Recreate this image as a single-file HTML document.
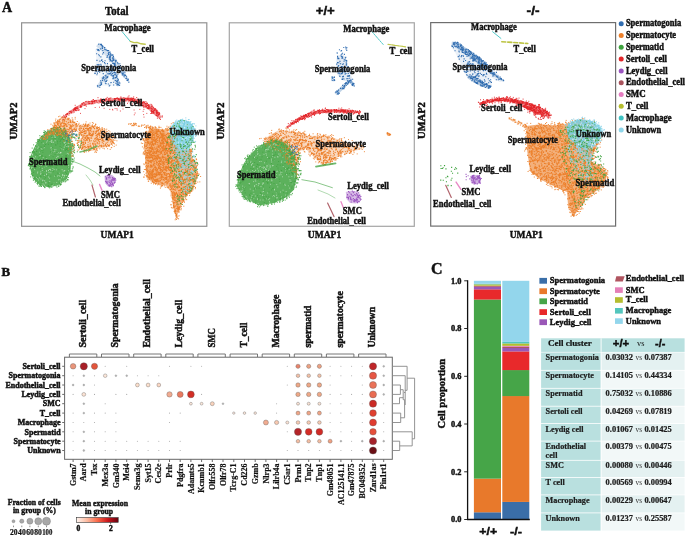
<!DOCTYPE html>
<html><head><meta charset="utf-8"><title>Figure</title>
<style>
html,body{margin:0;padding:0;background:#fff;}
body{width:685px;height:537px;overflow:hidden;}
svg{display:block;}
text{stroke:#111;stroke-width:0.45px;}
text.n{stroke:none;}
text.t{stroke-width:0.2px;}
</style></head><body>
<svg width="685" height="537" viewBox="0 0 685 537" font-family="'Liberation Serif','Times New Roman',serif" font-weight="bold" fill="#111">
<rect width="685" height="537" fill="#fff"/>
<text x="2" y="12" font-size="14">A</text>
<text x="105" y="15.3" font-size="12.3" textLength="23.6" lengthAdjust="spacingAndGlyphs">Total</text>
<text x="315.7" y="14.8" font-size="12.8" textLength="19.1" lengthAdjust="spacingAndGlyphs" font-family="'Liberation Sans',Arial,sans-serif">+/+</text>
<text x="526.6" y="14.8" font-size="12.8" textLength="13" lengthAdjust="spacingAndGlyphs" font-family="'Liberation Sans',Arial,sans-serif">-/-</text>
<text x="16.8" y="139.6" font-size="9.6" textLength="37.2" lengthAdjust="spacingAndGlyphs" transform="rotate(-90 16.8 139.6)">UMAP2</text>
<text x="224" y="139.6" font-size="9.6" textLength="37.2" lengthAdjust="spacingAndGlyphs" transform="rotate(-90 224 139.6)">UMAP2</text>
<text x="425.5" y="138.9" font-size="9.6" textLength="36.7" lengthAdjust="spacingAndGlyphs" transform="rotate(-90 425.5 138.9)">UMAP2</text>
<text x="100.6" y="238.4" font-size="11" textLength="33.2" lengthAdjust="spacingAndGlyphs">UMAP1</text>
<text x="307.8" y="238.2" font-size="11" textLength="33.4" lengthAdjust="spacingAndGlyphs">UMAP1</text>
<text x="509.7" y="237.9" font-size="11" textLength="33.1" lengthAdjust="spacingAndGlyphs">UMAP1</text>
<polygon points="50,131 54,124 60,118 66,117 72,120 77,124 76,130 70,133 62,135 55,135" fill="#ec7f2a" opacity="0.35"/>
<path d="M58.7 119.7h1.1M67.6 118.3h1.1M64.5 123.6h1.1M61.5 131.9h1.1M65.6 124.1h1.1M73.2 122.2h1.1M58.3 131.7h1.1M54.9 127.5h1.1M67.3 123.7h1.1M64.8 118.1h1.1M68.4 124.7h1.1M58.5 127.5h1.1M62.2 122.4h1.1M71.4 129.6h1.1M56.6 127.3h1.1M64.2 132.8h1.1M69.7 122.2h1.1M61.3 130.6h1.1M54.1 125.8h1.1M70.6 127.3h1.1M73.6 122.6h1.1M68.8 127.7h1.1M65.7 125.2h1.1M62.8 129h1.1M51.6 129.6h1.1M72.2 122.1h1.1M60.4 129h1.1M51.6 130.8h1.1M60.6 132.7h1.1M64.8 132.9h1.1M57.5 124.5h1.1M59.7 132.9h1.1M56.3 125.7h1.1M65.9 121.7h1.1M60 127.2h1.1M75.7 129.4h1.1M63.9 128.1h1.1M60.6 124.2h1.1M52.8 128.4h1.1M66.6 119.7h1.1M56.8 123.3h1.1M59.8 119.2h1.1M62.6 125.7h1.1M59.3 121.8h1.1M64.3 119.6h1.1M64.7 117.5h1.1M73.3 129.5h1.1M57.1 123.6h1.1M54.5 130.9h1.1M64.4 131h1.1M58.9 121h1.1M72.1 130.3h1.1M56.1 126.3h1.1M57 129.5h1.1M75.8 125.1h1.1M75.8 123.6h1.1M66.8 133.2h1.1M72.7 125.6h1.1M67.6 131.4h1.1M52.3 128.9h1.1M70.3 125.6h1.1M54.8 131.2h1.1M59 131.4h1.1M76.2 124.1h1.1M60.8 134h1.1M69.6 120.1h1.1M53.9 131.9h1.1M59.5 126.9h1.1M76.2 128.7h1.1M64.2 133.8h1.1M61.7 132.7h1.1M72.3 120.8h1.1M56.8 122.3h1.1M56.5 127.6h1.1M57 124.5h1.1M53.5 133.4h1.1M59.6 125.2h1.1M65.8 133.3h1.1M61.4 133.5h1.1M63.5 126.6h1.1M64.1 117.3h1.1M61.9 120.3h1.1M54.7 125.5h1.1M69.6 127h1.1M58.8 126.3h1.1M65 131.1h1.1M52.9 127.1h1.1M56.7 122h1.1M70.9 126.1h1.1M65.2 130.7h1.1M74.6 125h1.1M66.5 126.1h1.1M63.8 129.5h1.1M62.2 126.6h1.1M62.9 133.9h1.1M68.9 132.8h1.1M65.1 134h1.1M52 129.1h1.1M54.2 129.9h1.1M67.8 119.6h1.1M55.9 134.1h1.1M60.8 125.8h1.1M54.4 124.8h1.1M63.9 123.1h1.1M55.3 122.7h1.1M65 124.9h1.1M66.8 126.2h1.1M51.1 131h1.1M61.4 133.4h1.1M72.1 121.7h1.1M54 133.5h1.1M65.4 129.6h1.1M68.6 124.7h1.1M67.1 131.4h1.1M52.3 132.4h1.1M62.3 123.1h1.1M64.9 133.7h1.1M64.2 121.3h1.1M58.4 122.5h1.1M70.5 122.2h1.1M63.5 120.2h1.1M69.8 126.9h1.1M55.1 125.5h1.1M72.1 124.8h1.1M63.4 132h1.1M60.6 126.1h1.1M59.3 132h1.1M69.1 128.4h1.1M60.9 123.3h1.1M51.9 130.3h1.1M52.3 132.1h1.1M73.5 129.1h1.1M57.6 121.4h1.1M57.9 125.3h1.1M54.3 125h1.1M57.1 134.3h1.1M76.3 126.8h1.1M56.6 134.4h1.1M58.4 123.4h1.1M62.8 126h1.1M55.4 126.1h1.1M58.2 121.2h1.1M65.8 126.5h1.1M70.3 128.8h1.1M69.3 132.8h1.1M60.5 122.9h1.1M69.6 128.6h1.1M74.1 128.3h1.1M69.8 131.6h1.1M53.8 126.4h1.1M63.6 132h1.1M71.7 131.9h1.1M65.8 133.1h1.1M68.4 129.5h1.1M52.8 132h1.1M65.1 128.3h1.1M66.9 129.3h1.1M71.5 130.5h1.1M63.6 126.6h1.1M67.8 118.2h1.1M69.9 121.5h1.1M69.7 120.7h1.1M63.3 123.9h1.1M62.9 129.3h1.1M70.7 128.1h1.1M67.4 118.4h1.1M70.1 122.5h1.1M65.3 117.2h1.1M68.1 129.5h1.1M68.2 122.2h1.1M63.9 125.4h1.1M62.6 119.1h1.1M62.1 121.8h1.1M55.7 134h1.1M55.7 127.5h1.1M53.8 126.4h1.1M72.1 126.2h1.1M73.9 129.7h1.1M56.2 133.2h1.1M62.2 122.4h1.1M58.5 132.1h1.1M75 129.8h1.1M74.3 122.2h1.1M60 124.1h1.1M59.7 124.7h1.1M52.7 132h1.1M57.7 133.8h1.1M56.7 121.8h1.1M63.8 120.4h1.1M60.1 134.2h1.1M67 133.4h1.1M75.4 126.9h1.1M69.8 125.1h1.1M70.3 128.6h1.1M62.7 123.2h1.1M58 130.3h1.1M67.7 122.4h1.1M65 124.1h1.1M55.6 133.3h1.1M63.4 121h1.1" stroke="#ec7f2a" stroke-width="1.1" opacity="1.0" fill="none"/>
<path d="M61.7 116.6h1.0M76.9 125.4h1.0M52.9 133.7h1.0M74.7 119h1.0M79.3 125.9h1.0M53.8 123.8h1.0M55.8 122.1h1.0M59 136.9h1.0M58.7 136.3h1.0M57.1 120.2h1.0M72.3 119.4h1.0M75.6 130.3h1.0M59 135.5h1.0M53.6 122.6h1.0M68.8 118.3h1.0M68.4 115.4h1.0M60.2 136h1.0M63.7 116.8h1.0M64.2 137.1h1.0M80.1 125.6h1.0M67.7 134.4h1.0M53.6 123.4h1.0M59.4 116.2h1.0M50.1 128.6h1.0M52.3 125.3h1.0M50.5 124.2h1.0M47.4 129.5h1.0M71.7 133.2h1.0M59.2 137.7h1.0M71.6 134.2h1.0M51.9 133.4h1.0M58.6 135.7h1.0M66.3 135.9h1.0M61.5 117.6h1.0M54.7 136.5h1.0M53.6 135.9h1.0M76.8 121.5h1.0M58.1 116.7h1.0M49.4 132.7h1.0M74.7 117.4h1.0M59.8 136.2h1.0M51 128.7h1.0M75.8 130.7h1.0M73.4 131.5h1.0M78.9 126.7h1.0M58.4 135.1h1.0M60.9 117.8h1.0M61.4 136h1.0M55.3 119.1h1.0M64.9 135.4h1.0M60.7 138h1.0M57.9 135.4h1.0M57.1 120.8h1.0M55 120.9h1.0M65.9 114h1.0M78.2 124.6h1.0M49.6 129.8h1.0M71.7 117.9h1.0M73.1 131.6h1.0M62.1 137.2h1.0" stroke="#ec7f2a" stroke-width="1.0" opacity="0.9" fill="none"/>
<polygon points="78,125 86,123.5 94,125.5 100,128 106,132 112,137 114,143 108,147 100,148 92,151 84,151 80,146 82,138 79,131" fill="#ec7f2a" opacity="0.33"/>
<path d="M112.7 143.2h1.1M101.4 146h1.1M80.9 132.1h1.1M109 136.9h1.1M80.2 133.6h1.1M98.7 135.6h1.1M106.7 133.5h1.1M101.2 140.8h1.1M93 134.1h1.1M106.2 139.1h1.1M88.5 125.2h1.1M113.1 142.8h1.1M107.9 140h1.1M89.1 135.3h1.1M102.7 140h1.1M87.5 135.1h1.1M99.1 145.9h1.1M108 145.8h1.1M109.2 139.2h1.1M87.9 146.9h1.1M107.1 142.3h1.1M86.4 140.2h1.1M102.4 136.3h1.1M85.4 130.5h1.1M105 145.3h1.1M94.5 125.9h1.1M107 144.7h1.1M86.4 139.4h1.1M96.8 136.6h1.1M99.2 128.7h1.1M84.9 128.5h1.1M103.2 133.5h1.1M98.3 134.6h1.1M96.6 127.6h1.1M91.5 126.4h1.1M100.8 145.2h1.1M83.6 139.9h1.1M90.4 137.8h1.1M95.5 139.1h1.1M87.4 144.9h1.1M93.3 149.5h1.1M105.6 146h1.1M79.4 129h1.1M84.5 125.8h1.1M109.3 136.1h1.1M92.3 126.8h1.1M98.3 141.1h1.1M112.4 141.9h1.1M92.2 135.8h1.1M83.8 150.1h1.1M79.4 130.5h1.1M90.7 148.3h1.1M103.5 141.3h1.1M83.2 144.3h1.1M111.8 142.1h1.1M88.8 139.8h1.1M89.7 130.6h1.1M82.5 136.7h1.1M84.1 130.1h1.1M83.2 142.1h1.1M85 124.5h1.1M94.1 126.2h1.1M100.6 135.9h1.1M90.2 146.1h1.1M95.2 140.8h1.1M83.1 129.6h1.1M97.9 127.5h1.1M92.8 127.8h1.1M87.8 146.6h1.1M90 128.1h1.1M95.7 132.2h1.1M110.2 141.9h1.1M85.6 136.6h1.1M88.3 130.6h1.1M85.3 133.5h1.1M88.4 148.1h1.1M88.6 150.4h1.1M90.3 127.4h1.1M97 128.6h1.1M93.7 148.6h1.1M85.9 139.2h1.1M83 128.5h1.1M105.7 143.1h1.1M85.1 125.7h1.1M95.8 131h1.1M85.4 140.3h1.1M103.5 145.8h1.1M99 129.1h1.1M92.7 143.3h1.1M90.1 146.7h1.1M109.1 137.1h1.1M95.2 147.5h1.1M87.6 128.6h1.1M83.9 133.7h1.1M96.7 135.8h1.1M96.6 126.8h1.1M103.7 146h1.1M103.6 134h1.1M95.8 137.6h1.1M97.1 138.3h1.1M86.1 128.5h1.1M81.7 130.4h1.1M81.5 142.7h1.1M85 124h1.1M99.6 139.4h1.1M96.8 142.8h1.1M81.7 147.4h1.1M82.4 137.1h1.1M96 131.2h1.1M82.4 134.7h1.1M82.9 139.8h1.1M98.6 144h1.1M83.9 146.2h1.1M93.1 146.6h1.1M96.9 134.4h1.1M90.2 130.1h1.1M90.1 135.5h1.1M93.2 140.9h1.1M91.1 138.1h1.1M100.8 145.8h1.1M87.6 142.2h1.1M87.8 138.4h1.1M111.3 140.6h1.1M87 137.8h1.1M93.6 149.6h1.1M88.4 131.9h1.1M96.5 130.9h1.1M94.8 138.2h1.1M83.3 126.9h1.1M82.7 131.6h1.1M92.6 131.4h1.1M86.8 125.9h1.1M97.7 146.6h1.1M100 139.2h1.1M101.4 129h1.1M103.6 136.2h1.1M97.7 140.4h1.1M94.9 132h1.1M86.7 129.6h1.1M96.4 134h1.1M90.7 147.2h1.1M86.6 138.8h1.1M95.7 131.3h1.1M92 135.6h1.1M86.1 149.9h1.1M90.1 133.2h1.1M102.3 140.4h1.1M108.6 146.1h1.1M96.6 143.8h1.1M104.8 144.4h1.1M95.1 145.1h1.1M82.6 147.4h1.1M99.1 137.2h1.1M112.7 139.2h1.1M93 145.1h1.1M109.4 140.2h1.1M91.7 135.9h1.1M94.5 143.4h1.1M88.5 134.2h1.1M98 134.1h1.1M89.6 145.1h1.1M108.6 137.2h1.1M94 128.6h1.1M88.9 127.5h1.1M98.7 139.5h1.1M89.7 146.7h1.1M85.4 135.2h1.1M95.9 148.8h1.1M105.8 138.3h1.1M96.6 142.3h1.1M92 133.3h1.1M99.4 133.2h1.1M112.1 142.1h1.1M91.5 134.5h1.1M98.2 139.3h1.1M95.5 135.6h1.1M90.4 138.1h1.1M89.5 150.4h1.1M107.7 137.6h1.1M82 148.1h1.1M102.8 146.1h1.1M93.2 127.8h1.1M88.4 137.6h1.1M96.2 128.7h1.1M84.6 140.8h1.1M99.7 133.2h1.1M89 146.7h1.1M99.1 141.9h1.1M85.1 137.2h1.1M97.9 130.8h1.1M101.3 138.1h1.1M92.8 126.8h1.1M83.6 144.4h1.1M81.8 126.3h1.1M84.1 137.9h1.1M107.6 140.4h1.1M89.6 143.2h1.1M90.7 128.2h1.1M87.6 126.2h1.1M110.5 139.5h1.1M90.6 135.9h1.1M91.9 125h1.1M110.1 139.5h1.1M100.3 130.4h1.1M88.9 140.1h1.1M92 143.3h1.1M86 132h1.1M109.5 136.8h1.1M84.2 133.4h1.1M84.7 150.2h1.1M88.5 138.9h1.1M82.1 138.2h1.1M91.9 134.6h1.1M80.4 126.9h1.1M86.8 128.8h1.1M88.2 130h1.1M90.3 127.8h1.1M87.7 146.5h1.1M82.6 135.7h1.1M108.1 145.6h1.1M83.7 133.2h1.1M104 133.9h1.1M86.2 135.9h1.1M82.7 142.9h1.1M87.4 148.2h1.1M99.2 133.6h1.1M86.9 140.2h1.1M85.7 147.5h1.1M82.4 137.6h1.1M97.5 130.9h1.1M105.8 134.1h1.1M101.7 139.1h1.1M89.2 134.2h1.1M81.1 128.4h1.1M98.2 133.4h1.1M96 131.7h1.1M80.4 132.1h1.1M86.2 127h1.1M103.8 131.3h1.1M92.5 148.5h1.1M88 124.3h1.1M102.5 141.7h1.1M90.7 134.8h1.1M101.7 142.7h1.1M86.9 146.8h1.1M90.7 140.8h1.1M84.5 126.7h1.1M110.9 143.7h1.1M79.4 128h1.1M85.1 131.8h1.1M89.2 141.1h1.1M84.5 146.6h1.1M98.5 143.2h1.1M87.2 135.5h1.1M102.6 133.1h1.1M86.8 126.6h1.1M110.9 144.1h1.1M81.1 142.6h1.1M92.2 144.1h1.1M93.3 149.1h1.1M102.9 143.8h1.1M107.9 140.8h1.1M103.1 135.3h1.1M96.4 149h1.1M82.6 144.5h1.1M101 138.5h1.1M87 125.1h1.1M90.9 134.8h1.1M85.3 132h1.1M82.9 142.9h1.1M102.1 130h1.1M86.7 137.7h1.1M94 149.2h1.1M90.7 131.7h1.1M98.3 132.7h1.1M107.4 138.6h1.1M102 140h1.1M94.6 144.6h1.1M88.4 133.4h1.1M85.4 125.2h1.1M88.1 128.9h1.1M103.3 135.8h1.1M82.1 132.4h1.1M94.9 133.5h1.1M84.1 125.5h1.1M95.6 135.4h1.1M84.8 138.4h1.1M101.2 140.8h1.1M111.7 141.4h1.1M87.1 130.3h1.1M83 124.3h1.1M105.9 146.6h1.1M88.7 128.6h1.1M101 146.8h1.1M106.2 146.3h1.1M104.7 132.5h1.1M84.6 146.2h1.1M89.5 133.6h1.1M97.8 133.7h1.1M100.6 146h1.1M112 137.1h1.1M96 127.8h1.1M88.8 139.5h1.1M83.9 135.7h1.1M84.9 143.4h1.1M108.8 145.1h1.1M93.3 131.3h1.1M101.8 137.7h1.1M93.2 132.8h1.1M93.8 141.8h1.1M83.9 131.6h1.1M94 139h1.1M90.5 128.9h1.1M81.1 132.4h1.1M100.3 145.8h1.1M99.9 131.7h1.1M95.3 141.3h1.1M88.8 132.9h1.1M84.8 142.2h1.1M94.1 125.8h1.1M101.8 133.7h1.1M98.9 135h1.1M97.1 139h1.1M92.3 126.6h1.1M84.5 148h1.1M87.1 137h1.1M97.9 129.7h1.1M96.5 139.7h1.1M80.9 134.7h1.1M109.1 138.6h1.1" stroke="#ec7f2a" stroke-width="1.1" opacity="1.0" fill="none"/>
<path d="M110.5 133.4h1.0M80 147.1h1.0M103.9 148.8h1.0M115.7 145.1h1.0M103.7 128.5h1.0M78.9 147.9h1.0M82 148.5h1.0M81 149.5h1.0M77.3 131.2h1.0M113.3 140.4h1.0M80.4 143.3h1.0M104 130.3h1.0M112.3 135.6h1.0M114.5 140.2h1.0M95.3 151.4h1.0M116.4 140.8h1.0M105.9 131.2h1.0M109.8 134.5h1.0M75.2 124.3h1.0M88.2 151.6h1.0M101.6 127.5h1.0M107.1 148.7h1.0M92.9 123.2h1.0M95.4 124.3h1.0M106.2 129.2h1.0M85.6 121.9h1.0M104.5 131h1.0M85.7 151.8h1.0M81.6 148.7h1.0M102.5 148.3h1.0M113.7 146.4h1.0M79 148.9h1.0M95.8 152.5h1.0M95.3 150.2h1.0M84 152.3h1.0M78.3 142.5h1.0M95.1 124.8h1.0M79.2 136.1h1.0M112.3 137.3h1.0M94.3 152.2h1.0M91.9 122.6h1.0M111.2 147.4h1.0M114 143.8h1.0M110.8 147.7h1.0M77.9 129.1h1.0M83.9 151.1h1.0M82.3 149h1.0M89.5 123.1h1.0M80.4 140.4h1.0M102.2 129.5h1.0M104.4 129.4h1.0M99.3 148.8h1.0M96.7 150.6h1.0M83 151.8h1.0M108.3 130.7h1.0M114.4 138.3h1.0M101.7 128.7h1.0M78.9 130.4h1.0M106.7 131.6h1.0M109.5 131.9h1.0M96.1 149.7h1.0M80.7 143.3h1.0M99 127.2h1.0M95 124.2h1.0M76.8 126.8h1.0M112 145.1h1.0M78.5 123.3h1.0M109.7 149.4h1.0M113 136.7h1.0M78.6 140.5h1.0" stroke="#ec7f2a" stroke-width="1.0" opacity="0.9" fill="none"/>
<path d="M69.6 139h1.1M76.5 143.3h1.1M78.7 138.6h1.1M67 139.3h1.1M73.2 144.1h1.1M78.8 133.8h1.1M77.7 144.6h1.1M74.5 131.4h1.1M82.4 142.4h1.1M67.1 133.7h1.1M73.1 146.9h1.1M80.8 143.2h1.1M79.3 128.9h1.1M66.9 133.8h1.1M77.5 150.1h1.1M70.7 131.7h1.1M78.8 132.5h1.1M80.5 131.9h1.1M75.2 130.5h1.1M81.3 141.3h1.1M80.8 140.1h1.1M77.2 142.3h1.1M67 141.1h1.1M71.2 137.5h1.1M80.6 139h1.1M68.2 143.6h1.1M69.7 138.3h1.1M75.8 136.5h1.1M81.3 148.4h1.1M67.8 136.8h1.1M71.4 146.3h1.1M68.7 142.6h1.1M83.6 146.5h1.1M68 144.6h1.1M76.8 140.5h1.1M74.2 137.8h1.1M77 143.6h1.1M82.5 145.6h1.1M81.1 145.2h1.1M81.3 138.3h1.1M78.7 134.1h1.1M71.4 136.4h1.1M71.8 130.3h1.1M79.7 148.1h1.1M70.9 134h1.1M79.9 146.6h1.1M82 147.1h1.1M75.6 130.5h1.1M80.9 135.5h1.1M77.3 136.8h1.1M68.9 140.7h1.1M77.7 140.9h1.1M82.4 144.6h1.1M69.8 134.9h1.1M70.7 145.2h1.1M73.9 144.5h1.1M78.4 145.9h1.1M79.6 134h1.1M78.4 133h1.1M77.6 142.2h1.1M77.8 142.3h1.1M78.5 135.3h1.1M66.3 136.7h1.1M68.6 130.7h1.1M78.4 134.6h1.1M79.8 132.3h1.1M67.8 135.3h1.1M73.4 144.5h1.1M74 145.5h1.1M72.2 148h1.1" stroke="#ec7f2a" stroke-width="1.1" opacity="0.85" fill="none"/>
<path d="M78.1 147.4h1.1M65.2 147.2h1.1M73.7 147.2h1.1M65.6 135.3h1.1M69.7 147h1.1M73.4 137.1h1.1M79.1 135h1.1M76.5 135.2h1.1M77.8 137.8h1.1M69.3 144h1.1M64.2 137.7h1.1M77.9 138.6h1.1M69.6 149.6h1.1M66.5 136.5h1.1M66.4 140.8h1.1M69.3 146.8h1.1M71.4 152h1.1M78.7 137.4h1.1M64.3 142.6h1.1M76.2 134.2h1.1M64.4 143h1.1M65.5 137.3h1.1M70.8 134.7h1.1M63.4 140.3h1.1M71.4 153.5h1.1M73.1 133.6h1.1M66.4 149.1h1.1M73.3 152h1.1M72.5 137.5h1.1M66.2 133.9h1.1M71.2 148.8h1.1M63.5 142.4h1.1M68.4 136.7h1.1M75.3 140.3h1.1M71.6 136.1h1.1M71.4 149h1.1M72.7 137.4h1.1M72 145.9h1.1M75 135.3h1.1M76.8 151.7h1.1M69.4 152.8h1.1M65.6 137.2h1.1M74 152.7h1.1M63.6 137h1.1M62.7 142.1h1.1M64.8 136.4h1.1M77 145.4h1.1M80.8 141.2h1.1M71.5 143.8h1.1M81 143.3h1.1M71.1 137.2h1.1M70.1 139.9h1.1M69.5 135.7h1.1M74.2 137.9h1.1M71.1 144.9h1.1M76.2 135.2h1.1M66.8 134.8h1.1M64.7 144h1.1M73.6 152.4h1.1M65.4 145.5h1.1M71 141.4h1.1M79.8 147.2h1.1M79.4 141.7h1.1M72.6 151.5h1.1M78.1 147h1.1M72.3 134.7h1.1M66.9 147.1h1.1M73.7 150.4h1.1M80 145.1h1.1M65.6 147.9h1.1" stroke="#3da23d" stroke-width="1.1" opacity="0.85" fill="none"/>
<path d="M134.4 124.6h1.1M146.7 127h1.1M145.9 127.1h1.1M133.2 125.6h1.1M152.3 128.7h1.1M133.6 124.4h1.1M134.7 123.3h1.1M131.4 125.6h1.1M142.6 125.3h1.1M145.8 125.8h1.1M132.1 125.4h1.1M152.3 127.8h1.1M149.1 127.1h1.1M144 127.5h1.1M150.1 126.7h1.1M133 123.2h1.1M134.9 123.5h1.1M128.1 124.2h1.1M133.8 124.7h1.1M128.5 123.8h1.1M151.6 129.1h1.1M131.7 125.2h1.1M141.2 125.1h1.1M138.5 126.1h1.1M134.5 123.4h1.1M130.1 124.1h1.1M148 127.6h1.1M145.9 128.1h1.1M134.1 124.7h1.1M138.7 126.4h1.1M145.4 126.9h1.1M134.6 124.1h1.1M148.9 127.5h1.1M152.2 128h1.1M135.8 125.1h1.1M150.1 126h1.1M133 123.8h1.1M140.8 126.3h1.1M130.7 123.5h1.1M137.8 126.1h1.1M133.6 125.1h1.1M147.4 125.4h1.1M151.6 126.9h1.1M144.1 124.8h1.1M135.6 123.5h1.1" stroke="#ec7f2a" stroke-width="1.1" opacity="0.9" fill="none"/>
<polygon points="144,142 146,134 150,128.4 156,128 162.7,129.4 167,129 170,134 173,143 180,149 188,150 192,150 191.4,156 195.5,163.2 198.5,175.5 193.4,187.7 185.2,195.9 180.1,208.2 176,218.4 173,206.2 170.9,191.8 165.8,185.7 154.5,183.7 146.4,177.5 145.3,161.1" fill="#ec7f2a" opacity="0.55"/>
<path d="M167.8 135.7h1.1M165.5 136.5h1.1M151.4 137.6h1.1M147.8 142.8h1.1M173 203.3h1.1M153.2 143.7h1.1M185.7 166.5h1.1M162.4 139.1h1.1M150.4 151.5h1.1M193.3 170.7h1.1M159.7 170.1h1.1M183 194.4h1.1M151.1 145.5h1.1M188.3 158.6h1.1M157.5 151.1h1.1M161.5 143.6h1.1M184.6 158.9h1.1M154.2 165.8h1.1M185.6 182.8h1.1M188.6 152h1.1M163.9 161.9h1.1M163.2 162.2h1.1M150 148.5h1.1M193.6 165.1h1.1M178.7 208.2h1.1M185.2 150.1h1.1M151.3 176.7h1.1M184.6 189.2h1.1M191.4 177.5h1.1M168.8 158.7h1.1M162.6 150.5h1.1M149.5 157.6h1.1M156.4 134.4h1.1M154.8 169.8h1.1M178.5 208.9h1.1M184 156.2h1.1M191.6 179.8h1.1M189.2 174.9h1.1M170.4 165.6h1.1M192 188.2h1.1M155.3 160.8h1.1M176.2 167.1h1.1M183.1 166.8h1.1M149 175.3h1.1M163.4 148.1h1.1M160.4 157.7h1.1M173.8 173.2h1.1M174.6 199.9h1.1M174.1 196.7h1.1M191.3 160.7h1.1M196 174.2h1.1M194.8 178.6h1.1M187.8 166.3h1.1M176.8 151.4h1.1M159 166h1.1M172 170.3h1.1M157.9 174.7h1.1M153.6 182.5h1.1M175.9 193.2h1.1M184.8 192.4h1.1M182.7 152.6h1.1M168.1 135.8h1.1M169.1 185.7h1.1M185.8 150.2h1.1M154.8 142.6h1.1M166.4 183.9h1.1M160.5 142.6h1.1M155.9 135.7h1.1M154.5 156.5h1.1M171.5 144.6h1.1M170.1 167.8h1.1M197 172h1.1M195.5 170.6h1.1M154.8 181.5h1.1M151.9 143.3h1.1M163.3 166.4h1.1M165.4 141.8h1.1M191.1 179.8h1.1M183.7 160h1.1M178.3 211.2h1.1M165.9 167.1h1.1M160.3 178.1h1.1M180.1 194.4h1.1M187.1 181.3h1.1M180.9 158.7h1.1M195.5 177.7h1.1M165.9 144.5h1.1M161.6 171.4h1.1M171 160.9h1.1M192.8 159.6h1.1M178.8 171.1h1.1M162.1 163h1.1M177.2 199.1h1.1M158.2 161.5h1.1M165.1 160.8h1.1M193.8 176.7h1.1M159 158h1.1M154.5 133.4h1.1M156.4 133.2h1.1M195.6 177.8h1.1M194.4 167.2h1.1M190.8 162.9h1.1M185.1 182h1.1M147 139.2h1.1M152.8 144.4h1.1M177.2 188.8h1.1M165.3 150.9h1.1M153.5 144.3h1.1M152.3 159.7h1.1M172.9 189.5h1.1M145.8 167.7h1.1M187.1 180h1.1M176.8 158.5h1.1M153.5 162.7h1.1M187.5 165.4h1.1M180.5 179.5h1.1M183.7 165h1.1M194.6 183.6h1.1M161.2 162h1.1M181.5 156.8h1.1M185.3 151.7h1.1M190.7 172.2h1.1M185.5 179.8h1.1M193.4 181h1.1M149.6 153h1.1M159.1 161.5h1.1M175.2 201.1h1.1M185.3 169.2h1.1M191.1 164.3h1.1M195.8 170.7h1.1M173.5 194.9h1.1M164.5 150.5h1.1M170 135.9h1.1M183.7 159h1.1M150.5 144.8h1.1M171.3 158.4h1.1M186 185h1.1M173 205.3h1.1M168.2 136.9h1.1M181.2 195.3h1.1M156.6 169.9h1.1M181.3 178.1h1.1M166.1 143.2h1.1M151.5 170.5h1.1M170.9 152.2h1.1M164 178.1h1.1M185.5 181.3h1.1M175.7 215.4h1.1M165 177.5h1.1M161.1 130.6h1.1M155.1 139.2h1.1M181.4 160.8h1.1M173.6 206h1.1M180.5 160.6h1.1M177 155.1h1.1M155.2 173.9h1.1M180.5 189.9h1.1M181 192.5h1.1M161.1 179.4h1.1M193.2 181.3h1.1M155 144.2h1.1M192 174.6h1.1M184.7 152.4h1.1M152.1 160.9h1.1M178 187.1h1.1M174 160.5h1.1M151.7 142.3h1.1M152.1 181.2h1.1M171.4 179.9h1.1M174.5 165.3h1.1M147.2 166.2h1.1M157.2 136.4h1.1M170 163h1.1M189.5 168.9h1.1M147.8 135.4h1.1M162.1 136h1.1M179.4 166.3h1.1M160.8 174.3h1.1M152.4 155.6h1.1M182.5 166.8h1.1M153 132.1h1.1M171.6 158.3h1.1M183.1 174.2h1.1M167.6 187.8h1.1M165.7 145.9h1.1M156.1 164.2h1.1M181.5 166.9h1.1M152.5 134.4h1.1M171.4 172.2h1.1M188.4 170.8h1.1M151.7 171.7h1.1M182 180.3h1.1M183 200.4h1.1M150.2 157.1h1.1M183.4 159.5h1.1M181.9 161.2h1.1M182.8 153h1.1M150.3 162.4h1.1M146.3 160h1.1M176.1 215.6h1.1M174.8 145.8h1.1M172.3 171.7h1.1M162.4 161.8h1.1M171.8 181.2h1.1M156.1 153.1h1.1M171.4 173.6h1.1M154.1 176.1h1.1M182.4 198.6h1.1M172.2 150.5h1.1M194.4 174.2h1.1M164.4 154.3h1.1M188.6 171.6h1.1M168.6 160.4h1.1M160.7 160.5h1.1M185.1 194.3h1.1M155.3 149.1h1.1M186.7 187.2h1.1M180.9 185.4h1.1M181.8 152.7h1.1M147.3 160.6h1.1M172.6 188.6h1.1M156.5 158.5h1.1M184.2 172.1h1.1M164.1 152.4h1.1M191.3 167.7h1.1M167 156.4h1.1M152.6 153.4h1.1M192.5 166.6h1.1M164.4 138.8h1.1M193.2 167.7h1.1M165.7 181.8h1.1M157.9 129.8h1.1M165.3 162.3h1.1M185.5 158.1h1.1M181 184.5h1.1M154.3 129.8h1.1M180.8 183.2h1.1M160 146.1h1.1M156.7 181h1.1M175.3 157.1h1.1M146 157.4h1.1M179.1 182.4h1.1M155.6 156.1h1.1M166.7 160.8h1.1M190.7 150h1.1M176 162.1h1.1M188.2 152.3h1.1M186.3 171.3h1.1M164.7 148.6h1.1M178.1 198.3h1.1M189.9 177.6h1.1M149.7 151.5h1.1M185 167.8h1.1M169.2 147.2h1.1M149 161.4h1.1M167.6 173.9h1.1M153.2 174.2h1.1M170.9 161.6h1.1M191.8 160.3h1.1M162.3 183.6h1.1M174.7 153.7h1.1M164.1 138.3h1.1M179.8 176.1h1.1M161.9 157.7h1.1M190.1 158.6h1.1M163.7 164.3h1.1M180.2 168.3h1.1M166.1 149h1.1M187.1 169.3h1.1M189.3 161.9h1.1M181.2 189.1h1.1M171.1 170.7h1.1M154.8 143.6h1.1M179.2 190.7h1.1M153.4 174.1h1.1M161.1 177.8h1.1M151.3 171.7h1.1M173.8 183.7h1.1M186.5 179.7h1.1M156.1 168h1.1M189.2 179.2h1.1M185 160.9h1.1M188.8 187h1.1M192.5 167.8h1.1M189.2 190.2h1.1M173 206h1.1M162.5 130.4h1.1M162.3 134h1.1M150.6 142.4h1.1M159.9 153.2h1.1M156.4 136.3h1.1M194.4 177.9h1.1M177.4 205.9h1.1M168.8 145.8h1.1M165.6 148.3h1.1M164.1 174.1h1.1M185.1 195.4h1.1M191.7 160.3h1.1M155.4 159.4h1.1M183.9 187.5h1.1M166.1 175.4h1.1M169.7 173.8h1.1M183.4 159.9h1.1M170.3 162.1h1.1M175.5 147.7h1.1M187.5 151h1.1M189.3 177.9h1.1M176.8 184.6h1.1M186.9 189.3h1.1M188.4 167.5h1.1M154.3 137.1h1.1M166.5 174.1h1.1M152.1 148h1.1M191.2 163.1h1.1M152.1 144.5h1.1M175.5 145.2h1.1M169.9 176.6h1.1M168 173.5h1.1M175.1 176.6h1.1M156.4 179.8h1.1M179.3 161.6h1.1M179.1 190.5h1.1M152.4 177.8h1.1M146.8 150.5h1.1M148.6 150.8h1.1M148.7 172.2h1.1M157.6 155.1h1.1M169.2 161.6h1.1M187 193.3h1.1M150.2 148.2h1.1M155.4 131.3h1.1M185.3 165.2h1.1M194.7 163.5h1.1M161 134.6h1.1M195.7 174.3h1.1M168 167.5h1.1M169.9 144.1h1.1M174.5 169.7h1.1M175.3 150.2h1.1M174.4 206.2h1.1M148.4 161.4h1.1M178.4 204.2h1.1M169.6 139.8h1.1M179 187.4h1.1M168.1 157.4h1.1M176.5 158.4h1.1M160.7 177.3h1.1M183.5 161.3h1.1M153.8 163.7h1.1M171.3 165.5h1.1M150.7 175.3h1.1M164.9 167.4h1.1M189.4 163.5h1.1M185.2 153.2h1.1M150 131.8h1.1M155.1 167.8h1.1M185.6 153h1.1M152.3 174.9h1.1M174.6 165.6h1.1M145.8 168.2h1.1M175.9 192.2h1.1M150 155.3h1.1M164.5 139.4h1.1M152.2 148.1h1.1M148.4 136.2h1.1M154.6 174.8h1.1M166.7 150.8h1.1M166.2 182h1.1M176 193.2h1.1M159.1 172.9h1.1M154.2 167.5h1.1M159.3 180.9h1.1M160.3 152.8h1.1M187.7 172.8h1.1M156.5 138.4h1.1M171.7 173.6h1.1M183.2 161.8h1.1M188.4 183.3h1.1M179.3 201.2h1.1M158.1 183.7h1.1M154.6 169.8h1.1M169.9 186.7h1.1M165.3 166.4h1.1M184.4 186.8h1.1M165.9 179.5h1.1M172.1 145h1.1M169.9 156.2h1.1M152.5 179.3h1.1M155.6 158.4h1.1M149.6 142h1.1M190.2 157.7h1.1M190.3 155.4h1.1M158.6 163.7h1.1M191 161.9h1.1M156.4 150.9h1.1M145.3 137h1.1M182.7 180.6h1.1M171.5 150.3h1.1M182.8 201.2h1.1M181.9 177.7h1.1M173.4 152h1.1M165.8 145.3h1.1M182.6 179.8h1.1M186.5 184.8h1.1M176.7 211.3h1.1M188.3 179.2h1.1M164.2 137.2h1.1M186.4 168.3h1.1M161.3 137.9h1.1M177.8 201.1h1.1M151.4 172.6h1.1M187.2 185.1h1.1M153.5 134.9h1.1M170.2 165.3h1.1M196 165.4h1.1M176 149.5h1.1M160.6 172.4h1.1M171.5 157.2h1.1M155 158.3h1.1M147 166.2h1.1M189.6 191.1h1.1M175.9 180.5h1.1M158.3 184.1h1.1M147.6 177h1.1M164.5 172.5h1.1M166 137.2h1.1M176.7 206.7h1.1M180.2 153h1.1M175.4 162.3h1.1M177.6 158h1.1M174.9 210.6h1.1M174.1 193.7h1.1M170.1 185.3h1.1M173.1 191.7h1.1M164.8 148.5h1.1M182.4 175.8h1.1M177 157.4h1.1M176 214.3h1.1M157.5 174.6h1.1M165 159.3h1.1M174.4 198h1.1M158.8 172.6h1.1M189.8 163.9h1.1M147.5 157.8h1.1M152.5 140.1h1.1M187.7 173.9h1.1M186.1 185.3h1.1M181.3 189.9h1.1M190.3 179.2h1.1M159 150.7h1.1M160.7 136.9h1.1M152.7 137.6h1.1M152.8 134.6h1.1M191.6 165h1.1M162.6 149.9h1.1M187 192.6h1.1M186.7 176.1h1.1M165 154.5h1.1M155.7 157.4h1.1M178.8 171.4h1.1M195.2 168.6h1.1M174.9 206h1.1M158 151.4h1.1M149.6 173.4h1.1M170.2 162.6h1.1M164.5 139.2h1.1M178.7 194.9h1.1M160.8 174.6h1.1M159.7 168.3h1.1M178.9 206.9h1.1M188.7 161.8h1.1M185 170.3h1.1M166.4 145.8h1.1M156.1 161.9h1.1M166.6 180.1h1.1M178.5 161h1.1M149.9 134.2h1.1M172.3 180.7h1.1M166.5 159.7h1.1M166.8 143.5h1.1M195.2 181.4h1.1M173.6 166.5h1.1M157.6 156.5h1.1M170.9 168.3h1.1M155.3 132.9h1.1M152.7 159.3h1.1M168.1 176.6h1.1M181.6 162.4h1.1M160.5 134.1h1.1M174.2 187.2h1.1M156.2 132h1.1M184.2 184.5h1.1M159.2 168.3h1.1M156.7 144.8h1.1M176.5 187.1h1.1M165.4 178.8h1.1M180.6 176.1h1.1M162.2 148.9h1.1M186.7 193h1.1M160.4 149h1.1M182.4 155h1.1M183.4 159.6h1.1M185.5 179.8h1.1M161.2 146.8h1.1M186.7 177.7h1.1M185.2 172.2h1.1M155.9 170.7h1.1M180.3 197.1h1.1M178.7 168.1h1.1M183.9 188.5h1.1M155.2 176.4h1.1M176.6 193.9h1.1M154.8 156.1h1.1M162.7 136.7h1.1M149.3 150.8h1.1M172.1 152.4h1.1M181.9 178.7h1.1M162 157h1.1M154.8 166.9h1.1M189.6 155.9h1.1M158.8 147.2h1.1M150.4 161.2h1.1M150.5 144.2h1.1M157.6 180.3h1.1M168.3 155.6h1.1M172.7 198h1.1M183.5 159.1h1.1M174.6 171h1.1M162 140.1h1.1M192.3 183h1.1M182.2 149.5h1.1M173.2 203.4h1.1M163.1 173h1.1M178.1 166.4h1.1M158.9 138.6h1.1M152.1 175.8h1.1M162.4 164h1.1M154.9 177.3h1.1M184.8 182.3h1.1M183.4 156.7h1.1M181.3 165.1h1.1M194.9 162.8h1.1M187.8 170.6h1.1M188.3 155.2h1.1M190.8 189.2h1.1M183.7 182.8h1.1M167.9 181.8h1.1M188.4 152.9h1.1M158.7 131.7h1.1M180.2 180.7h1.1M151.1 165.4h1.1M166.8 133.2h1.1M181.9 172.6h1.1M170.8 141.1h1.1M166.9 152.1h1.1M157 169.6h1.1M179.3 179.5h1.1M192.5 174.2h1.1M155.7 129.5h1.1M161.9 156.3h1.1M150.8 165.8h1.1M182 194h1.1M185.3 155.3h1.1M174.2 181.8h1.1M150.4 147h1.1M184.6 186.6h1.1M186.5 174.6h1.1M174.6 211.3h1.1M179.3 187.3h1.1M176.1 172.6h1.1M185.2 179.8h1.1M151 166.5h1.1M167 167.1h1.1M174.6 160.7h1.1M165.3 166.6h1.1M183.3 163.7h1.1M168.5 181.5h1.1M164 149.6h1.1M169.4 157.3h1.1M187.4 170.5h1.1M165.1 149.1h1.1M176.4 217.1h1.1M183 169.5h1.1M151.9 133.5h1.1M188.1 188.2h1.1M194.8 183.7h1.1M166.9 150.6h1.1M150.6 148.7h1.1M162.7 179.8h1.1M161.7 167.7h1.1M183.2 157.9h1.1M161.8 182.8h1.1M150 165.1h1.1M178 185.7h1.1M162.7 131.1h1.1M150.8 178.7h1.1M153.3 155.7h1.1M177.7 209.4h1.1M172.1 151h1.1M175.9 152.9h1.1M158.3 167.7h1.1M154.5 139.9h1.1M155.6 158h1.1M166 170.9h1.1M193.2 166.5h1.1M197.3 175.5h1.1M181.2 162.5h1.1M158.8 140.2h1.1M192.3 160.5h1.1M182.1 169.7h1.1M172.7 146.7h1.1M153.7 158.4h1.1M181.1 177.1h1.1M167.6 134.2h1.1M158.2 147.1h1.1M188.8 177.7h1.1M161.8 150.5h1.1M159.9 153.3h1.1M187 191.1h1.1M192.2 187.1h1.1M150.2 132h1.1M153 151.3h1.1M172.8 202.3h1.1M175.9 166.8h1.1M185.1 158.8h1.1M160.2 137.1h1.1M181.2 153.5h1.1M158.8 135.8h1.1M177.4 159.6h1.1M154.2 167.4h1.1M179.8 174.2h1.1M150 143.7h1.1M157.2 174.4h1.1M170 178h1.1M161.3 140.9h1.1M176.8 198.7h1.1M151 154.6h1.1M190.4 190.3h1.1M187.3 164.9h1.1M161.4 140.1h1.1M153 164.4h1.1M150.9 162.8h1.1M174.1 177.9h1.1M148.8 157.8h1.1M173.2 199.2h1.1M157.9 136.8h1.1M191.7 157.1h1.1M166.2 176.7h1.1M181.8 161.6h1.1M162.7 141.9h1.1M189.3 169.6h1.1M188.3 158.7h1.1M161.5 174.4h1.1M185.4 178.2h1.1M163.8 152.7h1.1M160.6 135.7h1.1M172.8 178.1h1.1M173.4 165.1h1.1M178.9 200.9h1.1M152.3 176h1.1M184.7 164h1.1M170.1 153.1h1.1M181.1 155.5h1.1M183.9 172h1.1M187.5 160.9h1.1M168.6 178.9h1.1M187.9 175.8h1.1M152.1 158.5h1.1M150.7 134.9h1.1M175.1 157.1h1.1M158.2 168.5h1.1M189.7 178.5h1.1M168.2 155.9h1.1M176.9 159.4h1.1M148.1 139.2h1.1M162.8 139.4h1.1M156.1 148.1h1.1M145.3 152.7h1.1M147.1 175.7h1.1M174.6 182h1.1M181.6 192.6h1.1M169.7 169.9h1.1M159.6 131.6h1.1M169.4 183.7h1.1M188.5 172.1h1.1M153.6 152.5h1.1M150.1 128.6h1.1M163.3 159.6h1.1M190 158.6h1.1M160.6 143.9h1.1M173.6 194.3h1.1M149.7 161.7h1.1M158.4 178.7h1.1M163.7 180.2h1.1M191.8 151.2h1.1M157.9 161.2h1.1M175.7 149.4h1.1M182.6 187h1.1M163 141h1.1M187.6 169.5h1.1M194.5 176.1h1.1M159 174.9h1.1M180.5 204.2h1.1M166.3 178.5h1.1M173.3 180h1.1M167.9 144.7h1.1M166.4 181.5h1.1M151.2 151.1h1.1M176.6 161h1.1M156.9 181.2h1.1M149.9 148.2h1.1M161.7 156.6h1.1M169.9 142.7h1.1M154 137.2h1.1M178.2 168.9h1.1M184.7 188.6h1.1M164.2 139.6h1.1M177.3 196.5h1.1M169.8 170.7h1.1M181.4 183.1h1.1M167.1 144.8h1.1M169.3 177.7h1.1M174.3 157.7h1.1M184.2 150.4h1.1M167.8 187h1.1M147.6 155.7h1.1M178.4 212.1h1.1M167.5 130.4h1.1M172.7 185.2h1.1M163.5 184h1.1M173.5 151.8h1.1M157.6 157h1.1M192.1 173.3h1.1M146 155h1.1M177.2 201.1h1.1M165.3 175.4h1.1M167 167.6h1.1M180.7 185h1.1M161 152.1h1.1M194.2 176.1h1.1M163 134.1h1.1M166.8 138.1h1.1M150.6 129.2h1.1M189.2 174.7h1.1M150.6 157.4h1.1M187.7 180.5h1.1M156.3 157.3h1.1M147.3 167.3h1.1M171 191.5h1.1M172.3 197.4h1.1M162.3 165.4h1.1M184.6 191.5h1.1M175.2 164.9h1.1M149.3 156.1h1.1M150.7 132.4h1.1M183.1 194.1h1.1M177.7 148.6h1.1M174.8 163.7h1.1M158.7 141.4h1.1M191.1 185.2h1.1M158.4 174h1.1M147.2 155.3h1.1M173.4 171.6h1.1M193.6 180.2h1.1M178.7 180.9h1.1M186.8 161.1h1.1M150.1 148.1h1.1M164.8 146.6h1.1M157.3 157.3h1.1M166.6 160.5h1.1M161.7 129.7h1.1M168.9 146.6h1.1M150.7 173.3h1.1M161.4 183.9h1.1M180.7 184.8h1.1M177.8 162.2h1.1M162.9 146.1h1.1M189.4 162.5h1.1M175.3 188.9h1.1M156.7 162.5h1.1M154 140.3h1.1M178.7 175.4h1.1M155.4 176.3h1.1M153.2 149.9h1.1M152 135h1.1M155.9 181.5h1.1M149.1 179.2h1.1M176.1 175.9h1.1M165.6 166.3h1.1M173.4 203.9h1.1M173.4 192.8h1.1M155.8 179.4h1.1M168 148.9h1.1M182.7 172.2h1.1M168.4 160.3h1.1M173 155.9h1.1M149.7 171.8h1.1M147.8 143.5h1.1M168.2 159.5h1.1M171.3 175.9h1.1M165.2 140.1h1.1M163.2 156.9h1.1M184.5 172.6h1.1M151.2 146.6h1.1M164.1 164.1h1.1M167.9 180h1.1M176.4 202.9h1.1M162.2 131.3h1.1M196.2 176.3h1.1M184.6 161.8h1.1M179 153.6h1.1M194 161.3h1.1M156.1 152.5h1.1M150.3 147h1.1M182.8 199.7h1.1M170 151.3h1.1M152.2 172.9h1.1M146.7 142.8h1.1M191.7 179.9h1.1M170.2 170.4h1.1M149.9 151.8h1.1M171.7 183.1h1.1M157.1 140.4h1.1M171.9 180.7h1.1M169.1 170.5h1.1M173.3 155.9h1.1M147.8 163.1h1.1M168.5 151.2h1.1M151.6 173.8h1.1M168.6 137.5h1.1M168.9 174.8h1.1M156.4 132.3h1.1M148.7 134.9h1.1M175.6 168.3h1.1M149.8 132.7h1.1M155.8 139.7h1.1M177.3 184.4h1.1M158.3 151.9h1.1M174.6 183h1.1M177.5 197.7h1.1M148.3 137.7h1.1M173.8 160.3h1.1M157 179.1h1.1M190.6 161.3h1.1M167.7 180.2h1.1M153.9 180.6h1.1M161.5 170.8h1.1M171.7 156.4h1.1M176.6 202.2h1.1M169.5 184.9h1.1M159.7 151.1h1.1M171.8 176.1h1.1M171.2 160.1h1.1M157.5 134.4h1.1M190.7 189.4h1.1M162.4 167.9h1.1M181.1 180.9h1.1M149.6 147.6h1.1M158 130.8h1.1M178.9 179.8h1.1M194.4 178.1h1.1M194.1 170.4h1.1M172.2 153.4h1.1M163.3 145.9h1.1M178 174h1.1M176.5 187h1.1M191.1 186.3h1.1M162.6 141h1.1M177.7 207.2h1.1M153.9 158h1.1M152.1 169.9h1.1M179.2 209.8h1.1M191.4 177.1h1.1M195 172.5h1.1M170.8 157.5h1.1M180.1 192.2h1.1M169.1 152.9h1.1M156.4 142.3h1.1M170.4 187.5h1.1M147.6 152.5h1.1M186.1 155.6h1.1M148.7 172h1.1M177.8 171.6h1.1M180.2 175.2h1.1M151 156h1.1M190.4 179.4h1.1M171.9 192.2h1.1M170.8 162.7h1.1M163.2 131.6h1.1M190.6 153.6h1.1M187.9 186.9h1.1M177 195h1.1M173.6 196.4h1.1M189.8 151h1.1M166.4 160.7h1.1M181.4 172.3h1.1M173.7 207.5h1.1M147.8 160.3h1.1M181.4 176.3h1.1M171.1 151.4h1.1M159.1 174.5h1.1M149.7 160.5h1.1M148.1 173.3h1.1M163.8 153h1.1M179.2 163.2h1.1M167.2 183h1.1M179.3 187.2h1.1M148 134.9h1.1M193 160.9h1.1M173.8 202.5h1.1M187.9 184.9h1.1M162.4 157.4h1.1M147.2 133.6h1.1M161.9 135h1.1M173 185h1.1M168 169.6h1.1M172.6 171.3h1.1M151.7 141.2h1.1M167.5 133.3h1.1M158.2 166.1h1.1M185.2 167.3h1.1M166.8 164.4h1.1M172.4 153.4h1.1M151.2 177.6h1.1M160.4 167.1h1.1M161.3 176.2h1.1M159.9 169.3h1.1M174.4 193h1.1M179.6 166.8h1.1M148.7 138.1h1.1M152 144.6h1.1M156.8 150.2h1.1M154 141.1h1.1M181.2 180.3h1.1M180.8 166.8h1.1M177.1 187.4h1.1M168 136.3h1.1M191.1 161.7h1.1M164.3 174.4h1.1M157.8 147h1.1M145.3 139.7h1.1M177.6 184h1.1M167.8 166.4h1.1M151.9 177.5h1.1M159 139h1.1M191.4 180h1.1M175.4 153h1.1M179.3 178.2h1.1M161.7 135.2h1.1M170.5 175.3h1.1M154.1 155.6h1.1M171.1 138.2h1.1M165.3 178.4h1.1M166.9 173.7h1.1M175.6 159.4h1.1M159.5 144.9h1.1M164.6 182.5h1.1M174.1 146.1h1.1M152.9 179.1h1.1M180 175.2h1.1M169.9 147.6h1.1M166.1 134.8h1.1M175.7 147.8h1.1M181.6 183.8h1.1M176.7 151.6h1.1M188.8 189.4h1.1M168.8 163.7h1.1M187.4 187.2h1.1M173.4 207h1.1M169.3 136.8h1.1M180.9 165.1h1.1M176.5 178h1.1M195.7 173.9h1.1M173.4 169.8h1.1M173.6 160h1.1M149.3 136.3h1.1M173.4 207.6h1.1M154.2 158.3h1.1M172 193.7h1.1M168.5 155.3h1.1M191.2 163.4h1.1M166.9 148.2h1.1M155.3 133.8h1.1M155.2 141.8h1.1M190.4 174.8h1.1M146.3 152.6h1.1M171.9 143.8h1.1M168.2 149.1h1.1M172.3 186.6h1.1M148.8 177.6h1.1M177.6 210.2h1.1M166.7 153.6h1.1M174.5 195.3h1.1M185.7 153.1h1.1M177.7 161.9h1.1M169.8 176h1.1M163.5 135.6h1.1M169.7 159.3h1.1M184.3 172.6h1.1M192.8 179.1h1.1M172.7 143.4h1.1M161.5 147.9h1.1M154.7 183.5h1.1M175.2 202.8h1.1M171.7 185.1h1.1M173.7 192.6h1.1M161.9 171.1h1.1M148 174.1h1.1M158.1 181.3h1.1M158.1 146.6h1.1M184.1 152.3h1.1M150.1 174.9h1.1M171 188.6h1.1M181.4 170.1h1.1M175.2 194.4h1.1M180.5 164.2h1.1M171.2 173.9h1.1M155.8 151.6h1.1M182 190.2h1.1M171.8 179.8h1.1M155.2 170.3h1.1M148.2 151.1h1.1M191.3 151.2h1.1M173.7 189.6h1.1M150 128.4h1.1M158.4 137.6h1.1M188.9 150.6h1.1M161.3 175.6h1.1M186.9 180.5h1.1M181.6 158.7h1.1M151 157.4h1.1M184.3 178.9h1.1M151.3 149.8h1.1M146.4 168.7h1.1M187.3 156.5h1.1M177.6 163h1.1M167 156.5h1.1M179.5 207.8h1.1M170.1 152.3h1.1M177.1 163.9h1.1M168.8 176.6h1.1M176.1 208.5h1.1M159.4 152.8h1.1M154.1 138.2h1.1M150.9 160.6h1.1M160.6 134h1.1M157.6 173.4h1.1M144.8 150.9h1.1M169.8 189.6h1.1M152.4 139.1h1.1M162 136.2h1.1M150.7 137.3h1.1M190 186.8h1.1M148.4 132.2h1.1M146.6 136.5h1.1M180.3 188.8h1.1M156.6 171.1h1.1M178.4 190.5h1.1M172.1 181.4h1.1M173.1 153.1h1.1M172.1 147.3h1.1M155.4 173.9h1.1M175.8 180.4h1.1M169.1 174h1.1M172.1 198.9h1.1M158.1 156.3h1.1M163.3 172.4h1.1M184 161.6h1.1M161.4 141.1h1.1M187.9 165.6h1.1M163.1 169.9h1.1M153.6 161.4h1.1M144.4 146.1h1.1M162.5 144h1.1M170 139.9h1.1M179.6 165.2h1.1M161.9 130.2h1.1M179.6 177.6h1.1M146.8 153.6h1.1M151.9 181.5h1.1M157.1 131.6h1.1M154.3 143.7h1.1M152.7 140.7h1.1M173.7 200.2h1.1M162.3 131.8h1.1M154.8 153.2h1.1M169.4 151.2h1.1M185.7 193h1.1M163.7 174.9h1.1M179.4 174.6h1.1M185.9 172.3h1.1M166.6 158.3h1.1M165.5 148h1.1M192.3 169.3h1.1M172.1 195.3h1.1M186.6 163h1.1M177.2 187h1.1M162.9 138.2h1.1M175.1 164.6h1.1M192.5 188h1.1M185.2 179.5h1.1M183.6 188.3h1.1M157.9 172h1.1M185.9 185.9h1.1M178.1 176.3h1.1M148 165.9h1.1M180.4 206.4h1.1M148.2 174.1h1.1M162.7 146.9h1.1M151.9 147.8h1.1M195.1 178.5h1.1M195.9 166.6h1.1M166.8 130.1h1.1M150.2 155.1h1.1M172.7 175.5h1.1M145.7 138h1.1M180.9 164.6h1.1M149 171.3h1.1M146.6 144.3h1.1M148.1 177.8h1.1M150.1 176.8h1.1M182.5 182.6h1.1M158 167.5h1.1M172.7 162.2h1.1M165.8 173.7h1.1M184.1 162.5h1.1M154.5 143.8h1.1M179.3 198.2h1.1M152.1 135.5h1.1M172.5 182.8h1.1M168 165.8h1.1M169.5 139.3h1.1M148.1 153.3h1.1M174.7 209.2h1.1M168.4 150h1.1M174.7 156.2h1.1M178.7 158.7h1.1M166.9 177h1.1M196.1 175.6h1.1M174.7 145.9h1.1M187 171.9h1.1M178 190.8h1.1M169 133.6h1.1M164.7 140.2h1.1M167.7 133.4h1.1M177.1 148.6h1.1M183 180.6h1.1M170.5 166.1h1.1M172.5 158.3h1.1M187.3 172.5h1.1M150.4 148.3h1.1M194.7 164.7h1.1M171 137.5h1.1M185 174.9h1.1M146.3 145.4h1.1M151.6 152.1h1.1M187.1 158.4h1.1M157 156h1.1M146.8 171.7h1.1M155.9 139h1.1M159.6 134h1.1M157.9 145.3h1.1M178.2 181.8h1.1M172.2 198h1.1M172.9 156.4h1.1M146.7 171.9h1.1M175.6 181.8h1.1M162.4 137.4h1.1M177.1 195.4h1.1M176.5 148.1h1.1M168.6 139.3h1.1M174.5 152h1.1M177.7 195.6h1.1M188.5 167.5h1.1M168.6 167.1h1.1M186.3 157.8h1.1M193.7 167.3h1.1M158.9 162.1h1.1M172.8 175.7h1.1M160 133.4h1.1M178.4 192.9h1.1M181.9 163.8h1.1M151 129.7h1.1M174.2 175.3h1.1M156.4 175.5h1.1M171.7 176.7h1.1M189.8 186h1.1M188.8 156.9h1.1M165.3 175.3h1.1M173.4 179.4h1.1M183.1 158.9h1.1M177 194.5h1.1M193.2 161.4h1.1M172.7 171.7h1.1M189.7 152.4h1.1M159.6 163.5h1.1M197.3 173.5h1.1M183.8 165.3h1.1M145.5 162.9h1.1M157.4 158.5h1.1M170.4 152.5h1.1M174.8 190.2h1.1M172.2 195.8h1.1M179.8 171.7h1.1M168.3 169.1h1.1M171.1 161.7h1.1M159.4 154.5h1.1M175.5 161.7h1.1M151 148.3h1.1M153.3 168.2h1.1M145.4 138.1h1.1M160.9 140.1h1.1M167.5 160.9h1.1M177.3 207.9h1.1M182 196.9h1.1M187.3 157.1h1.1M163.9 157.7h1.1M163.9 148h1.1M168.1 156.1h1.1M165.8 166.2h1.1M185.2 191.7h1.1M196 176.1h1.1M172.7 160.1h1.1M186.7 188.8h1.1M180.7 172.1h1.1M185.5 171.2h1.1M174.6 200.7h1.1M170.9 171h1.1M184.1 158.3h1.1M186.3 162h1.1M180.7 162.1h1.1M186.4 162.5h1.1M163.1 167.2h1.1M183.4 193h1.1M185 166.1h1.1M155.9 173.1h1.1M172 160.9h1.1M170.7 169.4h1.1M164.8 182h1.1M174.7 194.9h1.1M170.9 186.2h1.1M172.6 186.4h1.1M189.3 160.8h1.1M166.9 161.1h1.1M162.6 165.2h1.1M174.5 186.1h1.1M191.6 162.5h1.1M171.2 147.8h1.1M179 168.4h1.1M173.5 157.4h1.1M184.8 162h1.1M174.1 180.4h1.1M181.4 177.6h1.1M192.8 181.9h1.1M166.5 179.9h1.1M190 156.1h1.1M157.7 131.4h1.1M149.8 152.2h1.1M153.4 154.1h1.1M152.2 132h1.1M175.6 193.4h1.1M151.3 132.3h1.1M152.7 165h1.1M147 135.9h1.1M178.7 180.8h1.1M171.8 187.3h1.1M171.1 164h1.1M189.6 155.2h1.1M167.6 164.3h1.1M155.4 160.1h1.1M170 153.7h1.1M175.5 197.9h1.1M150.3 172h1.1M156.6 155.4h1.1M165.5 169.3h1.1M155 169.6h1.1M165.5 145.7h1.1M190.1 155.2h1.1M181.6 174.5h1.1M187.6 193.2h1.1M184.6 151.8h1.1M157.7 182h1.1M183.3 172.6h1.1M163.7 135h1.1M174.2 197.9h1.1M150.4 137h1.1M181.4 170.5h1.1M187.1 165.2h1.1M161.5 176.5h1.1M176 168.7h1.1M188.6 191.8h1.1M188.6 150.9h1.1M171.5 177.1h1.1M188.3 168.5h1.1M174.3 194.9h1.1M184.3 184.3h1.1M162.2 142.8h1.1M145.5 140.3h1.1M153.5 176.8h1.1M168.8 170h1.1M157.8 136.3h1.1M147.1 141.6h1.1M165.8 143.1h1.1M169.3 142.8h1.1M161.6 134.5h1.1M179.4 196.4h1.1M190.3 167.5h1.1M164.7 151.1h1.1M145.7 146.5h1.1M160.8 159.9h1.1M167.6 137.5h1.1M163.9 154.3h1.1M195.7 166h1.1M176.4 153.7h1.1M189.5 166.8h1.1M183.7 187.2h1.1M149.2 134.1h1.1M190.2 165.5h1.1M167.3 144.5h1.1M167.2 182.9h1.1M161.7 130.1h1.1M180.2 190.1h1.1M179.3 200.6h1.1M188.3 184.5h1.1M149.1 143.2h1.1M179 155.7h1.1M170.5 173.5h1.1M175 213.5h1.1M162.9 163h1.1M184.7 168.4h1.1M194.5 182.9h1.1M146.5 138.6h1.1M185.1 190.1h1.1M148.6 161.7h1.1M182.4 161.1h1.1M153.1 169.2h1.1M151.7 170.9h1.1M178.2 177.6h1.1M177.7 150h1.1M146.9 171.2h1.1M172 166.9h1.1M189.9 169.1h1.1M159.9 168.8h1.1M146.9 135.3h1.1M154.7 156.7h1.1M148.2 156.7h1.1M172.4 196h1.1M146.4 140.1h1.1M166.2 178.2h1.1M162.3 161.3h1.1M153.5 159.5h1.1M169.1 175.8h1.1M176.6 156.7h1.1M185.2 192.6h1.1M166.7 141.7h1.1M185.7 191.4h1.1M174.7 195.4h1.1M181.6 200.9h1.1M175.7 215.9h1.1M164.2 169.4h1.1M176 200.8h1.1M155.8 175.1h1.1M151.9 143.4h1.1M159.8 132.3h1.1M175.1 184.1h1.1M173.7 189.8h1.1M148.7 157.8h1.1M145.2 142.5h1.1M176.5 162.1h1.1M180.7 206.8h1.1M159.1 157.7h1.1M180.5 181.6h1.1M166.2 162.5h1.1M166.1 148.3h1.1M158 164.5h1.1M159.5 160.1h1.1M171.5 149.4h1.1M163 179.6h1.1M156.6 163h1.1M174.5 160.9h1.1M149.2 178.1h1.1M173.7 165h1.1M178.1 207.9h1.1M161.4 133.4h1.1M176.6 196.2h1.1M165.2 157.3h1.1M181.6 179.3h1.1M193.4 170.2h1.1M178.9 157.8h1.1M181.8 154.9h1.1M154.2 152.3h1.1M183.4 192.4h1.1M193.7 165.4h1.1M170.7 168.2h1.1M145.7 148.5h1.1M184.8 169.6h1.1M175.6 152.5h1.1M164.8 170.1h1.1M159.8 143.5h1.1M180.4 184.6h1.1M149.8 148.2h1.1M159.3 160.9h1.1M178 151.3h1.1M163.4 168.2h1.1M167.7 163.3h1.1M179.3 190h1.1M150.1 165.7h1.1M190.7 151.7h1.1M172.9 159.3h1.1M174.1 163.3h1.1M162.2 170.2h1.1M153.6 177h1.1M174.9 158.8h1.1M181.8 202.5h1.1M174.9 183.9h1.1M178.9 186.6h1.1M172.7 157h1.1M181 203.9h1.1M181.9 162.8h1.1M180.6 167.3h1.1M176.4 170.1h1.1M165.8 150.7h1.1M177.1 160h1.1M177.1 209.1h1.1M166.4 138.4h1.1M169.5 167.9h1.1M145.6 137.3h1.1M146.6 157.1h1.1M169.8 179.8h1.1M149.1 154.7h1.1M149.6 154.2h1.1M155.6 130.7h1.1M188 152.9h1.1M176 204.9h1.1M178.5 182.6h1.1M173.1 159.8h1.1M171 170.6h1.1M189.5 187.1h1.1M171.5 189.8h1.1M173.1 157.9h1.1M153.1 182.4h1.1M172.6 193.3h1.1M182.1 165h1.1M195.6 167.6h1.1M151.9 139.2h1.1M176.2 149.8h1.1M168 146.1h1.1M183.5 194.7h1.1M188.6 187.2h1.1M189.1 173.9h1.1M159.8 133.5h1.1M182.3 188.2h1.1M178.5 174.3h1.1M164.5 140.6h1.1M167.8 142.1h1.1M170.9 172.3h1.1M155.6 153.7h1.1M183.5 152.8h1.1M166.3 170.5h1.1M152.7 130.3h1.1M158.2 164.3h1.1M147.6 163.6h1.1M184.9 156.6h1.1M154.1 176.7h1.1M192.8 186.4h1.1M150 167h1.1M166.8 168.1h1.1M160.7 176.8h1.1M179.3 158.3h1.1M178.3 166.1h1.1M189.3 178.3h1.1M183.6 179.8h1.1M182 163.3h1.1M152.1 160.9h1.1M161.7 129.3h1.1M185.9 175.4h1.1M147.6 139.4h1.1M191.4 173.9h1.1M166.2 159.1h1.1M172 195.1h1.1M170.9 180.5h1.1M174.8 212h1.1M159.4 181.8h1.1M189.8 175.3h1.1M157.3 155.8h1.1M174.2 195h1.1M153.7 134.3h1.1M183.6 161.2h1.1M177.2 186.5h1.1M183.9 183.6h1.1M185.4 189.5h1.1M193.6 167.2h1.1M162.8 145.3h1.1M157.3 172.3h1.1M151.9 149.4h1.1M177.4 164.9h1.1M182.7 151.4h1.1M170.1 147.3h1.1M164 154.7h1.1M146.9 139.8h1.1M179.5 177.3h1.1M156 183h1.1M166.7 140.6h1.1M167.8 169h1.1M155.2 140.6h1.1M181.9 161.5h1.1M174.7 161.3h1.1M158.5 142.7h1.1M185.5 167.1h1.1M152.4 148.7h1.1M152.6 178.6h1.1M189.3 166.1h1.1M167.8 136.5h1.1M151.7 166.2h1.1M189.4 156.1h1.1M157.3 129.9h1.1M173.1 177.7h1.1M155.5 151.4h1.1M166.9 139.8h1.1M175.1 154.7h1.1M174.5 152.5h1.1M175.9 148h1.1M169.4 180.5h1.1M160.6 182.7h1.1M150.5 165.4h1.1M152.1 177.4h1.1M176.3 184.5h1.1M192.3 183h1.1M176.2 202.8h1.1M174 167.3h1.1M152.7 171.4h1.1M182.9 199.8h1.1M192.7 174.8h1.1M173.5 197.9h1.1M156.7 130.3h1.1M190.4 179.2h1.1M151.4 175.1h1.1M152.1 181.7h1.1M180.9 182.4h1.1M146.5 176.6h1.1M163.2 163.8h1.1M174.9 153.7h1.1M160.4 145.4h1.1M182.2 190.7h1.1M163.9 138.6h1.1M176.5 158.5h1.1M174 187.3h1.1M148.8 148.2h1.1M175.3 211h1.1M167.6 168.5h1.1M153.1 152.8h1.1M191.7 151.6h1.1M175.1 155.3h1.1M195 167.8h1.1M188.7 189.3h1.1M159.6 137.7h1.1M154 151.8h1.1M154.5 179.6h1.1M161.1 147.5h1.1M191.8 161.3h1.1M169.6 183.9h1.1M173.4 147.5h1.1M173.6 165.4h1.1M156.3 168.8h1.1M149.2 174.9h1.1M176.7 203.9h1.1M161.8 182.9h1.1M174.8 158.6h1.1M179.4 194h1.1M181.1 189h1.1M163.2 149h1.1M149.4 178h1.1M153.3 153.5h1.1M160.2 161.6h1.1M172.7 177.6h1.1M165.8 177.5h1.1M188.4 175.2h1.1M171.9 159.7h1.1M154.1 147.3h1.1M148.9 153.7h1.1M146.2 165.6h1.1M185.2 168.8h1.1M178 166.9h1.1M187.3 189.4h1.1M150.6 177.6h1.1M164.2 148.3h1.1M150.5 150.7h1.1M166.4 167.1h1.1M181.1 198.7h1.1M148.6 147.5h1.1M177.8 208.8h1.1M149.4 152.2h1.1M192.5 181.1h1.1M165.8 134.5h1.1M147.1 147.6h1.1M166.5 183.1h1.1M184.1 189.3h1.1M167.7 158.6h1.1M178.1 169.6h1.1M194.6 175.8h1.1" stroke="#ec7f2a" stroke-width="1.1" opacity="1.0" fill="none"/>
<path d="M155.6 127.8h1.0M184.2 199.9h1.0M195.5 162.3h1.0M181.2 147.8h1.0M150.8 183.2h1.0M190.7 190.7h1.0M145.5 173.2h1.0M145.4 131.8h1.0M145.2 163.1h1.0M171.6 197.7h1.0M190.8 149.2h1.0M157.2 184.9h1.0M171.3 134.6h1.0M191.2 191.5h1.0M176 219.4h1.0M174.5 142.9h1.0M142.6 153.9h1.0M147.8 181.2h1.0M143.7 147.5h1.0M173.2 142.4h1.0M140.9 143.1h1.0M161 185.7h1.0M165 128.8h1.0M145.4 134.9h1.0M152 182h1.0M144.1 145.7h1.0M195.7 158.8h1.0M161.8 185.5h1.0M188.4 193.4h1.0M164.8 187.3h1.0M192.7 156.6h1.0M181.4 147.6h1.0M143.2 132.9h1.0M177.4 216.2h1.0M184.2 146h1.0M196.1 159.7h1.0M197.3 182.1h1.0M144.1 144.3h1.0M183.9 202.1h1.0M192.4 189.2h1.0M171.7 208.1h1.0M160.4 127.4h1.0M195.6 183.3h1.0M191.2 190.8h1.0M183.8 202h1.0M175.4 218.6h1.0M172.1 138.2h1.0M173.9 210.8h1.0M186.8 195h1.0M144.3 134h1.0M178.6 215.8h1.0M191.2 190.2h1.0M185 198.2h1.0M148.9 129.8h1.0M149.4 128.7h1.0M148.7 179.4h1.0M174.1 211.9h1.0M180.5 209.8h1.0M166.7 187.4h1.0M142.4 139.9h1.0M143.2 171.7h1.0M170.9 207.4h1.0M192.3 190h1.0M170.5 195.8h1.0M143 139.9h1.0M145.6 175.6h1.0M169.5 129.5h1.0M143.5 153.6h1.0M143.4 148.8h1.0M172.7 141.4h1.0M143.7 164.6h1.0M143.6 153.1h1.0M170.6 194h1.0M163.8 185.9h1.0M177.3 218.6h1.0M159.9 188.1h1.0M155.2 127.5h1.0M176.4 217.5h1.0M188.2 146.6h1.0M143.6 140.3h1.0M158.8 127.6h1.0M148.1 181.2h1.0M175.9 145h1.0M189.7 193.1h1.0M145.8 131.8h1.0M172.2 134.9h1.0M170.5 204.7h1.0M190.6 191.6h1.0M173.7 211.5h1.0M151.7 127.4h1.0M170.4 132.6h1.0M173.8 143.2h1.0M178.1 218.8h1.0M143.2 138.6h1.0M143.5 177.1h1.0M176.9 145.9h1.0M185.6 199.3h1.0M170.5 204.8h1.0M171.2 133.4h1.0M188.7 149.5h1.0M145.2 169.5h1.0M145.2 166.3h1.0M200.1 176.5h1.0M144.4 133.4h1.0M143.3 177.1h1.0M194.1 186.6h1.0M158.4 127.6h1.0M174.6 213h1.0M146.3 131.3h1.0M144.1 154.1h1.0M143.7 154.6h1.0M183.3 206.2h1.0M148.8 128.3h1.0M148.4 126.8h1.0M143.3 138.7h1.0M145.3 162.7h1.0M195.8 159.4h1.0M185.8 195.4h1.0M186.2 195.7h1.0M172.7 207.4h1.0M173.2 134.4h1.0M143 139.6h1.0M174.7 219.8h1.0M143.8 141.1h1.0M170.5 192h1.0M145.6 135.4h1.0M187 194.8h1.0M153.3 127.4h1.0M170.2 134.4h1.0M196.9 165.7h1.0M171.2 135h1.0M199.3 181.9h1.0M145.2 162.1h1.0M150 127.1h1.0M161.3 186.3h1.0M146 175.8h1.0M180.8 208.7h1.0M160.5 186.8h1.0M146.9 179.1h1.0M189.6 192.5h1.0M143.4 163.8h1.0M180.1 145.5h1.0M181.5 147.3h1.0M145.2 132.8h1.0M198.7 174.2h1.0M143.9 169.5h1.0M171.4 133.2h1.0M148.4 179.2h1.0M190.1 149.4h1.0M165.6 129h1.0M154.7 126.6h1.0M188.7 193.3h1.0M176.7 146h1.0M145.8 170.5h1.0M145.4 169.5h1.0M194.8 188.7h1.0M172.4 139.5h1.0M144.1 174.8h1.0M196 162.4h1.0M159.7 185h1.0M176.1 145.5h1.0M143.6 151.7h1.0M195 187.5h1.0M154.7 127.8h1.0M178.6 146.2h1.0M142.2 143.5h1.0M197.5 164.2h1.0M158.5 126.3h1.0M143.8 146h1.0M177.2 146.1h1.0M144.7 153.8h1.0M186.2 199.7h1.0M141.9 146.9h1.0M189.1 195.4h1.0M155.2 184.4h1.0M142.9 152.4h1.0M171.5 201.4h1.0M185.6 196.7h1.0M161.9 185.6h1.0M153 183.9h1.0" stroke="#ec7f2a" stroke-width="1.0" opacity="0.9" fill="none"/>
<polygon points="144,145 150,130 165,130 170,150 166,180 150,182 146,170" fill="#ec7f2a" opacity="0.15"/>
<path d="M150 134.7h1.1M161.9 138.2h1.1M151.1 174.6h1.1M157.6 154.3h1.1M152.5 156.9h1.1M164.2 148.7h1.1M147.6 139.6h1.1M162.2 154.9h1.1M162.6 150.3h1.1M151.3 167.3h1.1M152.3 141.5h1.1M155.7 152.1h1.1M154.4 148.9h1.1M147.3 137.7h1.1M148.8 133.7h1.1M158.3 163.6h1.1M166.1 143.6h1.1M164.9 168.9h1.1M149.2 175.3h1.1M163.4 133.3h1.1M150.3 138.4h1.1M160.3 152.3h1.1M151.4 144.2h1.1M157 151.1h1.1M164.7 140h1.1M166.5 160.6h1.1M154.2 180.3h1.1M153.1 170.1h1.1M169.6 153h1.1M164.1 173.4h1.1M151.7 153.6h1.1M151.9 170.2h1.1M147 150.5h1.1M158.9 146h1.1M160 164.4h1.1M145.2 158.3h1.1M157 149.6h1.1M161.8 137h1.1M157.4 152h1.1M149.1 177.3h1.1M150.5 131.3h1.1M162.1 176.9h1.1M153.1 145.5h1.1M165 158.8h1.1M159.4 167h1.1M157.6 172.6h1.1M158.5 168.4h1.1M167.5 155.3h1.1M162 157.6h1.1M151.3 138.7h1.1M149 144.9h1.1M150.4 161.5h1.1M162.4 143.3h1.1M165.5 153.5h1.1M156.9 149h1.1M155.9 131.7h1.1M151.5 148.2h1.1M154.4 163.7h1.1M151.8 136.6h1.1M149.7 169.9h1.1M158 164.5h1.1M163 159.8h1.1M161.7 140.1h1.1M148.8 152.7h1.1M165.9 141.6h1.1M164.2 173h1.1M163.1 135.6h1.1M147.3 172h1.1M149.7 131.2h1.1M159.2 166.2h1.1M165.4 167.1h1.1M159.5 148.7h1.1M168.1 143.9h1.1M155.8 135.8h1.1M159 165.7h1.1M157.4 149.5h1.1M160.1 174.8h1.1M161.2 169.6h1.1M151.3 178.9h1.1M159.2 158.5h1.1M154 173.9h1.1M160.4 158.8h1.1M159.9 170.9h1.1M155.3 168.2h1.1M165.1 147.8h1.1M152 157.6h1.1M156.5 150.9h1.1M151.8 130.6h1.1M168.2 148.2h1.1M167.8 162.6h1.1M146.9 139.3h1.1M153.7 140.2h1.1M146.7 169.8h1.1M156.8 137.9h1.1M157.4 165.4h1.1M165.7 152.6h1.1M149.5 132h1.1M159.3 157.4h1.1M145.4 157.6h1.1M162.1 142.2h1.1M151.2 139.8h1.1M166 159.9h1.1M151.1 148.7h1.1M150.6 131.2h1.1M165.6 170h1.1M152.2 147.9h1.1M168.2 143.7h1.1M162.3 177.6h1.1M151.9 170.8h1.1M152.2 180.9h1.1M147.8 139.1h1.1M162.1 147.9h1.1M155.9 174.6h1.1M148.1 141.7h1.1M160 142.2h1.1M155.8 141.4h1.1M160.5 164h1.1M168.4 145.6h1.1M164.5 146h1.1M162.4 151.3h1.1M153 139.6h1.1M162.4 177.7h1.1M152.7 134.3h1.1M159.5 173.5h1.1M160.9 151.4h1.1M156.7 142.6h1.1M154.2 179.9h1.1M167.9 161.9h1.1M162.4 146.8h1.1M160.7 176.9h1.1M144.6 151h1.1M163.2 142.5h1.1M147.6 170.6h1.1M149.5 167h1.1M153.1 165.8h1.1M145.8 156h1.1M154 137.6h1.1M155 180.5h1.1M152.9 171.8h1.1M165.2 160.3h1.1M160 180.4h1.1M155.6 172h1.1M156.6 146.9h1.1M148.6 176.2h1.1M163 177.2h1.1M168.1 149.1h1.1M148.5 149.7h1.1M155.2 180.8h1.1M146.8 153.8h1.1M159.7 149.2h1.1M162.5 143.7h1.1M158 146.9h1.1M164.4 135.4h1.1M151.9 155.6h1.1M166.3 160.5h1.1M156 162.6h1.1M168.2 149.5h1.1M148.9 158h1.1M147.5 142.7h1.1M161.1 153.4h1.1M160.5 159.1h1.1M156.4 180.4h1.1M160.8 164.2h1.1M156.8 159.6h1.1M152.4 160.7h1.1M159.2 178h1.1M156 151.2h1.1M158.3 130.1h1.1M163.7 143.5h1.1M160 137.8h1.1M158 157.3h1.1M161.6 136.3h1.1M168.1 160.6h1.1M162.9 172.5h1.1M152.5 176.4h1.1M162.2 135.8h1.1M159.8 145.5h1.1M164.8 135.5h1.1M162.8 150.8h1.1M148.1 143.2h1.1M164.8 179.2h1.1M166.9 162.6h1.1M154.1 132h1.1M162.6 157.9h1.1M149.6 157.8h1.1M166 168.1h1.1M156.6 179.7h1.1M167.5 163.3h1.1M146.9 155.7h1.1M158.4 158h1.1M151.5 141.5h1.1M151.9 142.8h1.1M154.2 158.9h1.1M161.1 175.1h1.1M164.8 141.4h1.1M159.9 172.9h1.1M147.2 158.2h1.1M168.2 151.3h1.1M160.6 169.9h1.1M153.5 135.6h1.1" stroke="#ec7f2a" stroke-width="1.1" opacity="1.0" fill="none"/>
<polygon points="171,127 175,121.5 182,119.5 189,121 193.5,126 194.5,134 193,142 189,148 182,150 176,148 172,142 170.5,134" fill="#7ccfe4" opacity="0.78"/>
<path d="M192.8 134.2h1.1M183.8 123.8h1.1M183.4 132.9h1.1M186.2 122.3h1.1M177.4 136h1.1M189 139.7h1.1M180 138.9h1.1M179.1 127.3h1.1M182.7 134.8h1.1M173.7 138.1h1.1M190.7 124.9h1.1M185.3 135.9h1.1M175.6 145.6h1.1M173.8 143.3h1.1M177 140.7h1.1M186.4 140.1h1.1M189 127.8h1.1M181.1 137.6h1.1M187.6 132h1.1M179 138.6h1.1M172.7 136h1.1M180.1 140.4h1.1M178.4 121.2h1.1M187.2 129.3h1.1M193.3 134.8h1.1M183.9 132.7h1.1M171.6 136h1.1M182.7 137.2h1.1M182.7 131.4h1.1M191.3 135.6h1.1M174 123.9h1.1M190.2 126.5h1.1M184.8 130.2h1.1M177.8 130.7h1.1M185.4 130.5h1.1M178.5 130.4h1.1M188.8 142.7h1.1M179.6 141.7h1.1M182.8 141.1h1.1M175.3 139.1h1.1M179.8 141.8h1.1M173.9 134.8h1.1M173.7 143.2h1.1M183.3 121.2h1.1M193.9 134.5h1.1M184.6 132.9h1.1M186.8 134.7h1.1M188.8 147.5h1.1M187.7 135.7h1.1M190.6 129.6h1.1M177.2 143.5h1.1M191.7 136.5h1.1M183.2 138.3h1.1M179.8 132.5h1.1M172.2 137.4h1.1M189.8 130.3h1.1M187.3 141.8h1.1M187 124.8h1.1M181.2 137.9h1.1M173 125.4h1.1M189.5 124.3h1.1M183.3 128.7h1.1M187.1 132.5h1.1M177.1 135.7h1.1M183.3 141.3h1.1M192.7 141.1h1.1M185.3 143h1.1M173.2 136.9h1.1M176.8 134.7h1.1M172.6 128.2h1.1M182.9 144.3h1.1M185.4 144.2h1.1M179.9 123.2h1.1M177.9 140.1h1.1M184 122.9h1.1M175.7 140.4h1.1M193.1 133.1h1.1M182.9 146.8h1.1M188.3 140h1.1M183.5 144.4h1.1M178.3 121.1h1.1M189.9 140.2h1.1M181.6 133.5h1.1M189.9 141.1h1.1M184.2 135.7h1.1M179 143.5h1.1M176.9 143.1h1.1M187.1 143.4h1.1M173.8 132h1.1M181.8 120.2h1.1M184.1 124.5h1.1M182.5 142.9h1.1M188.4 130.6h1.1M172.8 140.5h1.1M181.8 138.2h1.1M178.6 124h1.1M180.3 126.2h1.1M182.6 127.1h1.1M187.9 145.6h1.1M186.8 128.2h1.1M180.1 149.3h1.1M173.4 138.3h1.1M191.1 128.9h1.1M179.9 127.4h1.1M180.1 144.7h1.1M182.2 144.9h1.1M177.8 126.6h1.1M181.6 132h1.1M178.5 124.9h1.1M174 125.7h1.1M190.5 139.8h1.1M184 121.7h1.1M178 148.5h1.1M179.1 139.3h1.1M176.5 139.1h1.1M183.3 137.4h1.1M171.8 126.6h1.1M177.3 135.3h1.1M178 130.9h1.1M182.4 136.7h1.1M179.1 130.1h1.1M184.2 138.6h1.1M188.3 138.7h1.1M173.4 130.3h1.1M185.8 141.2h1.1M192.3 141.8h1.1M184.9 138.1h1.1M177 137h1.1M179.3 129.7h1.1M193.7 128.8h1.1M182.8 121.6h1.1M190.4 127.7h1.1M190.9 126.6h1.1M182.8 140.5h1.1M184.8 147.1h1.1M188.1 134.1h1.1M179.9 131.6h1.1M181.4 144.7h1.1M171.2 128.8h1.1M187.3 122.8h1.1M189.7 130.3h1.1M191.7 126.7h1.1M189 145.7h1.1M178.3 136.7h1.1M184.3 146.8h1.1M175.4 133.4h1.1M185.3 138.1h1.1M173 137h1.1M192.6 136h1.1M174.8 128.9h1.1M192.3 132.3h1.1M172.5 128.2h1.1M184.2 124.5h1.1M182.3 134.2h1.1M186.4 128h1.1M175 133.7h1.1M174.9 136.6h1.1M179.9 145.5h1.1M174.9 135.6h1.1M177.2 123.7h1.1M173.8 136.6h1.1M183 138.4h1.1M186.8 121.8h1.1M176.7 124.7h1.1M189.6 122.1h1.1M185.9 128.9h1.1M182.3 123.4h1.1M173.6 141.4h1.1M189.4 124.2h1.1M177.6 127.1h1.1M176.6 137.7h1.1M186.1 123.5h1.1M177.4 123.5h1.1M192.9 138h1.1M187.7 142.9h1.1M174.9 130.6h1.1M181.9 138.1h1.1M182.5 127.1h1.1M178.1 140.1h1.1M172.6 132.5h1.1M191.5 125.1h1.1M182.9 125.9h1.1M173.2 138.2h1.1M192.1 132h1.1M192.5 129.4h1.1M186.8 146h1.1M174.8 141.8h1.1M177.3 131.6h1.1M177.4 131.7h1.1M190.8 131.9h1.1M184.3 137.4h1.1M189.4 133.2h1.1M191.7 126.5h1.1M190 135.3h1.1M191.5 124.3h1.1M180.4 127.9h1.1M190.8 137.8h1.1M175.5 137.1h1.1M184.9 121h1.1M183.1 137.7h1.1M179.5 136.6h1.1M178.1 132.7h1.1M194 131.1h1.1M181.7 127.3h1.1M180.3 128.2h1.1M174 143h1.1M192 139.9h1.1M193.1 127.8h1.1M186.8 133.6h1.1M185.8 121.5h1.1M180.8 121.4h1.1M187.4 123h1.1M173.1 125.7h1.1M192.6 140.9h1.1M187.3 132.7h1.1M175.4 125.4h1.1M177.3 136.4h1.1M172.2 136.7h1.1M182.5 128.8h1.1M172.4 131.8h1.1M190.9 142h1.1M187.5 128.7h1.1M174.6 143h1.1M172.6 133.6h1.1M179.1 125.3h1.1M171.7 128.7h1.1M184.2 134.8h1.1M190 139h1.1M177.8 130.2h1.1M174 128.1h1.1M182.5 131.3h1.1M177.5 143.2h1.1M188 147.6h1.1M183.6 137.3h1.1M184.8 147.7h1.1M178.4 145.5h1.1M182.7 142.9h1.1M189.3 128.4h1.1M184.7 133.3h1.1M174.4 131.2h1.1M193.4 129.8h1.1M173.6 140.4h1.1M181.8 138.1h1.1M173.6 135.5h1.1M181.3 137h1.1M181.9 136.4h1.1M171.8 130.2h1.1M188.5 145h1.1M175.6 131.1h1.1M179.8 135.6h1.1M175.3 129.8h1.1M187.4 140.3h1.1M189.6 140.8h1.1M178.5 123.7h1.1M189.6 140.9h1.1M185 132h1.1M171.6 133.2h1.1M173.2 128.5h1.1M188.9 137.4h1.1M187.8 148h1.1M174.2 142.1h1.1M185.7 136.3h1.1M173.4 134.7h1.1M192.2 141.3h1.1M172.1 131.7h1.1M190.8 141.5h1.1M182.3 133.4h1.1M179.9 130.7h1.1M179 133.9h1.1M184.7 124.2h1.1M174.6 138.7h1.1M184.3 134.4h1.1M183 130.3h1.1M183.3 128.6h1.1M184.9 128.8h1.1M180.7 121h1.1M178.7 133.3h1.1M185.3 143h1.1M171.7 129.3h1.1M176.3 133.6h1.1M187.9 148h1.1M182.5 138.3h1.1M173.7 141.6h1.1M176.9 136.4h1.1M176.1 135.1h1.1M180 146.3h1.1M183.1 142.9h1.1M176.7 134.9h1.1M183.2 129h1.1M180.4 120.1h1.1M174.1 129.6h1.1M186.8 137.2h1.1M187.6 122.3h1.1M173.8 124.8h1.1M183.8 133.6h1.1M184.5 133.2h1.1M181.2 149.6h1.1M173.2 134.2h1.1M188.8 140h1.1M192.8 142.3h1.1M187.3 140.6h1.1M189.2 135.6h1.1M186 142.7h1.1M178.8 142.8h1.1M179.6 133.4h1.1M187 140.5h1.1M186 123.7h1.1M187 143.3h1.1M188.5 138.7h1.1M184.7 126.9h1.1M176.7 139.5h1.1M188.6 133.9h1.1M177.4 130.2h1.1M174.2 144h1.1M186.1 136.3h1.1M182.4 123.2h1.1M185.7 126.7h1.1M192.6 139.2h1.1M186.9 126.1h1.1M179.5 140.1h1.1M191.9 131.7h1.1M193.4 138.4h1.1M187.6 145.5h1.1M178.8 145.4h1.1M178.9 144.9h1.1M178.4 136.4h1.1M185.4 123.2h1.1M172.5 130.1h1.1M180.9 139h1.1M173.5 141.1h1.1M187.5 135.4h1.1M184.4 138.6h1.1M173 134h1.1M187.5 121.7h1.1M183.3 124.9h1.1M180.7 149.2h1.1M174 133h1.1M177.9 130.6h1.1M175.8 131.6h1.1M190.4 143.7h1.1" stroke="#7ccfe4" stroke-width="1.1" opacity="1.0" fill="none"/>
<path d="M181.5 140.6h1.1M190.2 139.4h1.1M185.2 142.3h1.1M172.2 135.8h1.1M190.1 140h1.1M179.6 144.4h1.1M192.5 126.5h1.1M176.5 144.6h1.1M188.6 132.6h1.1M184.8 131.1h1.1M179.9 132.7h1.1M172.5 126.3h1.1M191.3 142.3h1.1M179.1 122.7h1.1M188.8 140.3h1.1M186.9 127.7h1.1M178.2 125.1h1.1M173.1 141.6h1.1M181.1 129.2h1.1M189.3 139h1.1M186.7 147.1h1.1M175 133.2h1.1M172.2 141.9h1.1M178.7 121.7h1.1M190.1 138h1.1M176.4 140.8h1.1M179.8 120.2h1.1M179.4 127.5h1.1M187.5 129.6h1.1M190.8 128h1.1M183.5 120.6h1.1M189.4 145.6h1.1M173.7 141.7h1.1M172.7 129.2h1.1M177.4 124.3h1.1M182.6 148.3h1.1M176.9 123.4h1.1M177.3 144.5h1.1M178.3 130.1h1.1M191.4 138.1h1.1M180 146.1h1.1M173.9 125.6h1.1M185.3 134.5h1.1M186.9 144.3h1.1M186.9 124.8h1.1" stroke="#3da23d" stroke-width="1.1" opacity="0.85" fill="none"/>
<path d="M173.2 127.1h1.1M167 128.9h1.1M169.8 135.1h1.1M170.8 144.9h1.1M174.1 138.2h1.1M172.6 122.6h1.1M168.1 129.5h1.1M167.7 127.7h1.1M174.4 146h1.1M171.7 145.9h1.1M168.5 138.3h1.1M171.2 143.7h1.1M170.8 123.8h1.1M170.9 129.7h1.1M167.5 139.5h1.1M167 133.5h1.1M174 145.3h1.1M171.4 137.4h1.1M171.4 140.2h1.1M168.2 127h1.1M170.9 140h1.1M173.9 128.2h1.1M174.1 149.4h1.1M168.7 130.5h1.1M168 143.8h1.1M173.1 141h1.1M175.7 135.9h1.1M168.7 144.2h1.1M171.9 136.3h1.1M172.1 128.7h1.1M169.1 129h1.1M171.8 138.8h1.1M172 143.5h1.1M166.3 128.2h1.1M170.9 129h1.1M173.1 130.9h1.1M170.8 132.3h1.1M173.8 136.3h1.1M169.9 146.1h1.1M173 146.7h1.1M166.5 130.3h1.1M173.3 141.6h1.1M171.5 140.6h1.1M174.7 137.4h1.1M169.8 126.2h1.1M169.3 144.5h1.1M174.6 130.9h1.1M170.1 140.9h1.1M166.4 126.2h1.1M170.4 143h1.1" stroke="#ec7f2a" stroke-width="1.1" opacity="0.8" fill="none"/>
<path d="M192.8 123.7h1.0M170.1 133.6h1.0M190.7 147.2h1.0M185.4 120.1h1.0M195.4 125.9h1.0M178.2 120.5h1.0M172.6 123.8h1.0M194.9 132.9h1.0M187.9 119.6h1.0M176.3 120.1h1.0M195.7 130.9h1.0M181.4 150.2h1.0M171.2 126.1h1.0M172.9 146.4h1.0M170.9 127.7h1.0M169.2 130.7h1.0M194.5 142.3h1.0M169.7 135.5h1.0M169.6 138.8h1.0M175.2 121h1.0M171.2 139.3h1.0M195.1 141.4h1.0M171.6 140.9h1.0M185.3 117.9h1.0M170.4 130.5h1.0M194 123.9h1.0M173.2 143.9h1.0M170.4 134.7h1.0M194.7 131.7h1.0M194.8 132.9h1.0M180.6 119.6h1.0M169.7 130.1h1.0M194.6 128.7h1.0M169.1 131.2h1.0M182.1 119.2h1.0M181.7 149.9h1.0M170.1 128h1.0M186.5 149h1.0M169.6 132.7h1.0M190.4 121.7h1.0M195 136.2h1.0M170.1 136.7h1.0M170.5 135.3h1.0M188.6 119.5h1.0M170.5 129.6h1.0M181 151h1.0M170.8 137.8h1.0M181.6 151.3h1.0M192 123.7h1.0M195.9 135.7h1.0" stroke="#84d2ea" stroke-width="1.0" opacity="0.9" fill="none"/>
<path d="M178.1 125h0.9M177.3 124.2h0.9M186.6 143.2h0.9M189.8 135h0.9M174 142.9h0.9M185.6 123.2h0.9M190.3 141.3h0.9M184.3 127.7h0.9M185 121.2h0.9M180.9 136.7h0.9M187.1 135.8h0.9M175.6 140.2h0.9M182.6 139.9h0.9M178.1 142.8h0.9M175.5 130.1h0.9M175.8 144.8h0.9M184.9 144.6h0.9M187.1 125.1h0.9M188.2 144.2h0.9M181 143.4h0.9M178.2 122.4h0.9M182.7 121.7h0.9M179.3 147.7h0.9M191.1 142.4h0.9M180 124h0.9M183 122.1h0.9M188.9 143.9h0.9M172.6 129.2h0.9M183.2 131.3h0.9M187.2 120.6h0.9M188.6 139.7h0.9M175.9 121.9h0.9M173.7 124.2h0.9M181.6 124.2h0.9M170.8 130.9h0.9M190 137.7h0.9M176.8 128.3h0.9M180.4 132.4h0.9M185.3 124.7h0.9M185 138.9h0.9M191.2 144.3h0.9M188.9 137.3h0.9M186.1 137.9h0.9M179.2 122.2h0.9M181.6 131.6h0.9M192.1 134.3h0.9M178.4 131.7h0.9M182.4 138.2h0.9M187.5 120.7h0.9M188.6 141.2h0.9M192.6 130.2h0.9M177.4 145.3h0.9M192.6 141.7h0.9M177.3 135.1h0.9M184.2 127.9h0.9M184.5 137.8h0.9M181.2 127.3h0.9M181.8 138.3h0.9M193.3 139.2h0.9M171.7 129.3h0.9" stroke="#ffffff" stroke-width="0.9" opacity="0.7" fill="none"/>
<polygon points="172,146 186,150 191,156 189,172 183,168 177,158" fill="#8dd5ea" opacity="0.25"/>
<path d="M182.8 162.8h1.1M180.8 162.3h1.1M182.5 162.1h1.1M184.2 155.8h1.1M183.3 156.2h1.1M186 159.4h1.1M185.9 156.8h1.1M179.8 152.5h1.1M183.1 150.2h1.1M184.9 159.2h1.1M176.8 152.5h1.1M182.1 149.8h1.1M184.2 150.2h1.1M179.4 158.7h1.1M176.5 149.9h1.1M184.9 157.9h1.1M183.8 166.9h1.1M188.9 158.8h1.1M178.3 151h1.1M188.3 165.4h1.1M180.9 159h1.1M184.1 156.9h1.1M186.9 162.2h1.1M176.8 151.4h1.1M184.4 160.3h1.1M189.5 156.8h1.1M181.7 161.9h1.1M182.4 162.4h1.1M179.8 162h1.1M184.9 157.3h1.1M180.9 159.6h1.1M178.5 160.2h1.1M183.6 167.6h1.1M185.3 160.4h1.1M188.1 165.9h1.1M189.6 157.7h1.1M186.8 164.9h1.1M182.1 166.3h1.1M182.6 153.3h1.1M182 164.7h1.1M182.6 166.6h1.1M188.3 170.7h1.1M187.7 152.6h1.1M188.8 165.2h1.1M185.4 151.7h1.1M175.5 154.1h1.1M179.5 159.1h1.1M176.6 153.5h1.1M175.8 151.4h1.1M181.4 162.7h1.1M181.2 148.8h1.1M185.4 152.6h1.1M178.8 149.8h1.1M180.9 153.5h1.1M181.3 156.6h1.1M187.6 156.4h1.1M180.1 155.8h1.1M178.6 159.8h1.1M173.4 148.9h1.1M176.6 151.5h1.1" stroke="#8dd5ea" stroke-width="1.1" opacity="1.0" fill="none"/>
<path d="M173.1 156.2h1.1M182 185.2h1.1M190.2 178.5h1.1M185.7 177h1.1M186.3 190.4h1.1M190.8 171.6h1.1M186.6 161.3h1.1M176.4 155.6h1.1M186.1 162.3h1.1M181.6 180.6h1.1M192.8 177.4h1.1M184.5 150.9h1.1M194.4 161.6h1.1M187.3 150.8h1.1M192.1 157.2h1.1M188.3 176.4h1.1M177.8 167.8h1.1M187.5 151.8h1.1M190.8 186.5h1.1M190.6 152.8h1.1M172.8 157.7h1.1M180.8 181.3h1.1M179.4 160.5h1.1M190.1 164.6h1.1M180.1 152.2h1.1M176.6 171h1.1M186.7 149h1.1M173.6 158.5h1.1M175.8 169.3h1.1M184 154h1.1M183.7 192.6h1.1M183 169.3h1.1M179 178h1.1M179.3 181.3h1.1M184.5 177.1h1.1M180.9 152.6h1.1M190.6 162.9h1.1M185.9 152.9h1.1M189.8 167.5h1.1M186.1 162.2h1.1M174.1 164.1h1.1M187.9 172.2h1.1M190.2 184.2h1.1M180.3 150.2h1.1M174.5 162.7h1.1M188.8 168.4h1.1M181.2 155.6h1.1M191 183.4h1.1M187 191.1h1.1M190.9 170.9h1.1M177.4 149.7h1.1M191.2 174.1h1.1M185.4 152.5h1.1M187.9 161.6h1.1M192.1 151.9h1.1M175.2 160.7h1.1M184.4 162.9h1.1M180.2 171.6h1.1M186.2 173.2h1.1M194.4 165.9h1.1M182.6 158.4h1.1M187.5 179h1.1M178.4 176.2h1.1M182.2 149.9h1.1M172.2 157.6h1.1M187 150.2h1.1M196.1 170h1.1M188.7 161.4h1.1M195.3 163.5h1.1M180.7 171.6h1.1M182.7 152.7h1.1M190.1 189.4h1.1M194.4 178.1h1.1M183.2 153.5h1.1M193.8 155.8h1.1M185.3 173.5h1.1M178.2 166.3h1.1M184.8 189.9h1.1M185.1 164.2h1.1M188.1 149.1h1.1M179.8 180.3h1.1M185.2 184.2h1.1M179.4 154.3h1.1M182 157.1h1.1M180.6 157.8h1.1M189.7 164.8h1.1M185.9 186.5h1.1M177 158.7h1.1M191.1 184.2h1.1M189 176h1.1M188 162.7h1.1M177.6 152.6h1.1M178.3 172.5h1.1M189.2 154.9h1.1M182.3 152.9h1.1M185.2 148.8h1.1M186.5 181h1.1M192.9 171.9h1.1M180.9 179h1.1M172.8 156.7h1.1M186.8 156.8h1.1M175.5 163.9h1.1M191.1 177.1h1.1M191.2 182.6h1.1M190.1 173.3h1.1M183.8 177.4h1.1M183.2 164.6h1.1M188 187.9h1.1M187.7 150.6h1.1M180.5 168h1.1M177.7 151.2h1.1M181.3 174.8h1.1M192.6 156.3h1.1M182.1 182.7h1.1M172.8 159.1h1.1M190 186.4h1.1M179.6 149.2h1.1M191.4 171.1h1.1M178.1 167.9h1.1M188.8 152.2h1.1M182.1 155.7h1.1M188.3 187.1h1.1M176.3 156h1.1M188.3 150.8h1.1M185.5 176.6h1.1M182.7 188.5h1.1M182.6 190.6h1.1M181.9 170.6h1.1M181.4 158.9h1.1M181.1 150.2h1.1M181.1 165.9h1.1M191.9 163.4h1.1M190 176.2h1.1M186.3 185.9h1.1M177.6 149.8h1.1M185.7 150.6h1.1M180.8 167.3h1.1M183.8 171.3h1.1M193.2 155.7h1.1M191.3 183.6h1.1M191.7 173.1h1.1M172.5 157.3h1.1M189.2 154.6h1.1M186.2 167.4h1.1M179.6 153.9h1.1M184.7 178.5h1.1M173.9 163.5h1.1M183.9 193.2h1.1M188.2 149.9h1.1M181.1 172.5h1.1M175 155.6h1.1M179 172.7h1.1M177.3 173h1.1M194.1 170.4h1.1M180.4 180.6h1.1M194.2 164h1.1M179.5 161.7h1.1M191.3 178.4h1.1M174 162.6h1.1M185.7 187.9h1.1M186.4 179.9h1.1M186.6 176.9h1.1M177.6 175.4h1.1M178.6 167.1h1.1M195.4 169.3h1.1M175.1 167.8h1.1M182.5 167.9h1.1M186 158h1.1M178.7 154.9h1.1M187.1 191.6h1.1M192.6 155.3h1.1M192.4 167.2h1.1M184.5 176.9h1.1M185.5 176.5h1.1M178.4 155.5h1.1M182.4 160.1h1.1M183.5 160.4h1.1M180.8 152.5h1.1M184.9 163h1.1M181.9 164.6h1.1M180.6 172.6h1.1M178.7 177.3h1.1M181.3 175.9h1.1M193.8 157.1h1.1M176.8 166h1.1M184.8 166.7h1.1M193.7 159.2h1.1M176.6 173.9h1.1M183.9 188.4h1.1M185.1 168.2h1.1M191 183.6h1.1M186.5 191.7h1.1M192 171.5h1.1M188.8 183.9h1.1M187.9 188.5h1.1M179.7 173.3h1.1M192.7 161.7h1.1M183.6 184.1h1.1M184.5 174.7h1.1M192 149.9h1.1M191 165.1h1.1M188.5 183.1h1.1M190.2 183.9h1.1M171.8 152.1h1.1M187.5 164.1h1.1M176.6 167.9h1.1M186.2 157.6h1.1M191.7 167.5h1.1M195.9 165.7h1.1M180.5 168.1h1.1M186.4 149.8h1.1M174.2 164h1.1M189.5 164.5h1.1M179.5 168.4h1.1M194.6 176.2h1.1M186.1 182.3h1.1M186.2 174.9h1.1M188.9 176.1h1.1M192.3 172.9h1.1M178.7 156.3h1.1" stroke="#8dd5ea" stroke-width="1.1" opacity="0.9" fill="none"/>
<path d="M174.8 157.7h1.1M175.7 171.4h1.1M185.2 153.9h1.1M180.4 183.8h1.1M190.8 188.2h1.1M176.2 131.4h1.1M177 195.3h1.1M172.2 181.4h1.1M176.6 201.7h1.1M174.5 186.8h1.1M182.6 160.7h1.1M186.4 179h1.1M175.4 174.9h1.1M179.2 177.8h1.1M187.4 134.1h1.1M174 173.7h1.1M193.9 161.7h1.1M191.7 173.7h1.1M175.8 158h1.1M182 199.3h1.1M168.1 163.4h1.1M192.7 142.3h1.1M182.8 199.3h1.1M190.7 142.6h1.1M179.5 156.8h1.1M179.3 131.6h1.1M194.9 172.2h1.1M193.5 181.8h1.1M167.2 155.3h1.1M170.1 150.4h1.1M185.2 193.7h1.1M176.5 196.6h1.1M191 165.5h1.1M185.1 161.1h1.1M185.3 130.9h1.1M180.8 146h1.1M178 177h1.1M174 154.5h1.1M180.3 158.3h1.1M177 177.6h1.1M184.1 131.8h1.1M180 203.4h1.1M175.4 177h1.1M181.9 151.2h1.1M174.5 163h1.1M186.6 173.2h1.1M180.1 131.8h1.1M177.4 204.3h1.1M174.9 135.4h1.1M166.8 142.6h1.1M173.8 136.8h1.1M173.6 184.7h1.1M186 151.2h1.1M181 192.6h1.1M169.2 148.6h1.1M179 152.5h1.1M192.1 178.8h1.1M182.7 181.3h1.1M174.5 184.8h1.1M190.3 188h1.1M180.5 175.7h1.1M180 181.2h1.1M178.5 199.7h1.1M174.2 150.6h1.1M188.5 144.3h1.1M188.2 146.2h1.1M194.1 160.6h1.1M194.3 168.9h1.1M169.8 136.8h1.1M178.5 171.7h1.1M180.7 171h1.1M195.4 170.2h1.1M177.6 134h1.1M170.4 141.9h1.1M180.3 176.3h1.1M180.7 167.3h1.1M179 126.2h1.1M186.8 143.7h1.1M171.9 170.8h1.1M188.3 156.2h1.1M180.9 188.4h1.1M176.3 187.1h1.1M169.5 167.4h1.1M170.7 168.7h1.1M188.1 184.1h1.1M178.9 180.2h1.1M182.6 159.4h1.1M176.1 164.9h1.1M185.1 153.9h1.1M189.1 187.8h1.1M180.7 171.4h1.1M192 148.9h1.1M189.1 159.3h1.1M167.2 137.8h1.1M179.8 133.1h1.1M185.3 186.7h1.1M168.9 137.8h1.1M188.6 164.3h1.1M182.6 134h1.1M169 157.9h1.1M182.1 160.1h1.1M192.3 186.8h1.1M188.9 181h1.1M176.1 175.2h1.1M177.7 177h1.1M189.2 186.3h1.1M169.4 128.7h1.1M174.4 170h1.1M175.4 148h1.1M189.8 136h1.1M171.4 164.7h1.1M174.4 169h1.1M181.1 196.2h1.1M178.5 179.1h1.1M196.7 162.6h1.1M173.8 180.1h1.1M169.7 132.3h1.1M195.7 154.6h1.1M174.2 168.6h1.1M173.7 174.7h1.1M176.4 161h1.1M170.4 144.9h1.1M181.9 151.1h1.1M183.7 173.9h1.1M183 146.6h1.1M190.9 144.7h1.1M191.6 140.7h1.1M170.8 147.4h1.1M189.1 149.1h1.1M194.3 180h1.1M178.5 198.8h1.1M178.1 164h1.1M167.9 159h1.1M179.8 147.1h1.1M178.2 164.8h1.1M184.8 196.7h1.1M189.4 174.7h1.1M191.5 188.9h1.1M175.1 133.9h1.1M171.9 171.4h1.1M179 152h1.1M173.7 131h1.1M177.8 152.7h1.1M193.7 142.3h1.1M181.1 148.5h1.1M192.3 165.6h1.1M177.7 166.9h1.1M196.9 163.7h1.1M184.8 193.7h1.1M187.7 154.3h1.1M182.2 191.4h1.1M168.1 136.8h1.1M184 172.7h1.1M188.2 142.2h1.1M182.7 196.7h1.1M170.5 167.5h1.1M185.7 132.4h1.1M177.2 199.3h1.1M167.7 137.4h1.1M189.4 159.9h1.1M174.2 170.4h1.1M183.1 144.7h1.1M181.8 204.5h1.1M175.9 156.6h1.1M188.6 191.9h1.1M187.8 164.6h1.1M182.5 183.6h1.1M181.4 199.1h1.1M173.3 176.2h1.1M187.2 190.8h1.1M188 167.1h1.1M171.6 143.2h1.1M185.9 194.5h1.1M172.1 180.3h1.1M174.1 128.2h1.1M170.4 158.4h1.1M197.8 175.4h1.1M189.7 191.1h1.1M175.9 166h1.1M167.7 160h1.1M176.8 154.9h1.1M178.6 155.1h1.1M176 183.2h1.1M190.3 190.4h1.1M184.6 145.6h1.1M172.6 178.5h1.1M186 142.1h1.1M186.1 148.6h1.1M185 172.5h1.1M165.7 148.9h1.1M192.1 156.7h1.1M178.6 197.1h1.1M193.9 171.1h1.1M179.4 158.5h1.1M168.1 161h1.1M178.5 126.3h1.1M183.5 156.8h1.1M194.8 156.6h1.1M174 138.8h1.1M196.7 169.4h1.1M194.2 149.3h1.1M184.1 156.6h1.1M194.9 146.9h1.1M166.5 142.4h1.1M183.1 189.3h1.1M181.9 199.2h1.1M177 168.8h1.1M180.7 195.5h1.1M184 164.3h1.1M179.8 127.6h1.1M189.2 155.3h1.1M186.6 135.1h1.1M170.1 153.8h1.1M172.9 167.9h1.1M188.4 174.9h1.1M179.1 196.8h1.1M176.6 139h1.1M193.3 167h1.1M179.1 173.7h1.1M190.2 180.1h1.1M196.4 177.9h1.1M170 172.3h1.1M172.5 163.6h1.1M194.6 145.4h1.1M185 139.7h1.1M178.7 200.8h1.1M175.2 148.4h1.1M169.3 135.6h1.1M188.2 158.4h1.1M171.4 150.1h1.1M173.6 157.3h1.1M190.4 172.8h1.1M182.3 137.5h1.1M182.9 151.4h1.1M180.7 136.3h1.1M195.2 163.4h1.1M175.9 178.3h1.1M168.4 162.2h1.1M183.2 137.6h1.1M169.2 138h1.1M193.3 178.9h1.1M193.6 176.1h1.1M183.9 163.1h1.1M175.7 167.8h1.1M180.3 144.2h1.1M194.7 170.8h1.1M176 126.3h1.1M186.7 170.9h1.1M194.7 181.1h1.1M193.9 183.7h1.1M184.3 146.4h1.1M173.2 165.6h1.1M189.3 183.6h1.1M173.1 136.3h1.1M183 163.3h1.1M186.1 160.3h1.1M188.2 142h1.1M190.3 136h1.1M184.2 180h1.1M171.6 144.7h1.1" stroke="#3da23d" stroke-width="1.1" opacity="0.9" fill="none"/>
<polygon points="29.5,166 30.5,156 34,148 39,139 45,133 52,129 58,128 65,131 70,138 72,147 71.5,158 70.5,170 67,179 59,185 49,187.5 40,185 33,179" fill="#4aa94a" opacity="0.9"/>
<path d="M62.6 129.9h1.0M72.3 145.4h1.0M66.6 133.2h1.0M43.1 186h1.0M71.9 168.9h1.0M28.1 164.2h1.0M72.3 159.1h1.0M65.6 130.8h1.0M30.2 158.1h1.0M45.9 132.4h1.0M72.6 166.7h1.0M60.7 184.1h1.0M70.7 171.7h1.0M58.8 127.3h1.0M51.7 129.1h1.0M73.5 160.1h1.0M60 128.7h1.0M44.9 132.1h1.0M70.3 170.9h1.0M48 130.9h1.0M30 158.4h1.0M67.3 179.6h1.0M60.1 185h1.0M30.1 168.3h1.0M29.3 168.9h1.0M63.6 181.7h1.0M65.6 131.5h1.0M44.3 187.4h1.0M71.3 164.3h1.0M73.2 146h1.0M72.9 155h1.0M52 186.8h1.0M28.9 161.7h1.0M53.6 127.7h1.0M58.8 127.1h1.0M71.3 163.3h1.0M36.9 140h1.0M44.8 131.8h1.0M44.1 186.4h1.0M37.6 141.2h1.0M35.7 142.6h1.0M72.6 167.8h1.0M37.6 139.5h1.0M31.7 148.1h1.0M39.3 135.7h1.0M60.2 184.5h1.0M44.4 187.7h1.0M69.4 135.5h1.0M71.8 143.3h1.0M36.5 183.3h1.0M70.7 170.9h1.0M43.5 132.5h1.0M47 131h1.0M40.6 185.8h1.0M40.7 186.5h1.0M37.2 184.6h1.0M30.8 174.3h1.0M32 175.6h1.0M64.9 181.8h1.0M68.8 135.1h1.0M37.1 141.1h1.0M43.3 132.5h1.0M37.1 183.2h1.0M34.7 182.3h1.0M60.5 128.8h1.0M39.7 137.8h1.0M55.7 186h1.0M71.7 161.6h1.0M38.6 186h1.0M27.8 165.7h1.0M43.7 130.8h1.0M51.3 128.9h1.0M29.2 163.5h1.0M58.1 185.3h1.0M40.8 136.4h1.0M33.1 144.9h1.0M72.4 162.3h1.0M29.4 164.3h1.0M72.9 148.9h1.0M63.6 128.1h1.0M44.7 131.4h1.0M39.2 184.5h1.0M29.3 156.6h1.0M60.3 184.2h1.0M70.4 171.9h1.0M67.8 177.5h1.0M32.9 180.3h1.0M64.7 130.3h1.0M59.4 184.9h1.0M46.8 131.2h1.0M65.1 180.9h1.0M66.1 180.8h1.0M72.2 171h1.0M40.9 186.4h1.0M30.2 176.9h1.0M29.3 166.1h1.0M71.4 159h1.0M37 182.9h1.0M54.4 127.5h1.0M49.2 187.9h1.0M37.8 139.7h1.0M69.5 172.9h1.0M60.2 128.7h1.0M71.8 159.3h1.0M67.4 180h1.0M29.6 152.6h1.0M71.2 161.1h1.0M29.7 157.3h1.0M71.6 171h1.0M67.2 179.6h1.0M28.1 165.4h1.0M39.9 185.7h1.0M42.3 135.7h1.0M56.5 187.1h1.0M35 181.2h1.0M32.1 151.9h1.0M44 186.7h1.0M41.1 136.4h1.0M58.3 186.3h1.0M57.1 127.5h1.0M50.7 187.5h1.0M29.5 158.2h1.0M44 132.8h1.0M37.6 141.5h1.0M29.8 156.8h1.0M51.4 128.3h1.0M41.3 136.4h1.0M73.3 148.3h1.0M72.1 155.4h1.0M49.7 130.1h1.0M31.8 175.3h1.0M72.1 144.3h1.0M57.8 127.5h1.0M72.5 161.2h1.0M64.6 130.2h1.0M72.3 159.6h1.0M70.4 139.5h1.0M67.4 134.3h1.0M55.8 128.3h1.0M43.7 133.9h1.0M72.2 149.9h1.0M43.6 186.1h1.0M72.5 156.5h1.0M35.1 145.8h1.0M31.9 151.7h1.0M31.2 173.4h1.0M43.4 186.4h1.0M68.2 135.4h1.0M28.4 163.9h1.0M72.4 146.2h1.0M38.7 186.1h1.0M29.2 163.2h1.0M70.5 136.9h1.0M29.5 160h1.0M40.1 185.1h1.0M73.8 158.1h1.0M31.7 152.6h1.0M63.7 128.4h1.0M58.1 186.2h1.0M28.4 164.6h1.0" stroke="#3da23d" stroke-width="1.0" opacity="0.9" fill="none"/>
<path d="M54.9 137.4h0.8M68.4 167.3h0.8M61.2 177.7h0.8M53.9 163.5h0.8M61.5 161.4h0.8M51.8 139.9h0.8M44.2 171.5h0.8M32.2 154.4h0.8M55.1 133.4h0.8M62.2 136h0.8M71.3 154.4h0.8M38 180h0.8M46.1 142.1h0.8M51.7 185.8h0.8M40 163.6h0.8M52.2 129.4h0.8M61.7 169.7h0.8M33.6 165.1h0.8M63.7 138.1h0.8M51.1 162h0.8M54.8 140.7h0.8M58.8 161.5h0.8M70.6 140.7h0.8M57.8 152.7h0.8M52.5 168.6h0.8M36.3 166h0.8M34.2 169.3h0.8M66 138h0.8M54.5 136.3h0.8M60.3 152.9h0.8M37.4 148.2h0.8M59.5 176.4h0.8M41.8 168.4h0.8M45.8 166.2h0.8M51.3 140.4h0.8M69.3 143.4h0.8M58.1 179.8h0.8M46 174h0.8M39.4 167.5h0.8M55.1 159.5h0.8M64.1 133.6h0.8M46.1 170.7h0.8M58.6 134.5h0.8M50.5 130.1h0.8M68.3 165.4h0.8M65.6 133.1h0.8M47.1 137.2h0.8M46.3 162.6h0.8M44.1 175.5h0.8M40.1 174.1h0.8M32.2 162.9h0.8M68.3 143.2h0.8M44.4 163.5h0.8M44.2 167.3h0.8M52.5 142.1h0.8M44.4 181.1h0.8M60.2 182.8h0.8M68.6 146h0.8M36.7 162.1h0.8M63.4 138.4h0.8M45.4 132.8h0.8M64.5 145.9h0.8M48.5 170.2h0.8M31.7 153.9h0.8M43.7 180.7h0.8M32.5 167.6h0.8M52.9 142.2h0.8M44.1 185.9h0.8M53.7 169.5h0.8M47 140.9h0.8M31.1 167.3h0.8M48.9 155.3h0.8M49.2 178.2h0.8M37.4 178.4h0.8M50.8 149.8h0.8M46.2 174.7h0.8M52.6 151.9h0.8M39.9 155.5h0.8M54.4 151.4h0.8M46.4 158.7h0.8M50.1 170.1h0.8M41.6 149.4h0.8M62.8 149.7h0.8M56.4 182.4h0.8M49.1 134.6h0.8M60.9 148.8h0.8M62 175.7h0.8M64 176h0.8M40.5 179h0.8M43.4 160.9h0.8M51.1 142.4h0.8M51.4 141.4h0.8M46 171.3h0.8M42.8 157.6h0.8M53.5 132.7h0.8M57.5 156.8h0.8M60.2 133.2h0.8M40.5 137.9h0.8M42.5 180h0.8M63.5 142.4h0.8M42.8 143.3h0.8M58 185.1h0.8M43.4 174.9h0.8M44 147.6h0.8M43.4 138.6h0.8M65.9 175.7h0.8M67.7 147.2h0.8M52.2 130.5h0.8M40.4 171.9h0.8M65.6 144.2h0.8M64.4 170.6h0.8M65.8 139.6h0.8M52.6 184.9h0.8M67.9 146.2h0.8M39.4 152.2h0.8M60.5 182h0.8M42.2 164.3h0.8M49.4 181.6h0.8M39.7 165.4h0.8M57 176h0.8M62.7 175.2h0.8M34.7 160.9h0.8M39.2 155.7h0.8M33.5 177.6h0.8M42.3 163.9h0.8M58.9 173.3h0.8M53.8 135.4h0.8M42 180.8h0.8M55.6 185h0.8M47.8 165.1h0.8M32.7 176.7h0.8M68.1 170.7h0.8M52 186.3h0.8M37.9 147h0.8M62.4 158.6h0.8M71 144.7h0.8M59.5 179.6h0.8M48.1 177h0.8M48.6 172.4h0.8M63.9 181.2h0.8M64.3 175.4h0.8M68 154h0.8M62.8 171.1h0.8M34.4 150.4h0.8M36 177.4h0.8M55.3 128.6h0.8M51.1 147.8h0.8M56.8 153h0.8M36.6 145h0.8M66.5 146.6h0.8M67.8 143.4h0.8M45.7 182.8h0.8M39.1 177.8h0.8M29.8 164h0.8M59.8 131h0.8M57.6 156.3h0.8M59.4 153.3h0.8M45.9 164.7h0.8M53.7 131h0.8M44.9 162.9h0.8M62 174.6h0.8M53.8 182.8h0.8M53.9 149.8h0.8M60.6 152.6h0.8M66.9 153.4h0.8M49.8 169.4h0.8M50.2 148h0.8M62.5 181.4h0.8M31 168.6h0.8M66.5 144.7h0.8M49.6 164.2h0.8M48.9 169.5h0.8M40.8 148.4h0.8M40.6 173.7h0.8M59.9 180.2h0.8M42.8 135.4h0.8M52.7 161.3h0.8M43.6 185h0.8M55.9 169.8h0.8M60.3 152.6h0.8M32.3 155.1h0.8M53 161.8h0.8M50.6 161.2h0.8M34.2 158.3h0.8M41.8 159.4h0.8M48 170.6h0.8M54.1 139.8h0.8M36.3 163h0.8M53.5 164.7h0.8M63.4 177.7h0.8M49.7 141.3h0.8M42.6 183.9h0.8M50.8 154.4h0.8M51.2 152.2h0.8M55.5 149.7h0.8M40.1 139.3h0.8M43.6 174.5h0.8M49.7 134h0.8M58.6 175.4h0.8M35.1 156.8h0.8M58.5 128.9h0.8M64.5 142.5h0.8M45.1 182.9h0.8M35.3 147.8h0.8M70 139.2h0.8M51.8 170.4h0.8M64 143.1h0.8M33.4 158h0.8M51.7 137.3h0.8M62.6 181.9h0.8M37.2 173h0.8M63.8 147.3h0.8M40.7 164.7h0.8M41.9 170.4h0.8M44 136.1h0.8M56.1 157.6h0.8M61.9 155.7h0.8M54.6 137.3h0.8M64.2 170.8h0.8M42.8 148h0.8M65.2 142.2h0.8M41.5 165.5h0.8M54.1 176.1h0.8M34.4 169.6h0.8M65.3 144.9h0.8M37.4 172h0.8M50.5 172.8h0.8M30 162.7h0.8M33.4 157.9h0.8M33.1 177h0.8" stroke="#ffffff" stroke-width="0.8" opacity="0.7" fill="none"/>
<path d="M65.7 176.5h1.0M49.3 165.4h1.0M43.9 146.8h1.0M62.3 142.8h1.0M63 139.4h1.0M47.9 144.3h1.0M37.6 162.2h1.0M64.7 133.5h1.0M63.1 181.7h1.0M37.9 183.1h1.0M67.3 171.2h1.0M57.2 173.1h1.0M36.8 177h1.0M50.3 151.9h1.0M38.8 157.3h1.0M50.7 160.7h1.0M52.6 156.7h1.0M63.7 164.8h1.0M38.2 158.4h1.0M52.2 147.5h1.0M32.1 159.6h1.0M48.8 140.5h1.0M65.4 143h1.0M57.1 141.1h1.0M66.9 144.7h1.0M43.9 167.2h1.0M65.9 149.5h1.0M51.7 184.2h1.0M56.3 159.4h1.0M65.9 155.5h1.0M64.9 150.4h1.0M67.1 148.9h1.0M41.9 138.8h1.0M63.3 134.9h1.0M53.9 139.1h1.0M51.7 169.7h1.0M40.4 176.6h1.0M59.8 143.9h1.0M56.7 132.3h1.0M31.9 168.9h1.0M50.3 149.1h1.0M40.1 162.6h1.0M68.7 143.3h1.0M34 165.1h1.0M61.2 139.4h1.0M68.6 145.7h1.0M44.2 170.9h1.0M60.9 135.6h1.0M51.1 136.6h1.0M61.8 138.1h1.0M69.7 170.8h1.0M43.3 176h1.0M59.6 146.4h1.0M46.7 175.6h1.0M58.3 173.8h1.0M44.7 156.8h1.0M57.1 142h1.0M71.1 144.2h1.0M40.1 175.9h1.0M39 148.6h1.0M55.5 145h1.0M65.8 156.4h1.0M55.1 138.3h1.0M48.1 164.8h1.0M61 147.8h1.0M55.2 131.4h1.0M42.6 141h1.0M48.4 182.5h1.0M65 172.2h1.0M54.8 175.5h1.0M31.6 166.1h1.0M48 185.7h1.0M33.1 172.4h1.0M49.9 166.4h1.0M36 166.5h1.0M43.1 174.6h1.0M70.7 152.5h1.0M53.6 138.8h1.0M62.1 162.3h1.0M36.1 151.4h1.0M41.5 155.6h1.0M43.9 171.3h1.0M41.8 174.1h1.0M55 144.8h1.0M40 168.7h1.0M68.5 163.9h1.0M68.8 142.3h1.0M55.7 163.9h1.0M41.2 142.6h1.0M59.1 183h1.0M55.7 167.4h1.0M33.8 157.9h1.0M35 168.6h1.0M52.4 159.9h1.0M41 158.1h1.0M59.6 180.1h1.0M69.2 168.7h1.0M57.2 143.8h1.0M46.1 159.9h1.0M65.2 149.2h1.0M44.4 174.5h1.0M59.4 141.7h1.0M53.7 163h1.0M48.3 183.8h1.0M41.8 165.9h1.0M51.9 152.2h1.0M48.5 186.9h1.0M58.4 138.9h1.0M33 176.1h1.0M67.6 158.6h1.0M31.2 157.4h1.0M52 163.4h1.0M52.8 171.7h1.0M53.9 182.9h1.0M37.4 177.8h1.0M42.8 148h1.0M51.4 166.1h1.0M40.5 147h1.0M45 177.8h1.0M33.2 150.7h1.0M47.6 133.5h1.0M39.3 167.1h1.0M52.9 150.3h1.0M48.2 166.4h1.0M63.3 145h1.0M34.3 178.5h1.0M34.4 153.9h1.0M66 145.3h1.0M56.6 152.5h1.0M59.8 139.9h1.0M41.5 155.8h1.0M50.8 154.7h1.0M66 144.9h1.0M45.1 136.7h1.0M37.4 165.1h1.0M42.6 150h1.0M55.5 185.1h1.0M56.5 152.5h1.0M67.5 147.6h1.0M51.5 184.4h1.0M45.5 157.4h1.0M45.9 134.1h1.0M50.6 152.2h1.0M63.4 139.1h1.0M53.5 159.5h1.0M36.7 155.4h1.0M55.7 128.7h1.0M61.5 164.2h1.0M65.1 155.8h1.0M67.7 174.3h1.0M43.8 179h1.0M42.4 152.3h1.0M38.8 154.7h1.0M30.5 160.8h1.0M59.1 161.6h1.0M51.9 139.2h1.0M33.6 151.9h1.0M39.9 151.9h1.0M38.9 140.5h1.0M43.9 146h1.0M33.6 169.1h1.0M33.7 152.4h1.0M34.1 177.5h1.0M43.9 135.3h1.0M60.1 140.9h1.0M41.4 150.5h1.0M41.3 156.5h1.0M54.6 154.4h1.0M33.9 164.3h1.0M57.6 165.5h1.0M47.4 159.7h1.0M43.4 181.3h1.0M49 170.5h1.0M58.8 154.1h1.0M36.2 151.2h1.0M60 149.9h1.0M35.7 154.3h1.0M62.1 138.6h1.0M39.8 167.6h1.0M41.4 147.7h1.0M66 173.3h1.0M52.4 141.2h1.0M45.1 144.5h1.0M53.6 140h1.0M67.4 150.5h1.0M50.7 184.5h1.0M58.4 169.7h1.0M48.4 186.6h1.0M46.2 162h1.0M47.6 185.9h1.0M62.2 159h1.0M39.2 139.7h1.0M41.3 182.2h1.0M43 174.3h1.0M67.1 167.2h1.0M50.2 176.1h1.0M69.1 167.3h1.0M59.5 177.2h1.0M62 155.9h1.0M50.9 143.9h1.0" stroke="#3d9f3d" stroke-width="1.0" opacity="0.7" fill="none"/>
<path d="M71.2 151.9h1.0M63.3 141.1h1.0M70.6 152.9h1.0M59.2 131.6h1.0M67.9 140.5h1.0M63.5 130.5h1.0M71.4 149.5h1.0M72 153.9h1.0M62.6 136h1.0M74.1 150h1.0M58.9 131.3h1.0M57.8 128.2h1.0M70.2 135.3h1.0M69.6 146.4h1.0M62 130.6h1.0M72.2 147.1h1.0M68.9 133.2h1.0M69.4 132.9h1.0M67 133.5h1.0M71.9 141.3h1.0M71.5 141.4h1.0M67.9 142.4h1.0M72.8 151.1h1.0M57.6 130.6h1.0M64.6 136.9h1.0M61.1 135.2h1.0M71.2 138.4h1.0M68 149h1.0M66.6 139.2h1.0M57.4 127.6h1.0M69.3 152.8h1.0M72.5 156.4h1.0M69.5 137.4h1.0M72.3 155.7h1.0M71.4 138h1.0M60.8 137.4h1.0M57.5 131.5h1.0M65.5 134.5h1.0M70.4 143.1h1.0M71 156.2h1.0" stroke="#ec7f2a" stroke-width="1.0" opacity="0.8" fill="none"/>
<polygon points="40,138 48,131 56,127 66,130 70,137 62,136 52,135 44,140" fill="#ec7f2a" opacity="0.2"/>
<path d="M40.6 137.7h1.1M46.8 135.3h1.1M55.2 128.5h1.1M45.8 135.1h1.1M65.2 132.7h1.1M54.5 132.1h1.1M61 132.5h1.1M50.8 133.3h1.1M54.6 128.4h1.1M58.4 132.1h1.1M44.9 136.9h1.1M65.5 134.5h1.1M50.9 129.6h1.1M46.6 138.3h1.1M49.9 132.3h1.1M43.3 138.3h1.1M58.1 133.7h1.1M56.1 131.5h1.1M60.6 134.7h1.1M56.2 134.9h1.1M62.8 131.3h1.1M59.7 130.8h1.1M65.7 132.2h1.1M65.3 134.5h1.1M67.2 134.8h1.1M42.7 139.2h1.1M47.9 134h1.1M55.8 127.5h1.1M58.1 127.9h1.1M52.6 134.2h1.1M56.1 130.2h1.1M47.6 131.9h1.1M59.8 134.2h1.1M59.8 129.9h1.1M48.5 134.5h1.1M52.2 132.2h1.1M51 129.9h1.1M57 135.4h1.1M52.5 133.3h1.1M67 136.3h1.1M51.2 130.6h1.1M63.6 129.9h1.1M50.1 134.1h1.1M59 134.5h1.1M53.6 134.1h1.1M48.5 133.7h1.1M66.2 134.5h1.1M55.2 130h1.1M50.9 130h1.1M58.8 130.3h1.1M59.2 130.8h1.1M52.8 132.1h1.1M47.5 133.4h1.1M60.2 131.3h1.1M45 135.5h1.1M66.2 135.4h1.1M44.7 139.4h1.1M47 137.4h1.1M52.8 132.7h1.1M48.3 134.9h1.1" stroke="#ec7f2a" stroke-width="1.1" opacity="1.0" fill="none"/>
<path d="M72 161 L80 164 L88 168 L95 172 L100 176" stroke="#3da23d" stroke-width="1.0" fill="none" opacity="0.55" stroke-linecap="round" stroke-linejoin="round"/>
<path d="M80 152 L88 150 L97 146" stroke="#3da23d" stroke-width="1.5" fill="none" opacity="0.7" stroke-linecap="round" stroke-linejoin="round"/>
<path d="M86 175 L90 180 L93 185" stroke="#3da23d" stroke-width="0.8" fill="none" opacity="0.5" stroke-linecap="round" stroke-linejoin="round"/>
<path d="M67.5 135.6h1.0M70.3 140.7h1.0M75.5 135.2h1.0M71.6 133.7h1.0M75.1 131.4h1.0M67.7 137.2h1.0M66.1 141h1.0M71.5 130.8h1.0M72 131.9h1.0M73.9 134.2h1.0M72.7 134.7h1.0M71.7 134.9h1.0M74.3 134h1.0M65.5 134.6h1.0M65.3 133.7h1.0M75.5 138.8h1.0M68.9 135h1.0M70.2 132.2h1.0M76 135h1.0M68.3 135.2h1.0M65.4 133.4h1.0M65.4 132.2h1.0M75.4 134.9h1.0M68.5 137.9h1.0M66.3 140.3h1.0" stroke="#2f6cb0" stroke-width="1.0" opacity="0.8" fill="none"/>
<polygon points="63.5,118.1 69.6,113.9 75.7,109.9 84.5,105.4 95.3,103.1 105.2,101.9 115.1,101.2 125,101 133.5,101.7 143,106.3 149.5,110.6 154.2,114.8 159.4,119 161.6,117 157.8,111.2 152.5,106.4 145,102.3 134.5,97.9 125,97.6 114.9,98 104.8,98.7 94.7,99.9 83.5,102.6 74.3,107.7 68.4,112.1 62.5,116.9" fill="#e3262a" opacity="0.5"/>
<path d="M158.5 114.5h1.1M91.6 101.1h1.1M113.9 98.5h1.1M119.5 101h1.1M66.7 113.9h1.1M100.2 100.7h1.1M152.3 111.8h1.1M133.2 100h1.1M69.6 111.4h1.1M131.2 98h1.1M142.5 105.9h1.1M141.6 105.5h1.1M124 99.3h1.1M154.8 109h1.1M83.5 103.2h1.1M67 113.6h1.1M146.4 105.3h1.1M74.4 108.2h1.1M142.4 102.6h1.1M116.1 98.4h1.1M147 105.5h1.1M91.8 101.8h1.1M81.2 104h1.1M99.8 102.3h1.1M69.1 113.8h1.1M130.4 99.3h1.1M143.4 106.2h1.1M129.7 100.2h1.1M148.1 106.9h1.1M134.3 99.6h1.1M147.6 105.3h1.1M74.1 109.4h1.1M143 101.9h1.1M157.2 114h1.1M156.5 110.6h1.1M120.1 99.3h1.1M102.4 101.1h1.1M154.6 110.1h1.1M157.2 116.2h1.1M75 109.9h1.1M150.9 106h1.1M153.6 113h1.1M89 101.7h1.1M102.8 102.2h1.1M129.7 98.2h1.1M147.6 108.2h1.1M100.6 100.5h1.1M115.6 98.5h1.1M153 112.1h1.1M159.2 118.3h1.1M134.4 101.4h1.1M81.9 104.1h1.1M70.6 112.6h1.1M120.9 99.7h1.1M125.6 98.9h1.1M138.2 101.5h1.1M152.2 109.3h1.1M94.3 103.3h1.1M151.1 110.1h1.1M95.9 100.9h1.1M150.3 107.8h1.1M129.4 100.4h1.1M133.3 100h1.1M157.1 112h1.1M71.2 112.8h1.1M155.9 110h1.1M137.5 103.3h1.1M137.2 102.3h1.1M105.2 99.1h1.1M80 107.1h1.1M128.3 98.2h1.1M65.2 114.7h1.1M115.4 98.5h1.1M92.5 103.7h1.1M74.4 109.6h1.1M143.8 102.1h1.1M146.8 107.9h1.1M124.9 98.6h1.1M148.5 106.4h1.1M155.6 114.7h1.1M153.5 110.2h1.1M152.5 113.3h1.1M150.9 106.3h1.1M136.6 102.5h1.1M123.3 97.9h1.1M140.3 104.4h1.1M155 108.7h1.1M108.1 99.9h1.1M71.2 111.3h1.1M131.2 98.4h1.1M109.3 98.9h1.1M146.8 103.4h1.1M89.1 103.6h1.1M158.8 112.9h1.1M76.7 108.4h1.1M131.3 98.4h1.1M148.8 107h1.1M75.9 108.3h1.1M128.3 99.1h1.1M161.6 116.9h1.1M103.2 101.3h1.1M117.6 99.3h1.1M114.9 98.9h1.1M100.3 100h1.1M127.7 99.1h1.1M94.1 100.5h1.1M66.9 114.2h1.1M73.6 109.8h1.1M95.2 100.8h1.1M138.3 101.2h1.1M153.2 110.9h1.1M102.1 100.7h1.1M105.8 98.7h1.1M120.2 98h1.1M107.9 100.2h1.1M113.7 99.8h1.1M140.5 105.1h1.1M132 99.5h1.1M73.7 108.6h1.1M145.5 104.2h1.1M151.4 111.4h1.1M108.8 101.3h1.1M80.9 106.9h1.1M148.4 105.6h1.1M144.4 103.6h1.1M76.8 107h1.1M142.4 103.1h1.1M159.1 113.9h1.1M96.6 102.7h1.1M150.6 111.1h1.1M117.6 99h1.1M88.1 103.7h1.1M73.1 110.5h1.1M66.4 114.3h1.1M133.7 100.7h1.1M138.7 102.5h1.1M157.6 112.2h1.1M138 102.4h1.1M156.9 112.4h1.1M116.9 98.1h1.1M102.1 100.2h1.1M143.5 106.2h1.1M73.1 110.9h1.1M132.5 101h1.1M128.4 100.3h1.1M156.3 113.2h1.1M90.6 103.9h1.1M104.4 100.5h1.1M139.2 102.2h1.1M83.5 103.1h1.1M126.8 98.4h1.1M155.8 111.2h1.1M132.9 98.4h1.1M145.2 105.9h1.1M152.4 111.3h1.1M133.4 101.3h1.1M105.5 99.7h1.1M153.4 108.2h1.1M139.9 104.6h1.1M85 105h1.1M84.3 105h1.1M155.8 115.5h1.1M150.4 108.2h1.1M147.4 108.5h1.1M125.3 100.9h1.1M111.6 100.9h1.1M139 100.3h1.1M125.1 98.5h1.1M155.8 112.1h1.1M91.3 101h1.1M156.1 113.1h1.1M117.9 99.7h1.1M130.7 101.1h1.1M123.6 100.1h1.1M138.1 100.2h1.1M122.3 100h1.1M80.5 105.7h1.1M145.8 106.6h1.1M144.9 103.9h1.1M94 101.6h1.1M148 106.7h1.1M109.5 101.4h1.1M72.9 109.7h1.1M75.3 108.5h1.1M122.7 100.9h1.1M74.5 107.7h1.1M152.8 107.2h1.1M75.5 107.4h1.1M141.6 102.5h1.1M91.8 103.6h1.1M118.2 98.5h1.1M102.4 101.5h1.1M118.5 99.1h1.1M75 108.7h1.1M142.7 105.5h1.1M108.4 101.3h1.1M130.9 99.5h1.1M73.9 108.7h1.1M148.5 107.6h1.1M157.3 113.7h1.1M140 103.7h1.1M88.5 101.7h1.1M118.9 99.8h1.1M93.3 101.7h1.1M137.8 100h1.1M135.1 101.4h1.1M65.8 116.4h1.1M150.5 108.7h1.1M157.7 115.2h1.1M92.3 101.4h1.1M85.2 104.8h1.1M142.4 105.1h1.1M136.4 100.9h1.1M133.9 100.6h1.1M139.8 101.8h1.1M131.7 98.5h1.1M131.7 99.7h1.1M154 109h1.1M131.8 100.4h1.1M143.8 102.5h1.1M91.2 101h1.1M98.6 100.8h1.1M90.7 101.4h1.1M143.2 101.7h1.1M158.2 114.3h1.1M69.8 111.6h1.1M138.1 102h1.1M138.6 100.5h1.1M83.8 105.3h1.1M158.4 112.8h1.1M145.2 106.7h1.1M151.4 108.2h1.1M121.3 98.3h1.1M146.1 103h1.1M156.3 115.3h1.1M137.4 99.4h1.1M151.8 106.1h1.1M156.1 113.5h1.1M77.5 108.8h1.1M156.2 110.4h1.1M113.7 100.1h1.1M87.7 102h1.1M148.3 104.5h1.1M153.7 110.5h1.1M131.9 99.2h1.1M91.7 102.9h1.1M71 112.9h1.1M88.8 101.8h1.1M136.6 101.3h1.1M76.5 109h1.1M69.5 111.8h1.1M141.2 103.5h1.1M133 101.7h1.1M126.7 99.5h1.1M129.8 98.9h1.1M114.9 99.3h1.1M109.6 100.8h1.1M99.3 101.7h1.1M148.6 108.5h1.1M80 105.9h1.1" stroke="#e3262a" stroke-width="1.1" opacity="1.0" fill="none"/>
<path d="M161.7 115.8h1.0M127 103.3h1.0M100.2 99.1h1.0M151 113.3h1.0M106.7 97.4h1.0M62.3 117.2h1.0M108.1 98.4h1.0M110 101.6h1.0M110.4 97.9h1.0M118.7 101.4h1.0M120.4 96.9h1.0M66.1 116.5h1.0M151.4 112.4h1.0M72.6 112.7h1.0M127.6 97h1.0M78.9 109.9h1.0M109.3 98.2h1.0M81.7 103.4h1.0M85.8 106.2h1.0M137.9 105.4h1.0M62.7 119.6h1.0M85.9 101.4h1.0M134.9 103.6h1.0M64.6 117.8h1.0M128.5 95.9h1.0M98.4 103.1h1.0M92.7 99.8h1.0M84.9 101.6h1.0M151.7 113.2h1.0M110.9 102.3h1.0M159.9 119.5h1.0M151.1 112.1h1.0M74.7 105.3h1.0M82.8 102.5h1.0M97.5 97.7h1.0M73.9 112h1.0M101.2 102.9h1.0M111.8 101.6h1.0M114.2 101.3h1.0M75.3 110.7h1.0M107.9 102.3h1.0M102.2 103h1.0M76.1 110.6h1.0M150.3 113.5h1.0M143.4 107.5h1.0M145.4 101.6h1.0M140.7 105.3h1.0M156.9 118.2h1.0M92.8 99.5h1.0M87.6 101.3h1.0M143.4 109.3h1.0M119.4 101.4h1.0M136.2 97.5h1.0M133.2 96.9h1.0M128.4 101.8h1.0M63.2 115.3h1.0M150.4 104.3h1.0M68.8 111.5h1.0M100.7 99h1.0M151.2 104.8h1.0" stroke="#e3262a" stroke-width="1.0" opacity="0.9" fill="none"/>
<path d="M142.7 111.3h1.0M146.3 113.4h1.0M77.9 110.5h1.0M112.3 110h1.0M132 104h1.0M112 109.4h1.0M134.6 113h1.0M122.4 105.9h1.0M122.5 109h1.0M119.9 111h1.0M117.9 106.2h1.0M84.5 108.6h1.0M133.8 114.8h1.0M77.7 109.6h1.0M116.7 110h1.0M103.6 108.3h1.0M121.8 105.9h1.0M94.7 107.5h1.0M80 113.4h1.0M74.9 110.5h1.0M116.4 108.6h1.0M143.1 114.6h1.0M126.3 107.5h1.0M114.6 108.6h1.0M133.6 110h1.0M139.3 109.4h1.0M109.3 109.4h1.0M143.5 117.1h1.0M99 107.2h1.0M76.5 110.5h1.0" stroke="#e3262a" stroke-width="1.0" opacity="0.8" fill="none"/>
<polygon points="96.1,46.2 100.2,49.9 107.8,58 114.9,66.5 121.5,75 128.4,82.4 129.6,81.6 124.5,73 119.1,63.5 112.2,54 103.8,46.1 98.9,42.8" fill="#2f6cb0" opacity="0.22"/>
<path d="M121.3 72.1h1.1M101.6 46.3h1.1M112.2 54.9h1.1M113.7 64h1.1M121.8 75h1.1M128.3 82.2h1.1M108.1 50.5h1.1M101.6 45.5h1.1M114.6 64.5h1.1M107.7 53.7h1.1M124.5 74.8h1.1M100.2 44.6h1.1M122.3 74.5h1.1M109.5 52.1h1.1M109.5 52h1.1M126 76.3h1.1M123.5 75.5h1.1M127.5 80h1.1M108.8 59.1h1.1M101 45.1h1.1M113.8 65.1h1.1M115.6 60.8h1.1M125.4 78.5h1.1M102.9 52.6h1.1M109.5 55h1.1M111.9 58.3h1.1M112.9 56.6h1.1M113.6 60h1.1M104.2 47.5h1.1M117 62.8h1.1M103.9 47.5h1.1M116.3 67.2h1.1M122.7 73h1.1M105.5 49.7h1.1M112.5 59.9h1.1M110.9 55h1.1M108.2 54h1.1M110 60.3h1.1M109.7 56.1h1.1M117 62.7h1.1M124.4 72.8h1.1M108 54.8h1.1M113.8 64.1h1.1M114.3 63.6h1.1M110 53.7h1.1M114.3 65.7h1.1M104.1 47.5h1.1M109.9 57.1h1.1M111.3 55.3h1.1M112.7 63.4h1.1M109.4 58.5h1.1M102.3 50.5h1.1M112.4 57.5h1.1M111.7 60.9h1.1M101.7 47.8h1.1M104.6 49.7h1.1M115.3 61.8h1.1M106.8 56h1.1M119.6 71.7h1.1M119.3 63.8h1.1M102.3 46.6h1.1M108.8 57.5h1.1M126.1 78.1h1.1M109.6 54.9h1.1M117.9 66.6h1.1M110.3 60.6h1.1M111.5 61.4h1.1M113.1 60.4h1.1M118.7 67.1h1.1M101.9 48.5h1.1M123.8 75h1.1M123.6 76.7h1.1M113.6 63.6h1.1M119.2 68.4h1.1M112.4 55.3h1.1M127 80.5h1.1M117.5 69.1h1.1M126.4 80.2h1.1M115.4 60.4h1.1M101 44.3h1.1M122.6 73.9h1.1M102.2 46.4h1.1M127 80.1h1.1M121.6 73.5h1.1M120.3 68.4h1.1M109.2 56.6h1.1M104 49h1.1M127.6 79.1h1.1M112.4 59.9h1.1M120 65.5h1.1M98.1 44.3h1.1M106.9 55.8h1.1M109.9 59.2h1.1M117.6 63.8h1.1M126.9 80.3h1.1M107.1 50.6h1.1M113 58.7h1.1M99.8 44.3h1.1M106.5 50.5h1.1M115 60.9h1.1M123.5 71.7h1.1M117.9 67h1.1M124.9 75.5h1.1M108.4 52.8h1.1M119.9 71.5h1.1M127.7 79.7h1.1M108.1 52.2h1.1M100.2 48.9h1.1M115 65.9h1.1M114.6 63h1.1" stroke="#2f6cb0" stroke-width="1.1" opacity="1.0" fill="none"/>
<polygon points="95.2,49.2 96.2,58 95.2,67.7 93.7,74.6 96.3,75.4 98.8,68.3 99.8,58 98.8,48.8" fill="#2f6cb0" opacity="0.08"/>
<path d="M96 67.2h1.1M96.9 73.1h1.1M98.6 50.7h1.1M95.6 71.4h1.1M97.9 49.9h1.1M98 49.5h1.1M97.4 50.3h1.1M94.1 73.2h1.1M94.9 73.2h1.1M98.1 54.7h1.1M97.1 50.2h1.1M97.5 64.8h1.1M96.4 68.6h1.1M97.6 69.5h1.1M97.4 66.2h1.1M96.6 49.3h1.1M98.3 50.4h1.1M96.1 53.8h1.1M99.4 61.1h1.1M97.7 71.4h1.1M95.7 68.8h1.1M96.4 60.4h1.1M97 67.6h1.1M96.4 74.8h1.1M96.6 64.8h1.1" stroke="#2f6cb0" stroke-width="1.1" opacity="1.0" fill="none"/>
<polygon points="98.8,88 104.4,81.1 110.5,74 114.6,66.9 111.4,65.1 107.5,72 101.6,78.9 96.2,86" fill="#2f6cb0" opacity="0.18"/>
<path d="M100.4 82.3h1.1M104.6 75.7h1.1M100.6 83.3h1.1M109.1 69.7h1.1M110.4 68h1.1M108.7 70.6h1.1M108.5 73.9h1.1M109.5 69.5h1.1M99.4 85.4h1.1M109.3 73.6h1.1M110.2 69.9h1.1M107.1 77.5h1.1M103.4 77.7h1.1M100.1 85.1h1.1M102.3 78.3h1.1M100.6 82.6h1.1M106.6 77.6h1.1M111.6 68.8h1.1M110.7 67.5h1.1M111.8 70.8h1.1M102.6 78.8h1.1M102 80.4h1.1M111.3 71.8h1.1M105.4 75.3h1.1M97.3 86.7h1.1M107.3 73.7h1.1M109.2 69.5h1.1M99.2 87.2h1.1M106.4 77h1.1M105.4 78.6h1.1M110.2 73.1h1.1M105.4 77h1.1M109.4 69.2h1.1M109.4 69h1.1M107 77.7h1.1M97.2 85.6h1.1M111.8 69.8h1.1M111.7 66.3h1.1M100.8 83.9h1.1M109.1 71.3h1.1" stroke="#2f6cb0" stroke-width="1.1" opacity="1.0" fill="none"/>
<polygon points="109.9,70.8 113,78.9 117.4,86.8 120.6,85.2 117,77.1 114.1,69.2" fill="#2f6cb0" opacity="0.18"/>
<path d="M113.3 78.2h1.1M113.9 69.7h1.1M118.6 85.4h1.1M116.5 81h1.1M117.3 83.2h1.1M116.5 81.8h1.1M115.9 75.8h1.1M115.5 83.4h1.1M117.2 82.9h1.1M114.1 72.3h1.1M119 85.2h1.1M117.8 80.3h1.1M115.3 77.8h1.1M116.4 84.9h1.1M112.9 75.5h1.1M115.4 74.8h1.1M113.4 72.6h1.1M119.3 83.1h1.1M117.7 79.3h1.1M113.4 77.8h1.1M117.7 84.2h1.1M113.9 74.8h1.1M115.4 73.1h1.1M114.5 72.7h1.1M116.4 75.9h1.1M116.3 76.4h1.1M111.9 73.5h1.1M114.8 80.5h1.1M117.8 84.6h1.1M115.9 81.3h1.1M116 77.1h1.1M112.8 78.1h1.1M118.5 82h1.1M114.5 74.8h1.1M116.8 81.2h1.1" stroke="#2f6cb0" stroke-width="1.1" opacity="1.0" fill="none"/>
<polygon points="99,50 112,62 118,75 117,86 100,86 98,70" fill="#2f6cb0" opacity="0.05"/>
<path d="M110.5 64.9h1.1M99.1 72.1h1.1M111.7 75.9h1.1M110.6 82.5h1.1M101 60.4h1.1M110.3 66.6h1.1M112.9 76.7h1.1M107.8 84h1.1M98.9 55.8h1.1M105.8 81.5h1.1M110.3 82.8h1.1M98.4 64.6h1.1M106.3 80.4h1.1M107.2 76.5h1.1M111.1 74.9h1.1M101.4 59.9h1.1M117.1 84.6h1.1M110.3 75h1.1M101 84.4h1.1M102.8 76.8h1.1M102.7 73.6h1.1M103.2 66.7h1.1M103.1 77.8h1.1M104.1 79.9h1.1M116.8 80.2h1.1M113.1 85h1.1M105.8 71.9h1.1M105.7 81.4h1.1M108.7 86h1.1M115 77.6h1.1M100.1 80.7h1.1M117.3 74.3h1.1M100.3 56.9h1.1M104.6 81.2h1.1M112.1 63.2h1.1M100.5 65.2h1.1M114.7 69.3h1.1M109.3 85.2h1.1M117 78.2h1.1M106.5 57.4h1.1M105.4 83.6h1.1M104.5 60.8h1.1M101.7 78h1.1M98.5 69.8h1.1M102.1 54h1.1M114 72.5h1.1M103.6 69.9h1.1M104 62.6h1.1M104.8 83h1.1M113.1 82.3h1.1M99.9 70.4h1.1M101.9 71.1h1.1M112.3 78.8h1.1M100.3 64.3h1.1M104.7 63.7h1.1M102.2 61.6h1.1M109.3 61h1.1M110.3 64.8h1.1M104.4 66.2h1.1M106.9 63.6h1.1" stroke="#2f6cb0" stroke-width="1.1" opacity="1.0" fill="none"/>
<polygon points="104.5,176 108,174.5 112,175 115.5,178 115,183 112,187 108,186.5 105,183" fill="#9b55c0" opacity="0.45"/>
<path d="M107 175.4h1.1M108.7 175.2h1.1M109.2 182.4h1.1M112.5 178.7h1.1M107.5 175.7h1.1M105.1 176.7h1.1M111.9 180.1h1.1M113.2 179.8h1.1M114.7 178.6h1.1M105.1 181.5h1.1M108.3 177.6h1.1M110.8 182.1h1.1M107.4 175.4h1.1M105.8 178.9h1.1M110.1 183.6h1.1M105.4 181.3h1.1M106 182.6h1.1M112.7 179h1.1M115.1 180.1h1.1M112.3 178.2h1.1M108.4 185.2h1.1M111.2 186.7h1.1M106.2 177.8h1.1M111.6 179.8h1.1M113.2 180.4h1.1M113.4 179.3h1.1M115.2 180h1.1M113.9 179.9h1.1M108.5 185.7h1.1M109.5 185.3h1.1M107.4 181.9h1.1M113.5 178.4h1.1M105.9 178.1h1.1M111.1 184.8h1.1M109.4 180.7h1.1M109.2 186.3h1.1M114.8 182h1.1M113.6 183.2h1.1M106.1 182.1h1.1M112.9 185.8h1.1M112.6 185h1.1M111.9 177.6h1.1M111.7 179.9h1.1M111.2 182.3h1.1M112 183.3h1.1M111.9 183.8h1.1M114.1 182.4h1.1M109.7 183.7h1.1M106.1 179.1h1.1M110.7 181.5h1.1M110.2 185.3h1.1M110.1 185h1.1M109.6 177.8h1.1M106.3 182.7h1.1M108.3 184.9h1.1M106.8 183.6h1.1M109 176.3h1.1M111.7 184.7h1.1M112.6 184.8h1.1M110.9 180.1h1.1" stroke="#9b55c0" stroke-width="1.1" opacity="1.0" fill="none"/>
<path d="M99.6 184.4 L102 190.3" stroke="#e57cc0" stroke-width="1.4" fill="none" opacity="0.9" stroke-linecap="round" stroke-linejoin="round"/>
<path d="M92 185.2 L95.4 197" stroke="#a9535c" stroke-width="1.2" fill="none" opacity="0.9" stroke-linecap="round" stroke-linejoin="round"/>
<path d="M122.5 32.1 L130.3 41.4" stroke="#3ec3c3" stroke-width="1.0" fill="none" opacity="0.9" stroke-linecap="round" stroke-linejoin="round"/>
<path d="M130.3 41.4 L134 42.6 L137 42.4 L141 43.8 L145.2 44.2" stroke="#b5bd2d" stroke-width="1.4" fill="none" opacity="0.85" stroke-linecap="round" stroke-linejoin="round"/>
<text x="104.6" y="31.3" font-size="9.5" textLength="46" lengthAdjust="spacingAndGlyphs">Macrophage</text>
<text x="131.6" y="51.8" font-size="9.5" textLength="22.4" lengthAdjust="spacingAndGlyphs">T_cell</text>
<text x="81.3" y="70.5" font-size="9.5" textLength="55" lengthAdjust="spacingAndGlyphs">Spermatogonia</text>
<text x="100.8" y="106.4" font-size="9.5" textLength="41.6" lengthAdjust="spacingAndGlyphs">Sertoli_cell</text>
<text x="100.8" y="137.5" font-size="9.5" textLength="50" lengthAdjust="spacingAndGlyphs">Spermatocyte</text>
<text x="169.4" y="134.5" font-size="9.5" textLength="35.4" lengthAdjust="spacingAndGlyphs">Unknown</text>
<text x="29" y="164.9" font-size="9.5" textLength="38.4" lengthAdjust="spacingAndGlyphs">Spermatid</text>
<text x="98.9" y="172.5" font-size="9.5" textLength="41.7" lengthAdjust="spacingAndGlyphs">Leydig_cell</text>
<text x="101" y="197.6" font-size="9.5" textLength="19" lengthAdjust="spacingAndGlyphs">SMC</text>
<text x="62.5" y="205.5" font-size="9.5" textLength="58.3" lengthAdjust="spacingAndGlyphs">Endothelial_cell</text>
<polygon points="262,141 269.6,135.3 279.3,129.7 292.1,131.3 301.8,132.9 308.2,136.1 324.2,135.3 335.5,138.5 349.9,143.4 362.8,148.2 359.6,149.8 343.5,153 330.7,162.6 321,164.2 313,156.2 305,148.2 299,152 297,165 292,155 282,146 270,143" fill="#ec7f2a" opacity="0.3"/>
<path d="M294.2 133.6h1.1M335.1 150h1.1M305.1 139.9h1.1M335.6 148.9h1.1M284.8 145.3h1.1M271.6 136.4h1.1M282.9 144.6h1.1M276.2 137.7h1.1M335 157.9h1.1M317.3 148.3h1.1M342.3 151.7h1.1M341.7 151.5h1.1M334 157.5h1.1M272.9 142.2h1.1M275.2 133.1h1.1M319.1 159.2h1.1M317.7 148.9h1.1M297.8 149.1h1.1M296.4 159.7h1.1M290.4 141h1.1M325.4 156.2h1.1M332.1 137.9h1.1M317.4 140.9h1.1M342.3 148.2h1.1M295.1 154.5h1.1M330.1 161.5h1.1M337.7 146.1h1.1M331 138.9h1.1M271.3 139.9h1.1M353.8 147.2h1.1M319.5 149.4h1.1M286.6 131.5h1.1M340.6 143.5h1.1M285.7 132.9h1.1M280.7 135.2h1.1M313.4 148.1h1.1M316.6 138.1h1.1M290.5 145h1.1M293 139.8h1.1M283.5 143.9h1.1M298 150.3h1.1M314.5 136.9h1.1M280.9 130h1.1M317.6 156.2h1.1M323.2 162.4h1.1M350.6 149.8h1.1M332.9 159.2h1.1M300.3 133.6h1.1M274.8 144.2h1.1M288.7 151.5h1.1M333.7 157.8h1.1M328.9 159.4h1.1M272 141.1h1.1M287.7 135.8h1.1M322.1 146.8h1.1M298.9 140.8h1.1M325.6 142.7h1.1M318.5 149.7h1.1M316.4 147.3h1.1M318.6 154.2h1.1M317.6 158.7h1.1M313.1 154.4h1.1M348.7 146.7h1.1M301.8 135.7h1.1M272.4 136.4h1.1M302.9 140.3h1.1M317.8 150.6h1.1M292.5 150.2h1.1M349.7 146.1h1.1M306.4 145.7h1.1M337.9 153.3h1.1M325.8 143.2h1.1M287.2 141.4h1.1M272.7 141h1.1M319.8 150.7h1.1M290.1 140.9h1.1M269.6 139.8h1.1M290.5 151h1.1M326.7 149h1.1M308.2 144.2h1.1M301.8 136.3h1.1M279.9 139.7h1.1M324.6 159.9h1.1M321.6 144.7h1.1M326 162.3h1.1M334.6 144.4h1.1M289.2 143.2h1.1M343.8 146.7h1.1M304.1 134.4h1.1M297.9 150.1h1.1M298.8 149.7h1.1M317.1 138.5h1.1M325 157.3h1.1M293.6 132h1.1M282.5 145.4h1.1M325.3 158.1h1.1M271.1 137.2h1.1M318.5 153.2h1.1M327.5 137.4h1.1M279 131.7h1.1M329.2 141.1h1.1M335.1 146.8h1.1M320.9 152.9h1.1M300.9 133.9h1.1M292.7 150.6h1.1M277.5 143.4h1.1M302.5 147.4h1.1M321 149.6h1.1M298.6 132.8h1.1M273.9 134h1.1M301.1 143h1.1M297.1 140.4h1.1M326.6 142h1.1M321.4 152.6h1.1M330.4 142h1.1M265.7 141.4h1.1M315.6 145.1h1.1M327 142.1h1.1M346.4 147.4h1.1M321.6 152.8h1.1M340.5 155.1h1.1M318.9 142.7h1.1M306.2 148.7h1.1M317.3 151h1.1M323.1 142.4h1.1M324.9 156.7h1.1M312.1 153.4h1.1M294 144.2h1.1M319.7 156.6h1.1M293.5 134.7h1.1M299.9 148.1h1.1M330.6 159.8h1.1M298.2 142.1h1.1M309.3 138h1.1M283 133.4h1.1M300.1 135.7h1.1M331.1 159.6h1.1M297.8 158.5h1.1M307.2 145.1h1.1M323.7 145.7h1.1M324.7 151.1h1.1M321.6 148.2h1.1M298.7 140.4h1.1M323.2 161.1h1.1M337.6 152.2h1.1M290.9 132.3h1.1M302 139.6h1.1M355.2 149.2h1.1M282.3 137.5h1.1M348.5 144.7h1.1M292 151.2h1.1M318.4 159.1h1.1M326.3 137.3h1.1M333.1 153.4h1.1M313.6 142.6h1.1M293.9 155.2h1.1M343.8 147.4h1.1M268.8 137.8h1.1M298 152.3h1.1M334.9 145.1h1.1M312.9 150.2h1.1M323.6 149.5h1.1M361.3 147.8h1.1M316.5 155.3h1.1M301.5 142.3h1.1M308 141.7h1.1M323.6 135.4h1.1M331.2 146h1.1M304.5 147.5h1.1M302.2 140.5h1.1M339.7 151h1.1M289 146.9h1.1M290.5 139.6h1.1M309.9 148.3h1.1M325.5 163.4h1.1M348.2 148.3h1.1M347.6 149h1.1M313.3 137.1h1.1M321.6 163h1.1M308.3 143.7h1.1M321.9 146.2h1.1M291.5 148.3h1.1M274 134h1.1M316.8 152h1.1M294 149.1h1.1M301.6 148.6h1.1M354.4 148.2h1.1M319.8 149.8h1.1M299.7 139.8h1.1M326.4 157.4h1.1M264.5 139.4h1.1M285.7 137.5h1.1M332.6 158.5h1.1M276.2 140.4h1.1M330.7 148.4h1.1M328.2 159.7h1.1M285.3 144.5h1.1M297.9 157.6h1.1M279.2 141.9h1.1M317.5 149.6h1.1M329.9 151.4h1.1M311 142.8h1.1M321.1 139.4h1.1M351.8 144.8h1.1M301.3 146h1.1M333 151.2h1.1M291.9 137h1.1M321.9 141.6h1.1M268.7 142.5h1.1M323.8 148.2h1.1M278.6 141.7h1.1M270.2 138.4h1.1M267.7 138.1h1.1M304 140.6h1.1M319.1 155.6h1.1M329 137h1.1M333 139.2h1.1M328.2 153.3h1.1M318.4 150.6h1.1M328.6 146.7h1.1M341.1 140.5h1.1M280.9 131.9h1.1M298.1 149.6h1.1M290.6 147.3h1.1M293.6 137h1.1M288 142.5h1.1M294 139.9h1.1M324.5 147.8h1.1M327.9 155.2h1.1M309.7 141.6h1.1M315.6 156h1.1M331.1 144.1h1.1M286.4 146.8h1.1M304.1 137.5h1.1M339 151.9h1.1M299.8 139.1h1.1M355.8 147h1.1M292.6 142.4h1.1M309.2 147.8h1.1M350.5 151h1.1M316.8 137.1h1.1M348.8 144.9h1.1M311.3 146h1.1M324.5 154.9h1.1M270.1 137h1.1M338.1 153h1.1M353.4 150.3h1.1M320.8 137.6h1.1M314.5 157h1.1M335.8 149.6h1.1M326 144.4h1.1M300.5 145h1.1M333 142.3h1.1M296.6 159.4h1.1M282.9 145.9h1.1M271.8 136.4h1.1M293.5 143.9h1.1M295.7 143.3h1.1M301.1 139.8h1.1M297 158.1h1.1M339.9 144.4h1.1M273.1 138.7h1.1M297.3 133.1h1.1M329.5 153.1h1.1M322.2 153.1h1.1M272 139.5h1.1M297.4 151.3h1.1M296.2 163.2h1.1M323 135.4h1.1M280 133.7h1.1M279.6 131.3h1.1M354.3 146.8h1.1M311.5 137.8h1.1M348.2 146.6h1.1M314.7 156.2h1.1M278.6 135.7h1.1M321.3 162.5h1.1M316.8 157.6h1.1M323.3 155.1h1.1M297.9 143.1h1.1M306.6 136.9h1.1M303.1 133.8h1.1M317.2 159.3h1.1M282.9 130.9h1.1M348.8 148.4h1.1M308.3 149h1.1M283.8 137h1.1M300 137h1.1M286.2 137.7h1.1M313.5 153.9h1.1M311.8 143.2h1.1M305.2 142h1.1M308.1 141.5h1.1M280 143.6h1.1M307 144h1.1M323.1 156.9h1.1M320.7 144.4h1.1M302.1 137.8h1.1M278.8 136.1h1.1M302.4 140.5h1.1M299.9 143.4h1.1M269.6 139.6h1.1M327.1 161.1h1.1M295.6 143.8h1.1M358.7 149h1.1M277.8 138.7h1.1M288.7 146.5h1.1M278.4 141.9h1.1M332.1 158.5h1.1M292.6 153.9h1.1M276.1 136h1.1M317.6 155.7h1.1M306.7 147.6h1.1M276 140.9h1.1M321.3 152.9h1.1M297 151.8h1.1M272.6 140.7h1.1M303.8 148.1h1.1M342.6 142.2h1.1M305.9 140.6h1.1M328.5 151.4h1.1M317 159.5h1.1M326.1 145.3h1.1M267.3 139.8h1.1M294.6 140.8h1.1M295.2 159.7h1.1M332.5 156h1.1M286.2 136.8h1.1M348.1 149h1.1M325.7 160.6h1.1M295.7 138.7h1.1M328.8 140.8h1.1M312.9 155h1.1M294.7 145.3h1.1M345.5 147.1h1.1M339.6 152h1.1M284.6 143.9h1.1M320.8 150.7h1.1M291.4 151.2h1.1M299.2 135.5h1.1M337.8 145.1h1.1M326.5 155.6h1.1M294.2 148.8h1.1M273.8 137.9h1.1M352 145.2h1.1M297.8 142.7h1.1M320.2 159.9h1.1M331.4 158.4h1.1M287.6 140.4h1.1M310.8 138.5h1.1M288.4 139.7h1.1M298.2 154.4h1.1M291.4 131.3h1.1M340.2 146.8h1.1M286.2 131h1.1M298.4 135.4h1.1M327.7 146.7h1.1M354.2 148.5h1.1M338.6 153.8h1.1M312 138.4h1.1M319.3 146.4h1.1M296.5 147.5h1.1M340.3 152.8h1.1M332.8 147.3h1.1M295.8 154.6h1.1M280.2 142.3h1.1M333.1 142.4h1.1M346.1 146.7h1.1M327.4 143.4h1.1M288.8 139.7h1.1M315.7 147.3h1.1M311.1 143.6h1.1M304.7 146.3h1.1M302.6 147.9h1.1M314.1 154.2h1.1M317.3 158.6h1.1M301 143.2h1.1M294.2 140.1h1.1M347.1 145.2h1.1M295.1 157.1h1.1M315.8 153.7h1.1M326 157.6h1.1M354 149.5h1.1M290.8 136.5h1.1M291.9 144.6h1.1M277.6 137.6h1.1M302.7 140.8h1.1M291 152.9h1.1M350.1 151.6h1.1M323.1 158.5h1.1M323.8 157.2h1.1M328.5 160h1.1M345.1 142.4h1.1M292.2 145.6h1.1M323.9 160.1h1.1M292.8 150.5h1.1M315.2 148.4h1.1M300 139.9h1.1M269.2 137h1.1M284 147.5h1.1M349.3 150.2h1.1M298.3 148.6h1.1M294.1 147.6h1.1M313.5 154.2h1.1M331.6 149.1h1.1M337.5 154h1.1M325.4 149h1.1M279 136.7h1.1M315.1 145.5h1.1M282.6 130.6h1.1M318.6 159.5h1.1M315.9 142.7h1.1M277.1 139.6h1.1M333.4 141.5h1.1M342.8 145h1.1M300.9 146.8h1.1M301.4 145h1.1M348.5 150.2h1.1M338.3 155.2h1.1M284.3 134.5h1.1M320.4 147.6h1.1M317.7 159.5h1.1M289.1 142.6h1.1M341.4 142.3h1.1M316.8 142.6h1.1M289.2 152.4h1.1M268.9 137.7h1.1M282.2 133h1.1M298.9 141.7h1.1M310.2 136.2h1.1M319.9 159.3h1.1M330.1 161.8h1.1M338.7 147h1.1M311.1 145h1.1M305.5 146.6h1.1M302 133h1.1M320.4 140.5h1.1M290.1 138.8h1.1M290.5 132.8h1.1M285.9 142.4h1.1M346.8 151h1.1M319.9 149.7h1.1M317.2 158.5h1.1M272.6 134.7h1.1M296.3 160.5h1.1M314.3 139.1h1.1M340.5 153.4h1.1M337.9 145.8h1.1M321.4 153.4h1.1M329.6 156h1.1M284.5 141.4h1.1M279 141.4h1.1M334.6 152.5h1.1M295.9 152.9h1.1M300.8 134h1.1M330.7 158h1.1M309.8 138.5h1.1M292.7 132.4h1.1M333.9 158.1h1.1M318.9 161.6h1.1M337.7 142.8h1.1M280.1 135.4h1.1M300.9 146.5h1.1M293.8 153.8h1.1M319.9 158.3h1.1M307.8 147.4h1.1M337 151.4h1.1M278.7 141.3h1.1M295.2 139.1h1.1M316.2 152.8h1.1M282.5 145.8h1.1M294.4 143.4h1.1M294.5 132.9h1.1M301.9 142.7h1.1M328.8 144.2h1.1M343.1 144.6h1.1M294.9 135.3h1.1M280.3 140.3h1.1M268.1 141.2h1.1M303.5 142.8h1.1M273.1 140.5h1.1M331.5 144.8h1.1M306.7 147.3h1.1M289.2 141.1h1.1M339.7 150.4h1.1M299.5 149.1h1.1M327.5 140.4h1.1M340.7 152.3h1.1M337.7 156.4h1.1M319.3 145.9h1.1M297.5 137.2h1.1M329.1 157.4h1.1M345.1 146.1h1.1M330.7 141.9h1.1M288.9 145.1h1.1M292.2 151.5h1.1M283 144.9h1.1M320.7 154h1.1M327.1 137.3h1.1M311 153.1h1.1M321.9 136.3h1.1M327.6 152.9h1.1M309.9 148.6h1.1M316.8 148.8h1.1M338.7 145h1.1M298.9 145.3h1.1M295.2 133.4h1.1M298.1 157.6h1.1M323.1 146.3h1.1M333.8 154.9h1.1M320.9 142h1.1M296.1 147.4h1.1M288.8 145.8h1.1M326.8 142h1.1M302.1 137.7h1.1M288.6 132.3h1.1M346.8 151.6h1.1M316.6 147h1.1M319.3 154h1.1M335.2 147.2h1.1M313.2 149.3h1.1M317.1 145.3h1.1M296.4 142.6h1.1M294.3 159.2h1.1M282.2 144.1h1.1M328.6 150.4h1.1M331.3 144.2h1.1M334.2 145.4h1.1M323.5 152.2h1.1M294.5 156.7h1.1M269.8 137.6h1.1M344.5 143.5h1.1M337 140.9h1.1M294.6 157.4h1.1M320.5 137.6h1.1M272.6 134.2h1.1M328.4 162.5h1.1M301 144.2h1.1M336.3 141.1h1.1M326.9 162.2h1.1M283.7 146.1h1.1M330.3 142.7h1.1M323 160.7h1.1M269 141.2h1.1M296.7 144.1h1.1M333.6 139.1h1.1M339 141.7h1.1M279.8 131h1.1M309.1 148.6h1.1M312 137.7h1.1M289.1 146.1h1.1M316.1 147.6h1.1M321.6 154.5h1.1M281.5 140.3h1.1M341 149.8h1.1M283 137.7h1.1M273.9 140.1h1.1M309.2 148.7h1.1M304.1 140.7h1.1M337.7 145.2h1.1M323.6 139.3h1.1M295.3 146.1h1.1M275 134.5h1.1M299 139.5h1.1M323.1 157.5h1.1M312 148.3h1.1M310.1 143.3h1.1M320.8 136.7h1.1M330.2 142.9h1.1M350.8 151.5h1.1M297.5 155.4h1.1M288.4 136.6h1.1M345.1 144.7h1.1M324.4 155.4h1.1M265.2 138.7h1.1M320.6 140.8h1.1M295.3 152.4h1.1M297.7 145h1.1M330 157.7h1.1M325.4 154.1h1.1M315.7 142.8h1.1M326.8 144.5h1.1M305.6 136.5h1.1M337.6 154.2h1.1M322.9 152.8h1.1M356.5 147.5h1.1M334.2 146.7h1.1M329.4 157.7h1.1M294.4 137h1.1M324.2 154.4h1.1M285.4 136.1h1.1M318.9 136.7h1.1M277.8 134.5h1.1M293.1 132.4h1.1M311.1 152.8h1.1M295.6 140.3h1.1M307.9 143.8h1.1M329 158.2h1.1M278.9 142.4h1.1M283.3 138.4h1.1M309 138.5h1.1M344.9 151.8h1.1M353.3 151h1.1M299.9 140.2h1.1M303.7 136h1.1M325.1 162.5h1.1M293.2 137h1.1M309.6 151.1h1.1M292.2 146.7h1.1M325.2 145.9h1.1M308.2 145.3h1.1M340.2 153.5h1.1M322.8 163.6h1.1M330.3 155.2h1.1M285 142.1h1.1M268.3 140.7h1.1M326.1 149.4h1.1M283.6 145.6h1.1M311.2 153.5h1.1M279.2 144h1.1M314.2 151.4h1.1M323.2 160.7h1.1M347.9 147.7h1.1M296.5 135.8h1.1M320.5 140.7h1.1M280.9 144.2h1.1M318.4 137.6h1.1M328.3 142.9h1.1M275.6 144.1h1.1M296 162.7h1.1M327.5 141.1h1.1M315.5 148.5h1.1M331.1 141.7h1.1M281.5 140.7h1.1M291.8 145.2h1.1M270.2 139.1h1.1M265.8 138.7h1.1M273 141.2h1.1M328.1 152.7h1.1M268 142.1h1.1M326.6 152.6h1.1M313.3 142h1.1M308.7 147.6h1.1M280 143.6h1.1M330.3 160h1.1M323.5 151.5h1.1M275.9 139.9h1.1M294 134.2h1.1M321.2 154.3h1.1M274.9 142h1.1M278.8 143.3h1.1M330.9 139.7h1.1M286 140.2h1.1M300 148.9h1.1M324.9 143.2h1.1M331.7 138.3h1.1M331.7 161.4h1.1M323.2 160.5h1.1M325.1 136.2h1.1M305.4 141.1h1.1M280.7 141.1h1.1M327.3 138.6h1.1M304.5 135h1.1M329.8 145.8h1.1M343.1 146h1.1M281.2 138.6h1.1M313 142.3h1.1M310.3 144.7h1.1M273.6 140.7h1.1M276.2 143.2h1.1M284.8 131.3h1.1M338.6 139.8h1.1M339.5 156h1.1M296.7 134.6h1.1M276.4 133.6h1.1M296.7 137.6h1.1M351.8 145.1h1.1M323.1 136.4h1.1M329.9 161.2h1.1M330.1 140.8h1.1" stroke="#ec7f2a" stroke-width="1.1" opacity="1.0" fill="none"/>
<path d="M309.5 155.3h1.0M349.4 153.4h1.0M305.4 134.3h1.0M292.9 131.1h1.0M327.7 136.2h1.0M350.6 153h1.0M275.7 146.6h1.0M295.8 167.2h1.0M343.9 154.6h1.0M304.4 152h1.0M345.1 154h1.0M314.3 157.7h1.0M289.8 153.7h1.0M332.7 135.5h1.0M323 135.1h1.0M312.9 158.2h1.0M335.8 158.8h1.0M308.3 135.7h1.0M306.3 149.5h1.0M308.4 154.2h1.0M330.9 136.3h1.0M331.8 163.8h1.0M334.7 159.7h1.0M309.6 156h1.0M334.5 160.2h1.0M293.4 129.8h1.0M287.5 128.5h1.0M292.3 160.8h1.0M260.6 138.4h1.0M297.6 161.4h1.0M316.8 134.3h1.0M265.4 137.4h1.0M350.1 152.4h1.0M319.4 134.1h1.0M359.3 143.2h1.0M335.6 159.9h1.0M313.8 159.1h1.0M357.2 145.1h1.0M269.5 143.2h1.0M291.9 158.1h1.0M341.3 156.8h1.0M348.9 153.4h1.0M357.9 145.1h1.0M300 153h1.0M325 164.7h1.0M288.9 129.9h1.0M290.5 155.6h1.0M357.2 145.7h1.0M278.2 129.3h1.0M348 139.6h1.0M322.9 165.2h1.0M363 147.7h1.0M310.6 154.5h1.0M351.7 140.6h1.0M286.8 150.9h1.0M308.9 135.5h1.0M361.7 149.5h1.0M269.7 144.1h1.0M308.6 135.7h1.0M363.9 151.7h1.0M294.7 163.3h1.0M355.7 144.9h1.0M290.9 154.5h1.0M329.8 135.5h1.0M329.5 164.5h1.0M271.2 130.4h1.0M288.7 152.6h1.0M309 134.3h1.0M270.5 133.1h1.0M343.9 137.7h1.0M274.8 146h1.0M279.1 129.1h1.0M330.1 162.9h1.0M317.4 135.4h1.0M299.6 132.3h1.0M361.4 145.9h1.0M268.8 133.6h1.0M282.1 147.2h1.0M294.4 166h1.0M323.5 165h1.0M303.1 149.5h1.0M302.6 149.8h1.0M340 156.8h1.0M362.5 146.1h1.0M361 145.3h1.0M331.2 134.6h1.0M341.2 138.6h1.0M271.1 143.3h1.0M354.2 143.7h1.0M295.8 164.3h1.0M353.6 152.7h1.0M264 141.7h1.0M339.4 138.7h1.0M303.2 132.3h1.0M271 132.8h1.0M268.5 144.8h1.0M356.7 153.9h1.0M298.2 131.6h1.0M303.5 149.7h1.0M303.8 151.6h1.0M293.2 160.5h1.0M325.4 134.7h1.0M317.9 162.8h1.0M294.2 162.6h1.0M296.1 129.6h1.0M308.6 152.1h1.0M298.4 157.7h1.0M272.7 144.4h1.0M346 153.4h1.0M320 134.8h1.0M285.3 128.1h1.0M346.5 153h1.0M337.3 158.5h1.0M321.9 164.3h1.0M303.6 133.4h1.0M286.2 128.9h1.0M300 161.7h1.0M283.1 147.4h1.0M304.3 131.3h1.0M323.9 164.4h1.0M293.8 161.9h1.0M317.2 133.5h1.0M348.7 152.8h1.0M259.1 138.7h1.0M344.2 153.9h1.0M298.4 163.1h1.0M263.7 138.4h1.0M278.7 147.3h1.0M286 153.4h1.0M315.3 161.9h1.0M297.5 161.6h1.0M312.6 133.8h1.0M352.4 154.4h1.0M296.4 165h1.0M280.6 146.1h1.0M295.1 130.3h1.0M340.9 139.6h1.0M286.6 152.5h1.0M264.3 138.9h1.0M265.3 141.9h1.0" stroke="#ec7f2a" stroke-width="1.0" opacity="0.9" fill="none"/>
<polygon points="386.5,132.5 390,133 390.5,135.5 387,135.5" fill="#ec7f2a" opacity="0.7"/>
<path d="M387.4 133.3h1.1M389.6 134.2h1.1M388.5 135.5h1.1M389 134.6h1.1M387.6 133.8h1.1M386.9 132.7h1.1M386.8 133.6h1.1M390 134.7h1.1" stroke="#ec7f2a" stroke-width="1.1" opacity="1.0" fill="none"/>
<polygon points="236.7,186.6 238.9,174.7 243.4,164.3 247.9,156.8 255.3,149.4 261.3,144.9 268.7,141.5 277,140.5 284,142 290,148 294,156 297,168.7 297,177.7 294.1,189.6 286.6,197 274.7,203 259.8,205.2 244.9,198.5" fill="#4aa94a" opacity="0.9"/>
<path d="M282.8 200.5h1.0M270 140.8h1.0M263.1 143.9h1.0M296.4 165h1.0M250.7 153h1.0M293 153.2h1.0M238.3 176.2h1.0M243.8 197h1.0M246.8 155.8h1.0M244.2 158.6h1.0M288.4 196.4h1.0M263 144h1.0M279.2 201.7h1.0M297.7 179.3h1.0M279.3 202.3h1.0M297.2 177.8h1.0M279.4 140h1.0M235.7 184.6h1.0M249.7 200.8h1.0M236.7 180h1.0M298.5 170.8h1.0M274 204h1.0M298.1 166.1h1.0M296.2 182.8h1.0M297.3 179.2h1.0M294.5 155.4h1.0M286.3 198.8h1.0M284.8 141.3h1.0M275.6 139.1h1.0M247 156.4h1.0M246.6 158.6h1.0M252.1 150.9h1.0M286.3 198.1h1.0M289.3 195h1.0M243.6 197.2h1.0M261.2 145h1.0M258 205.1h1.0M238.5 190.9h1.0M239.4 172.3h1.0M237.4 177.1h1.0M288.3 195.4h1.0M299 177.3h1.0M268 204.7h1.0M294.5 154.2h1.0M288.8 144.9h1.0M236.4 188.6h1.0M264.3 143.3h1.0M280.6 141.1h1.0M237.7 180.2h1.0M255.6 148.5h1.0M282 199.8h1.0M248.9 200.4h1.0M285 141.4h1.0M271.2 140.4h1.0M291.2 194.8h1.0M244.3 199.4h1.0M259.6 145.5h1.0M296.4 164.2h1.0M294 155.6h1.0M238.8 172.8h1.0M254.8 203.2h1.0M295.6 187.4h1.0M246.8 200.8h1.0M278.6 140.5h1.0M257.5 204.7h1.0M249 155.4h1.0M297.7 168.9h1.0M286.8 143.4h1.0M239.5 192.6h1.0M247.6 200.8h1.0M263.1 142.6h1.0M281 139.8h1.0M282.7 199.2h1.0M244.8 198.4h1.0M288.9 197.3h1.0M298.3 175.4h1.0M295.9 186.2h1.0M297.7 168.5h1.0M271.3 139.8h1.0M241.6 164.9h1.0M237.5 188.6h1.0M256.5 148.1h1.0M253.5 202.4h1.0M286.7 196.9h1.0M297.3 174.2h1.0M243.2 196.4h1.0M267.3 206.5h1.0M255.2 203.4h1.0M291.2 147.3h1.0M262.8 204.8h1.0M290 146.7h1.0M252.7 149.5h1.0M271.2 203.8h1.0M241.6 196.3h1.0M256.2 148.5h1.0M296.3 183.1h1.0M266.6 204.3h1.0M260.5 205.2h1.0M257 206.7h1.0M271.7 139.8h1.0M286.8 143h1.0M243.4 198.9h1.0M280.2 200.7h1.0M296.2 164.1h1.0M244.9 157.9h1.0M286.3 197.9h1.0M297.4 177.7h1.0M255.5 148.8h1.0M274.4 140.8h1.0M237.7 180h1.0M236.1 185.7h1.0M247.5 154.9h1.0M289.7 146.6h1.0M274.8 140.1h1.0M296.9 157.5h1.0M256 145.9h1.0M259.8 205.8h1.0M297.7 174.6h1.0M283.1 198.9h1.0M245.8 199.3h1.0M294.6 158.2h1.0M238.8 173.8h1.0M298.7 170.4h1.0M262.9 205.6h1.0M235.2 186.3h1.0M295.1 152.9h1.0M257.2 204.4h1.0M237.1 179.3h1.0M258.8 206.9h1.0M252.6 202.7h1.0M245.9 159.1h1.0M238.6 173.7h1.0M249 201.1h1.0M271.4 204.5h1.0M284.7 200.1h1.0M256.6 203.8h1.0M287.3 145.2h1.0M292.4 149.5h1.0M296.2 163.5h1.0M245.6 159.4h1.0M270.8 140.6h1.0M281.9 201.3h1.0M242.2 196.3h1.0M257.1 147.2h1.0M276.6 139.9h1.0M249.6 201.4h1.0M255.3 148.9h1.0M240.2 170.5h1.0M258.3 146h1.0M266.8 205.1h1.0M242.7 197.8h1.0M239.2 170.7h1.0M245.6 199.4h1.0M276.8 202.3h1.0M297.4 169.3h1.0M253.8 147.2h1.0M238.7 189.8h1.0M275.1 140.3h1.0M242.3 166.9h1.0M289.5 194.5h1.0M267 141.5h1.0M291.9 193.4h1.0M241.6 194.5h1.0M257.5 146.4h1.0M286.9 142h1.0M249.8 201.9h1.0M299.1 177.4h1.0M270.7 139.2h1.0M236.8 175.7h1.0M264.3 205.1h1.0" stroke="#3da23d" stroke-width="1.0" opacity="0.9" fill="none"/>
<path d="M275 149.9h0.8M275 178.4h0.8M277.5 157.2h0.8M257.3 199.2h0.8M238.7 187.1h0.8M282.8 166.5h0.8M260.7 161.5h0.8M253.3 181.6h0.8M272.7 165.5h0.8M285.4 152h0.8M251.7 195.4h0.8M290.6 181.3h0.8M264.1 162.8h0.8M266.1 179.9h0.8M245.3 196h0.8M250.3 154.9h0.8M272.9 144.5h0.8M269.4 203h0.8M271.3 162h0.8M261.9 194.7h0.8M277.4 156.4h0.8M241.4 171.8h0.8M294.5 175.3h0.8M255.1 170.3h0.8M268.4 164.4h0.8M256.9 173.9h0.8M286.6 151.1h0.8M274 196.2h0.8M269.3 198.6h0.8M281.5 172.4h0.8M285.1 171.1h0.8M287.9 156.9h0.8M272.2 196.7h0.8M262.8 183.3h0.8M267.3 193h0.8M262.2 184.2h0.8M253.8 171.5h0.8M278.5 150.5h0.8M268.5 147.2h0.8M246.7 170.3h0.8M260 174.6h0.8M293.4 162.4h0.8M273.9 160.3h0.8M294.2 174.1h0.8M275.9 192.7h0.8M267.6 149.2h0.8M288.1 185.7h0.8M259.5 155.3h0.8M280 192h0.8M266.7 165.8h0.8M266.6 165.9h0.8M271.5 180.8h0.8M259.9 177.9h0.8M272.8 172.6h0.8M268.1 180.7h0.8M259 161.3h0.8M250.5 161.3h0.8M248.7 183.5h0.8M278.8 174.9h0.8M271.6 180.3h0.8M278.4 200.4h0.8M257 154.3h0.8M251.1 165.2h0.8M263.8 195.5h0.8M296.2 167.9h0.8M271.6 176.2h0.8M268.2 170.6h0.8M266.5 167.1h0.8M246.2 164.6h0.8M294 177h0.8M250.1 162.4h0.8M282 176.8h0.8M262.7 182.9h0.8M261.8 191.9h0.8M293.6 162.2h0.8M259.8 166.7h0.8M247.4 160.2h0.8M280.9 196.9h0.8M265.3 149.9h0.8M241.3 191.6h0.8M292.8 154.2h0.8M242.3 186.1h0.8M284.8 185.4h0.8M269.9 145.2h0.8M237.6 183.7h0.8M289.6 179.5h0.8M255.4 181.2h0.8M253.5 193.7h0.8M257.4 174.4h0.8M268.4 199.6h0.8M288.3 147.5h0.8M258.1 183.6h0.8M276.9 171.2h0.8M254.9 196h0.8M274.1 190h0.8M276.2 174.2h0.8M276.1 144.9h0.8M292.3 163.2h0.8M262.8 174.6h0.8M268.6 169h0.8M249.8 189.1h0.8M270 184.3h0.8M253.4 166.5h0.8M269 201.6h0.8M279.6 154h0.8M279.6 155.8h0.8M257 151.8h0.8M251.3 173.9h0.8M241.8 190.7h0.8M289.6 181h0.8M259.7 194.4h0.8M246.5 197.9h0.8M276.4 184.6h0.8M294.2 186.1h0.8M278.3 154.1h0.8M250.4 172h0.8M270 166h0.8M246.3 196.3h0.8M263.4 177.8h0.8M260.8 147.1h0.8M267.7 149.2h0.8M263 168.2h0.8M254.2 186.3h0.8M272.7 175.3h0.8M251.4 164.5h0.8M293.1 166.5h0.8M253.4 167.1h0.8M246.6 175.2h0.8M263 189h0.8M252.8 190.8h0.8M265.3 169.4h0.8M261.7 167.6h0.8M284.5 184.3h0.8M263.4 167h0.8M290.3 149.8h0.8M267 157.5h0.8M272.2 165.8h0.8M280 172.9h0.8M253.4 198.6h0.8M258.2 173.3h0.8M276.3 197.9h0.8M266.8 150.4h0.8M260.6 186.6h0.8M296 165.4h0.8M257.9 185.2h0.8M257.6 153.7h0.8M280.9 162.6h0.8M279.7 183h0.8M276.5 177.6h0.8M254.5 157.1h0.8M284.9 168.5h0.8M265.9 149.8h0.8M255.1 188.8h0.8M271.6 179.3h0.8M277.1 201.3h0.8M241.4 177.3h0.8M252.3 163.5h0.8M271 159.1h0.8M273.3 195.5h0.8M273.8 147.6h0.8M258.1 170.9h0.8M289.6 156.3h0.8M281.3 161.2h0.8M263.2 191.5h0.8M255.8 184.4h0.8M291.6 160.4h0.8M285.7 191.6h0.8M265.6 153.4h0.8M242.5 188.8h0.8M251 197.2h0.8M259.1 183.9h0.8M288.8 155.2h0.8M274.5 157.3h0.8M277.4 186.9h0.8M262 195.5h0.8M265.5 149.5h0.8M276.1 195.2h0.8M259.4 167h0.8M291.5 176.5h0.8M252.3 170.5h0.8M293.5 160.6h0.8M259.8 200h0.8M269.7 167.3h0.8M264 167.3h0.8M254.3 185.7h0.8M272 156.6h0.8M244.5 187.3h0.8M273.5 143.7h0.8M263.6 170.7h0.8M241.8 169.1h0.8M250.5 200.2h0.8M285.8 148.5h0.8M289.3 188.1h0.8M282.6 190.2h0.8M279.7 171.1h0.8M254.8 180h0.8M250.4 199.9h0.8M257.3 198.9h0.8M291.6 184h0.8M254.2 157.4h0.8M265.3 168.6h0.8M266.1 169.4h0.8M272 151h0.8M289.1 156.8h0.8M249.1 184h0.8M268.7 165.9h0.8M257.3 168.8h0.8M285.1 195.1h0.8M238.9 181.2h0.8M247.5 178.6h0.8M288.7 169.4h0.8M274.6 143.7h0.8M290.6 151h0.8M275.2 144.9h0.8M247.5 162.1h0.8M282.8 151.4h0.8M269.4 146.7h0.8M244.9 162.4h0.8M266.2 198.8h0.8M287.7 154.6h0.8M278.7 144.9h0.8M254 177.3h0.8M252.5 170.9h0.8M248.2 174.3h0.8M255.5 155.9h0.8M270.8 148.1h0.8M261.2 171.5h0.8M257 149.3h0.8M265.6 151.2h0.8M276.3 171.9h0.8M263.6 154.3h0.8M263.4 174.8h0.8M260.4 170.5h0.8M280.6 174.7h0.8M257.7 203.4h0.8M240.6 190.8h0.8M262.6 200h0.8M266.1 155.1h0.8M284.6 161.8h0.8M271.3 160.3h0.8M274.2 189.3h0.8M293.8 163.1h0.8M286.2 174.6h0.8M282.5 157.2h0.8M243.2 172.7h0.8M276.9 197.8h0.8M271.9 154.1h0.8M287.4 151.8h0.8M258.4 177.4h0.8M288.5 176.8h0.8" stroke="#ffffff" stroke-width="0.8" opacity="0.7" fill="none"/>
<path d="M265.9 161.2h1.0M243.7 178.7h1.0M277.7 170.2h1.0M260.4 193.6h1.0M279.5 199.2h1.0M275.1 172.5h1.0M261.6 176.4h1.0M255.7 159.6h1.0M283.2 192.6h1.0M278.3 144.9h1.0M288.9 173.6h1.0M272.6 147.4h1.0M286.2 147.1h1.0M278.1 144.7h1.0M273.4 148.9h1.0M286.7 156.1h1.0M285.8 157.6h1.0M276.1 173.5h1.0M275.4 154.7h1.0M290.6 182.5h1.0M250.4 168.5h1.0M277.2 143.5h1.0M278.1 161.5h1.0M244.7 192.9h1.0M252.4 198.4h1.0M265.8 181.7h1.0M276.2 192.2h1.0M259.3 185h1.0M275.1 152.8h1.0M254.2 155.7h1.0M274.5 201.1h1.0M287.1 169.1h1.0M266.6 150.7h1.0M240 183.1h1.0M263.3 171.7h1.0M252.4 173.5h1.0M286.4 155.7h1.0M260 167.4h1.0M262.6 181.5h1.0M288.5 185.3h1.0M242.3 181.6h1.0M277.5 168h1.0M284.2 149.4h1.0M271.9 160.2h1.0M270.8 182.6h1.0M262.3 152.2h1.0M293.5 162.3h1.0M273.4 160.2h1.0M286.7 193h1.0M282.6 197.3h1.0M266.9 178.3h1.0M285 174.1h1.0M284.5 163.5h1.0M275.7 141.8h1.0M287.5 168.8h1.0M291.2 188.2h1.0M246.9 178.5h1.0M240 174.9h1.0M272.9 173.9h1.0M268.5 151.6h1.0M279.7 165.1h1.0M288.1 167.6h1.0M268.2 164.8h1.0M242.1 179.4h1.0M264.3 165.6h1.0M273.5 183.5h1.0M280.2 198.5h1.0M278.9 179.2h1.0M271.9 179.8h1.0M276.2 166.4h1.0M261.3 194.3h1.0M279.3 150.5h1.0M260.2 192.7h1.0M279.6 199.5h1.0M251.9 169.8h1.0M274 160h1.0M280 147.6h1.0M252.6 196.4h1.0M249.2 162.1h1.0M276.1 146.8h1.0M273.7 141.3h1.0M252.4 172.7h1.0M257 158h1.0M250 178.9h1.0M249.2 177.4h1.0M275.1 199.1h1.0M261.7 147.8h1.0M263.4 180.8h1.0M272.2 148.8h1.0M261.6 156.9h1.0M294.5 184.4h1.0M249 194.8h1.0M262.8 186.1h1.0M291.1 172.6h1.0M296 178.6h1.0M260.5 159.4h1.0M267.6 182.1h1.0M268.7 158.1h1.0M287.6 160.9h1.0M291.5 186.9h1.0M265.2 146h1.0M258.6 188.2h1.0M258.2 197.9h1.0M249.5 195.6h1.0M271.4 157h1.0M292.5 181.4h1.0M243 166.5h1.0M265.7 196.4h1.0M264.7 148.7h1.0M289.7 178.8h1.0M287.9 153.9h1.0M283 184h1.0M282.2 155.9h1.0M257 179.5h1.0M270.9 163.5h1.0M269.3 178.8h1.0M249.1 156.6h1.0M259.3 180h1.0M261 170.5h1.0M248.9 185h1.0M245.4 195.7h1.0M255.2 157.3h1.0M286.8 173.3h1.0M264.6 179h1.0M290.7 161.4h1.0M252.6 168.5h1.0M279.2 181.6h1.0M293 160.4h1.0M248.2 158.6h1.0M246.8 164.5h1.0M268.8 171h1.0M272.8 155.5h1.0M290.1 154.2h1.0M269.1 187.3h1.0M265.9 204h1.0M252.9 157.8h1.0M254.2 162.5h1.0M264.6 147.1h1.0M264.6 199.7h1.0M286.6 147.9h1.0M243.2 188.3h1.0M252.9 178.2h1.0M257.8 173.8h1.0M280.4 170.3h1.0M272.9 188.2h1.0M240.5 182.2h1.0M294.6 181h1.0M252.1 172.2h1.0M254.3 188.6h1.0M268.5 191.9h1.0M272.1 188.7h1.0M256.2 188.1h1.0M263.8 202.5h1.0M281 170.6h1.0M267 182.8h1.0M271.8 196.9h1.0M263.8 190h1.0M269.9 143h1.0M253.4 170.3h1.0M264.2 149.5h1.0M265.2 179.4h1.0M272.3 194h1.0M281 144.7h1.0M290.7 182.2h1.0M240.3 175.9h1.0M296.1 170.9h1.0M288.8 151h1.0M258.5 165h1.0M294.6 170.2h1.0M259 160.2h1.0M268.6 158.3h1.0M255.4 201h1.0M291.3 183.9h1.0M279.2 171.6h1.0M277.3 164.7h1.0M263.7 198.5h1.0M257 195.7h1.0M242.6 172.7h1.0M256.7 164.2h1.0M250.5 193.2h1.0M282.2 165.2h1.0M276.1 141h1.0M269.5 177.1h1.0M274.6 148.5h1.0M271 189.9h1.0M254.3 189h1.0M257.1 164.6h1.0M252.4 166h1.0M269.2 176.8h1.0M268.1 196.9h1.0M277.4 155.2h1.0M258.1 199.3h1.0M262.9 197h1.0M278.6 200.6h1.0M285.6 171.5h1.0M244.2 190.3h1.0M285.8 196h1.0M265.4 146.2h1.0M263.6 195.8h1.0M280.8 151.8h1.0M273.9 155.1h1.0M293.2 158.2h1.0M287.9 162h1.0M266.3 150.9h1.0M292.2 161.4h1.0M256 166.7h1.0M291.5 156.9h1.0M283.9 168.6h1.0M244.9 187.6h1.0M267.3 183.2h1.0M279.6 196.2h1.0M290.4 165.1h1.0M284.2 197.5h1.0M293.9 184.9h1.0M290.7 152.3h1.0M278.4 194.1h1.0M294.2 181.5h1.0M290 170.3h1.0M266.7 198.4h1.0M286.6 168.6h1.0" stroke="#3d9f3d" stroke-width="1.0" opacity="0.7" fill="none"/>
<path d="M285.2 141.8h1.0M282.4 141.8h1.0M280.7 152.3h1.0M287.4 158.3h1.0M290.8 163.7h1.0M277.3 138h1.0M292.9 165h1.0M287.5 147.4h1.0M281.8 139.1h1.0M266.7 144h1.0M295.2 158.2h1.0M271.7 138.7h1.0M287.6 152.5h1.0M294.9 169h1.0M269 142.7h1.0M273.4 138h1.0M284.8 156h1.0M288.3 148.4h1.0M267.7 142.6h1.0M264.6 143.6h1.0M264.5 144h1.0M289.8 157.1h1.0M284.2 144.7h1.0M296.5 174.7h1.0M286.5 143.1h1.0M292.7 159.9h1.0M275.5 148.3h1.0M273.1 147.3h1.0M288.4 155.2h1.0M280.3 141.5h1.0M286.1 147.2h1.0M271.1 139.3h1.0M289.1 152h1.0M279.2 140.6h1.0M274.9 136.3h1.0M284.7 151h1.0M289.5 160.8h1.0M286.8 162.7h1.0M272.7 142h1.0M276.9 149.8h1.0M285.5 147.6h1.0M290.4 165.9h1.0M294.9 157.5h1.0M286.4 153.6h1.0M272.5 141h1.0M292.1 164.7h1.0M295.8 162.1h1.0M272.1 141.7h1.0M294.6 166.1h1.0M269.2 139h1.0M272.3 145.1h1.0M276.6 136h1.0M287.6 148.4h1.0M296.3 162h1.0M289.5 151.6h1.0M292 166.9h1.0M286.9 159.1h1.0M289.8 163.7h1.0M273.9 140.8h1.0M295.3 160.1h1.0M292.9 164h1.0M279.4 150.9h1.0M269.6 144.2h1.0M294.3 171.7h1.0M293.4 168.4h1.0M287.2 144.7h1.0M286.1 148.6h1.0M285.4 149.4h1.0M291.5 155.6h1.0M288.4 163.5h1.0M291.2 168.6h1.0M287.3 149.1h1.0M279.9 150.3h1.0M291.7 155.8h1.0M286 162.8h1.0M290 156.6h1.0M285.3 151.3h1.0M282.8 148.2h1.0M280.8 147.3h1.0M279.6 143.8h1.0M275.3 143.5h1.0M283.7 142.9h1.0M296.3 162.8h1.0M274.1 135.4h1.0M276.9 145.5h1.0M294 159.1h1.0M285.5 141.9h1.0M293 163h1.0M294.1 164.8h1.0M268.7 144.8h1.0M283.7 142.1h1.0M284.8 154.7h1.0M278.2 145.6h1.0M286.6 157h1.0M289 162.2h1.0M285.2 158.9h1.0M272.1 138.1h1.0M276.5 139.4h1.0M290.3 159.4h1.0M294.8 172.1h1.0M287.7 164.4h1.0M296.7 170.9h1.0M267 142.6h1.0M290.6 163.1h1.0M286 153.8h1.0M285.3 157.4h1.0M296.6 173.8h1.0M291.6 155.5h1.0M293.5 164.9h1.0M274.3 149.8h1.0M272.2 138.5h1.0M293 163.6h1.0M277.2 142.7h1.0M287.3 148.7h1.0M265.6 145.9h1.0M288.8 160.2h1.0M296.4 177.2h1.0M282.8 155.9h1.0M286.6 154.5h1.0M294.2 164.3h1.0M292.4 171.4h1.0M296 169.6h1.0M270.9 146.7h1.0M269.6 141.2h1.0M287.6 148.8h1.0M284.2 142.7h1.0M296 172h1.0M275.7 138.5h1.0M292.2 153.2h1.0M286.6 161.5h1.0" stroke="#ec7f2a" stroke-width="1.0" opacity="0.85" fill="none"/>
<path d="M297.7 179.9h1.1M298.1 158.9h1.1M289.5 155h1.1M299.8 158.2h1.1M291.8 173.2h1.1M295.5 164.4h1.1M300.4 170.6h1.1M292 165h1.1M291.9 173.4h1.1M291.3 158.7h1.1M292.2 168.3h1.1M293.7 158.9h1.1M287.7 156h1.1M292.9 168h1.1M295.5 162.6h1.1M290.3 158.4h1.1M299 155.6h1.1M297.7 163h1.1M298.4 163.9h1.1M293.8 152.8h1.1M295.4 162.8h1.1M295.2 178.1h1.1M297.4 161.1h1.1M291.3 153.6h1.1M294.3 168.2h1.1M298.4 157.1h1.1M298 152.9h1.1M300.3 155.7h1.1M288.8 150.6h1.1M299.8 174.1h1.1M291 165.4h1.1M290.6 162.4h1.1M299 153.2h1.1M295.4 167.2h1.1M297.1 154.5h1.1M294 156.7h1.1M293.8 157.3h1.1M286.2 147.4h1.1M286.5 150.7h1.1M293.9 149.8h1.1M294.6 159.5h1.1M294 155.4h1.1M299.2 170.6h1.1M295.4 168.7h1.1M300.5 173.3h1.1M298.1 159.5h1.1M289.3 151.4h1.1M296 178.5h1.1M286 149h1.1M298.8 164.5h1.1M297.2 182.9h1.1M299 170.5h1.1M291.9 152.3h1.1M292.5 150.9h1.1M293.5 158.8h1.1M299.6 159.5h1.1M300.2 174.8h1.1M292.4 174.1h1.1M296.9 168.8h1.1M291.6 153.1h1.1" stroke="#3da23d" stroke-width="1.1" opacity="0.9" fill="none"/>
<path d="M290 149.2h1.0M291.7 152.8h1.0M295 148.4h1.0M295.2 146.5h1.0M292.4 152.3h1.0M292.3 150.9h1.0M290.8 147.1h1.0M295.3 146.7h1.0M293.5 149.7h1.0M296 154.5h1.0M296.7 149h1.0M289.5 154h1.0M291.5 147.8h1.0M296.4 149h1.0M295.4 154h1.0M294 151.6h1.0M294.4 151.3h1.0M296.8 146h1.0M293.1 153h1.0M291.3 145.7h1.0M294.6 147h1.0M296.9 154.7h1.0M296.7 146.7h1.0M290.9 146h1.0M293.2 146.6h1.0" stroke="#2f6cb0" stroke-width="1.0" opacity="0.85" fill="none"/>
<path d="M316 166.6 L325 165 L335.5 163.4" stroke="#3da23d" stroke-width="1.8" fill="none" opacity="0.75" stroke-linecap="round" stroke-linejoin="round"/>
<path d="M301.9 179.7 L315 182 L332.4 187.7" stroke="#3da23d" stroke-width="1.0" fill="none" opacity="0.6" stroke-linecap="round" stroke-linejoin="round"/>
<path d="M318 190 L328 194 L335 198" stroke="#3da23d" stroke-width="0.8" fill="none" opacity="0.5" stroke-linecap="round" stroke-linejoin="round"/>
<polygon points="287,128.1 292.7,124.5 300.8,119.9 308.6,116.6 316.4,114.2 324.2,112.8 332,112.4 340,112.5 347.9,112.7 354.9,113 360.9,113 361.1,111.4 355.1,110.6 348.1,109.9 340,109.5 332,109.2 323.8,109.6 315.6,110.8 307.4,113.4 299.2,117.1 291.3,122.5 286,126.9" fill="#e3262a" opacity="0.55"/>
<path d="M324.9 110.9h1.1M303.3 116.8h1.1M355 111h1.1M344.7 110.7h1.1M340.3 110.8h1.1M343.2 112.2h1.1M296.7 119.3h1.1M348.1 111.1h1.1M344.3 112.2h1.1M338.4 110.4h1.1M296.8 121.4h1.1M351.5 112.8h1.1M330.9 110h1.1M306.3 115.8h1.1M357 111.4h1.1M301.9 118.6h1.1M302.2 117h1.1M301.4 117h1.1M345.5 112.1h1.1M306.4 117h1.1M351.1 112.5h1.1M339.7 112.3h1.1M351.9 111h1.1M343.2 111.7h1.1M355.9 112.4h1.1M294.4 122.1h1.1M291.2 124.2h1.1M336.5 111h1.1M298.9 119.9h1.1M319.8 110.8h1.1M323.1 111.8h1.1M305.8 115.8h1.1M350 112h1.1M334.1 112.4h1.1M322.2 111h1.1M319.1 113.1h1.1M292.4 123.1h1.1M324.2 112.4h1.1M322.4 112.8h1.1M329.4 111.9h1.1M348 111h1.1M297.2 120.8h1.1M313.3 112.5h1.1M305.7 116.2h1.1M353.1 111.2h1.1M312 114h1.1M345.1 110.3h1.1M317.2 110.7h1.1M291.2 123.4h1.1M355.9 112.3h1.1M353.9 112.8h1.1M318.9 110.7h1.1M321 110.3h1.1M287.4 127.4h1.1M348.9 112.5h1.1M296.7 119.6h1.1M337.4 110.4h1.1M304.8 115.8h1.1M295.4 121.6h1.1M343.3 110h1.1M303.2 115.4h1.1M326.6 112h1.1M297.2 121.2h1.1M317.8 110.5h1.1M328.9 112h1.1M305 114.6h1.1M298.6 118.1h1.1M297.5 119h1.1M344.1 110h1.1M346.7 112.1h1.1M348.3 111.7h1.1M305.4 115.3h1.1M349.6 110.2h1.1M326.1 109.6h1.1M342.3 110.2h1.1M328.7 112.3h1.1M334.5 111.4h1.1M325.7 111.9h1.1M303.9 115.9h1.1M350.5 112.1h1.1M333.5 110.3h1.1M303.7 115.5h1.1M344.9 111.7h1.1M314.2 112.1h1.1M339.4 111.1h1.1M314.8 113.8h1.1M334.2 109.8h1.1M299.1 118.8h1.1M343.6 110.8h1.1M328.9 110.3h1.1M344.6 112.3h1.1M351 111.3h1.1M294.7 121.7h1.1M312.9 113.5h1.1M341.6 109.7h1.1M298.6 118h1.1M299.6 119.2h1.1M313.7 114.8h1.1M328.1 110.6h1.1M347 112h1.1M336.2 112.4h1.1M308.3 115h1.1M294.6 121.9h1.1M292.4 124h1.1M306.8 116.5h1.1M318.1 111.8h1.1M321.9 110.4h1.1M302.7 118.6h1.1M330.1 110.2h1.1M313.6 112.6h1.1M312.3 114h1.1M304 117.7h1.1M303.2 118.4h1.1M301.7 119.4h1.1M293.7 123.8h1.1M341.5 110.9h1.1M342.4 112.1h1.1M343.4 112.2h1.1M355.6 112.6h1.1M340.2 110.8h1.1M333.5 109.6h1.1M342.6 109.7h1.1M304.8 115.9h1.1M313.2 112.9h1.1M342.3 110.7h1.1M313.4 113.7h1.1M308 115.6h1.1M320.7 112.3h1.1M322.6 110.3h1.1M325.1 111.5h1.1M330.3 112.2h1.1M308.2 114.3h1.1M315.5 113h1.1M331.3 110.7h1.1M337.6 111.1h1.1M312.2 114.5h1.1M325.1 111.6h1.1M342.3 109.9h1.1M331.3 110.5h1.1M315.7 111.8h1.1M333.9 110.7h1.1M299.4 119.5h1.1M351.5 110.7h1.1M292.8 123.8h1.1M353.2 111.2h1.1M301.7 116.8h1.1M286.7 126.8h1.1M335 110.2h1.1M306 114.7h1.1M319.8 113.5h1.1M326.8 111.8h1.1M327.6 111.5h1.1M300.2 118.5h1.1M359.3 112.1h1.1M297 119.3h1.1M340.5 111.6h1.1M299.1 118.1h1.1M327.5 110.4h1.1M310.2 116h1.1M347.2 110.9h1.1M317.7 112.7h1.1M335.9 109.6h1.1M306.7 116.8h1.1M295.7 122.4h1.1M357.5 112.3h1.1M347.2 110.1h1.1M342.6 111.3h1.1M291.3 123.9h1.1M292 122.6h1.1M334.5 111.7h1.1M344.1 111.5h1.1M298.4 119.1h1.1M344.6 112.3h1.1M320.5 112.2h1.1M336.2 110.9h1.1M327.6 109.9h1.1M359.5 111.6h1.1M356.6 112.3h1.1M290.1 125.9h1.1M301.2 119.4h1.1M306.5 117.1h1.1M308.6 113.6h1.1M312 114.1h1.1M340.9 109.7h1.1M330.9 111.6h1.1M290.9 123.6h1.1M308 113.9h1.1M307.3 113.5h1.1M300.2 118.1h1.1M327.8 111.2h1.1M345.5 112h1.1M324 110.6h1.1M309.8 112.8h1.1M344.8 110.2h1.1M350 111.1h1.1M319.2 111.7h1.1M305 116.1h1.1M340.7 111.1h1.1M355.7 112.1h1.1M329.5 110.3h1.1M352.6 110.6h1.1M304 116.2h1.1M314.4 112h1.1M293.9 122.3h1.1M288.7 126.2h1.1M308.8 116.5h1.1M303.1 115.9h1.1M298.6 119.5h1.1M311 113.1h1.1M316.3 111.7h1.1M330.7 111.1h1.1M301.1 116.5h1.1M345.4 109.8h1.1M310.7 115.1h1.1M309.7 112.8h1.1M314.6 111.7h1.1M303.9 117.6h1.1M326.7 109.7h1.1M344.7 111.8h1.1M344.4 111.6h1.1" stroke="#e3262a" stroke-width="1.1" opacity="1.0" fill="none"/>
<path d="M312.7 111h1.0M358 113.3h1.0M317.5 110.1h1.0M291.4 120.7h1.0M340.1 109.2h1.0M324.8 108.6h1.0M295.4 119.4h1.0M293.2 120.9h1.0M313.5 110.5h1.0M341.2 108h1.0M325.6 112.9h1.0M343.4 113.4h1.0M311.3 111.3h1.0M308.5 112.9h1.0M359.1 110.5h1.0M358.2 113.5h1.0M304.2 119.1h1.0M353 113.7h1.0M330.7 113.4h1.0M313.6 109.8h1.0M330 112.7h1.0M351.7 110.1h1.0M295.9 122.8h1.0M304.9 118.5h1.0M295 119.8h1.0M308.9 116.6h1.0M287.8 123.6h1.0M348.6 108.8h1.0M310.3 112.1h1.0M338.6 112.8h1.0M338.4 108.2h1.0M359.1 113.7h1.0M319 109.7h1.0M346.3 113.5h1.0M349.7 113.9h1.0M324.9 108h1.0M358.7 114.3h1.0M314 115.4h1.0M304.2 119.7h1.0M297.9 121.9h1.0M319.1 114h1.0M300.4 115.8h1.0M307.8 117.3h1.0M327.6 112.9h1.0M322 109.2h1.0M352.6 114.2h1.0M311.1 117.1h1.0M290 122.9h1.0M345.7 113h1.0M354.2 113.2h1.0" stroke="#e3262a" stroke-width="1.0" opacity="0.9" fill="none"/>
<polygon points="337,56 343,54 347,60 349,70 353,80 348,82 342,80 337,74 336,64" fill="#2f6cb0" opacity="0.14"/>
<path d="M342 73h1.1M338.3 58.6h1.1M342.2 58.3h1.1M340.8 73.2h1.1M345.4 73.5h1.1M344.2 70.7h1.1M341.4 73.6h1.1M345.8 65.1h1.1M337.6 66.4h1.1M345.2 57.4h1.1M337.4 71.5h1.1M342.1 76.5h1.1M338.2 62.8h1.1M350.1 73.2h1.1M348.9 75.6h1.1M339.8 63.8h1.1M345.7 60.6h1.1M342.3 78h1.1M346.9 67h1.1M339.1 71.4h1.1M349.1 78.3h1.1M350.3 80.8h1.1M342.1 72h1.1M337.7 73.1h1.1M347.7 73.5h1.1M346.9 80.7h1.1M342.4 66.8h1.1M341 66.6h1.1M344.3 71.2h1.1M341.2 66.5h1.1M343.4 79h1.1M348.4 76.5h1.1M337.3 58.6h1.1M339.2 76h1.1M352.1 79.2h1.1M345 67.6h1.1M344.7 60h1.1M336.2 64.1h1.1M342.9 76.4h1.1M336.6 68.7h1.1M349.5 72.3h1.1M339.4 76.5h1.1M338.1 65.5h1.1M347.8 76h1.1M341.6 57.1h1.1M343.5 61.2h1.1M341.4 58.3h1.1M346.2 60.9h1.1M340.1 63.7h1.1M341.7 70.3h1.1M340.5 69.1h1.1M339.4 61.4h1.1M349.3 80.8h1.1M340.6 70.5h1.1M346.6 71.3h1.1M337 56.4h1.1M341.4 79.2h1.1M348.2 70.1h1.1M337 70.9h1.1M347.9 66.9h1.1M343.2 69.8h1.1M337 62.6h1.1M338.1 68.8h1.1M344.6 74.2h1.1M340.3 74h1.1M339.2 70.8h1.1M346 63.7h1.1M338.9 73.8h1.1M342.8 71.3h1.1M344.8 58h1.1M345.9 69.2h1.1M347.8 75.9h1.1M343.7 59.7h1.1M342 56.9h1.1M344.4 72.7h1.1M342.7 63.8h1.1M340.8 56.5h1.1M345.7 64h1.1M340.4 69.5h1.1M338.9 72h1.1M342.2 64.5h1.1M347.4 78.6h1.1M341.8 68.7h1.1M342 79.4h1.1M346.9 76.1h1.1M337.3 57.5h1.1M342.1 68.5h1.1M337.6 70.3h1.1M346.2 78.7h1.1M345.7 62.3h1.1" stroke="#2f6cb0" stroke-width="1.1" opacity="1.0" fill="none"/>
<polygon points="336.7,95.3 341.2,91.3 346.2,86.3 349.8,82.8 353.1,86.7 354.9,85.3 350.2,79.2 343.8,83.7 338.8,88.7 334.3,92.7" fill="#2f6cb0" opacity="0.3"/>
<path d="M342.1 85.4h1.1M352.1 85.4h1.1M341.6 88.7h1.1M346.6 83.4h1.1M350.4 79.8h1.1M335.5 92.3h1.1M345.2 84.1h1.1M338.9 93.2h1.1M351.5 84.9h1.1M351.7 84.4h1.1M350.2 80.9h1.1M337.2 93.6h1.1M347.6 81.2h1.1M343.7 87.3h1.1M351.7 84.1h1.1M342.3 87.9h1.1M342.5 88.7h1.1M337.9 93.2h1.1M347.9 82.9h1.1M338 90.2h1.1M351.4 82.1h1.1M353.8 86h1.1M340 88.4h1.1M335.4 91.9h1.1M343.4 88.6h1.1M344.5 83.6h1.1M337.5 92.2h1.1M335.4 92.5h1.1M353 83.3h1.1M350.4 80h1.1M348.9 81.1h1.1M343.9 85.6h1.1M345.7 82.6h1.1M337.5 94.5h1.1M345.3 83h1.1M344.2 87h1.1M343.4 86.5h1.1M347.1 84.3h1.1M352.4 83.6h1.1M345.6 85.5h1.1M348.6 80.9h1.1M336.5 90.9h1.1M353.5 83.7h1.1M348.1 82.5h1.1M352.6 84.8h1.1M337.1 91.6h1.1M349.7 82.8h1.1M338 90h1.1M347.6 81.8h1.1M345.1 83.1h1.1" stroke="#2f6cb0" stroke-width="1.1" opacity="1.0" fill="none"/>
<polygon points="331,77 334,76.5 334.5,81.5 331,81" fill="#2f6cb0" opacity="0.3"/>
<path d="M333.6 77.5h1.1M332 78.1h1.1M331.6 76.9h1.1M334.1 80.4h1.1M332.3 80.5h1.1M333.7 79.6h1.1M333.9 77.1h1.1M333.7 79.6h1.1" stroke="#2f6cb0" stroke-width="1.1" opacity="1.0" fill="none"/>
<path d="M341 50.6h1.1M341.2 54.1h1.1M343.9 54.4h1.1M336.7 53.2h1.1M342 53.3h1.1M338.9 49.7h1.1M340.4 51h1.1M340.5 55.1h1.1M345.1 47.1h1.1M346.2 50.4h1.1M343.2 47.5h1.1M346.3 47.6h1.1M336.6 52.7h1.1M345.5 48.9h1.1" stroke="#2f6cb0" stroke-width="1.1" opacity="0.9" fill="none"/>
<polygon points="345.8,192 350,190.8 357,191.5 361.1,195 360.5,201 356,203.6 350,203 346.5,199" fill="#9b55c0" opacity="0.4"/>
<path d="M356.9 199.2h1.1M356.7 197.4h1.1M356.4 200.4h1.1M356.2 201.7h1.1M358.9 195.4h1.1M356.6 191.5h1.1M358.1 192.7h1.1M350 199.1h1.1M358.5 197.8h1.1M356 198.9h1.1M348.6 196.3h1.1M352.9 195.7h1.1M350.7 202h1.1M356.7 195.9h1.1M355.2 200.2h1.1M350.6 199.7h1.1M358.2 195.5h1.1M358 197.1h1.1M358.1 196.4h1.1M347.9 197.6h1.1M350.8 194.6h1.1M353.4 200.1h1.1M353.2 201.3h1.1M360.4 199.4h1.1M354.9 195.3h1.1M354.6 200.7h1.1M348 191.6h1.1M355.5 199.2h1.1M350.2 198.5h1.1M358.3 201.7h1.1M356.1 193.6h1.1M354.2 194.5h1.1M347 194.9h1.1M356.8 194.8h1.1M347.5 197.8h1.1M354.5 201.3h1.1M353.4 191.8h1.1M353.9 199.6h1.1M356.1 199.4h1.1M351.4 199.9h1.1M357 202.6h1.1M351.7 195.9h1.1M346.6 197h1.1M353.8 201.7h1.1M350.2 197.8h1.1M358.9 201.7h1.1M352.8 198.5h1.1M356.6 194.9h1.1M346.4 197.4h1.1M347 194.6h1.1M359.9 200h1.1M348 198.9h1.1M350.5 194.1h1.1M360.3 196.5h1.1M357.5 201.2h1.1M351.8 191.1h1.1M349.1 192.8h1.1M349.7 197h1.1M352.8 192.6h1.1M359.5 198.2h1.1" stroke="#9b55c0" stroke-width="1.1" opacity="1.0" fill="none"/>
<path d="M341 201.7 L343.4 207.7" stroke="#e57cc0" stroke-width="1.3" fill="none" opacity="0.9" stroke-linecap="round" stroke-linejoin="round"/>
<path d="M327.6 203 L334 216.6" stroke="#a9535c" stroke-width="1.2" fill="none" opacity="0.9" stroke-linecap="round" stroke-linejoin="round"/>
<path d="M372 31.7 L383.8 45.2" stroke="#3ec3c3" stroke-width="1.0" fill="none" opacity="0.9" stroke-linecap="round" stroke-linejoin="round" stroke-dasharray="2 1"/>
<path d="M388 44.3 L396 45.5 L405.6 46.8" stroke="#b5bd2d" stroke-width="1.2" fill="none" opacity="0.85" stroke-linecap="round" stroke-linejoin="round" stroke-dasharray="3 1"/>
<text x="343.3" y="31.5" font-size="9.5" textLength="46" lengthAdjust="spacingAndGlyphs">Macrophage</text>
<text x="389.5" y="54.2" font-size="9.5" textLength="22.8" lengthAdjust="spacingAndGlyphs">T_cell</text>
<text x="314.8" y="71.8" font-size="9.5" textLength="55.5" lengthAdjust="spacingAndGlyphs">Spermatogonia</text>
<text x="328" y="119.7" font-size="9.5" textLength="40.9" lengthAdjust="spacingAndGlyphs">Sertoli_cell</text>
<text x="315.6" y="147.3" font-size="9.5" textLength="50.4" lengthAdjust="spacingAndGlyphs">Spermatocyte</text>
<text x="237" y="178.1" font-size="9.5" textLength="38.4" lengthAdjust="spacingAndGlyphs">Spermatid</text>
<text x="347.3" y="188.9" font-size="9.5" textLength="41.7" lengthAdjust="spacingAndGlyphs">Leydig_cell</text>
<text x="342.8" y="214.1" font-size="9.5" textLength="19.1" lengthAdjust="spacingAndGlyphs">SMC</text>
<text x="307.3" y="223.5" font-size="9.5" textLength="58.7" lengthAdjust="spacingAndGlyphs">Endothelial_cell</text>
<polygon points="526.1,126 540.5,124.3 555.8,125.4 565,124.3 572,122 585,121 596,126 600,140 594,152 591.7,161.2 600.9,167.3 607,173.5 606,179.6 597.8,189.9 585.5,198 581.4,206.2 573.2,216.5 568.1,206.2 567.1,191.9 556.9,187.8 540.5,179.6 530.2,171.4 527.2,151" fill="#ec7f2a" opacity="0.62"/>
<path d="M571.2 130.6h1.1M584.7 123.8h1.1M551.1 141.3h1.1M566.7 165.5h1.1M546.2 143.7h1.1M578.6 189.6h1.1M560.1 169.6h1.1M570.8 194.7h1.1M573.5 137.5h1.1M542.1 161h1.1M572 196.7h1.1M579.2 167.7h1.1M590.7 149.8h1.1M591.2 129.5h1.1M542 130.4h1.1M562.4 180h1.1M589 156.4h1.1M571.3 197.1h1.1M573.5 199.5h1.1M560.5 138.5h1.1M576.1 127.5h1.1M531.7 144.4h1.1M543.8 158.5h1.1M560.3 136.8h1.1M566.3 169h1.1M602.9 183h1.1M591.7 150.3h1.1M566 176.4h1.1M587.7 138.5h1.1M595.3 188.6h1.1M582.4 154.8h1.1M565.8 142h1.1M535 147.9h1.1M539.2 141.2h1.1M575.7 183h1.1M573.2 148.6h1.1M532.1 148.7h1.1M567.4 151.9h1.1M576.8 178.9h1.1M571.2 131.7h1.1M588.6 147.4h1.1M543.7 135.6h1.1M547.1 153.3h1.1M532.9 141.7h1.1M557.9 129.7h1.1M554.8 182.7h1.1M578.2 202.7h1.1M559.2 175.8h1.1M551.6 152.2h1.1M579.2 201.6h1.1M573.4 212.4h1.1M571.9 176.5h1.1M587.5 165.9h1.1M591.8 173.4h1.1M578.1 209.5h1.1M593.7 142.9h1.1M570.7 185.3h1.1M577.7 133h1.1M554.7 141.5h1.1M581.6 157.6h1.1M586 170.4h1.1M553.9 171.4h1.1M567.8 178.4h1.1M591.3 175.8h1.1M543 147.6h1.1M530.3 140.4h1.1M594.3 188.8h1.1M569.6 166.5h1.1M562.1 155.7h1.1M562.2 154.9h1.1M566.3 162.4h1.1M583 180.5h1.1M555.7 166.3h1.1M546.5 172.9h1.1M586.5 184h1.1M570.8 148.7h1.1M558.6 166.2h1.1M552.7 147.1h1.1M589.3 123.1h1.1M543.8 138.2h1.1M598.5 181h1.1M529.9 137h1.1M583.7 184.4h1.1M601.5 177.5h1.1M567.5 168.4h1.1M546.6 178.1h1.1M532.5 142.7h1.1M578.8 178.9h1.1M564.6 183.7h1.1M575.4 161.8h1.1M540.8 128.2h1.1M554.7 180.3h1.1M538.1 160h1.1M555.9 179h1.1M592.4 127h1.1M582.1 121.2h1.1M585.6 184.4h1.1M529.1 148.5h1.1M549 139.8h1.1M531.3 152.7h1.1M602.9 178.5h1.1M540.8 127.5h1.1M553.5 183.7h1.1M587.4 159.1h1.1M564.2 182.8h1.1M534.8 126.9h1.1M554.7 181.2h1.1M579.1 150h1.1M539.1 124.8h1.1M563.4 186.1h1.1M556 163.7h1.1M575.4 188.7h1.1M544.5 144.4h1.1M547.3 168.9h1.1M557.6 142.2h1.1M559.8 131.6h1.1M534.5 128.2h1.1M544.7 144.5h1.1M539.9 149.1h1.1M558.1 160.7h1.1M537.9 151.5h1.1M565.7 159.3h1.1M549.6 137.3h1.1M564.4 145.9h1.1M580.3 137.1h1.1M532.6 129.4h1.1M571.9 134.5h1.1M536.6 147.8h1.1M566.7 142.4h1.1M557.2 128.5h1.1M563 154.1h1.1M582 163.7h1.1M556 154.8h1.1M546 150.6h1.1M554.4 159.7h1.1M570.6 210.2h1.1M548.6 135.7h1.1M555.5 147h1.1M570.7 203.4h1.1M581.8 142.6h1.1M533.7 151.6h1.1M582.3 187.3h1.1M537.3 155.2h1.1M580.5 171.1h1.1M566.1 180.5h1.1M580.3 167.1h1.1M574.7 131.2h1.1M584.8 140.2h1.1M548.5 158.1h1.1M547.2 137.2h1.1M576.6 150.4h1.1M600.7 182.2h1.1M595.9 144.7h1.1M558 134.6h1.1M558.9 177.7h1.1M547.1 157.6h1.1M544.3 170.5h1.1M596.5 188.6h1.1M540.5 147.5h1.1M581.4 163.6h1.1M562.4 141.4h1.1M564.3 180h1.1M577.3 161h1.1M575 156.1h1.1M564.5 173.8h1.1M539.9 146.8h1.1M578.4 174.3h1.1M565.5 173.4h1.1M546 137.1h1.1M528.7 147.6h1.1M582 180.9h1.1M581.2 149.3h1.1M551.1 182.3h1.1M561.5 140.2h1.1M590.1 140.7h1.1M589.5 175.8h1.1M565.4 184.9h1.1M552.7 141.4h1.1M573.2 215.3h1.1M572.4 191.5h1.1M541.1 154.3h1.1M580.1 192.8h1.1M591.1 169.3h1.1M545.4 150.8h1.1M564.9 183.9h1.1M543.5 147.2h1.1M577.5 170.5h1.1M583.6 192.4h1.1M572.1 159.2h1.1M558.4 182.9h1.1M585.5 124.3h1.1M584.5 186.7h1.1M575.3 136.9h1.1M567.8 137.8h1.1M557.8 131.8h1.1M534.4 148h1.1M568.2 179.9h1.1M586.3 173.2h1.1M530.9 155.2h1.1M577.7 173.2h1.1M584.6 163.6h1.1M585 146h1.1M539.1 166.9h1.1M572.7 156.2h1.1M532 149.1h1.1M581.3 144.9h1.1M577.5 123.1h1.1M586.1 150.5h1.1M531.8 161.1h1.1M577.7 162.5h1.1M538.7 169.6h1.1M553.1 128.2h1.1M545 168.3h1.1M528.5 147.6h1.1M548.3 158.1h1.1M544 147h1.1M576.6 179h1.1M566.3 133.3h1.1M545.9 180.8h1.1M598.7 168.3h1.1M606.2 173.6h1.1M582.3 165.5h1.1M572.7 145h1.1M547.9 182.1h1.1M542.5 132.3h1.1M572.9 124.7h1.1M589.5 167h1.1M593.5 174h1.1M533 130.1h1.1M548.2 157.6h1.1M584.4 155.8h1.1M564.1 173h1.1M574.5 183.9h1.1M528.5 157.3h1.1M556.8 158h1.1M557.5 137.3h1.1M568.4 195.2h1.1M559.2 159.7h1.1M587.9 163.1h1.1M566.2 166.6h1.1M534.8 135h1.1M553 128.7h1.1M588.3 160.7h1.1M536.1 155.2h1.1M566.5 165.5h1.1M599.9 172.7h1.1M581.8 179.4h1.1M558.8 135.7h1.1M552.4 167.7h1.1M586.2 185.2h1.1M589.2 147.1h1.1M565.6 156h1.1M538.5 133.4h1.1M578.7 203.5h1.1M579.3 149.1h1.1M562.9 130.8h1.1M536.5 149h1.1M534.3 135.3h1.1M543.5 157.8h1.1M581.7 129.5h1.1M542.6 167.2h1.1M575.8 206h1.1M563.2 174.6h1.1M586.5 145h1.1M587.8 194.7h1.1M527.7 146h1.1M585.9 154.1h1.1M570.3 149.4h1.1M542.3 140.5h1.1M551.1 146.6h1.1M594.8 178.2h1.1M571.4 171.8h1.1M537.1 136.1h1.1M556.4 163.8h1.1M564.1 140.1h1.1M561.1 141.5h1.1M578.4 204.8h1.1M536.7 126h1.1M588.7 135.2h1.1M585.4 140.1h1.1M559.4 151.4h1.1M569 191.6h1.1M604.2 178h1.1M583 185.7h1.1M532.2 156.1h1.1M587.5 184.3h1.1M571.7 177.9h1.1M559.5 132.6h1.1M554.1 149.6h1.1M595.2 181.1h1.1M579.1 180h1.1M578.9 144h1.1M552 144.7h1.1M588.2 142.4h1.1M572.4 149.5h1.1M541.4 179.8h1.1M568.8 168.4h1.1M588.2 145.3h1.1M576.6 165.5h1.1M565.4 178.8h1.1M573.3 205.8h1.1M532.1 128.4h1.1M583.7 197.1h1.1M577.4 149.3h1.1M541.4 174.1h1.1M529.9 168.7h1.1M597.8 170.6h1.1M531.6 152.2h1.1M550.6 139.2h1.1M582.9 134.1h1.1M582.6 184.6h1.1M598.1 167.4h1.1M536.2 125.7h1.1M559.6 140.3h1.1M589 149.5h1.1M550.3 155.9h1.1M544.2 179.5h1.1M556.8 187h1.1M584 157.7h1.1M567 189.2h1.1M534.8 168.4h1.1M567.4 133.2h1.1M588.6 175.3h1.1M556.3 170.8h1.1M583.5 172.6h1.1M574.2 209.8h1.1M558.5 188h1.1M577.3 197.5h1.1M583.8 197.5h1.1M565.4 137.3h1.1M550 160.5h1.1M574.1 139.5h1.1M601.1 181.7h1.1M572.8 183.6h1.1M534.9 143.1h1.1M568.8 128.2h1.1M540.9 178.2h1.1M551 167.1h1.1M561.7 179.4h1.1M561.6 165.3h1.1M556.4 158h1.1M567.1 166.2h1.1M565.5 140.1h1.1M539.9 132.7h1.1M569.5 205h1.1M565.8 151.6h1.1M573.1 137.3h1.1M575.4 130.2h1.1M556.6 159.9h1.1M549.7 126.7h1.1M534.9 156.2h1.1M567.3 136.8h1.1M594.1 148.7h1.1M572.6 174.1h1.1M566.2 133.1h1.1M585.3 194.5h1.1M539.4 155.5h1.1M582.9 122.4h1.1M598.9 138.2h1.1M596.1 143.8h1.1M584.9 185.2h1.1M573.7 168.4h1.1M586.5 196.1h1.1M536.9 160.7h1.1M591.7 150.1h1.1M572 139.3h1.1M537.8 142.8h1.1M530.5 170.5h1.1M598.5 188.8h1.1M603.6 174.2h1.1M597.9 173.6h1.1M571.7 187.7h1.1M587.3 173.4h1.1M559.7 134.9h1.1M573 199h1.1M568.6 154.5h1.1M580.1 152h1.1M585.9 152h1.1M563.6 155.3h1.1M568.9 172.9h1.1M595.1 177.6h1.1M558.7 151.2h1.1M567.7 123.5h1.1M566 131.8h1.1M554.1 141.2h1.1M558.6 168.9h1.1M590 151.8h1.1M564.5 140h1.1M541.7 147.6h1.1M553.5 148.9h1.1M550.7 178.3h1.1M583.7 200.5h1.1M531.3 172h1.1M574.9 134.7h1.1M546.8 166.4h1.1M582 174.1h1.1M558.1 142.1h1.1M577.8 201.8h1.1M575.2 202.5h1.1M592.8 189h1.1M566.7 183.1h1.1M555.9 183.4h1.1M555.3 133h1.1M586.4 193.7h1.1M583 188h1.1M545.2 179.2h1.1M562.1 127h1.1M575.8 121.9h1.1M562.2 151.7h1.1M542.5 137h1.1M582 150.9h1.1M563.6 135.7h1.1M548.6 142.8h1.1M560.4 169.3h1.1M567.6 184.5h1.1M574.1 161.8h1.1M571.2 157.4h1.1M537.3 149.3h1.1M584.9 162.5h1.1M562.2 174.7h1.1M529.9 161.9h1.1M552.8 164.9h1.1M589.1 180.2h1.1M559.3 148.6h1.1M566.4 131h1.1M531.8 153.9h1.1M589.4 170.7h1.1M577.2 122.2h1.1M567.5 131.3h1.1M600.3 185.2h1.1M545.8 177.2h1.1M556 131.8h1.1M566.8 158.8h1.1M587.1 171.8h1.1M573.6 162.1h1.1M553.7 160.7h1.1M584.3 126.5h1.1M570.2 203.6h1.1M572.3 145h1.1M532.6 129.9h1.1M559.5 155.8h1.1M580.3 159.3h1.1M544.3 145.8h1.1M597.4 186.6h1.1M569.2 197.9h1.1M566.1 129.9h1.1M548.6 139.7h1.1M552.1 134.6h1.1M559.5 173.3h1.1M581.4 163.7h1.1M582.6 137.6h1.1M597.4 188.5h1.1M581.2 174.8h1.1M579.1 150.9h1.1M566.9 151.7h1.1M555.1 126.7h1.1M538.2 127.3h1.1M564.8 143.2h1.1M588.5 146.4h1.1M528.5 142.3h1.1M592.7 184.9h1.1M559 173.9h1.1M576.3 126.8h1.1M571.3 144.2h1.1M569.7 137.5h1.1M559.4 128h1.1M596.1 168.6h1.1M533.5 134.4h1.1M535.6 159.6h1.1M581.9 171h1.1M570.9 193.2h1.1M532.6 142.3h1.1M559.8 132.4h1.1M572.1 163.2h1.1M573.4 182.4h1.1M566.4 168.9h1.1M573.6 138.3h1.1M533.6 143.9h1.1M573.7 147.7h1.1M561 147.9h1.1M579.6 141.8h1.1M536.5 139.2h1.1M582.1 140.5h1.1M556.5 186.3h1.1M559 150.6h1.1M585.5 126.9h1.1M578.6 136.3h1.1M596.5 141.2h1.1M585.1 144.5h1.1M542.4 167.7h1.1M589.7 145.4h1.1M582.3 149.1h1.1M539.1 157.9h1.1M566.7 156.9h1.1M561 138.5h1.1M555.7 168.9h1.1M577.9 159.3h1.1M569.3 186.7h1.1M564.1 176.7h1.1M579.1 138h1.1M580.5 189.6h1.1M563.7 164.8h1.1M530.2 145.8h1.1M573.8 143.1h1.1M535.3 167.6h1.1M592.3 189.7h1.1M574.9 188.3h1.1M549.1 125.8h1.1M578.7 172.8h1.1M579.4 162.4h1.1M550.5 165.6h1.1M543.8 161.2h1.1M594.7 148.3h1.1M530.2 127h1.1M553.4 148.3h1.1M558.8 132.5h1.1M534.2 144.6h1.1M584.4 123h1.1M574.3 168.6h1.1M588.4 166.8h1.1M568.9 158.9h1.1M533.4 157.8h1.1M588.4 127.3h1.1M573.3 165.4h1.1M585 133h1.1M587.1 188.5h1.1M555.4 151.4h1.1M571 191.8h1.1M585.9 179.7h1.1M568.5 170.7h1.1M554.9 139h1.1M592.2 178.8h1.1M551.5 127.2h1.1M578.3 180.3h1.1M573.6 133.2h1.1M557.8 171.1h1.1M583.4 181.7h1.1M550.7 147.9h1.1M587.7 172.9h1.1M588.3 136.6h1.1M564 171.1h1.1M544 131.9h1.1M577.9 164.9h1.1M593.6 131.6h1.1M577.2 133.1h1.1M569.1 127.1h1.1M567.1 187.6h1.1M573.8 202.4h1.1M534.1 133.4h1.1M601.6 169.2h1.1M537.4 145.5h1.1M575.4 208.5h1.1M554.1 171.2h1.1M566.9 150.2h1.1M565 140.7h1.1M595.5 179.4h1.1M575.5 142.2h1.1M538.5 154.5h1.1M530.3 161.2h1.1M564.9 160.9h1.1M596.6 131.4h1.1M555 174.2h1.1M568.3 188.3h1.1M540.9 155.8h1.1M581.4 153.7h1.1M587.2 133.8h1.1M589 147.4h1.1M553.5 181.9h1.1M565.3 141.3h1.1M538.4 160.4h1.1M545.6 127.7h1.1M584.5 161.2h1.1M586.3 185h1.1M572.3 138.8h1.1M563.7 156.6h1.1M583.4 197.7h1.1M543.5 140.6h1.1M570.7 125.3h1.1M591.8 190.3h1.1M594.7 130.1h1.1M567.1 135.4h1.1M552 174.1h1.1M555.7 162.1h1.1M540.5 137.2h1.1M587.6 139.8h1.1M571.4 186h1.1M541.2 165.9h1.1M564.8 183.6h1.1M543 146.7h1.1M571.1 178.7h1.1M585.4 130.7h1.1M567.5 127.3h1.1M573.7 215.8h1.1M584.2 133.3h1.1M596.9 184.1h1.1M582.2 131h1.1M576.9 199h1.1M529 138.9h1.1M542 137.6h1.1M559.2 150.3h1.1M586.9 159.3h1.1M579 136.5h1.1M570.1 169h1.1M565.8 149.2h1.1M585 169.2h1.1M562.6 138.7h1.1M584.2 186.1h1.1M555.8 131.7h1.1M599.5 178.5h1.1M573.2 193.9h1.1M593.5 178.9h1.1M532.4 130.8h1.1M546.1 137.3h1.1M568.8 142.1h1.1M563.1 130.2h1.1M551.7 176.8h1.1M528.8 137.5h1.1M558.1 127h1.1M571.4 196.1h1.1M548.9 141.9h1.1M563.2 182.7h1.1M540.7 148.6h1.1M591.7 181.1h1.1M585 128.1h1.1M562.2 158.2h1.1M572.3 214.6h1.1M553.2 126.2h1.1M574.5 209.4h1.1M577.9 174.8h1.1M540.3 145.3h1.1M582.7 180.3h1.1M585.3 168.5h1.1M593.5 191.8h1.1M557.4 163.1h1.1M536.5 175h1.1M574.5 183.8h1.1M568.9 161.8h1.1M559.4 166.1h1.1M539.9 156.1h1.1M573.8 181.8h1.1M600.2 170.1h1.1M539 152h1.1M585.6 133.6h1.1M581.6 148.2h1.1M546.5 156.2h1.1M533.9 168.2h1.1M543.4 137.4h1.1M531.5 133.6h1.1M603.3 174.3h1.1M561 134.6h1.1M590.6 169.7h1.1M541 137.9h1.1M534 167.9h1.1M526.9 137h1.1M539.7 171.2h1.1M547.2 129.5h1.1M562 130.9h1.1M544.5 154.8h1.1M533.3 149.8h1.1M551.2 143.2h1.1M528.7 135.1h1.1M548.1 142.7h1.1M543.2 171.4h1.1M575.2 150h1.1M575.6 167.6h1.1M538.3 142.9h1.1M548.3 177.4h1.1M594.6 133.6h1.1M579.5 191.8h1.1M556.8 168.4h1.1M557.4 152h1.1M550.7 177.5h1.1M562 148.5h1.1M575.8 203h1.1M554.9 186.4h1.1M552.1 155.1h1.1M538.4 138.9h1.1M583.8 165.1h1.1M535.6 156h1.1M527.6 136.9h1.1M574.5 148.8h1.1M576.2 181.5h1.1M602.8 173.6h1.1M571.3 203.3h1.1M539.4 137.6h1.1M588.6 142.5h1.1M560.1 180.6h1.1M555.2 176.9h1.1M536.8 128.8h1.1M585.3 171.8h1.1M592.2 188.8h1.1M544 137.5h1.1M558.6 180.4h1.1M532.3 145.6h1.1M589.5 161.9h1.1M580.9 192.2h1.1M570 167h1.1M596.7 171.2h1.1M576.7 208.8h1.1M573.1 127.4h1.1M550.8 142.7h1.1M527.9 139.7h1.1M548.1 175.9h1.1M561.2 189.3h1.1M549.7 135.2h1.1M585.1 177.9h1.1M575 174.4h1.1M545.5 145.7h1.1M567.8 127.9h1.1M560 159.4h1.1M562.2 158.7h1.1M570.9 153.5h1.1M587 170.1h1.1M590.3 188.1h1.1M535.4 149.1h1.1M589.4 137.6h1.1M545.5 138.1h1.1M587.3 189h1.1M572.7 149.1h1.1M590.4 152.9h1.1M563.7 179h1.1M573 149.3h1.1M538 176.8h1.1M587 135.2h1.1M559.4 148.6h1.1M544 140.8h1.1M560.8 143.9h1.1M584.3 189h1.1M531.4 150.9h1.1M571.4 189.6h1.1M568.4 191.9h1.1M589.6 144.4h1.1M559.6 188.8h1.1M543 127.9h1.1M581.1 144.6h1.1M554.4 159.1h1.1M585.9 158.9h1.1M591.1 164.5h1.1M561.9 145.1h1.1M573.2 129.4h1.1M541.8 161.6h1.1M563.5 148.2h1.1M543.7 154.8h1.1M554.7 160.3h1.1M589.3 135.2h1.1M585.7 123.7h1.1M559.6 139h1.1M571.8 122.7h1.1M573.3 143h1.1M540.5 173.5h1.1M577.7 171.9h1.1M577.4 202.5h1.1M547.9 145.6h1.1M531.7 145.1h1.1M571.8 133.8h1.1M577.9 171.1h1.1M534.9 158.2h1.1M580.6 162.7h1.1M568.6 150.8h1.1M592.2 186.9h1.1M562.7 152.6h1.1M582.9 138.9h1.1M590.4 129.6h1.1M530.5 147.2h1.1M563.1 136.7h1.1M599.9 176.4h1.1M590.5 151.7h1.1M544.6 157.7h1.1M597.8 187.7h1.1M547.9 164.5h1.1M556.3 149.3h1.1M598.5 135.3h1.1M578.5 169.5h1.1M565.6 174.1h1.1M528.1 137.6h1.1M572.8 185.4h1.1M574.6 212.3h1.1M599.2 187.8h1.1M574.9 189.5h1.1M568.5 137.2h1.1M587.6 124.4h1.1M577.6 153.3h1.1M564.5 172.5h1.1M588.6 141.9h1.1M546.2 138.1h1.1M540.4 125h1.1M555 169.9h1.1M568.2 134.9h1.1M574.4 197h1.1M576.1 178.5h1.1M551.7 179.8h1.1M531 158h1.1M548.4 167.9h1.1M568 127.3h1.1M553.1 157.3h1.1M573.1 216.2h1.1M573.7 157.9h1.1M528.6 140.1h1.1M558.5 147h1.1M568.7 171.5h1.1M577.1 126h1.1M600.7 171.4h1.1M580.1 205.8h1.1M554.8 139h1.1M568.5 170.8h1.1M544 131.2h1.1M580.8 134.5h1.1M577.3 158.8h1.1M574.3 130.6h1.1M531.7 132.5h1.1M596.2 139.8h1.1M582.8 178.1h1.1M551 140.8h1.1M584.6 147.6h1.1M589.1 136.7h1.1M554.5 147.7h1.1M572.1 183.1h1.1M573.9 139h1.1M580.8 132.7h1.1M528.8 135.8h1.1M545.9 160.3h1.1M544.9 126.1h1.1M573 146.6h1.1M576.3 184.9h1.1M557.6 130.6h1.1M587.6 140.2h1.1M600 180.8h1.1M575.9 193.3h1.1M581.6 205.4h1.1M594.4 171.3h1.1M538.5 168.8h1.1M570.1 171.3h1.1M583.2 199.6h1.1M551.9 158.6h1.1M566 174.1h1.1M585.6 148.2h1.1M566.6 151h1.1M594.3 164.1h1.1M570.5 189.6h1.1M558.2 179.9h1.1M557.1 185.7h1.1M591.8 163.8h1.1M568.5 185.1h1.1M554 136.4h1.1M581.5 171.6h1.1M542.8 145.4h1.1M592 131.9h1.1M526.4 132h1.1M581.6 198.4h1.1M593.8 186.1h1.1M586.5 173h1.1M582.2 174.3h1.1M586.5 178.6h1.1M536 150h1.1M567.3 181.6h1.1M530.9 131.7h1.1M569.6 176.6h1.1M549.4 129.9h1.1M549.3 177.8h1.1M560.2 174.3h1.1M582 176.6h1.1M568.7 197.2h1.1M594.1 181h1.1M575.3 136.9h1.1M573.5 203h1.1M572.4 188.8h1.1M541.8 132.2h1.1M558.5 126.8h1.1M538 132.7h1.1M590.2 193.6h1.1M550.7 138h1.1M582.7 126.9h1.1M591.2 141.7h1.1M568.8 139.1h1.1M587.4 142.2h1.1M549.5 151.5h1.1M554.4 161.3h1.1M575 146.7h1.1M579.2 192.2h1.1M545 154.7h1.1M579.5 194.7h1.1M571.2 191.2h1.1M583.7 122.4h1.1M552.9 158.3h1.1M568.2 188.8h1.1M581.3 173.7h1.1M588.3 138.8h1.1M566.1 175.6h1.1M594.5 190.2h1.1M559.1 181h1.1M534.4 173.7h1.1M544.9 143.6h1.1M574.7 184.1h1.1M585.7 137.9h1.1M592.3 134.4h1.1M596.2 174.8h1.1M537.3 158.8h1.1M561 181.5h1.1M537.7 126h1.1M539.4 133.9h1.1M545.7 127.7h1.1M595.1 137.7h1.1M587.6 149.4h1.1M553.5 134.4h1.1M541.4 127.3h1.1M535.7 128.6h1.1M537.1 160.6h1.1M568.9 198.7h1.1M532.6 145.9h1.1M548.1 137.9h1.1M567.3 189.6h1.1M572.8 192.1h1.1M556.5 137.3h1.1M568 176.1h1.1M585.6 131.9h1.1M579 184.6h1.1M530.4 158.7h1.1M602.9 170.9h1.1M587.8 153h1.1M569 152.4h1.1M576.8 129.6h1.1M537.1 151.1h1.1M582.7 185.1h1.1M579.6 154.7h1.1M578.5 159.5h1.1M593.4 133.6h1.1M558.9 134.6h1.1M592 190.7h1.1M585.2 152.4h1.1M535.4 150.9h1.1M575.2 206.8h1.1M590.2 185.3h1.1M589 124.5h1.1M564.9 185.7h1.1M600.6 181.3h1.1M597.7 143h1.1M586.7 149.5h1.1M554.4 137.4h1.1M562.3 131.6h1.1M555.4 132.7h1.1M586.6 191.3h1.1M567 175.2h1.1M534.7 167.2h1.1M586.6 145.4h1.1M534.2 127.3h1.1M602 183.1h1.1M550.2 173.2h1.1M552 168.2h1.1M555 178.7h1.1M568 171.5h1.1M546.1 137.8h1.1M552.3 170.6h1.1M546.1 127.7h1.1M540.5 171.7h1.1M566.8 165.6h1.1M540.4 178.3h1.1M587.4 123.7h1.1M599.1 172.8h1.1M542 139.1h1.1M540.9 151.3h1.1M542.1 137.4h1.1M593 178.5h1.1M571.3 139h1.1M580.2 186.8h1.1M590.7 180.7h1.1M546.5 142.9h1.1M528.7 145.2h1.1M555.2 170.6h1.1M555.6 130.9h1.1M594.5 170.5h1.1M549.3 169.8h1.1M587 143.8h1.1M585.5 167.6h1.1M591.8 187.7h1.1M603.3 180.8h1.1M543.5 129h1.1M591.6 172.8h1.1M538.3 153.9h1.1M553.8 177.7h1.1M555.3 141.6h1.1M533.6 171.4h1.1M539.8 143.8h1.1M571.3 211.8h1.1M539.4 144.2h1.1M542.6 176.2h1.1M585.8 194.8h1.1M563.7 159.8h1.1M538.6 165.2h1.1M572.1 210h1.1M559.6 152.5h1.1M533.6 139.8h1.1M551.9 135.9h1.1M586.6 151.5h1.1M566.5 135.6h1.1M573.3 126h1.1M533.3 141.4h1.1M590.7 124.7h1.1M541.1 129.8h1.1M531 143.5h1.1M577.5 149.2h1.1M569.8 164h1.1M526.9 142.8h1.1M591.8 191.3h1.1M571.6 177.8h1.1M595.8 144.2h1.1M557.8 132.9h1.1M583.9 191.4h1.1M576.3 169.2h1.1M597.2 137.2h1.1M546 133.9h1.1M570.8 184h1.1M551.2 141.4h1.1M582.3 181h1.1M542.9 131.6h1.1M567.9 187.4h1.1M590 148.9h1.1M562.2 177.4h1.1M550.2 147.1h1.1M551 180.5h1.1M531.7 129.7h1.1M591.4 186h1.1M546.1 125.6h1.1M556.8 164.6h1.1M544.3 155.5h1.1M539.9 175.2h1.1M598.1 175.5h1.1M565.3 136.5h1.1M578.8 201.5h1.1M582.1 171.5h1.1M563.5 144h1.1M561.4 185.6h1.1M555.9 180h1.1M565.2 148.7h1.1M567.6 169.6h1.1M562.9 151.1h1.1M553.4 170h1.1M578.8 152.7h1.1M568.9 186.8h1.1M580.2 147h1.1M585.2 124.9h1.1M532.1 130.4h1.1M545.2 141.9h1.1M535.6 167.2h1.1M602 183.7h1.1M585.5 139.4h1.1M568.5 126.4h1.1M582.4 154.3h1.1M588.9 172.4h1.1M559.1 173.7h1.1M575.1 174.7h1.1M582.8 131.1h1.1M564.7 128.1h1.1M539.9 135.6h1.1M536.8 152.2h1.1M572.5 152.9h1.1M551.8 175.9h1.1M599.8 174.5h1.1M538.6 136.1h1.1M565.7 189.5h1.1M529.7 157.5h1.1M576.1 180.1h1.1M556.6 166.3h1.1M575.9 191.2h1.1M561.8 166.3h1.1M588.3 194.4h1.1M587.8 153h1.1M561.3 186.4h1.1M555.8 154.3h1.1M529.2 143.1h1.1M564.5 165.2h1.1M589.7 136.4h1.1M580.7 137.4h1.1M541.8 150.9h1.1M559.7 169.3h1.1M597.7 172.8h1.1M572.8 206.8h1.1M579.9 190.3h1.1M585 133.2h1.1M589.1 150.4h1.1M583.9 157h1.1M573.1 148.7h1.1M561.1 164h1.1M536.7 173.9h1.1M552.7 177.3h1.1M592.5 141.9h1.1M566.8 157.4h1.1M572.9 171.1h1.1M544.2 166.2h1.1M554.3 166.6h1.1M579.8 161.8h1.1M575.6 156.7h1.1M569.7 160.2h1.1M589 191h1.1M584.9 152.4h1.1M540.6 152.6h1.1M567.6 131.6h1.1M573.3 160.4h1.1M547.7 139h1.1M579.1 129.9h1.1M582.1 151.5h1.1M552 167.2h1.1M543.3 148h1.1M565.8 143.4h1.1M559.5 160.2h1.1M574.3 198.8h1.1M593.4 135.2h1.1M529.8 129.5h1.1M578.3 135.7h1.1M588.5 153h1.1M580.7 137.7h1.1M574 136.2h1.1M568.2 143.1h1.1M558.3 159.6h1.1M588.7 152.7h1.1M536.9 161.9h1.1M546.2 176.5h1.1M583.2 194.9h1.1M563.8 163.7h1.1M570.2 203h1.1M545.1 176.8h1.1M595.5 167.6h1.1M558.2 175.9h1.1M590.5 152.2h1.1M548.2 131.8h1.1M545 132.3h1.1M596.5 142.9h1.1M580.6 130.2h1.1M579.8 156.8h1.1M570.9 123.9h1.1M574.7 161.5h1.1M581.6 179.9h1.1M568.6 168.3h1.1M583.1 144.5h1.1M591.5 132.9h1.1M569.7 179.8h1.1M533.8 130.4h1.1M571.3 129.7h1.1M589.7 161.6h1.1M581.7 141.5h1.1M569.2 124.8h1.1M577.8 192.1h1.1M546.3 130.4h1.1M533.1 161.1h1.1M557.3 158h1.1M528.6 133.5h1.1M595.6 135.9h1.1M559.5 175.4h1.1M567.7 130.1h1.1M539.3 136.3h1.1M546.2 176.8h1.1M566.7 149.1h1.1M548.8 173.3h1.1M574.9 182.4h1.1M576.1 149h1.1M589.3 153.7h1.1M575 135.6h1.1M589.9 169.1h1.1M559.7 173.6h1.1M590.8 158.7h1.1M561.9 133.9h1.1M530.5 153.8h1.1M540.5 140.3h1.1M561.3 181.9h1.1M571.8 154.3h1.1M583.3 136.6h1.1M562.8 183.8h1.1M569.8 179.7h1.1M594.3 136.8h1.1M570.4 187.4h1.1M587 132.3h1.1M538.5 128.2h1.1M573.6 131.5h1.1M555.6 168.1h1.1M529.2 161.1h1.1M534.5 160.5h1.1M581 193.3h1.1M577.3 124.5h1.1M595.6 180.1h1.1M546.3 156.3h1.1M550.8 176.7h1.1M536 168.9h1.1M585.4 143.5h1.1M591 163.7h1.1M595.3 178.3h1.1M586.5 123.3h1.1M556 139.5h1.1M565.8 176.8h1.1M534.1 159.7h1.1M598.2 183.1h1.1M586.7 169.7h1.1M572.7 210.7h1.1M573.7 214h1.1M567.5 143.5h1.1M577.3 152.5h1.1M570.9 177.2h1.1M549.5 129.3h1.1M572.8 143.4h1.1M584.7 174.7h1.1M567.3 165.1h1.1M588 148.9h1.1M554.9 137.7h1.1M533.9 130.4h1.1M576.4 170.9h1.1M547.4 158.7h1.1M546.6 165.7h1.1M590.8 183.4h1.1M580.4 150.5h1.1M583.3 163.5h1.1M558.4 163h1.1M546 133.9h1.1M540.5 158h1.1M587.6 164.9h1.1M572.3 212h1.1M570 193.6h1.1M575 147.9h1.1M543.1 151.9h1.1M557.8 125.8h1.1M538.2 172.9h1.1M575.7 208.6h1.1M565 187.1h1.1M539 146.4h1.1M569.4 160.2h1.1M566.8 177.1h1.1M568.7 146.5h1.1M577.3 137.5h1.1M573.1 158h1.1M531.1 154.4h1.1M593.5 180.8h1.1M581.1 138.6h1.1M542.7 140.5h1.1M554.8 180.9h1.1M598.5 186.9h1.1M541.3 128.2h1.1M548.2 133.5h1.1M533.2 140.9h1.1M563.7 153.5h1.1M583.1 136.2h1.1M578.3 175.5h1.1M570 189.8h1.1M549.6 133.4h1.1M566.1 177.7h1.1M536.3 170.6h1.1M562.3 144h1.1M572.1 208.4h1.1M592.1 164h1.1M567 175.9h1.1M573 189.7h1.1M566.5 133.3h1.1M564.3 160.6h1.1M584.2 161.8h1.1M535.7 153.4h1.1M587.7 147.4h1.1M571 133.7h1.1M567.5 160.5h1.1M544.8 173.7h1.1M581.6 147.1h1.1M582.1 203.1h1.1M553.5 174.2h1.1M584.7 161.9h1.1M577.1 211.5h1.1M581.2 141.4h1.1M541.2 152.9h1.1M561.1 167.8h1.1M569.9 182.5h1.1M585.7 170.4h1.1M534.2 154.5h1.1M596.8 178.3h1.1M538.7 169.2h1.1M543.2 168.8h1.1M548.2 155.9h1.1M553.2 148.1h1.1M594.4 133h1.1M558.2 147.9h1.1M583.9 135.5h1.1M579.2 187.8h1.1M551.3 135.3h1.1M547.6 172.8h1.1M578.2 189.4h1.1M592.6 150.9h1.1M566.1 135.4h1.1M538.7 169.7h1.1M567.3 170.6h1.1M579.9 121.7h1.1M550.9 144.8h1.1M569.6 130.6h1.1M577.6 141.6h1.1M568.1 170h1.1M575.9 141.1h1.1M586.6 178.5h1.1M532.1 151h1.1M575.6 159.7h1.1M553.2 153.6h1.1M552.3 149.6h1.1M593.1 151.1h1.1M559.1 177h1.1M572 183.3h1.1M597.1 140.9h1.1M584.9 165.5h1.1M533.8 143h1.1M589.8 180.1h1.1M588.7 134.1h1.1M583.5 192.2h1.1M573.2 144.4h1.1M526.9 135.3h1.1M572.7 151.9h1.1M564.5 140h1.1M593.2 133.1h1.1M571.2 204.8h1.1M591.3 181.2h1.1M567.5 160.4h1.1M561.2 128.5h1.1M584.8 182.5h1.1M538.8 128.2h1.1M568.4 172h1.1M591.2 150.6h1.1M593.4 128h1.1M567.9 184.8h1.1M584.5 196.6h1.1M547.2 153h1.1M568.1 136.3h1.1M557 143.7h1.1M557.6 147h1.1M578.2 142.7h1.1M585.8 154.8h1.1M548.4 162.6h1.1M598.2 171.6h1.1M550.3 177.8h1.1M533.4 173.4h1.1M542.9 152.5h1.1M542.1 139h1.1M568.7 151.8h1.1M578.4 127.7h1.1M574.4 130.3h1.1M573.4 200.9h1.1M544.5 138.7h1.1M544 146.6h1.1M599.2 183.4h1.1M531.9 136.3h1.1M540.9 146.9h1.1M584.3 186.1h1.1M565.9 188.9h1.1M548.9 164.1h1.1M579.4 151.1h1.1M563.2 155.2h1.1M568.4 179.9h1.1M597.5 177h1.1M544.3 130.8h1.1M559.4 125.3h1.1M528.9 130.6h1.1M564.2 186h1.1M584.8 161.3h1.1M572.2 167.3h1.1M573.7 200.7h1.1M587 151.1h1.1M572.2 137.9h1.1M567.8 188.2h1.1M580.3 186.6h1.1M568.6 148.2h1.1M564.2 190.1h1.1M583.1 125.4h1.1M561.4 181.7h1.1M578.8 204.3h1.1M540.6 147.6h1.1M585.6 171.4h1.1M536.7 175.9h1.1M590 168.3h1.1M553.1 182.4h1.1M564.5 189.7h1.1M593.7 168.3h1.1M594.3 189h1.1M593 169h1.1M579.6 178h1.1M602.7 183.5h1.1M576.5 168.6h1.1M567.3 150.8h1.1M603.4 177h1.1M578.1 160h1.1M553 130.3h1.1M542.7 156.4h1.1M575.4 165.1h1.1M594.4 169.6h1.1M534.8 167.2h1.1M560.4 126.4h1.1M545.3 142.6h1.1M579 188.7h1.1M546.4 178.9h1.1M543.8 177h1.1M562.5 178.8h1.1M573.8 203.4h1.1M581.6 140h1.1M538.6 144.8h1.1M545.3 144.7h1.1M580.9 185h1.1M600 176.7h1.1M570.6 151.3h1.1M577.3 166h1.1M555.7 132.8h1.1M562.7 173.6h1.1M563.7 161.6h1.1M575.3 184.9h1.1M544 163.5h1.1M597.6 180.4h1.1M547.6 174.8h1.1M551.4 163.4h1.1M539.4 156.7h1.1M542.6 156.4h1.1M538.1 139.8h1.1M565.8 135.3h1.1M589.8 181.2h1.1M558.5 166.8h1.1M561.8 133.7h1.1M584.4 163.1h1.1M588.2 175.6h1.1M550.1 183.8h1.1M564.4 159h1.1M577.3 164.8h1.1M560.7 174.9h1.1M576.3 128.9h1.1M538.3 170.6h1.1M589.1 174.7h1.1M527.4 132.6h1.1M575.3 125.6h1.1M555.7 173.4h1.1M551 172.5h1.1M573.3 156.7h1.1M576.8 208h1.1M595.2 176.7h1.1M564 168.8h1.1M554.6 181.7h1.1M591.3 126.7h1.1M579.1 198h1.1M532.2 172.6h1.1M554.4 141.5h1.1M547.6 141.4h1.1M570.2 137.3h1.1M558.5 141.2h1.1M562.2 178.8h1.1M606.2 173h1.1M578.8 187h1.1M569.1 169h1.1M543.6 140h1.1M589.9 183.5h1.1M529.8 166.1h1.1M553.3 141.7h1.1M577.4 179.2h1.1M585.6 197.2h1.1M583.4 137.8h1.1M566.8 126.9h1.1M562.2 163.2h1.1M588.2 156.8h1.1M588 194.5h1.1M579.7 126.2h1.1M573.1 173.7h1.1M575.9 205.5h1.1M533.6 132h1.1M550.8 166.3h1.1M589.4 157.2h1.1M547.6 129.3h1.1M601.2 169.2h1.1M551.5 184.2h1.1M592.1 181.3h1.1M546.4 128.1h1.1M571.5 156.2h1.1M579.7 135.5h1.1M583.4 148.5h1.1M559.3 149.7h1.1M532.1 160.1h1.1M603 180.6h1.1M531.3 140.8h1.1M599.4 186.4h1.1M576.1 137.3h1.1M564.9 147h1.1M592.8 193.1h1.1M574.8 130.3h1.1M527.4 133.6h1.1M570.2 192.8h1.1M568.4 124.9h1.1M589.1 131.3h1.1M530.5 127.8h1.1M568.3 166.8h1.1M556.1 176.7h1.1M596.9 181.8h1.1M584.8 161.4h1.1M541.5 140.4h1.1M591.7 177.3h1.1M534.2 144.4h1.1M601 176.2h1.1M551.3 138.6h1.1M592.7 188.3h1.1M576.6 161.6h1.1M563.6 146.8h1.1M587.3 156.6h1.1M585.9 180.7h1.1M534.6 166.3h1.1M591.2 184.6h1.1M587.9 130.3h1.1M594.5 180.9h1.1M577.6 165h1.1M561.2 187.4h1.1M573.2 192.8h1.1M587.9 191.1h1.1M582.2 156.6h1.1M530.3 168.7h1.1M547.6 134.1h1.1M578.4 156.4h1.1M558.6 133.4h1.1M591.1 138.5h1.1M555.6 130.6h1.1M587 146.1h1.1M541.7 160h1.1M533.2 171.5h1.1M604.7 173.1h1.1M591 164.8h1.1M538.3 160.7h1.1M570.9 143.1h1.1M539.4 148.2h1.1M581.3 137.7h1.1M543.9 163.2h1.1M574.8 205.9h1.1M539.3 159.3h1.1M590.9 124.2h1.1M586.4 156.1h1.1M542.7 161.7h1.1M530.4 161.4h1.1M552.7 181.5h1.1M543 125.5h1.1M553.4 168.8h1.1M573.6 209.9h1.1M581.4 202.9h1.1M562 179.1h1.1M585.9 179h1.1M558.8 160.7h1.1M552.3 154.4h1.1M535.5 174.3h1.1M568.7 146.6h1.1M592.6 191.6h1.1M575.1 184.9h1.1M532.2 144.1h1.1M576.9 152.9h1.1M594.6 132.1h1.1M548.8 156.6h1.1M556.8 125.5h1.1M589.2 160.1h1.1M528.7 148.4h1.1M590.4 163.8h1.1M599.9 170h1.1M558.9 168.4h1.1M533.7 138.6h1.1M580.8 148.8h1.1M568.3 184.1h1.1M540.2 173.9h1.1M541.9 146.5h1.1M580.4 199h1.1M581.5 157.5h1.1M575.4 134.7h1.1M578.8 183.6h1.1M568.5 136.9h1.1M530.7 152.1h1.1M576.3 190.4h1.1M528 127.9h1.1M548 180h1.1M584.5 173.1h1.1M537.8 143.9h1.1M584.1 137.5h1.1M569.1 203.9h1.1M569.5 125.2h1.1M602.5 175.1h1.1M541.5 168.5h1.1M593.5 148.1h1.1M588.3 154.8h1.1M540.6 124.9h1.1M548.9 144.8h1.1M551.3 128.1h1.1M575.1 132.6h1.1M584.3 150.9h1.1M541.7 130.4h1.1M567.4 159.9h1.1M533.6 160h1.1M580.6 137.3h1.1M570.3 163.1h1.1M600.2 180.6h1.1M541.5 177.5h1.1M579 136.9h1.1M545.4 160.3h1.1M541.8 132h1.1M534.4 147.2h1.1M582.6 125.8h1.1M583.6 172.7h1.1M558.8 155.6h1.1M590.8 172.1h1.1M557.9 152.2h1.1M587.9 122.5h1.1M545.9 159.8h1.1M552.7 182.4h1.1M543.5 142.3h1.1M580.8 189.8h1.1M571.8 172.1h1.1M534.1 137.9h1.1M559.4 128.3h1.1M548.7 145.5h1.1M550.3 170.3h1.1M594.1 177.3h1.1M580.9 139.5h1.1M590.9 152.1h1.1M533.6 154h1.1M530.9 150.9h1.1M527.1 143.2h1.1M581.9 196.3h1.1M561.7 154.8h1.1M558.4 144.4h1.1M597.2 168.5h1.1M564.8 162.4h1.1M568.2 130.6h1.1M582.6 196.2h1.1M591.9 158.3h1.1M573.7 204.3h1.1M547.4 153.8h1.1M550.2 131.6h1.1M581 150.8h1.1M603.8 174.4h1.1M569.4 185.7h1.1M568.8 174.1h1.1M530.9 146.8h1.1M548.6 154.4h1.1M554.9 186.6h1.1M533.7 129.5h1.1M585.2 179.9h1.1M589 168.3h1.1M538.9 132h1.1M586.1 174h1.1M540 169.6h1.1M570.5 187.9h1.1M545.5 148h1.1M576.4 195.7h1.1M562.4 178.6h1.1M552.1 179h1.1M536.1 132.3h1.1M577.8 146.8h1.1M535.3 134.8h1.1M548.1 164.7h1.1M567.1 173.5h1.1M601.9 176.5h1.1M537.8 148.6h1.1M569 151.5h1.1M563.2 174.7h1.1M595.3 143.3h1.1M561.2 152.7h1.1M547.1 139.2h1.1M545.9 158h1.1M550.8 158.9h1.1M595.1 176.4h1.1M597 137.2h1.1M548.4 128.3h1.1M543.5 159.4h1.1M587.1 188.5h1.1M545.3 143.7h1.1M559.8 135.5h1.1M533.5 172.1h1.1M568.2 187.9h1.1M566.6 143.6h1.1M594.6 189h1.1M583.5 156.4h1.1M576.9 193.1h1.1M584.3 172.3h1.1M582.7 176h1.1M592.9 149.3h1.1M571.8 133.1h1.1M582.3 170.7h1.1M582.6 138.4h1.1M540.3 128.6h1.1M584.1 136.6h1.1M605 176.8h1.1M574.7 180.7h1.1M591.8 166.6h1.1M565.9 155.5h1.1M583.2 189h1.1M573.2 128.3h1.1M593 134.8h1.1M571.4 137.5h1.1M572.8 140.5h1.1M580 190h1.1M538.8 157.9h1.1M574.5 203.7h1.1M575.3 176.1h1.1M552.7 178.4h1.1M529.1 141.5h1.1M546.2 166.7h1.1M572.8 157.2h1.1M583.7 200.8h1.1M546.1 175.6h1.1M527.7 141h1.1M605.3 175.6h1.1M554.5 174.8h1.1M566.6 186.4h1.1M578.9 142.7h1.1M547.5 148.3h1.1M564.3 144.1h1.1M583.1 150.7h1.1M585.6 183.3h1.1M603.5 180.4h1.1M580.3 199.5h1.1M576.2 155.7h1.1M591.6 165.3h1.1M564.1 139.5h1.1M561.7 157.4h1.1M581 140h1.1M530.7 138.5h1.1M588.5 138.9h1.1M597 134.4h1.1M528 138.8h1.1M592.4 144.9h1.1M594.1 168.4h1.1M542.7 168.1h1.1M561.9 158.9h1.1M558.2 162.1h1.1M533.4 160.3h1.1M589.7 150.4h1.1M571.5 181.9h1.1M543.3 176.4h1.1M571.5 139.2h1.1M605.2 176.7h1.1M558.4 133.3h1.1M562.4 177.1h1.1M588.6 179h1.1M593.7 150.1h1.1M588.5 170.5h1.1M540.8 149.4h1.1M594.8 138.9h1.1M593.1 189.7h1.1M561.1 189.1h1.1M580.5 177.4h1.1M571.2 208.3h1.1M592.2 175.2h1.1M587.7 138.3h1.1M555.4 145h1.1M551.9 170.2h1.1M580.5 162.7h1.1M573.7 195.9h1.1M563.3 162.7h1.1M557.5 156.3h1.1M592.5 151.4h1.1M588.7 169.5h1.1M534.3 128.9h1.1M571.3 144.4h1.1M577.7 178.3h1.1M545.8 178.8h1.1M589.5 137.2h1.1M553.7 130.4h1.1M543.7 147h1.1M574.2 199.5h1.1M597.3 144.3h1.1M542.1 145.8h1.1M555.2 145.3h1.1M552.2 164.8h1.1M567.1 134.3h1.1M532.3 148.6h1.1M538.1 147.8h1.1M571.4 157.4h1.1M573.6 128.4h1.1M583.8 195.6h1.1M602.9 181.6h1.1M557.7 144.6h1.1M574 178.3h1.1M541.6 154.1h1.1M539.8 136.4h1.1M571.2 204.6h1.1M560.1 167.4h1.1M562.6 184.7h1.1M593.3 166.6h1.1M594.7 167.6h1.1M569.9 205.5h1.1M559.1 135.6h1.1M530.7 159.2h1.1M581 125h1.1M600.2 181.2h1.1M569.9 151h1.1M574.3 146.9h1.1M589.9 173.4h1.1M569.7 143.2h1.1M587.1 192h1.1M563.5 157.2h1.1M574 147.5h1.1M529 151.1h1.1M584.2 179.5h1.1M592.2 176.3h1.1M604 174.5h1.1M547 142h1.1M587.2 187h1.1M534.1 146.2h1.1M597.9 185.4h1.1M589 178.6h1.1M586.8 128.6h1.1M549.5 138.2h1.1M560.9 166.9h1.1M556.5 174.7h1.1M561.7 172.7h1.1M594.6 168.5h1.1M547.1 130.9h1.1M596.3 168.6h1.1M569.9 178.8h1.1M585.5 125.8h1.1M585 140.8h1.1M572.7 138.2h1.1M545.9 178.2h1.1M551.2 161.1h1.1M534.6 134.1h1.1M532 160.3h1.1M554.5 172.2h1.1M547.7 170.3h1.1M592.9 126.9h1.1M571.1 164.4h1.1M593.1 169.3h1.1M549.2 154h1.1M566.5 179.1h1.1M571.8 186.2h1.1M550.8 182.6h1.1M576 188.1h1.1M584.9 165.7h1.1M574.5 133.1h1.1M589.4 194.1h1.1M579.9 186.3h1.1M593.3 172.2h1.1M579.2 126.5h1.1M587 193.5h1.1M585.8 138h1.1M530.4 146.3h1.1M529 140.2h1.1M532.8 144.2h1.1M575.1 145.7h1.1M559.9 149.4h1.1M558 174.8h1.1M594 172.8h1.1M575.8 167.6h1.1M596.7 173.5h1.1M582.9 126.2h1.1M571.3 186h1.1M562.3 159.3h1.1M546.7 156.8h1.1M572.2 178.2h1.1M543.9 136.4h1.1M594.8 183.3h1.1M531.7 171.7h1.1M566.9 174h1.1M582.4 122.2h1.1M593.4 148.9h1.1M591.8 141.9h1.1M528.7 152.4h1.1M564.4 176.5h1.1M544.7 171.2h1.1M549.8 130h1.1M554.7 156h1.1M553 149.4h1.1M548.2 163.2h1.1M543.2 145.2h1.1M569.6 207.5h1.1M584.6 172.6h1.1M572.1 126.9h1.1M575.6 200.4h1.1M586.4 142.2h1.1M530.8 169.8h1.1M594 187.6h1.1M541.2 179h1.1M578.3 130.5h1.1M591.5 132.3h1.1M563 167.8h1.1M603 174.4h1.1M546.2 180.4h1.1M582.4 195.2h1.1M585.9 140.9h1.1M567.4 149.1h1.1M568.9 189h1.1M577.7 131.1h1.1M572.4 200.2h1.1M567.4 146.4h1.1M538.7 166.4h1.1M559.2 174.9h1.1M570.4 167h1.1M591.4 162.6h1.1M586.9 190.9h1.1M585.3 139.9h1.1M534.3 160.1h1.1M591.4 131.2h1.1M581.1 195.1h1.1M550.1 178.7h1.1M556.5 178.4h1.1M548.4 146.9h1.1M580.8 192.3h1.1M574.6 148.4h1.1M587.5 124.3h1.1M545.2 159.7h1.1M567.4 191.2h1.1M531.7 134.4h1.1M559.3 185.8h1.1M539.9 126.9h1.1M579.2 157.8h1.1M578.6 145.7h1.1M539.2 148.6h1.1M564.2 180.7h1.1M570.8 127.9h1.1M582.7 179.7h1.1M564.4 174.5h1.1M548.9 134h1.1M579.8 193.8h1.1M550.7 154.3h1.1M586.8 142.4h1.1M545.3 163.6h1.1M580.1 167.4h1.1M553.6 144.7h1.1M577 143.9h1.1M539.5 173.8h1.1M534.6 139h1.1M579 122.2h1.1M568.8 174.7h1.1M549.8 148.9h1.1M568.3 134h1.1M577 159.5h1.1M554 135.6h1.1M580.2 146.8h1.1M544.7 135.7h1.1M601.7 182.2h1.1M580 197.4h1.1M582.5 193.6h1.1M575.6 210.6h1.1M581.1 143.7h1.1M584.8 150.1h1.1M586.4 189.4h1.1M593.7 136.5h1.1M542.1 133h1.1M589.4 149.9h1.1M570.2 129.2h1.1M581.4 127.9h1.1M563.5 169.2h1.1M535.6 150.7h1.1M587 180.7h1.1M565.7 145.2h1.1M545.5 147.1h1.1M590.9 155.8h1.1M570.3 151.4h1.1M532 156.7h1.1M563.6 142.3h1.1M549.7 144.2h1.1M544.4 144h1.1M557.1 133.5h1.1M552.9 149.7h1.1M568.5 141.2h1.1M567.8 160.7h1.1M570.4 156.6h1.1M592 142.1h1.1M593.5 130.3h1.1M536.1 147.9h1.1M570.3 144.6h1.1M567.8 193.6h1.1M573.7 197.8h1.1M592.3 172.6h1.1M574.9 164.5h1.1M557.4 146.7h1.1M533.9 128.7h1.1M556.2 185h1.1M582 148.5h1.1M548.5 160.1h1.1M530.6 148.2h1.1M571.9 157.9h1.1M547.5 163.3h1.1M561.5 156.5h1.1M592.1 136.6h1.1M574.3 196.8h1.1M566 128.8h1.1M579.5 138.1h1.1M585.4 191h1.1M547.8 134.8h1.1M597 180h1.1M550.3 147.1h1.1M566.8 181.9h1.1M539 141.9h1.1M591.2 138.1h1.1M540.1 142.7h1.1M579.7 185.9h1.1M527 138.4h1.1M590.5 157.2h1.1M589.4 169.1h1.1M575 130.2h1.1M571.2 211.7h1.1M557.4 127.3h1.1M570.5 166.9h1.1M562.3 179.9h1.1M572.3 130.8h1.1M560.8 132.9h1.1M572.5 183h1.1M570 192.4h1.1M583.7 139.7h1.1M552.4 135.8h1.1M579.7 126.8h1.1M592 190.6h1.1M534.9 131.5h1.1M564.1 184.4h1.1M558.6 134.1h1.1M585.2 175.3h1.1M526.7 132.5h1.1M564.6 139.9h1.1M568.2 169.7h1.1M569.9 151.4h1.1M549.6 129.1h1.1M567.2 173h1.1M591.1 138.4h1.1M561.5 156.4h1.1M572.4 200.5h1.1M570.9 165.5h1.1M589.8 138.9h1.1M560.6 183h1.1M550.5 147.2h1.1M568.4 157.9h1.1M533.3 163.4h1.1M558.4 168.6h1.1M584.1 178.9h1.1M594.6 180.4h1.1M591 125.4h1.1M578 138.2h1.1M561.7 158.4h1.1M595.8 139.8h1.1M548.5 154.8h1.1M531.9 132.4h1.1M581.3 142.1h1.1M552.8 157.3h1.1M596 176.9h1.1M553.8 137.4h1.1M572.6 183h1.1M583 202.1h1.1M543.9 167h1.1M568.9 198.8h1.1M567.3 168.5h1.1M580.5 196.6h1.1M566.9 145.9h1.1M560.6 165h1.1M541 131.2h1.1M591.4 144.7h1.1M553.7 184.8h1.1M553.1 126.3h1.1M571.8 198h1.1M558.7 132.5h1.1M530.2 151.9h1.1M535.6 128.9h1.1M572.1 202.3h1.1M543.3 170.5h1.1M536.6 167.5h1.1M544.1 126.3h1.1M555.9 137.2h1.1M587.6 153.6h1.1M551.5 182.5h1.1M588.1 133.4h1.1M541.5 159.8h1.1M540.4 160.9h1.1M576 168.3h1.1M569.6 143.2h1.1M544 174.9h1.1M568.7 133.7h1.1M543.5 125.2h1.1M535.6 155.1h1.1M576.9 148.7h1.1M590.6 161h1.1M529.3 145.9h1.1M601.5 181.1h1.1M594.3 171.5h1.1M600.1 178.8h1.1M566.5 178.5h1.1M584.2 151.4h1.1M568.8 168h1.1M597.1 167h1.1M559.3 138.2h1.1M583.5 137.2h1.1M572.9 195.7h1.1M565.6 169.2h1.1M570.5 200.8h1.1M561.2 166.9h1.1M590.1 129.4h1.1M551.9 178.2h1.1M569 192.3h1.1M590.6 189.8h1.1M586.8 177.1h1.1M561 145.2h1.1M531.4 134.4h1.1M541.3 164.7h1.1M556.7 157.6h1.1M589.2 130.9h1.1M545.8 151.5h1.1M550.6 173.5h1.1M572.1 203.9h1.1M553.9 162.4h1.1M572.2 197h1.1M583.7 134.1h1.1M545 134h1.1M540.7 163.3h1.1M551.9 163.1h1.1M588.3 173.4h1.1M596.9 140.3h1.1M534.7 164.3h1.1M536.5 160.2h1.1M545 168.9h1.1M553.2 169.9h1.1M589.5 161h1.1M548.1 181.7h1.1" stroke="#ec7f2a" stroke-width="1.1" opacity="1.0" fill="none"/>
<path d="M540.7 123.9h1.0M600.6 166.6h1.0M604 185.9h1.0M546.9 183.7h1.0M579.3 119.7h1.0M590.4 195.2h1.0M605.5 182.7h1.0M562.4 190.2h1.0M570.6 216.2h1.0M598.6 164.9h1.0M571.9 120.3h1.0M601.6 187.2h1.0M592.6 158.9h1.0M525 144.3h1.0M562.7 190.7h1.0M554.3 189.7h1.0M594.9 157h1.0M550.4 124.1h1.0M580.3 209.3h1.0M561.8 123.6h1.0M562.3 124.5h1.0M532.1 173.1h1.0M554 186.4h1.0M526.8 149.2h1.0M576.7 214.5h1.0M584.2 120.9h1.0M567.2 198.8h1.0M583.4 203.1h1.0M525.3 126h1.0M598.8 165.5h1.0M597.5 128.8h1.0M537.9 123.3h1.0M607.5 177.3h1.0M603.8 168.7h1.0M558.8 122.4h1.0M563.4 192.9h1.0M584.7 120.4h1.0M600.1 164.4h1.0M557.8 124.1h1.0M558 189.8h1.0M562.9 190.4h1.0M586.5 120.4h1.0M546.1 122.6h1.0M527.3 161.5h1.0M598.6 134.9h1.0M604.3 170.7h1.0M607.2 174.3h1.0M568.8 209.6h1.0M575 120.5h1.0M600.7 137.4h1.0M601.5 185.9h1.0M602.5 167.1h1.0M594.9 156.6h1.0M592.8 158.4h1.0M579.7 119.8h1.0M557.2 189.6h1.0M525.9 141.3h1.0M599.2 189h1.0M531.5 174.4h1.0M607.2 170.5h1.0M598.8 165.8h1.0M551.2 186.3h1.0M600 134.3h1.0M588.6 196.7h1.0M568 207.8h1.0M592.5 159.2h1.0M554.1 122.7h1.0M540 179.6h1.0M603.6 168.8h1.0M602.9 168.4h1.0M525.3 133.7h1.0M574.7 120.4h1.0M524.1 151h1.0M567.2 204.7h1.0M599 133.8h1.0M554.3 187.3h1.0M545 123.5h1.0M597.5 164.2h1.0M569.9 212.7h1.0M581.3 207.7h1.0M533.8 177h1.0M575.7 215.4h1.0M537 178.5h1.0M568.6 207.4h1.0M606.2 172.3h1.0M559.6 124.6h1.0M605.2 181.4h1.0M540.5 180.2h1.0M593.8 155.9h1.0M549.7 186.1h1.0M554.9 125h1.0M568.3 123h1.0M547.9 124.5h1.0M579.2 209h1.0M529 164.7h1.0M582 118.7h1.0M595.1 193.3h1.0M596.3 148.1h1.0M527.6 171.5h1.0M601.2 140h1.0M567.5 198.9h1.0M582.4 208.8h1.0M587.4 197.5h1.0M599.9 142.4h1.0M527.3 155.6h1.0M590.9 195.7h1.0M564.5 194.8h1.0M608.5 182.5h1.0M595.9 193.2h1.0M559.6 124.1h1.0M594.7 151.1h1.0M598 133h1.0M525.8 126.2h1.0M571.9 215.3h1.0M578.3 211.5h1.0M553.8 125.1h1.0M607 178.4h1.0M587.2 199.8h1.0M602.9 187.3h1.0M603.3 168.8h1.0M533 174.2h1.0M540.5 181.5h1.0M577.3 121.1h1.0M560.6 124.3h1.0M578.7 213.2h1.0M600.3 136h1.0M526.6 123.3h1.0M525.8 131.7h1.0M600.8 189.9h1.0M560.6 124.5h1.0M606.9 176.8h1.0M595.6 151.7h1.0M593.6 161.8h1.0M551.5 123.5h1.0M530.2 123.4h1.0M603.2 168.6h1.0M577.8 121h1.0M577.9 120.8h1.0M568 122.9h1.0M526.1 148.7h1.0M562.3 191.3h1.0M566 123.1h1.0M605.2 169.2h1.0M582.2 120.1h1.0M551.5 121.8h1.0M589 197.1h1.0M540 180.2h1.0M585.6 120.9h1.0M602.5 186.5h1.0M599.7 147.2h1.0M590.3 122.9h1.0M592.4 159.5h1.0M598.3 133.5h1.0M549.5 184.6h1.0M524.2 124.3h1.0M591.9 122.7h1.0M571.8 215h1.0M571.9 214.3h1.0M569.2 212.2h1.0M601.8 184.8h1.0M563 191.1h1.0M588.3 197.4h1.0M536.9 178.1h1.0M525.7 147.7h1.0M583.3 118.8h1.0M569.9 122h1.0M597.7 165.1h1.0M563.3 192.7h1.0M557.2 123.8h1.0M580.8 208.8h1.0M557.9 124h1.0M582.5 120.9h1.0M555.3 189.3h1.0M565.1 122.7h1.0M528.8 164h1.0M607.3 171.9h1.0M559.1 123.4h1.0M558.1 123.7h1.0M523.7 130.7h1.0M524.9 129.3h1.0M593.8 194.3h1.0M598.5 132.3h1.0M598.3 191h1.0M525.1 140.7h1.0M554.1 124.2h1.0M525.2 148.9h1.0M525 137h1.0M582.1 120.7h1.0M589.5 122.8h1.0M590.5 196.7h1.0M604.1 170.4h1.0M528.5 161.8h1.0M525.9 147.5h1.0M599.3 144.1h1.0M528.8 170.3h1.0M565.7 120.4h1.0M551.6 187.9h1.0M537.5 178.4h1.0M545.9 184.4h1.0M584.9 204.4h1.0M607.1 177.9h1.0M562.9 124.2h1.0M529 163.5h1.0M591.8 195.6h1.0M527.1 155.2h1.0M593.9 158.2h1.0M546.5 182.6h1.0M526.1 143h1.0M524.9 149.7h1.0M579.8 211.5h1.0M605.3 169.8h1.0M600.4 165.1h1.0M547.5 185.5h1.0M593.6 193h1.0M565.2 122.1h1.0M526.1 132.5h1.0M532.7 174h1.0M525.7 136.3h1.0M593.8 121.1h1.0M538.8 123.6h1.0" stroke="#ec7f2a" stroke-width="1.0" opacity="0.9" fill="none"/>
<path d="M508.7 117.7h1.1M512.5 120.9h1.1M510.6 119.7h1.1M518.3 122.7h1.1M523.7 126.9h1.1M520.3 122.8h1.1M525.4 125.5h1.1M517.7 123.9h1.1M525.5 125.2h1.1M522.1 126.2h1.1M522.6 125h1.1M512.5 119.8h1.1M509.5 118.7h1.1M524.9 126h1.1M524.7 124.6h1.1M513.8 120.1h1.1M515 122.3h1.1M525.8 126.6h1.1M509.3 118.9h1.1M524.8 127.8h1.1M521.1 123.8h1.1M524.9 124.8h1.1M510.7 117.7h1.1M523.8 127.3h1.1M519.9 125h1.1M525.5 126.6h1.1M516.5 122.2h1.1M512.9 119.4h1.1M523.2 125.6h1.1M514.5 122.4h1.1M519.1 122.1h1.1M508.6 118.8h1.1M511.1 119.9h1.1M516.9 124h1.1M514.3 119.6h1.1M521.2 123h1.1M518 121.4h1.1M519.9 123h1.1M518.3 123.2h1.1M514.5 121h1.1" stroke="#ec7f2a" stroke-width="1.1" opacity="0.9" fill="none"/>
<polygon points="566.2,126.8 571.8,121.2 580.7,119.5 589,120 595.2,122.3 600.5,126 601.9,131.2 601,136 599.7,140.2 596,144 591.9,146.9 585.2,148 580,147 575.1,143.5 568.4,137.9" fill="#7ccfe4" opacity="0.8"/>
<path d="M580.7 140.9h1.1M589.5 121.1h1.1M587.1 126.5h1.1M599.8 130.9h1.1M572.5 141h1.1M585 126.7h1.1M587 147.4h1.1M587.8 144.5h1.1M579 120.5h1.1M583.3 123.4h1.1M592.2 145.4h1.1M587.6 121.8h1.1M580.2 131.1h1.1M570.8 122.6h1.1M585.4 136.2h1.1M599.7 132.3h1.1M599.2 135.4h1.1M584.3 137.7h1.1M596.8 131.9h1.1M583.7 120.3h1.1M569.3 124h1.1M580 139.8h1.1M589.1 142.4h1.1M585.6 126h1.1M570.2 127.3h1.1M590.8 124.1h1.1M585.1 122.6h1.1M592.7 145.4h1.1M584.8 127.5h1.1M568.3 130.7h1.1M598.6 125.4h1.1M582.5 136.8h1.1M594.1 122.2h1.1M599 130.9h1.1M583.4 138.6h1.1M588.2 121.1h1.1M568.8 124.8h1.1M592.4 127.7h1.1M590.7 135.9h1.1M589.9 134.1h1.1M589.2 142.4h1.1M583.9 146.2h1.1M575.3 141.2h1.1M584.5 136.9h1.1M598.2 141.5h1.1M588.6 135.1h1.1M581 146.9h1.1M589.9 138.8h1.1M568.5 126.7h1.1M568.8 127.6h1.1M589.4 122.2h1.1M577.8 127.4h1.1M574.2 125.4h1.1M583.4 145.2h1.1M567.9 130.1h1.1M584.6 142.6h1.1M600.7 128.3h1.1M583.4 121.5h1.1M576 121.9h1.1M581.4 126.2h1.1M584.4 129.4h1.1M588.3 128.3h1.1M570.3 124h1.1M586.7 142.2h1.1M587.9 132h1.1M580 136.2h1.1M593.8 128.1h1.1M595.6 132.6h1.1M583.1 138.1h1.1M599.4 129.8h1.1M593.1 137.3h1.1M576.3 127.3h1.1M586 137.9h1.1M577.3 135.1h1.1M577.3 131.1h1.1M589 139.1h1.1M574.8 133.3h1.1M581.6 140.5h1.1M575.8 136.5h1.1M588 137.7h1.1M579.3 145.7h1.1M585.8 133.7h1.1M577.5 128.8h1.1M576.2 131.6h1.1M584.3 138h1.1M572.7 136.8h1.1M567.4 129.9h1.1M594.6 135.4h1.1M590.5 123.1h1.1M567.4 132.4h1.1M591.7 138.4h1.1M586.8 127.8h1.1M590.3 138.3h1.1M591.8 134h1.1M585.1 133.6h1.1M574.6 129.8h1.1M581.9 146.7h1.1M575.2 128.6h1.1M586.6 141.2h1.1M595.9 132.4h1.1M567.4 129.3h1.1M580.9 145.9h1.1M581.3 142.6h1.1M584 138.5h1.1M588.8 136h1.1M571 125.5h1.1M598.4 129.3h1.1M583.5 126.3h1.1M592.4 127.8h1.1M594.9 127.9h1.1M584.9 132.9h1.1M568 130h1.1M584.9 133.4h1.1M596.9 138.2h1.1M579.6 119.8h1.1M590.9 122.7h1.1M580.4 131.7h1.1M597.8 128.2h1.1M593.9 125.1h1.1M572.3 133.4h1.1M570.8 131.7h1.1M585.1 130.7h1.1M598.1 129.2h1.1M580.8 130.3h1.1M574.4 124.5h1.1M578.1 131.9h1.1M590.8 144.9h1.1M584.2 140.8h1.1M591.8 144.6h1.1M588.1 138.2h1.1M581.4 141.1h1.1M578.2 138.8h1.1M575.7 120.9h1.1M581.6 127.1h1.1M581.7 122.8h1.1M601.8 131.3h1.1M572.3 132h1.1M586.8 137.7h1.1M591.2 131.3h1.1M588 145h1.1M597.5 136.9h1.1M572.3 128.9h1.1M570.2 139.2h1.1M594.6 123.5h1.1M593.7 142.9h1.1M580.6 144.7h1.1M593.9 129.6h1.1M594 137.5h1.1M595.3 137h1.1M569.5 127.5h1.1M589.7 139h1.1M596.8 135.3h1.1M579.2 131.8h1.1M583.9 126.1h1.1M587.3 131.1h1.1M582.2 135.9h1.1M590.1 128.4h1.1M586.6 140h1.1M595.1 127.5h1.1M583.1 146.4h1.1M576.7 122.2h1.1M586.2 122.5h1.1M601.6 132.9h1.1M568.2 125.5h1.1M579.8 137.6h1.1M591.8 140h1.1M572.4 139.3h1.1M569.3 132.7h1.1M586.7 144.1h1.1M591.5 121.6h1.1M573.8 134.8h1.1M583.3 123.9h1.1M578.1 138.3h1.1M568.7 135.8h1.1M579.8 126.4h1.1M589.4 132h1.1M576.2 135.7h1.1M578.3 123h1.1M582 141.1h1.1M594.4 133.9h1.1M582.8 130.6h1.1M573.4 136.2h1.1M571.7 136.3h1.1M570.8 132.2h1.1M567 130.5h1.1M573 130.2h1.1M592.4 122.9h1.1M579.4 125.6h1.1M579.5 131.8h1.1M594.1 138.1h1.1M595.1 139.8h1.1M570.1 123.6h1.1M597.1 137.1h1.1M574.5 139.4h1.1M597.8 125.4h1.1M588.5 143.7h1.1M579.1 130.5h1.1M590.1 125.8h1.1M588.2 134.1h1.1M586.6 135.8h1.1M587.7 132.5h1.1M591.2 128.1h1.1M582.8 134.2h1.1M589.2 131.7h1.1M590.9 127.5h1.1M573.8 138.1h1.1M587.5 129.9h1.1M583.3 133.1h1.1M571.8 127.9h1.1M591.8 128.9h1.1M576.2 131.7h1.1M591.1 136.3h1.1M576.3 142h1.1M577.6 125.2h1.1M581.6 131h1.1M599 137.6h1.1M570.1 139.3h1.1M577.8 133.7h1.1M573 123.3h1.1M596 140.5h1.1M580 146.7h1.1M574.3 136.3h1.1M601 134.6h1.1M579.4 132.5h1.1M581.2 142.9h1.1M569.6 125.2h1.1M577.9 131.5h1.1M577.2 120.5h1.1M586.1 132.8h1.1M593 128.5h1.1M578 145.1h1.1M583.4 139h1.1M570 138.7h1.1M584.4 138.8h1.1M588.8 125.8h1.1M582.9 139.1h1.1M591.3 142.5h1.1M583.9 133.4h1.1M585.6 135.3h1.1M587.8 128h1.1M598.4 131.3h1.1M581.8 135.2h1.1M584.9 130.5h1.1M590.6 126.9h1.1M594.4 133.3h1.1M597.7 134.2h1.1M584.6 130.7h1.1M583.2 140.8h1.1M571.7 121.7h1.1M571.3 135.5h1.1M570.4 123.6h1.1M588.7 121.2h1.1M598.7 138.3h1.1M583.8 131.7h1.1M575 125h1.1M585.2 123.9h1.1M582.8 131.5h1.1M599 129h1.1M585.8 139.6h1.1M582.4 125.5h1.1M598.6 127.1h1.1M583.8 130.5h1.1M585.1 130.7h1.1M585.7 140.2h1.1M589.9 124.5h1.1M572.9 131.2h1.1M572.2 137.9h1.1M591.5 130.7h1.1M598 134h1.1M579.4 121.7h1.1M579.9 146.7h1.1M591.6 134.3h1.1M577.8 138.7h1.1M587 137h1.1M592.1 145.2h1.1M575.5 142.1h1.1M574.6 133.6h1.1M585.8 137h1.1M582.3 130.3h1.1M590.3 131.1h1.1M599.6 131h1.1M597.2 127.1h1.1M578.7 144.5h1.1M573.9 132.2h1.1M594.1 142.2h1.1M585.9 120.8h1.1M586 130.2h1.1M573.1 125.8h1.1M586.7 127.2h1.1M592.4 132h1.1M587 141.7h1.1M573.1 135.9h1.1M598 137.9h1.1M569 129.1h1.1M585.7 124.5h1.1M567.9 127.8h1.1M591.7 133.9h1.1M581.9 126.3h1.1M571.7 132.6h1.1M597.3 132h1.1M596 134.4h1.1M585.6 140.1h1.1M579.9 127.6h1.1M579.9 136.9h1.1M592.4 136.6h1.1M575.6 134.7h1.1M583.4 124.3h1.1M569.8 126h1.1M590.6 135.5h1.1M595.6 138.8h1.1M592.9 139.5h1.1M576.4 136.6h1.1M575.2 122.1h1.1M583.3 125.1h1.1M570.5 133.5h1.1M584.5 140.7h1.1M595.3 126.4h1.1M596.6 137.8h1.1M597.4 141.6h1.1M599.2 136.3h1.1M581.6 140.1h1.1M588.1 124.9h1.1M577.2 136.7h1.1M577.7 133.9h1.1M580.9 141.9h1.1M575.3 126.9h1.1M595.2 132.5h1.1M574.4 123.8h1.1M588.4 140.9h1.1M568.8 129.7h1.1M582.5 129.6h1.1M588.7 132.2h1.1M582.2 136.7h1.1M581.3 123.1h1.1M590.5 141h1.1M592.7 137.4h1.1M586 142.7h1.1M594.7 122.5h1.1M586.9 134.8h1.1M593.7 127.1h1.1M576.7 129.4h1.1M582.3 146.5h1.1M593.4 145.4h1.1M592.6 134.4h1.1M581.8 128.8h1.1M588.7 128h1.1M579.7 130.5h1.1M594.4 130.2h1.1M590.9 141.2h1.1M589.8 123.9h1.1M597.6 133.1h1.1M570.6 136.9h1.1M582.4 141.1h1.1M579 141.5h1.1M589 139.1h1.1M593 124h1.1M593.7 140h1.1M582 123.8h1.1M590.1 142.7h1.1M583.8 132.6h1.1M591.8 140.4h1.1M567.8 134.7h1.1M593.1 137.4h1.1M585.4 125.5h1.1M589.3 132.8h1.1M575.7 141.6h1.1M581.9 144.4h1.1M570.3 131.2h1.1M599.2 128.4h1.1M586.7 133.9h1.1M597.2 142h1.1M580.6 128h1.1M571.4 138h1.1M599.7 131.8h1.1M583.4 127.9h1.1M594.7 138.6h1.1M583 139.2h1.1M573.5 124.6h1.1M597.4 135.5h1.1M567.7 134h1.1M578 143.9h1.1M575 139.3h1.1M595.8 133.5h1.1M592.1 129.7h1.1M582.3 139.6h1.1M584.6 125.7h1.1M578.3 137.8h1.1M588.7 145.4h1.1M594.7 143.6h1.1M588.6 123.2h1.1M574.6 131.6h1.1M588.1 144.6h1.1M582.3 127.1h1.1M585.9 130.6h1.1M581.8 146.1h1.1M570.9 136.9h1.1M585.3 130.6h1.1M587.5 144h1.1M569.9 127.7h1.1M592 134.1h1.1" stroke="#7ccfe4" stroke-width="1.1" opacity="1.0" fill="none"/>
<path d="M580.9 126.2h1.1M588.2 123.4h1.1M582.2 142.4h1.1M578.3 125.1h1.1M578.8 134.5h1.1M575.4 132.6h1.1M579.1 141.4h1.1M582.2 144h1.1M587.6 135.7h1.1M568.6 130.2h1.1M575.1 138.2h1.1M591.5 123.4h1.1M587.5 140.4h1.1M577.1 130.8h1.1M572.9 121.9h1.1M584.7 124.4h1.1M597.1 129.2h1.1M568.2 127.7h1.1M585.3 140.5h1.1M579 129h1.1M593.8 122.1h1.1M578.7 143h1.1M576.5 129.2h1.1M574.1 140.4h1.1M580.9 144.8h1.1M583.1 147.5h1.1M591.6 127h1.1M581.6 127.3h1.1M586 135.4h1.1M599 135.6h1.1M583.2 141.5h1.1M576.7 135.1h1.1M584.1 144.9h1.1M586.3 140.9h1.1M589.6 139.2h1.1M586 121.4h1.1M587.3 138.1h1.1M584 125.9h1.1M596.1 130.3h1.1M599.9 138.3h1.1M588.4 133.3h1.1M577.9 129.1h1.1M598.7 129.8h1.1M594.2 125h1.1M571 135.5h1.1M585.2 137.9h1.1M587.7 125.6h1.1M570.4 136.7h1.1M580.1 120.4h1.1M576.1 125h1.1" stroke="#3da23d" stroke-width="1.1" opacity="0.85" fill="none"/>
<path d="M566.2 134.2h1.0M603.1 130.1h1.0M576.6 144.7h1.0M565.4 124.5h1.0M600.4 138h1.0M597.6 142.5h1.0M578.2 146.1h1.0M578.9 146.9h1.0M589.6 147.9h1.0M595.5 145.6h1.0M589.2 119.7h1.0M582 117.2h1.0M598.2 122.9h1.0M595.9 121.8h1.0M593.4 146.2h1.0M584.3 148.8h1.0M574.3 120.2h1.0M591.9 148h1.0M593.6 119.8h1.0M600.5 137.9h1.0M584.1 118.9h1.0M596.3 146.7h1.0M584.3 117.8h1.0M568.4 124.1h1.0M573.2 119h1.0M565.7 128.3h1.0M593.8 120.4h1.0M603.3 133.1h1.0M604 129.8h1.0M600.6 140.6h1.0M581.2 119.4h1.0M597.2 142.9h1.0M578.2 119.1h1.0M567.3 133.1h1.0M601.5 128.8h1.0M571.3 119.5h1.0M577 119.8h1.0M601 126.3h1.0M588.4 147.9h1.0M568 124.2h1.0M601.6 130.1h1.0M581.4 117.8h1.0M565.2 125h1.0M579.9 149.3h1.0M576.7 145.6h1.0M569.9 121h1.0M576.3 147h1.0M574 144.1h1.0M576.5 119.6h1.0M592.4 121h1.0M602.8 134.2h1.0M568.1 123.4h1.0M583.3 148.1h1.0M567.7 123.3h1.0M581.2 119.4h1.0M593.2 146.4h1.0M582.9 147.8h1.0M600 141.1h1.0M602.8 134.5h1.0M597.3 143h1.0" stroke="#84d2ea" stroke-width="1.0" opacity="0.9" fill="none"/>
<path d="M580.4 143.8h0.9M586.1 142.1h0.9M591.7 144h0.9M573.7 129.5h0.9M581 129.5h0.9M583.7 141.8h0.9M595.7 139.3h0.9M589.9 136.5h0.9M592.6 139h0.9M592.5 143.7h0.9M592.4 125.1h0.9M587.5 128.2h0.9M599.1 133h0.9M597.8 134.9h0.9M586.9 125.3h0.9M599.1 136.6h0.9M594.4 140.5h0.9M578.7 139.2h0.9M599.2 126h0.9M592 128.4h0.9M593.5 141.6h0.9M590.5 130.3h0.9M586.5 142.3h0.9M575.5 132.6h0.9M584.3 144.2h0.9M585.5 144.1h0.9M581 133.7h0.9M583.4 125.8h0.9M592.4 143.8h0.9M584.8 139.8h0.9M593.9 143.7h0.9M588.9 125.3h0.9M588.4 122h0.9M579.3 128.6h0.9M572.3 139.3h0.9M592.8 137.5h0.9M575.9 128.9h0.9M590.7 135h0.9M581.1 123h0.9M590.1 125.3h0.9M588 123.1h0.9M570 124.5h0.9M574.5 139.8h0.9M570.1 122.9h0.9M585 127.2h0.9M592.7 132.3h0.9M580.9 127.2h0.9M587.7 124.9h0.9M596.4 140.3h0.9M594.7 137.7h0.9M591 146.1h0.9M584.5 140.8h0.9M593.9 144h0.9M591.9 144.5h0.9M578.5 143.9h0.9M594 139.8h0.9M594.2 125.9h0.9M587.7 129.6h0.9M577.5 136.5h0.9M586.4 131.1h0.9M595.7 134.2h0.9M585.2 140.7h0.9M588 138.7h0.9M579 127.8h0.9M589.3 133.7h0.9M589 139.6h0.9M579.8 143.9h0.9M579.4 134.3h0.9M595.5 137.6h0.9M575.7 139.6h0.9M595.4 123.2h0.9M590 127.9h0.9M588.5 130.4h0.9M587.3 124.8h0.9M591.3 133.9h0.9M576.2 137.8h0.9M584.6 137.2h0.9M572 127.6h0.9M594.4 143.3h0.9M601.2 132.8h0.9M573.5 134.2h0.9M581.6 136.7h0.9M595 128.2h0.9M596.9 127.4h0.9M586.9 141.9h0.9M583.7 137.2h0.9M571.5 128.4h0.9M584.1 130.3h0.9M581.8 139.4h0.9M580.4 137.3h0.9M573.1 125.2h0.9M579.6 131.2h0.9M595.6 131.8h0.9M567.6 128.3h0.9M595.9 141.3h0.9M574.8 122.8h0.9M590.8 143.5h0.9M583.7 142.6h0.9M585.2 140.2h0.9M582.1 131.2h0.9M590.7 143.5h0.9M600.5 131.9h0.9M597.6 124.4h0.9M574.1 134.4h0.9M582.9 146.5h0.9M576.3 127.8h0.9M595.5 128h0.9M585 137.3h0.9M588.6 143.8h0.9M594.2 139.9h0.9M591.2 146.2h0.9M580.2 139.1h0.9M588.2 136.9h0.9M594.9 144.5h0.9M598.1 141.7h0.9M587.5 147.5h0.9M578.1 144.6h0.9M580 134.3h0.9M582.7 127.3h0.9M573.2 122h0.9M586.5 120.6h0.9M580 124.2h0.9M587.4 126h0.9M586.2 131.9h0.9M582.4 125h0.9M596.1 124.3h0.9M573.1 126.5h0.9M583.1 133.2h0.9M576.6 124.2h0.9M588.1 135.1h0.9M573 121.4h0.9M576 134.5h0.9M596.1 133.7h0.9M570.9 135.9h0.9M588 132.3h0.9M592.9 139.4h0.9M592.8 122.4h0.9M584.5 129.5h0.9M574.4 125h0.9M572.7 139.2h0.9M573.7 137.5h0.9M582.9 144.7h0.9M594.4 139.5h0.9M589.8 132.6h0.9M575.2 126.3h0.9M588.6 131.1h0.9M583.2 128.5h0.9M577.9 144.2h0.9M591 124h0.9M572.3 128.6h0.9" stroke="#ffffff" stroke-width="0.9" opacity="0.7" fill="none"/>
<polygon points="575,146 592,147 592,160 589,166 584,158" fill="#8dd5ea" opacity="0.35"/>
<path d="M576.9 146.6h1.1M591.9 156.7h1.1M586.8 149h1.1M575.9 146.6h1.1M578.4 150h1.1M585.3 155.8h1.1M589.4 157.5h1.1M589.9 157.5h1.1M584.1 146.6h1.1M585.9 158.1h1.1M579.4 147.3h1.1M585.8 153h1.1M586.8 158.1h1.1M591 156.6h1.1M587.8 150.3h1.1M586.7 158.4h1.1M578 149.2h1.1M578.5 150.4h1.1M590 159.3h1.1M584.2 148.2h1.1M591.3 160.1h1.1M577.9 149.3h1.1M587.5 163h1.1M587.8 156h1.1M583.5 151h1.1M585.5 148.6h1.1M580.4 152h1.1M591 159.6h1.1M585.4 154.7h1.1M582.4 150h1.1M590.6 155h1.1M586.6 154.8h1.1M582.2 154.7h1.1M582.6 154.8h1.1M578.3 148.8h1.1M591.1 147.9h1.1M586.6 150.3h1.1M578.1 147.8h1.1M584.2 154.2h1.1M586.8 152.2h1.1M586 153.3h1.1M587.3 163.2h1.1M587.1 156.5h1.1M585 149h1.1M586.1 156.1h1.1M591.6 151.8h1.1M584.9 147h1.1M587.7 163.2h1.1M585.7 149.4h1.1M590 154.3h1.1M580 150.2h1.1M576.7 147.2h1.1M587 153.5h1.1M579.3 146.8h1.1M591.6 155.9h1.1M588 162.6h1.1M591.6 147.7h1.1M586.2 160.6h1.1M581.4 153h1.1M584.8 147.6h1.1" stroke="#8dd5ea" stroke-width="1.1" opacity="1.0" fill="none"/>
<path d="M578 155.1h1.1M576.9 157.1h1.1M580.2 172.7h1.1M587.8 176.5h1.1M589 161.4h1.1M585 168.3h1.1M591.2 166.3h1.1M589.5 159.5h1.1M586.8 176.3h1.1M574.4 169.1h1.1M581.4 156h1.1M588 167.7h1.1M586.6 174.6h1.1M588.7 158.9h1.1M589.5 167.8h1.1M586.3 169h1.1M578.3 161.2h1.1M582.2 158.5h1.1M569.9 151h1.1M585.9 164.2h1.1M567.6 150.6h1.1M592.2 171.1h1.1M576.1 164.8h1.1M574.6 152.6h1.1M587.7 175.7h1.1M587 183h1.1M591.6 174.8h1.1M587.4 160.9h1.1M590.1 181.6h1.1M579.6 151.5h1.1M586.2 174.7h1.1M569.7 158.4h1.1M587.9 165.9h1.1M570.9 161.2h1.1M587.8 172h1.1M578.1 168.5h1.1M570.1 159.7h1.1M568.7 147.5h1.1M588.3 165h1.1M573.8 148.3h1.1M584.4 171.7h1.1M580.2 160.2h1.1M578.4 153.7h1.1M568.2 151.4h1.1M575.3 164.3h1.1M569.5 142.1h1.1M576.7 152.2h1.1M588.5 165.5h1.1M581 165.5h1.1M589.8 172.6h1.1M570.5 144.7h1.1M569 148.5h1.1M569.7 142.6h1.1M567.5 145.3h1.1M577.7 169.3h1.1M583.7 169.4h1.1M568.7 152.7h1.1M581.5 151.5h1.1M586 173.7h1.1M591.7 179.4h1.1M586.7 177h1.1M587.2 173.3h1.1M582 177.2h1.1M586.2 163.9h1.1M584 158.2h1.1M578.3 151.3h1.1M591.1 181.7h1.1M589.1 169.2h1.1M578.4 162.5h1.1M578.2 174.4h1.1M569.5 159.9h1.1M581 155.5h1.1M579.6 158.9h1.1M587.5 169.1h1.1M585.1 176.6h1.1M583.6 167.1h1.1M586.6 176.9h1.1M587 180.1h1.1M573.4 148.2h1.1M583.5 181.2h1.1M588.4 167.8h1.1M589.9 168.4h1.1M569.5 144.5h1.1M586.2 180h1.1M579.5 159.4h1.1M577 151.1h1.1M572.1 160.1h1.1M571.4 159.1h1.1M583.4 165.8h1.1M590.5 169.5h1.1M575.5 144.4h1.1M568.8 155.1h1.1M581.9 162.3h1.1M569.3 154.6h1.1M574.4 160.1h1.1M570.8 159.7h1.1M570.2 145.5h1.1M582.8 160.6h1.1M571.8 162.5h1.1M573.9 162.3h1.1M582.5 151.5h1.1M589.7 182.4h1.1M580.5 163.6h1.1M583 158.6h1.1M589.8 175.1h1.1M577 159.6h1.1M576.2 150.5h1.1M588.6 163.1h1.1M575.8 149.6h1.1M582.3 175.8h1.1M590 166.7h1.1M571.3 142.3h1.1M588.6 169.2h1.1M586.6 171.4h1.1M582.1 164h1.1M586.8 167h1.1M579.7 159.4h1.1M577.7 175.5h1.1M585.1 168.7h1.1M585.8 161.2h1.1M583.5 166.1h1.1M570.4 159.6h1.1M582 175.1h1.1M574.8 161.6h1.1M581.2 152.3h1.1M570.2 158h1.1M580.4 150.1h1.1M567.9 148.1h1.1M587.3 166.7h1.1M579.3 177.1h1.1M580.6 178.1h1.1M568.6 151h1.1M582.3 173.6h1.1M586.1 176.6h1.1M585.9 166.3h1.1M589.6 164.5h1.1M593.5 178.5h1.1M576.1 162.2h1.1M573.8 167.5h1.1M587.2 158.7h1.1M577.4 170.2h1.1M587.8 183.8h1.1M573.3 146.2h1.1M570.3 153.2h1.1M580 152.6h1.1M576.6 165.6h1.1M584.1 152h1.1M567.5 147.1h1.1M570.2 158.1h1.1M583.9 180.8h1.1M575.2 144.3h1.1M589.6 160.8h1.1M583.5 157.2h1.1M576.4 167.4h1.1M585.9 178h1.1M573.7 158.8h1.1M591.6 174.6h1.1M573.2 150.4h1.1M580.2 157.2h1.1M575.2 149.4h1.1M574.6 162.7h1.1M585.5 182.9h1.1M579.1 152.5h1.1M583.8 161h1.1M592 175.6h1.1M578.6 156.1h1.1M579 152.5h1.1M579.3 174.4h1.1M578.6 174.8h1.1M572.6 154.7h1.1M577.7 155.5h1.1M580 148.4h1.1M585.3 179.4h1.1M585.8 174.1h1.1M581.7 164.6h1.1M583.3 168.3h1.1M584.7 153h1.1M586.9 173.2h1.1M583 158.4h1.1M570.1 161.8h1.1" stroke="#8dd5ea" stroke-width="1.1" opacity="0.9" fill="none"/>
<path d="M591.1 168.5h1.1M592.8 155.8h1.1M575.5 160.4h1.1M575.5 170.8h1.1M560.6 132.5h1.1M587.9 163.2h1.1M572.6 159h1.1M599.3 177.9h1.1M590.5 182.1h1.1M585.4 130.2h1.1M575.7 165.8h1.1M567.2 132.7h1.1M581.8 179.3h1.1M572.6 191h1.1M570.5 144.3h1.1M583.7 129.9h1.1M598.8 159.6h1.1M589.9 189.9h1.1M587.3 160.1h1.1M595.2 141.1h1.1M586 184.4h1.1M595.2 157.2h1.1M577.8 177.9h1.1M582.3 146.5h1.1M595.5 173.6h1.1M588.1 174.6h1.1M564.8 153.4h1.1M583.4 146.6h1.1M577 181.8h1.1M605.2 175.2h1.1M578.8 160h1.1M582.1 191.4h1.1M568.2 132.7h1.1M577.7 202.9h1.1M581 130.4h1.1M581.1 191.3h1.1M598.7 133.6h1.1M580.6 195.3h1.1M596.7 169.6h1.1M568.8 151.5h1.1M565 155.1h1.1M566.9 142h1.1M567.9 134h1.1M572 175h1.1M595.1 168.3h1.1M586.7 185.4h1.1M594.2 129.6h1.1M569.4 182.7h1.1M568.3 175.3h1.1M564.3 133.6h1.1M595.9 135.3h1.1M581.3 190.1h1.1M563.4 153.7h1.1M579.9 195.8h1.1M583.4 165.2h1.1M597.3 147.7h1.1M587.2 127.3h1.1M592.8 149.7h1.1M597.5 190h1.1M564.8 129.6h1.1M576.1 161.4h1.1M579.2 126.8h1.1M564.7 146.5h1.1M580 186.6h1.1M569 147h1.1M570.3 155.6h1.1M580.6 158.9h1.1M568.4 138.5h1.1M580.4 140h1.1M581.5 178.7h1.1M562.9 161.2h1.1M580.2 179.4h1.1M589.7 171.9h1.1M601.3 180.7h1.1M600.1 161h1.1M585.9 199.7h1.1M573.8 179h1.1M590.5 173.2h1.1M565.3 138.8h1.1M592.8 135.9h1.1M594.1 134.6h1.1M600.9 165.1h1.1M585.8 171.4h1.1M585.1 170.6h1.1M599.1 171.4h1.1M594.8 177.8h1.1M598 170h1.1M596 149.8h1.1M562.6 132.1h1.1M585.1 155.3h1.1M574.8 201.9h1.1M572.7 169.9h1.1M567.6 132.8h1.1M592.8 129h1.1M577.8 171h1.1M592.5 193.3h1.1M574.9 136.4h1.1M562 147.3h1.1M581.9 196.4h1.1M589.6 167.6h1.1M601.6 172.4h1.1M562.5 132.3h1.1M586.1 153.2h1.1M583.7 160.5h1.1M560.1 131.1h1.1M575.2 167h1.1M569.1 141.9h1.1M584.8 134.5h1.1M592.8 183.8h1.1M597.9 140.4h1.1M587.9 156h1.1M596.7 152.4h1.1M584.3 168.2h1.1M597.4 156.2h1.1M587.6 140.5h1.1M592.9 143.2h1.1M585.3 138.4h1.1M594.9 163.4h1.1M597.1 180.1h1.1M562.2 134.9h1.1M582.8 133h1.1M596.6 136.4h1.1M571.2 161.3h1.1M564.2 150.8h1.1M593 184.2h1.1M590.1 189.8h1.1M573.9 160h1.1M569.6 158.1h1.1M565.8 148.4h1.1M574.9 179.1h1.1M561.8 156.7h1.1M600.7 156.6h1.1M583.4 198.9h1.1M604.4 171h1.1M597.4 151.5h1.1M561.4 157.3h1.1M589.1 135h1.1M559.5 137h1.1M573 126.4h1.1M581.9 204.1h1.1M580.2 127.2h1.1M596.5 137.7h1.1M574.4 142.5h1.1M564.1 129.8h1.1M565.6 168.6h1.1M580.1 129.2h1.1M570 163.4h1.1M575.6 136.8h1.1M578.2 187.1h1.1M585.1 195.4h1.1M581.1 168.8h1.1M589.7 171.3h1.1M586.8 179.1h1.1M580.2 198.9h1.1M592.5 169.7h1.1M590.4 127.4h1.1M591 142.9h1.1M590.9 175.8h1.1M601 179h1.1M586.5 147.2h1.1M582.8 155.6h1.1M585.5 187.4h1.1M580.9 191.7h1.1M586.1 145.8h1.1M581.1 144.3h1.1M594.8 140h1.1M577.6 152.8h1.1M581.7 180.8h1.1M599.9 155.9h1.1M600.5 168.3h1.1M580.1 202.6h1.1M603.1 164h1.1M578.1 183.6h1.1M597.8 165.3h1.1M573.8 191.3h1.1M599.8 170.2h1.1M589.8 181.2h1.1M584.5 127h1.1M591.4 181.3h1.1M575.5 131.5h1.1M595.7 183.7h1.1M577.9 175.6h1.1M603.9 174.2h1.1M587.5 197.6h1.1M568.1 140.3h1.1M565.7 163h1.1M584.2 184.6h1.1M590.8 159.9h1.1M596.7 134.5h1.1M579.5 172.1h1.1M583.2 190.5h1.1M573.3 149.2h1.1M579.5 157.8h1.1M579.7 141.2h1.1M589.5 146.9h1.1M559.6 130.9h1.1M576.4 142.5h1.1M584 167h1.1M583.2 151.1h1.1M591.3 140.3h1.1M565.4 152.2h1.1M564.7 140.9h1.1M565.6 163.7h1.1M589.2 175.5h1.1M575 205.2h1.1M560.3 152.9h1.1M589.9 169.4h1.1M587.3 146.4h1.1M571 151.9h1.1M579.2 177.9h1.1M581.7 170.8h1.1M571.8 136.7h1.1M590.3 174.1h1.1M582.5 195.4h1.1M574.5 124.7h1.1M591.2 179.6h1.1M573 192.4h1.1M583.8 201.8h1.1M581.2 168h1.1M579.4 194.7h1.1M571 172.9h1.1M570.9 131.6h1.1M576.7 161.9h1.1M569.3 131.3h1.1M602.9 177.1h1.1M584.3 191h1.1M569.8 136.4h1.1M580.1 206.5h1.1M571.5 129.5h1.1M586.4 138.7h1.1M572.8 155.3h1.1M578.5 141.5h1.1M580.4 147.4h1.1M585.3 167.3h1.1M586.2 155.2h1.1M586.4 135.1h1.1M603.8 175.8h1.1M583.2 134.1h1.1M573.2 164.1h1.1M566.2 168.6h1.1M565 127.2h1.1M595.7 140.7h1.1M599.8 158.6h1.1M580.2 132h1.1M588.2 162.4h1.1M602.2 167h1.1M587.6 148.7h1.1M575.3 130.2h1.1M560.3 130.4h1.1M595.1 162.1h1.1M599.9 168.8h1.1M569 145.7h1.1M568 149.4h1.1M567.5 140.2h1.1M572.7 192.7h1.1M573 170.8h1.1M592.6 190.8h1.1M590.9 169.2h1.1M571.8 143.7h1.1M591.5 162.8h1.1M588.2 183.6h1.1M597.6 186.6h1.1M563.7 161.3h1.1M586.9 167.3h1.1M596.5 148.8h1.1M592.1 155.6h1.1M588.6 165.9h1.1M587.3 138.6h1.1M582.5 159.3h1.1M590.6 188.8h1.1M573.7 199h1.1M587.1 147.3h1.1M574.6 145.5h1.1M603.3 174.9h1.1M570.1 173.2h1.1M574.7 166.7h1.1M596.8 177.7h1.1M574.2 201.3h1.1M578.3 135.6h1.1M588.2 140.4h1.1M588.4 130.7h1.1M573.1 137.2h1.1M598 156.9h1.1M582.7 145.2h1.1M582.7 179.5h1.1M566.8 127.3h1.1M591.9 159.3h1.1M572.5 128.7h1.1M589.6 127.9h1.1M574.8 143.9h1.1M574.1 174.6h1.1M583.1 134.8h1.1M570.6 146.9h1.1M585.8 147.2h1.1M595.6 136.9h1.1M569.5 131.7h1.1M586.5 143.8h1.1M604.4 174.3h1.1M585.9 130.6h1.1M586 184.7h1.1M571.5 170.5h1.1M580.7 139.9h1.1M586.9 151.7h1.1M593.4 153.3h1.1M603.1 177.7h1.1M601.9 181.9h1.1M585.9 153.3h1.1M578.7 179.6h1.1M574.5 125.4h1.1M586.4 150.6h1.1M575.7 161.4h1.1M583.3 174.5h1.1M580.6 198.4h1.1M572.5 135.4h1.1M577.6 205.3h1.1M582.6 129.6h1.1M572 126.8h1.1M600.6 173.6h1.1M587.6 130.7h1.1M597.6 140.5h1.1M582.8 192.6h1.1M570.2 167.7h1.1M578.9 146.2h1.1M586.8 173.2h1.1M594.8 173.5h1.1M574.2 140.6h1.1M580.7 152.5h1.1M597.7 151.4h1.1M573.3 127.1h1.1M589.7 179.4h1.1M582.1 204.8h1.1M578.5 185h1.1M594.6 189.6h1.1M571.3 127.7h1.1M573 178h1.1M593.3 164.4h1.1M564.1 159.8h1.1M580.5 202h1.1M577.2 132.7h1.1M584 142.6h1.1M596.3 157.3h1.1M584 171.1h1.1M570.5 142.3h1.1M580.1 175.1h1.1M574.5 179.1h1.1M585.3 199.8h1.1M596.5 129.6h1.1M569.1 180.7h1.1M578.2 200.1h1.1M588.8 190.7h1.1M573 130.6h1.1M602.5 174.7h1.1M585.7 143.2h1.1M562 152.5h1.1M572.5 131.9h1.1M585.8 145.2h1.1M594 167.1h1.1M589.9 130.9h1.1M590.5 178.3h1.1M565.9 171.7h1.1M591 150.1h1.1M596.7 134.4h1.1M575.6 207.4h1.1M589.9 169.2h1.1M583.5 161.7h1.1M582.7 175.6h1.1M596.4 138.9h1.1M569.9 175.8h1.1M591.6 138.2h1.1M598.5 164.5h1.1M581 175.3h1.1M564.4 149h1.1M580.3 164.5h1.1M575.6 173.8h1.1M598.5 130.9h1.1M593.5 173.2h1.1M582.1 196.7h1.1M573.4 169.3h1.1M590.6 148.5h1.1M578.5 125.7h1.1" stroke="#3da23d" stroke-width="1.1" opacity="0.9" fill="none"/>
<polygon points="479.8,104.9 487.3,102.9 495.2,101.6 503,101.3 511.6,102.5 520.1,105.4 528.6,110.2 536.5,114.2 543.9,116.1 549.5,116.4 550.5,113.6 546.1,110.5 539.5,106.8 531.4,103.8 521.9,100.6 512.4,98.5 503,97.9 494.8,98.4 486.7,100.1 479.2,103.1" fill="#e3262a" opacity="0.55"/>
<path d="M482.9 101.6h1.1M522 102.6h1.1M525.2 103.6h1.1M530.4 105.9h1.1M510.5 98.9h1.1M523.6 103.3h1.1M514.9 99.9h1.1M502 98.3h1.1M537.7 110.6h1.1M538 108.1h1.1M491.3 102.1h1.1M497.8 100.9h1.1M539 112.5h1.1M526.5 102.6h1.1M512.3 100.7h1.1M490.3 99.6h1.1M531.6 108.6h1.1M499.3 99.4h1.1M531.6 108.3h1.1M500.7 100.9h1.1M496.7 100h1.1M545 115.7h1.1M485.1 102.7h1.1M506.7 101.1h1.1M510.9 98.9h1.1M530.8 108.5h1.1M538.1 106.6h1.1M529.6 107.8h1.1M534.2 109.4h1.1M539.4 108.1h1.1M510.6 100.6h1.1M546.6 113.9h1.1M502.1 98.2h1.1M518.9 102.6h1.1M515.9 102.9h1.1M534.4 107h1.1M530.8 104.3h1.1M529.9 107.3h1.1M511.8 101.5h1.1M484.9 102.2h1.1M536 107.4h1.1M540 110.1h1.1M508.2 100h1.1M496.1 100.6h1.1M513.2 100.6h1.1M504.5 99.9h1.1M514.1 100h1.1M486.9 102h1.1M525.8 103.2h1.1M511.6 99.1h1.1M538.9 109h1.1M530.9 109.8h1.1M512.1 101.9h1.1M523.8 102.7h1.1M533.8 111.6h1.1M508.1 101h1.1M529.9 108.8h1.1M511 100.4h1.1M514.5 101.5h1.1M505.7 100.1h1.1M533.9 107.7h1.1M535.7 113h1.1M535.4 113.1h1.1M512.1 99.2h1.1M536.8 106.8h1.1M488.9 102.6h1.1M525.7 107.4h1.1M504.5 101.4h1.1M522.4 102h1.1M518.1 104.6h1.1M495.8 99.4h1.1M505.8 98.2h1.1M484.6 102.7h1.1M508.6 100.6h1.1M534.2 106.1h1.1M539.3 110h1.1M500.5 100.2h1.1M534.6 112.4h1.1M545.9 112.8h1.1M534.2 105.3h1.1M511.4 101.3h1.1M491.4 100.9h1.1M504.7 99.7h1.1M543.3 115.9h1.1M533.4 105.2h1.1M546.6 111.9h1.1M546 115.1h1.1M533.9 107.1h1.1M539.9 107.4h1.1M481.8 103.2h1.1M519 102.6h1.1M488.5 102h1.1M525.2 104.8h1.1M528.2 109.3h1.1M511.9 100.9h1.1M515.3 100.9h1.1M492.5 100.9h1.1M511.3 99.4h1.1M525 107.4h1.1M519.8 103h1.1M522.4 106.3h1.1M536 108h1.1M539.3 112.5h1.1M499 98.5h1.1M504.1 100.9h1.1M526.9 106.5h1.1M523.3 102.7h1.1M513.5 101.3h1.1M517.2 100.7h1.1M536.1 108.6h1.1M529.1 104.4h1.1M534 111.2h1.1M501.1 98.7h1.1M519.3 104.2h1.1M526.2 103.1h1.1M535 111.6h1.1M526.1 102.9h1.1M530.9 107.5h1.1M532.4 110.9h1.1M526.8 104.4h1.1M534.7 110.1h1.1M505.1 99h1.1M525.5 104.9h1.1M532.7 107.8h1.1M484.4 101.4h1.1M519.8 103.5h1.1M482.8 102.7h1.1M525.7 106h1.1M529.5 105.7h1.1M492.8 101.3h1.1M492.5 100.7h1.1M526.3 104.1h1.1M532.2 107.8h1.1M528.4 107.6h1.1M547.5 113.2h1.1M536.4 109.9h1.1M548 114.4h1.1M534.1 110.1h1.1M494.5 99.6h1.1M525.6 104.5h1.1M507.6 100.2h1.1M549.2 115.8h1.1M500 100.4h1.1M526.4 107.5h1.1M503.2 99.4h1.1M529.5 108.1h1.1M501.5 98.1h1.1M539.9 113.3h1.1M531.5 104.8h1.1M543.6 109.3h1.1M543.2 113.6h1.1M545.8 113.3h1.1M532.5 105.1h1.1M547 113.6h1.1M500.3 98.6h1.1M534 105.7h1.1M542.6 112.2h1.1M526.3 103.9h1.1M531.5 104h1.1M540.8 110.8h1.1M515.6 101.4h1.1M536.3 112.7h1.1M487 100.1h1.1M533.2 109.8h1.1M542.9 114.2h1.1M544.1 110.5h1.1M499.4 99.7h1.1M484.5 101.2h1.1M484.6 103.1h1.1M538.9 109.3h1.1M539 111.2h1.1M530.4 103.7h1.1M532.7 110.4h1.1M505.6 99.1h1.1M488.6 100.4h1.1M545 109.9h1.1M516.8 101.9h1.1M480.4 102.9h1.1M480.2 104.8h1.1M541.8 112.2h1.1M536.7 107.2h1.1M529.7 108.7h1.1M502 100.4h1.1M530.5 108.4h1.1M536.7 112.2h1.1M508 99.3h1.1M538.7 106.7h1.1M498.9 100.5h1.1M534.5 112.7h1.1M519.1 104.6h1.1M538.6 114h1.1M542 114.8h1.1M527.1 108h1.1M529.2 103.5h1.1M544.1 111.2h1.1M547.6 112.9h1.1M529.9 107.9h1.1M533.7 107.3h1.1M539 107.5h1.1M514.3 102.5h1.1M535.6 112.7h1.1M514 101h1.1M492.2 102h1.1M509.9 98.9h1.1M493.9 99.3h1.1M514.2 99.6h1.1M509.7 102.1h1.1M486.3 101h1.1M504.7 100.4h1.1M541.2 111.9h1.1M501.4 100.3h1.1M531.7 104h1.1M524.2 107.4h1.1M505.6 99.3h1.1M491 101.9h1.1M540 111.1h1.1M529.8 109.6h1.1M520.4 101.7h1.1M481.3 103.8h1.1M523.8 106.9h1.1M481.9 104.4h1.1M538.9 109.5h1.1M532 110.4h1.1M543.7 113.2h1.1M546.4 113.6h1.1M503.4 100.8h1.1M547.1 113.7h1.1M528.3 108.1h1.1M494.8 100.7h1.1M496.8 98.9h1.1M544.7 112.1h1.1M484.5 103.4h1.1M532.9 106.8h1.1M535.1 112h1.1M479.7 104.3h1.1M523.2 105.9h1.1M519.5 103h1.1M513.8 101h1.1M542.5 110.8h1.1M529.1 104.7h1.1M481.8 103h1.1M534.4 112.8h1.1M537.4 107.1h1.1M549.5 115.1h1.1M525.9 108.1h1.1M528.4 108.7h1.1M522.6 106.6h1.1M532.5 108.9h1.1M526.6 106.6h1.1M542.4 110h1.1M542.8 110.4h1.1M541 113.9h1.1M538.5 112.7h1.1M484 102.9h1.1M523.2 103.3h1.1M545.8 112.2h1.1M496.1 99.9h1.1M536.7 112.8h1.1M482.1 103.4h1.1M514.1 101.6h1.1M501.1 98.6h1.1M546.4 113.6h1.1M498.9 98.3h1.1M528.7 109.8h1.1M512.6 101.8h1.1M532.2 108.6h1.1M522.2 101.5h1.1M547.8 116h1.1M531.2 106.6h1.1M532 110.7h1.1M513.8 101.3h1.1M492.1 100h1.1M537.2 114h1.1M510.1 101.6h1.1M516.8 102.9h1.1M521.1 102.2h1.1M518.2 103.8h1.1M536.4 109.4h1.1M526.3 107.5h1.1M539.6 112.3h1.1M497 100.7h1.1M532.1 105.8h1.1M506.7 101.8h1.1M529 104.2h1.1M481.8 103.9h1.1M520.8 103.7h1.1M529.9 105.2h1.1M506.6 99.5h1.1M527.1 103.9h1.1M524.1 106.6h1.1M533.3 109.6h1.1M506.7 99.8h1.1M546.9 111.3h1.1M510.9 98.8h1.1M498.4 101.3h1.1M486.6 100.4h1.1M537.9 110.3h1.1M526.9 106.9h1.1M525.5 102.2h1.1M521.7 103.8h1.1M495 99.8h1.1M539 109.7h1.1M527.6 109.1h1.1M548.2 115.6h1.1M490 102h1.1M535.5 107.9h1.1M525.1 104.3h1.1M527.4 102.9h1.1M511.7 101h1.1M484.4 102.4h1.1M528.9 104.3h1.1M493.4 100.6h1.1M520.3 104.6h1.1M515.8 99.7h1.1M520.7 101.8h1.1M493.3 100.6h1.1M481 102.8h1.1M538.3 111.5h1.1M530.9 110.4h1.1M525.2 102.4h1.1M518.5 103.1h1.1M534.4 109.4h1.1M528.6 107.6h1.1M496.9 98.4h1.1M498.1 100.3h1.1M481.8 102.6h1.1M534.9 105.3h1.1M507.8 100.3h1.1M528.5 106.7h1.1M483.3 103.8h1.1M524.2 105.5h1.1M541.5 112.3h1.1M495.1 99.5h1.1M540.7 112.3h1.1M537.5 112.6h1.1M537.9 110.7h1.1M530.7 109.8h1.1M537.6 112.9h1.1M524.4 104.7h1.1M530.8 107.4h1.1M533.8 110.7h1.1M541.1 114.9h1.1M535.8 107.7h1.1M514.2 102.4h1.1M492.5 100.3h1.1M533.7 107h1.1M517.8 102.1h1.1M531.5 110.4h1.1M486.8 101.6h1.1M531 105.1h1.1M523.6 105.9h1.1M503.2 99.8h1.1M504.5 99.5h1.1M545.1 110.4h1.1M522.6 101.8h1.1M538.8 112h1.1M536.5 112.2h1.1M498.8 99.2h1.1M526.5 108.8h1.1M527.8 106.7h1.1M512.3 100.3h1.1M539.2 111.3h1.1M487.8 100.7h1.1M504.1 100.2h1.1M534.8 110.3h1.1M491.8 100.9h1.1M517.8 103.3h1.1M515.8 103h1.1M526.8 108.2h1.1M487 101.1h1.1M533.6 111h1.1M492.3 100.7h1.1M510.8 100.6h1.1M545.5 112.4h1.1M511 99h1.1M523.4 106.4h1.1M503.5 98.4h1.1M497.1 100.8h1.1M494.6 100.3h1.1M544.5 112.7h1.1M539 112.2h1.1M533.8 107h1.1M542 113.3h1.1M489.6 101.7h1.1M541.8 108.6h1.1M524.6 107.4h1.1M530.3 107.9h1.1M492.2 102h1.1M524.6 106h1.1M488.2 100.6h1.1M539.3 109.9h1.1M519 103.3h1.1M494.6 99.1h1.1M542.9 111.1h1.1M505.6 99.8h1.1M498.3 98.9h1.1M535.3 108.5h1.1M520.4 100.7h1.1M545.9 111.6h1.1M513.2 102.4h1.1M521.4 102h1.1M510.2 100.4h1.1M532.1 108.6h1.1M482.1 102.5h1.1M514.8 99.6h1.1M535.9 111h1.1M518.7 101.5h1.1M517.5 100.3h1.1M528.5 104.7h1.1M516.8 100.6h1.1M532.5 105.2h1.1M505.6 100h1.1M540.5 114.2h1.1M491.9 99.9h1.1M533.5 105.8h1.1M543.7 113.5h1.1M501.3 100.2h1.1M531.6 108.8h1.1M531.8 110.6h1.1M533.3 106.2h1.1" stroke="#e3262a" stroke-width="1.1" opacity="1.0" fill="none"/>
<path d="M546.5 116.7h1.0M535.3 114.6h1.0M494.5 102.7h1.0M512.8 97.4h1.0M528.3 101.3h1.0M525.9 101h1.0M516.4 106h1.0M549.9 115.4h1.0M486.1 103.3h1.0M541.6 116.7h1.0M542.2 115.7h1.0M540 117.7h1.0M482 104.7h1.0M500.6 102.2h1.0M538 104.8h1.0M498.3 102.9h1.0M478.3 102.5h1.0M518.9 106.9h1.0M493.9 97.2h1.0M538.8 104.5h1.0M498.7 97.1h1.0M483 99.7h1.0M549 112.2h1.0M529.2 111.7h1.0M505.6 97.6h1.0M483.9 105.9h1.0M547.9 118h1.0M479.3 103.8h1.0M538.6 105.5h1.0M481.9 104.9h1.0M528.8 111.3h1.0M518.5 98.1h1.0M479.2 107h1.0M509.3 103.1h1.0M534.3 113.2h1.0M506.3 96.6h1.0M538.7 105h1.0M500.8 102.2h1.0M529.2 113h1.0M533.1 112.8h1.0M491.9 103.7h1.0M527.3 112.2h1.0M507 97.4h1.0M485.6 105.9h1.0M544 116.4h1.0M549.7 117.9h1.0M533.4 113.9h1.0M491.6 98.2h1.0M527.1 109.8h1.0M503 97.7h1.0M515.8 105.4h1.0M483.2 101.3h1.0M517.5 105.4h1.0M547.4 117.2h1.0M482.1 101.5h1.0M509.9 96.9h1.0M545.1 108.3h1.0M533.6 114.8h1.0M486.2 105.5h1.0M540.9 116.3h1.0M486.8 104.7h1.0M548.5 117.2h1.0M515.8 105h1.0M522.6 99.1h1.0M512.4 102.9h1.0M498.4 97.3h1.0M506.5 97.8h1.0M486.2 99.7h1.0M520.9 106.1h1.0M481.6 106.3h1.0M477.9 102.2h1.0M480 99.8h1.0M508.9 98h1.0M506.5 96.7h1.0M516.4 98.4h1.0M515.6 98.4h1.0M495.9 97.7h1.0M487.2 100h1.0M551 115.1h1.0M508.7 97.7h1.0" stroke="#e3262a" stroke-width="1.0" opacity="0.9" fill="none"/>
<path d="M540.9 115.6h1.0M535.6 114h1.0M535.2 116.8h1.0M538.1 118.3h1.0M533.9 115.3h1.0M547.6 118h1.0M535.6 117.4h1.0M542.7 117.8h1.0M536.7 113.8h1.0M542.5 118.3h1.0M534.4 113.4h1.0M542.4 116.2h1.0M537.7 118.7h1.0M540.1 119.3h1.0M541.4 116.6h1.0M540.8 116.3h1.0M542.4 115.7h1.0M540.9 119.5h1.0M534.7 114.5h1.0M543.9 117.7h1.0M542.9 118.5h1.0M535 114.9h1.0M530 111.2h1.0M538.5 119.5h1.0M524.1 109.4h1.0" stroke="#e3262a" stroke-width="1.0" opacity="0.8" fill="none"/>
<polygon points="451,42.5 456,41.5 461,45 470,51 480,58 490,66 498,74 504,81 500,82 490,77 492,86 488,89 478,85 468,79 464,72 460,62 455,52 451,47" fill="#2f6cb0" opacity="0.1"/>
<path d="M475.5 75.3h1.1M470.6 53.6h1.1M457 42.8h1.1M470.6 53.7h1.1M498.3 78h1.1M463 48.8h1.1M464.8 54.2h1.1M477.8 76.3h1.1M469.1 51.1h1.1M489.9 81.8h1.1M467.7 49.6h1.1M464.4 71.8h1.1M484.7 70.4h1.1M472 74.1h1.1M460.7 56.6h1.1M472.7 60.2h1.1M477.6 71.4h1.1M457.1 44.7h1.1M487.4 85.6h1.1M470.9 78.4h1.1M477.5 78.4h1.1M470.7 78.3h1.1M480 65.3h1.1M477 57.4h1.1M481.2 82.3h1.1M491.7 73.6h1.1M497.2 76.3h1.1M486 85h1.1M476.2 75.8h1.1M479.7 73.4h1.1M471.1 52.7h1.1M472.1 56.3h1.1M466 52.3h1.1M466 72.4h1.1M493.7 72.8h1.1M500.8 78.6h1.1M462 52.5h1.1M489.1 86.8h1.1M466.4 71h1.1M473 69h1.1M452 46.4h1.1M480.8 67.7h1.1M471.8 57.3h1.1M492.4 76.1h1.1M488.1 82.8h1.1M485.6 62.8h1.1M480.2 85.3h1.1M457.6 56.8h1.1M495.8 79.7h1.1M484.4 81.1h1.1M476.7 74.1h1.1M481.5 85.6h1.1M480.6 66.4h1.1M480.7 65.8h1.1M458.3 56.6h1.1M466.9 65.5h1.1M470.2 51.5h1.1M477.3 73.8h1.1M469.1 61.7h1.1M482.8 74.5h1.1M467.4 62.2h1.1M467.3 71.4h1.1M485.2 76.8h1.1M476 83.3h1.1M461.1 55.5h1.1M472.3 63.6h1.1M452.9 47.7h1.1M488.7 87.1h1.1M472.6 76.7h1.1M468.9 64.3h1.1M473.4 57.2h1.1M487.8 78.7h1.1M492.7 73.8h1.1M458.7 52h1.1M484.9 65.6h1.1M491.5 71.1h1.1M483.9 79.8h1.1M476.5 80.3h1.1M468.6 62h1.1M488.3 67.9h1.1M484.9 69.2h1.1M490.1 79.7h1.1M468.7 53.5h1.1M488.8 80.8h1.1M482.9 70.6h1.1M486.2 74.3h1.1M466.1 74.7h1.1M480.9 74.5h1.1M466.7 75.2h1.1M488.6 66.5h1.1M502.5 79.7h1.1M471.7 70.3h1.1M466.6 67.2h1.1M480.4 66h1.1M466.7 67.4h1.1M484.1 74.7h1.1M472.9 61h1.1M482 83.4h1.1M477.8 67.2h1.1M477.9 61h1.1M474.4 72.6h1.1M497.8 79.8h1.1M467.7 63.8h1.1M482.7 75.7h1.1M463.3 67h1.1M474.5 70h1.1M451.2 46h1.1M482.3 75.7h1.1M475.4 67.6h1.1M482.7 67.8h1.1M474.5 76.6h1.1M463 61.4h1.1M491.4 70.2h1.1M470.2 63.6h1.1M478.7 76h1.1M489.4 86.6h1.1M477.7 73.6h1.1M458.4 51.1h1.1M461.4 52h1.1M489.6 87.1h1.1M471 78.5h1.1M484.8 87.5h1.1M454.5 50.8h1.1M466.5 56.5h1.1M497.4 76.1h1.1M470.7 57.2h1.1M495.9 72.4h1.1M463.6 58.9h1.1M482.7 75.3h1.1M479.7 67h1.1M466.2 68.4h1.1M477.7 66h1.1M466 67.8h1.1M472 54.6h1.1M458.7 59.1h1.1M480.4 68.1h1.1M462.6 55.7h1.1M462.9 56.2h1.1M478 73.4h1.1M488.9 71.1h1.1M481.5 65.3h1.1M492.5 72.9h1.1M473.1 55.3h1.1M465.5 49.4h1.1M458 46.5h1.1M472.1 60.9h1.1M490.9 82.4h1.1M458.8 55.2h1.1M481.5 69.4h1.1M485.9 73.4h1.1M481.4 68.5h1.1M473.8 71.3h1.1M499.6 77h1.1M458.5 48.2h1.1M477.3 75h1.1M475.2 76.5h1.1M476.1 78.6h1.1M469.7 58.7h1.1M457.6 47.3h1.1M472.4 74h1.1M464.7 72.1h1.1M464.9 52.8h1.1M463.7 71.3h1.1M473.1 60.1h1.1M474.1 65.9h1.1M457.5 44.9h1.1M474.9 65.9h1.1M469.8 52.5h1.1M471.3 80.7h1.1M488.6 85.8h1.1" stroke="#2f6cb0" stroke-width="1.1" opacity="1.0" fill="none"/>
<polygon points="451.7,46.5 454.9,46.9 459.4,50.3 468.3,56.5 476.1,62.3 484.4,68.9 487.6,65.1 479.9,57.7 471.7,51.5 462.6,45.7 457.1,42.1 452.3,41.5" fill="#2f6cb0" opacity="0.3"/>
<path d="M461 47.2h1.1M466.6 52.2h1.1M474.2 56.2h1.1M453.9 42.9h1.1M472.2 59h1.1M469.3 54.3h1.1M460.8 44.9h1.1M472.4 56.5h1.1M483.5 67.3h1.1M484.6 64.4h1.1M454 46h1.1M472.3 56h1.1M477.9 58.8h1.1M454.1 44.3h1.1M472.7 58.1h1.1M479.3 57.5h1.1M460 46.2h1.1M459.2 47h1.1M477.6 62.7h1.1M476.4 56.4h1.1M476.2 58.3h1.1M478.8 57h1.1M464.4 51.8h1.1M471.3 58.3h1.1M484.1 62.4h1.1M479.1 59.5h1.1M460.1 49h1.1M484.6 65.8h1.1M467 54h1.1M462.9 52.7h1.1M461.5 49.9h1.1M478.7 60.4h1.1M460 45.9h1.1M476.2 57.8h1.1M462.4 49.8h1.1M461.6 47.4h1.1M482.3 61.1h1.1M475.6 58.8h1.1M471.1 53.4h1.1M453.5 44.4h1.1M464.6 49.8h1.1M473.3 59.5h1.1M475.7 61.2h1.1M464.4 51.8h1.1M480.9 60.1h1.1M465.1 54.1h1.1M484.6 66.3h1.1M468.7 51.4h1.1M457 42.2h1.1M465.9 51.9h1.1M455.9 46.3h1.1M471.2 58.2h1.1M457.5 46.8h1.1M477.6 57.8h1.1M464.3 53.1h1.1M474.7 60h1.1M478.7 60.9h1.1M460.1 49.4h1.1M483.5 66.1h1.1M453.1 43.4h1.1M474.2 59.4h1.1M459.6 44h1.1M475 56.1h1.1M479 58.3h1.1M461.9 50.9h1.1M463.1 49.9h1.1M485.1 66.2h1.1M474.3 58h1.1M478.2 62.9h1.1M468 55.6h1.1M476.9 56.9h1.1M479.5 59.2h1.1M455.5 43.8h1.1M483.2 64.3h1.1M462.2 49h1.1M473.5 58.1h1.1M483.8 67.2h1.1M469.7 54.1h1.1M476.7 56.4h1.1M478.9 62.2h1.1M472.7 58.1h1.1M468.2 51.4h1.1M474.2 60.6h1.1M477.6 63.1h1.1M452.9 44.2h1.1M456.6 42.7h1.1M476.7 58h1.1M479.3 63.9h1.1M465.3 52.3h1.1M475.7 55.3h1.1M477.8 61.7h1.1M481.1 63.6h1.1M479 57.2h1.1M457.6 44.9h1.1M460.1 45.3h1.1M469.1 53.8h1.1M482.7 60.6h1.1M461.2 49.1h1.1M462.7 47h1.1M461.7 50.4h1.1M453.2 42.8h1.1M473.2 54h1.1M474 55.6h1.1M483.2 63.3h1.1M484.2 67.7h1.1M481 62h1.1M456.2 43.3h1.1M473.6 55.2h1.1M485.4 66.6h1.1M455.2 46.6h1.1M462.6 50.2h1.1M456.9 47.3h1.1M474.7 59.5h1.1M484.8 68h1.1M483.9 63.5h1.1M457.8 43h1.1M474.4 56.3h1.1M480.1 61h1.1M468.6 50.6h1.1M477.2 56.5h1.1M480.4 58.9h1.1M486.8 64.9h1.1M466.4 49.2h1.1M468.2 52.1h1.1M461.2 47.8h1.1M479.1 59.5h1.1M484.9 66.2h1.1M480.5 64.8h1.1M467.5 54.9h1.1M477.5 59.4h1.1M473.1 53.3h1.1M481.3 66.1h1.1M475.7 58h1.1M465.2 50.9h1.1M483.3 67.7h1.1M485.2 64.5h1.1M469.9 54.5h1.1M477.1 56.5h1.1M454.8 42.3h1.1M485.2 63.4h1.1M466 54.6h1.1M478.6 57.3h1.1M484.3 62h1.1M480.6 63.2h1.1M461.7 48.7h1.1M481.3 61.8h1.1M461.3 45.8h1.1M468.5 55.4h1.1M481.5 60.7h1.1M486.2 64.6h1.1" stroke="#2f6cb0" stroke-width="1.1" opacity="1.0" fill="none"/>
<polygon points="467,77.7 473.8,82.2 480.9,86.2 489.4,88.9 490.6,86.1 483.1,81.8 476.2,77.8 469,74.3" fill="#2f6cb0" opacity="0.3"/>
<path d="M472.4 79h1.1M480.4 80.8h1.1M479.9 81.5h1.1M480 82.7h1.1M481.3 82.6h1.1M481.8 82.4h1.1M475 77.3h1.1M480.2 84.7h1.1M470.4 77.2h1.1M489.4 85.9h1.1M483.1 82.6h1.1M474.4 79.3h1.1M474.4 81.8h1.1M476.2 83.5h1.1M483.7 84h1.1M471.3 76.1h1.1M474.1 77.2h1.1M478.3 80.5h1.1M490.4 86.3h1.1M470.9 76h1.1M480.6 86h1.1M477.1 83.8h1.1M469 76.8h1.1M475.5 80h1.1M485.2 84.2h1.1M481.8 81.4h1.1M479.6 82.3h1.1M475.3 82.5h1.1M473.5 77.8h1.1M472.2 79.3h1.1M476.8 82.8h1.1M489 86.2h1.1M469.4 76.9h1.1M486.4 84.6h1.1M488.1 86.9h1.1M486.4 83.7h1.1M473.7 82h1.1M478.6 81.4h1.1M473.9 80.7h1.1M483.9 85.7h1.1M474.2 77.1h1.1M475.3 78h1.1M480.1 80.8h1.1M479.4 79.9h1.1M485.7 83.5h1.1M475.1 82.7h1.1M471.9 78.1h1.1M483.1 85h1.1M486.6 84.8h1.1M470.4 78.4h1.1M469.5 74.8h1.1M489.9 87h1.1M487.9 88.3h1.1M481.2 83.3h1.1M486.1 86.5h1.1M470.2 78.4h1.1M488.4 88.3h1.1M480.2 81.3h1.1M484.3 84.5h1.1M482.3 84.9h1.1M475.7 82.5h1.1M488.1 87.1h1.1M472.1 80h1.1M481.9 82.9h1.1M473 77.4h1.1M482.3 86.4h1.1M468.1 77h1.1M476.9 78.6h1.1M485.4 84.5h1.1M477.3 81.8h1.1" stroke="#2f6cb0" stroke-width="1.1" opacity="1.0" fill="none"/>
<polygon points="485.1,69.1 493.3,75.9 502.6,81.6 503.4,80.4 494.7,74.1 486.9,66.9" fill="#2f6cb0" opacity="0.3"/>
<path d="M496.6 76.8h1.1M493.5 73.1h1.1M496.1 76.4h1.1M492.7 74.9h1.1M489.8 72.9h1.1M500.1 78.7h1.1M490.3 73.3h1.1M487.9 71h1.1M487.1 67.3h1.1M500.2 78.3h1.1M500.8 79.5h1.1M489.4 71.2h1.1M492.5 75h1.1M499.1 79.2h1.1M495.4 75.3h1.1M503.1 80.5h1.1M490.2 70.4h1.1M503 80.8h1.1M489.9 73h1.1M488 71.1h1.1M497 77.2h1.1M487.6 70.6h1.1M493.5 74.8h1.1M491.1 72.9h1.1M493.7 74.6h1.1M487.7 68.7h1.1M494.4 74.1h1.1M488.8 71.8h1.1" stroke="#2f6cb0" stroke-width="1.1" opacity="1.0" fill="none"/>
<path d="M474 67.3h1.1M466.8 63.9h1.1M476.8 68.2h1.1M471.4 64.5h1.1M472.9 64.8h1.1M466.1 70.8h1.1M468.7 61.8h1.1M469.7 66.2h1.1M466.8 64.5h1.1M467.5 64.1h1.1M471.6 65.1h1.1M465 60.5h1.1M477.6 69.8h1.1M468.4 67.5h1.1M474.2 69h1.1M468.8 64.3h1.1M472.4 67h1.1M465.2 66.5h1.1M469.8 70.9h1.1M474.9 70h1.1" stroke="#2f6cb0" stroke-width="1.1" opacity="0.9" fill="none"/>
<polygon points="470,176 474,174.9 479,175.5 481,179 480,183.5 475,184.5 471,183" fill="#9b55c0" opacity="0.45"/>
<path d="M471.3 177.2h1.1M474.5 177.6h1.1M473.3 175.4h1.1M471.8 182.7h1.1M475.8 178.9h1.1M479.3 182.7h1.1M479.4 177.3h1.1M476.4 176.2h1.1M478.6 180.5h1.1M471.1 177.7h1.1M473.6 184h1.1M472.2 175.9h1.1M479.6 178.9h1.1M479.8 183.1h1.1M472.4 175.6h1.1M477 176h1.1M471.9 177.1h1.1M480.7 178.5h1.1M477.1 177.4h1.1M479 178.7h1.1M479.2 181.3h1.1M474.9 183.1h1.1M471.2 180.1h1.1M478.4 181.4h1.1M478.9 181.1h1.1M472.6 181.7h1.1M471.8 178.1h1.1M477.2 178.6h1.1M477.9 176.1h1.1M473.1 179.9h1.1M476.5 179.8h1.1M473.8 182.4h1.1M473.2 177.6h1.1M477.7 177.3h1.1M472.5 182.3h1.1M476.7 183.9h1.1M479 178.1h1.1M474.3 183.1h1.1M474.4 181.3h1.1M478.6 177h1.1M478.7 182.4h1.1M475.1 179.8h1.1M478.9 178.2h1.1M471.6 176.3h1.1M472.6 180.9h1.1M477.9 178.2h1.1M471.8 178h1.1M474.1 178.6h1.1M478.5 182.4h1.1M477.6 178.2h1.1M472.8 178.7h1.1M473.2 176.2h1.1M479.9 179.7h1.1M478.4 177.9h1.1M478.9 175.6h1.1" stroke="#9b55c0" stroke-width="1.1" opacity="1.0" fill="none"/>
<path d="M467.6 175.8h1.1M469.2 178.9h1.1M465.8 176.6h1.1M465.6 179.8h1.1M465.5 174.4h1.1" stroke="#9b55c0" stroke-width="1.1" opacity="0.9" fill="none"/>
<path d="M456.1 182.1 L460.9 189.3" stroke="#e57cc0" stroke-width="1.4" fill="none" opacity="0.9" stroke-linecap="round" stroke-linejoin="round"/>
<path d="M445.7 185.3 L451.3 197.4" stroke="#a9535c" stroke-width="1.2" fill="none" opacity="0.9" stroke-linecap="round" stroke-linejoin="round"/>
<path d="M442.7 180.3h1.1M451.4 178.3h1.1M457.2 173.1h1.1M450.7 185.6h1.1M442.6 167.7h1.1M445.4 177.7h1.1M441.8 168.5h1.1M447.3 176.8h1.1M451.1 167.4h1.1M440.3 165.8h1.1M445.4 168.9h1.1M452 173.2h1.1M454.2 169.4h1.1M446.9 176.4h1.1M443.9 165.7h1.1M444 165.6h1.1M450.8 171.2h1.1M455 167.7h1.1M450.6 180.1h1.1M447.5 185.2h1.1M445.9 181.7h1.1M440.2 180.1h1.1M440.5 168.5h1.1M456 168.8h1.1M447.4 185.7h1.1" stroke="#3da23d" stroke-width="1.1" opacity="1.0" fill="none"/>
<path d="M492.6 31.7 L500.9 38.4" stroke="#3ec3c3" stroke-width="1.0" fill="none" opacity="0.9" stroke-linecap="round" stroke-linejoin="round"/>
<path d="M501.8 41.8 L514 42.5 L527.8 43.5" stroke="#b5bd2d" stroke-width="1.6" fill="none" opacity="0.9" stroke-linecap="round" stroke-linejoin="round" stroke-dasharray="4 2"/>
<text x="471.1" y="29.5" font-size="9.5" textLength="45.7" lengthAdjust="spacingAndGlyphs">Macrophage</text>
<text x="513.6" y="51.7" font-size="9.5" textLength="22.2" lengthAdjust="spacingAndGlyphs">T_cell</text>
<text x="452.6" y="69.8" font-size="9.5" textLength="55" lengthAdjust="spacingAndGlyphs">Spermatogonia</text>
<text x="481.1" y="110.7" font-size="9.5" textLength="41.2" lengthAdjust="spacingAndGlyphs">Sertoli_cell</text>
<text x="575.8" y="136.8" font-size="9.5" textLength="35.3" lengthAdjust="spacingAndGlyphs">Unknown</text>
<text x="507.7" y="143.2" font-size="9.5" textLength="50.1" lengthAdjust="spacingAndGlyphs">Spermatocyte</text>
<text x="575.5" y="185.7" font-size="9.5" textLength="38.8" lengthAdjust="spacingAndGlyphs">Spermatid</text>
<text x="469.6" y="171.5" font-size="9.5" textLength="41.4" lengthAdjust="spacingAndGlyphs">Leydig_cell</text>
<text x="461.5" y="195.2" font-size="9.5" textLength="19" lengthAdjust="spacingAndGlyphs">SMC</text>
<text x="433.1" y="207.1" font-size="9.5" textLength="58.3" lengthAdjust="spacingAndGlyphs">Endothelial_cell</text>
<rect x="21.6" y="22.8" width="185.2" height="203.5" fill="none" stroke="#929292" stroke-width="1.2"/>
<rect x="229.3" y="22.8" width="185" height="203.5" fill="none" stroke="#a5a5a5" stroke-width="1.2"/>
<rect x="430.7" y="22.6" width="184.9" height="203.5" fill="none" stroke="#6e6e6e" stroke-width="1.2"/>
<circle cx="621.2" cy="23.7" r="2.5" fill="#2f6cb0"/>
<text x="625.9" y="26.3" font-size="9.4" textLength="55.3" lengthAdjust="spacingAndGlyphs">Spermatogonia</text>
<circle cx="621.2" cy="35.5" r="2.5" fill="#ec7f2a"/>
<text x="625.9" y="38.1" font-size="9.4" textLength="50.2" lengthAdjust="spacingAndGlyphs">Spermatocyte</text>
<circle cx="621.2" cy="47.3" r="2.5" fill="#3da23d"/>
<text x="625.9" y="49.9" font-size="9.4" textLength="38" lengthAdjust="spacingAndGlyphs">Spermatid</text>
<circle cx="621.2" cy="59.1" r="2.5" fill="#e3262a"/>
<text x="625.9" y="61.7" font-size="9.4" textLength="41.1" lengthAdjust="spacingAndGlyphs">Sertoli_cell</text>
<circle cx="621.2" cy="70.9" r="2.5" fill="#9b55c0"/>
<text x="625.9" y="73.5" font-size="9.4" textLength="41.7" lengthAdjust="spacingAndGlyphs">Leydig_cell</text>
<circle cx="621.2" cy="82.7" r="2.5" fill="#a9535c"/>
<text x="625.9" y="85.3" font-size="9.4" textLength="59" lengthAdjust="spacingAndGlyphs">Endothelial_cell</text>
<circle cx="621.2" cy="94.5" r="2.5" fill="#e57cc0"/>
<text x="625.9" y="97.1" font-size="9.4" textLength="19.8" lengthAdjust="spacingAndGlyphs">SMC</text>
<circle cx="621.2" cy="106.3" r="2.5" fill="#b5bd2d"/>
<text x="625.9" y="108.9" font-size="9.4" textLength="22.5" lengthAdjust="spacingAndGlyphs">T_cell</text>
<circle cx="621.2" cy="118.1" r="2.5" fill="#3ec3c3"/>
<text x="625.9" y="120.7" font-size="9.4" textLength="45.7" lengthAdjust="spacingAndGlyphs">Macrophage</text>
<circle cx="621.2" cy="129.9" r="2.5" fill="#8fd6ea"/>
<text x="625.9" y="132.5" font-size="9.4" textLength="35.3" lengthAdjust="spacingAndGlyphs">Unknown</text>
<text x="1.5" y="276.4" font-size="13">B</text>
<line x1="62.2" y1="366.3" x2="64.6" y2="366.3" stroke="#444" stroke-width="0.8"/>
<text x="60.6" y="369" font-size="8" text-anchor="end">Sertoli_cell</text>
<line x1="62.2" y1="375.7" x2="64.6" y2="375.7" stroke="#444" stroke-width="0.8"/>
<text x="60.6" y="378.4" font-size="8" text-anchor="end">Spermatogonia</text>
<line x1="62.2" y1="385" x2="64.6" y2="385" stroke="#444" stroke-width="0.8"/>
<text x="60.6" y="387.7" font-size="8" text-anchor="end">Endothelial_cell</text>
<line x1="62.2" y1="394.4" x2="64.6" y2="394.4" stroke="#444" stroke-width="0.8"/>
<text x="60.6" y="397.1" font-size="8" text-anchor="end">Leydig_cell</text>
<line x1="62.2" y1="403.7" x2="64.6" y2="403.7" stroke="#444" stroke-width="0.8"/>
<text x="60.6" y="406.4" font-size="8" text-anchor="end">SMC</text>
<line x1="62.2" y1="413.1" x2="64.6" y2="413.1" stroke="#444" stroke-width="0.8"/>
<text x="60.6" y="415.8" font-size="8" text-anchor="end">T_cell</text>
<line x1="62.2" y1="422.5" x2="64.6" y2="422.5" stroke="#444" stroke-width="0.8"/>
<text x="60.6" y="425.2" font-size="8" text-anchor="end">Macrophage</text>
<line x1="62.2" y1="431.8" x2="64.6" y2="431.8" stroke="#444" stroke-width="0.8"/>
<text x="60.6" y="434.5" font-size="8" text-anchor="end">Spermatid</text>
<line x1="62.2" y1="441.2" x2="64.6" y2="441.2" stroke="#444" stroke-width="0.8"/>
<text x="60.6" y="443.9" font-size="8" text-anchor="end">Spermatocyte</text>
<line x1="62.2" y1="450.5" x2="64.6" y2="450.5" stroke="#444" stroke-width="0.8"/>
<text x="60.6" y="453.2" font-size="8" text-anchor="end">Unknown</text>
<line x1="73.1" y1="459.3" x2="73.1" y2="462" stroke="#444" stroke-width="0.8"/>
<text x="75.8" y="463.4" font-size="8" class="t" text-anchor="end" transform="rotate(-90 75.8 463.4)">Gstm7</text>
<line x1="83.8" y1="459.3" x2="83.8" y2="462" stroke="#444" stroke-width="0.8"/>
<text x="86.5" y="463.4" font-size="8" class="t" text-anchor="end" transform="rotate(-90 86.5 463.4)">Aard</text>
<line x1="94.5" y1="459.3" x2="94.5" y2="462" stroke="#444" stroke-width="0.8"/>
<text x="97.2" y="463.4" font-size="8" class="t" text-anchor="end" transform="rotate(-90 97.2 463.4)">Tsx</text>
<line x1="105.2" y1="459.3" x2="105.2" y2="462" stroke="#444" stroke-width="0.8"/>
<text x="107.9" y="463.4" font-size="8" class="t" text-anchor="end" transform="rotate(-90 107.9 463.4)">Mex3a</text>
<line x1="115.9" y1="459.3" x2="115.9" y2="462" stroke="#444" stroke-width="0.8"/>
<text x="118.6" y="463.4" font-size="8" class="t" text-anchor="end" transform="rotate(-90 118.6 463.4)">Gm340</text>
<line x1="126.7" y1="459.3" x2="126.7" y2="462" stroke="#444" stroke-width="0.8"/>
<text x="129.3" y="463.4" font-size="8" class="t" text-anchor="end" transform="rotate(-90 129.3 463.4)">Mei4</text>
<line x1="137.4" y1="459.3" x2="137.4" y2="462" stroke="#444" stroke-width="0.8"/>
<text x="140.1" y="463.4" font-size="8" class="t" text-anchor="end" transform="rotate(-90 140.1 463.4)">Sema3g</text>
<line x1="148.1" y1="459.3" x2="148.1" y2="462" stroke="#444" stroke-width="0.8"/>
<text x="150.8" y="463.4" font-size="8" class="t" text-anchor="end" transform="rotate(-90 150.8 463.4)">Syt15</text>
<line x1="158.8" y1="459.3" x2="158.8" y2="462" stroke="#444" stroke-width="0.8"/>
<text x="161.5" y="463.4" font-size="8" class="t" text-anchor="end" transform="rotate(-90 161.5 463.4)">Ces2e</text>
<line x1="169.5" y1="459.3" x2="169.5" y2="462" stroke="#444" stroke-width="0.8"/>
<text x="172.2" y="463.4" font-size="8" class="t" text-anchor="end" transform="rotate(-90 172.2 463.4)">Prlr</text>
<line x1="180.2" y1="459.3" x2="180.2" y2="462" stroke="#444" stroke-width="0.8"/>
<text x="182.9" y="463.4" font-size="8" class="t" text-anchor="end" transform="rotate(-90 182.9 463.4)">Pdgfra</text>
<line x1="190.9" y1="459.3" x2="190.9" y2="462" stroke="#444" stroke-width="0.8"/>
<text x="193.6" y="463.4" font-size="8" class="t" text-anchor="end" transform="rotate(-90 193.6 463.4)">Adamts5</text>
<line x1="201.6" y1="459.3" x2="201.6" y2="462" stroke="#444" stroke-width="0.8"/>
<text x="204.3" y="463.4" font-size="8" class="t" text-anchor="end" transform="rotate(-90 204.3 463.4)">Kcnmb1</text>
<line x1="212.3" y1="459.3" x2="212.3" y2="462" stroke="#444" stroke-width="0.8"/>
<text x="215" y="463.4" font-size="8" class="t" text-anchor="end" transform="rotate(-90 215 463.4)">Olfr558</text>
<line x1="223" y1="459.3" x2="223" y2="462" stroke="#444" stroke-width="0.8"/>
<text x="225.7" y="463.4" font-size="8" class="t" text-anchor="end" transform="rotate(-90 225.7 463.4)">Olfr78</text>
<line x1="233.8" y1="459.3" x2="233.8" y2="462" stroke="#444" stroke-width="0.8"/>
<text x="236.4" y="463.4" font-size="8" class="t" text-anchor="end" transform="rotate(-90 236.4 463.4)">Tcrg-C1</text>
<line x1="244.5" y1="459.3" x2="244.5" y2="462" stroke="#444" stroke-width="0.8"/>
<text x="247.2" y="463.4" font-size="8" class="t" text-anchor="end" transform="rotate(-90 247.2 463.4)">Cd226</text>
<line x1="255.2" y1="459.3" x2="255.2" y2="462" stroke="#444" stroke-width="0.8"/>
<text x="257.9" y="463.4" font-size="8" class="t" text-anchor="end" transform="rotate(-90 257.9 463.4)">Gzmb</text>
<line x1="265.9" y1="459.3" x2="265.9" y2="462" stroke="#444" stroke-width="0.8"/>
<text x="268.6" y="463.4" font-size="8" class="t" text-anchor="end" transform="rotate(-90 268.6 463.4)">Nlrp3</text>
<line x1="276.6" y1="459.3" x2="276.6" y2="462" stroke="#444" stroke-width="0.8"/>
<text x="279.3" y="463.4" font-size="8" class="t" text-anchor="end" transform="rotate(-90 279.3 463.4)">Lilrb4a</text>
<line x1="287.3" y1="459.3" x2="287.3" y2="462" stroke="#444" stroke-width="0.8"/>
<text x="290" y="463.4" font-size="8" class="t" text-anchor="end" transform="rotate(-90 290 463.4)">C5ar1</text>
<line x1="298" y1="459.3" x2="298" y2="462" stroke="#444" stroke-width="0.8"/>
<text x="300.7" y="463.4" font-size="8" class="t" text-anchor="end" transform="rotate(-90 300.7 463.4)">Prm1</text>
<line x1="308.7" y1="459.3" x2="308.7" y2="462" stroke="#444" stroke-width="0.8"/>
<text x="311.4" y="463.4" font-size="8" class="t" text-anchor="end" transform="rotate(-90 311.4 463.4)">Tnp2</text>
<line x1="319.4" y1="459.3" x2="319.4" y2="462" stroke="#444" stroke-width="0.8"/>
<text x="322.1" y="463.4" font-size="8" class="t" text-anchor="end" transform="rotate(-90 322.1 463.4)">Tnp1</text>
<line x1="330.1" y1="459.3" x2="330.1" y2="462" stroke="#444" stroke-width="0.8"/>
<text x="332.8" y="463.4" font-size="8" class="t" text-anchor="end" transform="rotate(-90 332.8 463.4)">Gm48051</text>
<line x1="340.9" y1="459.3" x2="340.9" y2="462" stroke="#444" stroke-width="0.8"/>
<text x="343.6" y="463.4" font-size="8" class="t" text-anchor="end" transform="rotate(-90 343.6 463.4)">AC125141.1</text>
<line x1="351.6" y1="459.3" x2="351.6" y2="462" stroke="#444" stroke-width="0.8"/>
<text x="354.3" y="463.4" font-size="8" class="t" text-anchor="end" transform="rotate(-90 354.3 463.4)">Gm47875</text>
<line x1="362.3" y1="459.3" x2="362.3" y2="462" stroke="#444" stroke-width="0.8"/>
<text x="365" y="463.4" font-size="8" class="t" text-anchor="end" transform="rotate(-90 365 463.4)">BC049352</text>
<line x1="373" y1="459.3" x2="373" y2="462" stroke="#444" stroke-width="0.8"/>
<text x="375.7" y="463.4" font-size="8" class="t" text-anchor="end" transform="rotate(-90 375.7 463.4)">Znrd1as</text>
<line x1="383.7" y1="459.3" x2="383.7" y2="462" stroke="#444" stroke-width="0.8"/>
<text x="386.4" y="463.4" font-size="8" class="t" text-anchor="end" transform="rotate(-90 386.4 463.4)">Pin1rt1</text>
<circle cx="105.2" cy="366.3" r="0.55" fill="#aaa"/>
<circle cx="126.7" cy="366.3" r="0.55" fill="#aaa"/>
<circle cx="169.5" cy="366.3" r="0.55" fill="#aaa"/>
<circle cx="190.9" cy="366.3" r="0.55" fill="#aaa"/>
<circle cx="201.6" cy="366.3" r="0.55" fill="#aaa"/>
<circle cx="287.3" cy="366.3" r="0.55" fill="#aaa"/>
<circle cx="330.1" cy="366.3" r="0.55" fill="#aaa"/>
<circle cx="340.9" cy="366.3" r="0.55" fill="#aaa"/>
<circle cx="351.6" cy="366.3" r="0.55" fill="#aaa"/>
<circle cx="362.3" cy="366.3" r="0.55" fill="#aaa"/>
<circle cx="383.7" cy="366.3" r="0.9" fill="#bbb" stroke="#777" stroke-width="0.3"/>
<circle cx="73.1" cy="375.7" r="0.55" fill="#aaa"/>
<circle cx="83.8" cy="375.7" r="0.9" fill="#bbb" stroke="#777" stroke-width="0.3"/>
<circle cx="94.5" cy="375.7" r="0.55" fill="#aaa"/>
<circle cx="115.9" cy="375.7" r="0.9" fill="#bbb" stroke="#777" stroke-width="0.3"/>
<circle cx="126.7" cy="375.7" r="0.9" fill="#bbb" stroke="#777" stroke-width="0.3"/>
<circle cx="137.4" cy="375.7" r="0.55" fill="#aaa"/>
<circle cx="148.1" cy="375.7" r="0.55" fill="#aaa"/>
<circle cx="158.8" cy="375.7" r="0.55" fill="#aaa"/>
<circle cx="330.1" cy="375.7" r="0.55" fill="#aaa"/>
<circle cx="340.9" cy="375.7" r="0.55" fill="#aaa"/>
<circle cx="351.6" cy="375.7" r="0.55" fill="#aaa"/>
<circle cx="362.3" cy="375.7" r="0.55" fill="#aaa"/>
<circle cx="383.7" cy="375.7" r="0.9" fill="#bbb" stroke="#777" stroke-width="0.3"/>
<circle cx="73.1" cy="385" r="0.9" fill="#bbb" stroke="#777" stroke-width="0.3"/>
<circle cx="83.8" cy="385" r="0.9" fill="#bbb" stroke="#777" stroke-width="0.3"/>
<circle cx="94.5" cy="385" r="0.55" fill="#aaa"/>
<circle cx="287.3" cy="385" r="0.55" fill="#aaa"/>
<circle cx="330.1" cy="385" r="0.55" fill="#aaa"/>
<circle cx="362.3" cy="385" r="0.55" fill="#aaa"/>
<circle cx="383.7" cy="385" r="0.9" fill="#bbb" stroke="#777" stroke-width="0.3"/>
<circle cx="73.1" cy="394.4" r="0.55" fill="#aaa"/>
<circle cx="94.5" cy="394.4" r="0.55" fill="#aaa"/>
<circle cx="115.9" cy="394.4" r="0.55" fill="#aaa"/>
<circle cx="126.7" cy="394.4" r="0.55" fill="#aaa"/>
<circle cx="201.6" cy="394.4" r="0.55" fill="#aaa"/>
<circle cx="330.1" cy="394.4" r="0.55" fill="#aaa"/>
<circle cx="340.9" cy="394.4" r="0.55" fill="#aaa"/>
<circle cx="351.6" cy="394.4" r="0.55" fill="#aaa"/>
<circle cx="362.3" cy="394.4" r="0.55" fill="#aaa"/>
<circle cx="383.7" cy="394.4" r="0.9" fill="#bbb" stroke="#777" stroke-width="0.3"/>
<circle cx="83.8" cy="403.7" r="0.9" fill="#bbb" stroke="#777" stroke-width="0.3"/>
<circle cx="105.2" cy="403.7" r="0.55" fill="#aaa"/>
<circle cx="223" cy="403.7" r="0.9" fill="#bbb" stroke="#777" stroke-width="0.3"/>
<circle cx="276.6" cy="403.7" r="0.55" fill="#aaa"/>
<circle cx="330.1" cy="403.7" r="0.55" fill="#aaa"/>
<circle cx="340.9" cy="403.7" r="0.55" fill="#aaa"/>
<circle cx="351.6" cy="403.7" r="0.55" fill="#aaa"/>
<circle cx="362.3" cy="403.7" r="0.55" fill="#aaa"/>
<circle cx="383.7" cy="403.7" r="0.55" fill="#aaa"/>
<circle cx="73.1" cy="413.1" r="0.55" fill="#aaa"/>
<circle cx="83.8" cy="413.1" r="0.9" fill="#bbb" stroke="#777" stroke-width="0.3"/>
<circle cx="94.5" cy="413.1" r="0.55" fill="#aaa"/>
<circle cx="105.2" cy="413.1" r="0.55" fill="#aaa"/>
<circle cx="115.9" cy="413.1" r="0.55" fill="#aaa"/>
<circle cx="169.5" cy="413.1" r="0.55" fill="#aaa"/>
<circle cx="180.2" cy="413.1" r="0.55" fill="#aaa"/>
<circle cx="276.6" cy="413.1" r="0.55" fill="#aaa"/>
<circle cx="330.1" cy="413.1" r="0.55" fill="#aaa"/>
<circle cx="340.9" cy="413.1" r="0.55" fill="#aaa"/>
<circle cx="351.6" cy="413.1" r="0.55" fill="#aaa"/>
<circle cx="362.3" cy="413.1" r="0.55" fill="#aaa"/>
<circle cx="383.7" cy="413.1" r="0.55" fill="#aaa"/>
<circle cx="73.1" cy="422.5" r="0.55" fill="#aaa"/>
<circle cx="83.8" cy="422.5" r="0.55" fill="#aaa"/>
<circle cx="94.5" cy="422.5" r="0.55" fill="#aaa"/>
<circle cx="115.9" cy="422.5" r="0.55" fill="#aaa"/>
<circle cx="169.5" cy="422.5" r="0.55" fill="#aaa"/>
<circle cx="330.1" cy="422.5" r="0.55" fill="#aaa"/>
<circle cx="340.9" cy="422.5" r="0.55" fill="#aaa"/>
<circle cx="362.3" cy="422.5" r="0.55" fill="#aaa"/>
<circle cx="383.7" cy="422.5" r="0.55" fill="#aaa"/>
<circle cx="73.1" cy="431.8" r="0.55" fill="#aaa"/>
<circle cx="83.8" cy="431.8" r="0.9" fill="#bbb" stroke="#777" stroke-width="0.3"/>
<circle cx="94.5" cy="431.8" r="0.55" fill="#aaa"/>
<circle cx="105.2" cy="431.8" r="0.55" fill="#aaa"/>
<circle cx="115.9" cy="431.8" r="0.55" fill="#aaa"/>
<circle cx="287.3" cy="431.8" r="0.55" fill="#aaa"/>
<circle cx="330.1" cy="431.8" r="0.55" fill="#aaa"/>
<circle cx="340.9" cy="431.8" r="0.55" fill="#aaa"/>
<circle cx="351.6" cy="431.8" r="0.55" fill="#aaa"/>
<circle cx="362.3" cy="431.8" r="0.55" fill="#aaa"/>
<circle cx="383.7" cy="431.8" r="0.55" fill="#aaa"/>
<circle cx="73.1" cy="441.2" r="0.55" fill="#aaa"/>
<circle cx="83.8" cy="441.2" r="0.9" fill="#bbb" stroke="#777" stroke-width="0.3"/>
<circle cx="94.5" cy="441.2" r="0.55" fill="#aaa"/>
<circle cx="105.2" cy="441.2" r="0.55" fill="#aaa"/>
<circle cx="115.9" cy="441.2" r="0.55" fill="#aaa"/>
<circle cx="126.7" cy="441.2" r="0.55" fill="#aaa"/>
<circle cx="137.4" cy="441.2" r="0.55" fill="#aaa"/>
<circle cx="148.1" cy="441.2" r="0.55" fill="#aaa"/>
<circle cx="158.8" cy="441.2" r="0.55" fill="#aaa"/>
<circle cx="169.5" cy="441.2" r="0.55" fill="#aaa"/>
<circle cx="180.2" cy="441.2" r="0.55" fill="#aaa"/>
<circle cx="340.9" cy="441.2" r="0.9" fill="#bbb" stroke="#777" stroke-width="0.3"/>
<circle cx="351.6" cy="441.2" r="0.55" fill="#aaa"/>
<circle cx="362.3" cy="441.2" r="0.9" fill="#bbb" stroke="#777" stroke-width="0.3"/>
<circle cx="383.7" cy="441.2" r="0.9" fill="#bbb" stroke="#777" stroke-width="0.3"/>
<circle cx="73.1" cy="450.5" r="0.55" fill="#aaa"/>
<circle cx="83.8" cy="450.5" r="0.9" fill="#bbb" stroke="#777" stroke-width="0.3"/>
<circle cx="94.5" cy="450.5" r="0.55" fill="#aaa"/>
<circle cx="105.2" cy="450.5" r="0.55" fill="#aaa"/>
<circle cx="115.9" cy="450.5" r="0.55" fill="#aaa"/>
<circle cx="126.7" cy="450.5" r="0.55" fill="#aaa"/>
<circle cx="137.4" cy="450.5" r="0.55" fill="#aaa"/>
<circle cx="148.1" cy="450.5" r="0.55" fill="#aaa"/>
<circle cx="158.8" cy="450.5" r="0.55" fill="#aaa"/>
<circle cx="169.5" cy="450.5" r="0.55" fill="#aaa"/>
<circle cx="180.2" cy="450.5" r="0.55" fill="#aaa"/>
<circle cx="287.3" cy="450.5" r="0.55" fill="#aaa"/>
<circle cx="298" cy="450.5" r="0.55" fill="#aaa"/>
<circle cx="308.7" cy="450.5" r="0.55" fill="#aaa"/>
<circle cx="319.4" cy="450.5" r="0.55" fill="#aaa"/>
<circle cx="330.1" cy="450.5" r="0.55" fill="#aaa"/>
<circle cx="340.9" cy="450.5" r="0.55" fill="#aaa"/>
<circle cx="351.6" cy="450.5" r="0.55" fill="#aaa"/>
<circle cx="362.3" cy="450.5" r="0.55" fill="#aaa"/>
<circle cx="383.7" cy="450.5" r="0.55" fill="#aaa"/>
<circle cx="73.1" cy="366.3" r="2.8" fill="#e9957b" stroke="#555" stroke-width="0.35"/>
<circle cx="83.8" cy="366.3" r="3.6" fill="#a81f27" stroke="#555" stroke-width="0.35"/>
<circle cx="94.5" cy="366.3" r="3.1" fill="#e3553c" stroke="#555" stroke-width="0.35"/>
<circle cx="298" cy="366.3" r="2.1" fill="#e8846b" stroke="#555" stroke-width="0.35"/>
<circle cx="308.7" cy="366.3" r="2.1" fill="#eca283" stroke="#555" stroke-width="0.35"/>
<circle cx="319.4" cy="366.3" r="2.1" fill="#eca283" stroke="#555" stroke-width="0.35"/>
<circle cx="373" cy="366.3" r="3.6" fill="#bf2629" stroke="#555" stroke-width="0.35"/>
<circle cx="105.2" cy="375.7" r="1.8" fill="#fce6d8" stroke="#555" stroke-width="0.35"/>
<circle cx="298" cy="375.7" r="1.8" fill="#f3c0a6" stroke="#555" stroke-width="0.35"/>
<circle cx="308.7" cy="375.7" r="1.8" fill="#f3c0a6" stroke="#555" stroke-width="0.35"/>
<circle cx="319.4" cy="375.7" r="1.8" fill="#f3c0a6" stroke="#555" stroke-width="0.35"/>
<circle cx="373" cy="375.7" r="3.6" fill="#e65644" stroke="#555" stroke-width="0.35"/>
<circle cx="137.4" cy="385" r="1.9" fill="#fcdfcc" stroke="#555" stroke-width="0.35"/>
<circle cx="148.1" cy="385" r="1.9" fill="#fcdfcc" stroke="#555" stroke-width="0.35"/>
<circle cx="158.8" cy="385" r="1.9" fill="#fbd8c4" stroke="#555" stroke-width="0.35"/>
<circle cx="298" cy="385" r="2.2" fill="#eea887" stroke="#555" stroke-width="0.35"/>
<circle cx="308.7" cy="385" r="2.2" fill="#eea887" stroke="#555" stroke-width="0.35"/>
<circle cx="319.4" cy="385" r="2.2" fill="#eea887" stroke="#555" stroke-width="0.35"/>
<circle cx="373" cy="385" r="3.5" fill="#ea7258" stroke="#555" stroke-width="0.35"/>
<circle cx="83.8" cy="394.4" r="1.9" fill="#fce3d4" stroke="#555" stroke-width="0.35"/>
<circle cx="169.5" cy="394.4" r="2.7" fill="#f1ac92" stroke="#555" stroke-width="0.35"/>
<circle cx="180.2" cy="394.4" r="3.0" fill="#e97a60" stroke="#555" stroke-width="0.35"/>
<circle cx="190.9" cy="394.4" r="3.4" fill="#d32e25" stroke="#555" stroke-width="0.35"/>
<circle cx="298" cy="394.4" r="2.2" fill="#eea887" stroke="#555" stroke-width="0.35"/>
<circle cx="308.7" cy="394.4" r="2.2" fill="#eea887" stroke="#555" stroke-width="0.35"/>
<circle cx="319.4" cy="394.4" r="2.2" fill="#eea887" stroke="#555" stroke-width="0.35"/>
<circle cx="373" cy="394.4" r="3.5" fill="#e96c52" stroke="#555" stroke-width="0.35"/>
<circle cx="190.9" cy="403.7" r="1.4" fill="#fce8dc" stroke="#555" stroke-width="0.35"/>
<circle cx="201.6" cy="403.7" r="1.4" fill="#fce8dc" stroke="#555" stroke-width="0.35"/>
<circle cx="212.3" cy="403.7" r="2.0" fill="#f8d2bc" stroke="#555" stroke-width="0.35"/>
<circle cx="298" cy="403.7" r="1.5" fill="#f9e2d4" stroke="#555" stroke-width="0.35"/>
<circle cx="308.7" cy="403.7" r="1.5" fill="#f9e2d4" stroke="#555" stroke-width="0.35"/>
<circle cx="319.4" cy="403.7" r="1.5" fill="#f9e2d4" stroke="#555" stroke-width="0.35"/>
<circle cx="373" cy="403.7" r="3.6" fill="#cb2a25" stroke="#555" stroke-width="0.35"/>
<circle cx="233.8" cy="413.1" r="1.2" fill="#fbe8de" stroke="#555" stroke-width="0.35"/>
<circle cx="244.5" cy="413.1" r="1.3" fill="#fbe6da" stroke="#555" stroke-width="0.35"/>
<circle cx="255.2" cy="413.1" r="1.3" fill="#fbe6da" stroke="#555" stroke-width="0.35"/>
<circle cx="298" cy="413.1" r="2.0" fill="#efa586" stroke="#555" stroke-width="0.35"/>
<circle cx="308.7" cy="413.1" r="2.0" fill="#efa586" stroke="#555" stroke-width="0.35"/>
<circle cx="319.4" cy="413.1" r="2.0" fill="#efa586" stroke="#555" stroke-width="0.35"/>
<circle cx="373" cy="413.1" r="3.4" fill="#e0402f" stroke="#555" stroke-width="0.35"/>
<circle cx="265.9" cy="422.5" r="2.5" fill="#f0ab90" stroke="#555" stroke-width="0.35"/>
<circle cx="276.6" cy="422.5" r="2.1" fill="#f6c8b0" stroke="#555" stroke-width="0.35"/>
<circle cx="287.3" cy="422.5" r="1.5" fill="#fbe3d5" stroke="#555" stroke-width="0.35"/>
<circle cx="298" cy="422.5" r="1.8" fill="#f6cbb3" stroke="#555" stroke-width="0.35"/>
<circle cx="308.7" cy="422.5" r="1.8" fill="#f6cbb3" stroke="#555" stroke-width="0.35"/>
<circle cx="319.4" cy="422.5" r="1.8" fill="#f6cbb3" stroke="#555" stroke-width="0.35"/>
<circle cx="373" cy="422.5" r="3.5" fill="#e03c30" stroke="#555" stroke-width="0.35"/>
<circle cx="298" cy="431.8" r="3.6" fill="#b42429" stroke="#555" stroke-width="0.35"/>
<circle cx="308.7" cy="431.8" r="3.4" fill="#d42c26" stroke="#555" stroke-width="0.35"/>
<circle cx="319.4" cy="431.8" r="3.4" fill="#d02b26" stroke="#555" stroke-width="0.35"/>
<circle cx="373" cy="431.8" r="3.3" fill="#e54f3b" stroke="#555" stroke-width="0.35"/>
<circle cx="298" cy="441.2" r="1.8" fill="#f4bda2" stroke="#555" stroke-width="0.35"/>
<circle cx="308.7" cy="441.2" r="1.8" fill="#f4bda2" stroke="#555" stroke-width="0.35"/>
<circle cx="319.4" cy="441.2" r="1.8" fill="#f4bda2" stroke="#555" stroke-width="0.35"/>
<circle cx="330.1" cy="441.2" r="2.0" fill="#f0a283" stroke="#555" stroke-width="0.35"/>
<circle cx="373" cy="441.2" r="3.6" fill="#a5222a" stroke="#555" stroke-width="0.35"/>
<circle cx="373" cy="450.5" r="3.6" fill="#6b0f15" stroke="#555" stroke-width="0.35"/>
<rect x="64.6" y="357.2" width="327.7" height="102.1" fill="none" stroke="#666" stroke-width="1"/>
<path d="M69.4 357V354H96.8V357" fill="none" stroke="#666" stroke-width="0.9"/>
<text x="86.1" y="347.6" font-size="10" textLength="48" lengthAdjust="spacingAndGlyphs" transform="rotate(-90 86.1 347.6)">Sertoli_cell</text>
<path d="M101.5 357V354H129V357" fill="none" stroke="#666" stroke-width="0.9"/>
<text x="118.2" y="347.6" font-size="10" textLength="64.3" lengthAdjust="spacingAndGlyphs" transform="rotate(-90 118.2 347.6)">Spermatogonia</text>
<path d="M133.7 357V354H161.1V357" fill="none" stroke="#666" stroke-width="0.9"/>
<text x="150.4" y="347.6" font-size="10" textLength="68.7" lengthAdjust="spacingAndGlyphs" transform="rotate(-90 150.4 347.6)">Endothelial_cell</text>
<path d="M165.8 357V354H193.2V357" fill="none" stroke="#666" stroke-width="0.9"/>
<text x="182.5" y="347.6" font-size="10" textLength="47.7" lengthAdjust="spacingAndGlyphs" transform="rotate(-90 182.5 347.6)">Leydig_cell</text>
<path d="M197.9 357V354H225.3V357" fill="none" stroke="#666" stroke-width="0.9"/>
<text x="214.6" y="347.6" font-size="10" textLength="19.6" lengthAdjust="spacingAndGlyphs" transform="rotate(-90 214.6 347.6)">SMC</text>
<path d="M230.1 357V354H257.5V357" fill="none" stroke="#666" stroke-width="0.9"/>
<text x="246.8" y="347.6" font-size="10" textLength="24.9" lengthAdjust="spacingAndGlyphs" transform="rotate(-90 246.8 347.6)">T_cell</text>
<path d="M262.2 357V354H289.6V357" fill="none" stroke="#666" stroke-width="0.9"/>
<text x="278.9" y="347.6" font-size="10" textLength="52.9" lengthAdjust="spacingAndGlyphs" transform="rotate(-90 278.9 347.6)">Macrophage</text>
<path d="M294.3 357V354H321.7V357" fill="none" stroke="#666" stroke-width="0.9"/>
<text x="311" y="347.6" font-size="10" textLength="42.1" lengthAdjust="spacingAndGlyphs" transform="rotate(-90 311 347.6)">spermatid</text>
<path d="M326.4 357V354H353.9V357" fill="none" stroke="#666" stroke-width="0.9"/>
<text x="343.2" y="347.6" font-size="10" textLength="56.4" lengthAdjust="spacingAndGlyphs" transform="rotate(-90 343.2 347.6)">spermatocyte</text>
<path d="M358.6 357V354H386V357" fill="none" stroke="#666" stroke-width="0.9"/>
<text x="375.3" y="347.6" font-size="10" textLength="40.7" lengthAdjust="spacingAndGlyphs" transform="rotate(-90 375.3 347.6)">Unknown</text>
<path d="M392.3 366.3H407.1M392.3 375.7H405.2M392.3 385H400.4M392.3 394.4H400.4M400.4 385V394.4M392.3 403.7H399.5M392.3 413.1H400.7M392.3 422.5H400.7M400.7 413.1V422.5M400.7 417.8H404.6M404.6 399.7V417.8M399.5 403.7V397.7M400.4 389.7H403.2M403.2 389.7V399.7M403.2 399.7H404.6M399.5 397.7H403.2M405.2 375.7V405M404 392.5H405.2M405.2 390.3H407.1M407.1 366.3V390.3M407.1 378.2H414.6M392.3 431.8H412.2M392.3 441.2H399.7M392.3 450.5H399.7M399.7 441.2V450.5M399.7 445.9H412.2M412.2 431.8V445.9M412.2 438.8H414.6M414.6 378.2V438.8" stroke="#888" stroke-width="0.9" fill="none"/>
<text x="34.2" y="504.5" font-size="9" text-anchor="middle" textLength="53" lengthAdjust="spacingAndGlyphs">Fraction of cells</text>
<text x="34.4" y="512.7" font-size="9" text-anchor="middle" textLength="43" lengthAdjust="spacingAndGlyphs">in group (%)</text>
<circle cx="13.5" cy="521.2" r="1.5" fill="#a8a8a8" stroke="#777" stroke-width="0.4"/>
<line x1="13.5" y1="525.6" x2="13.5" y2="527.2" stroke="#444" stroke-width="0.6"/>
<circle cx="21.8" cy="521.2" r="2.1" fill="#a8a8a8" stroke="#777" stroke-width="0.4"/>
<line x1="21.8" y1="525.6" x2="21.8" y2="527.2" stroke="#444" stroke-width="0.6"/>
<circle cx="29.9" cy="521.2" r="3.0" fill="#a8a8a8" stroke="#777" stroke-width="0.4"/>
<line x1="29.9" y1="525.6" x2="29.9" y2="527.2" stroke="#444" stroke-width="0.6"/>
<circle cx="38.3" cy="521.2" r="3.5" fill="#a8a8a8" stroke="#777" stroke-width="0.4"/>
<line x1="38.3" y1="525.6" x2="38.3" y2="527.2" stroke="#444" stroke-width="0.6"/>
<circle cx="46.5" cy="521.2" r="4.0" fill="#a8a8a8" stroke="#777" stroke-width="0.4"/>
<line x1="46.5" y1="525.6" x2="46.5" y2="527.2" stroke="#444" stroke-width="0.6"/>
<text x="9.9" y="535" font-size="7.2" class="t" textLength="7.6" lengthAdjust="spacingAndGlyphs">20</text>
<text x="18.1" y="535" font-size="7.2" class="t" textLength="7.6" lengthAdjust="spacingAndGlyphs">40</text>
<text x="26.2" y="535" font-size="7.2" class="t" textLength="7.6" lengthAdjust="spacingAndGlyphs">60</text>
<text x="34.3" y="535" font-size="7.2" class="t" textLength="7.6" lengthAdjust="spacingAndGlyphs">80</text>
<text x="42.2" y="535" font-size="7.2" class="t" textLength="10.2" lengthAdjust="spacingAndGlyphs">100</text>
<text x="100" y="506.1" font-size="9" text-anchor="middle" textLength="56" lengthAdjust="spacingAndGlyphs">Mean expression</text>
<text x="99.1" y="514.1" font-size="9" text-anchor="middle" textLength="28" lengthAdjust="spacingAndGlyphs">in group</text>
<defs><linearGradient id="reds" x1="0" x2="1" y1="0" y2="0"><stop offset="0" stop-color="#fff5f0"/><stop offset="0.25" stop-color="#fcbba1"/><stop offset="0.5" stop-color="#fb6a4a"/><stop offset="0.75" stop-color="#cb181d"/><stop offset="1" stop-color="#67000d"/></linearGradient></defs>
<rect x="76.6" y="517.6" width="41.6" height="4.7" fill="url(#reds)" stroke="#333" stroke-width="0.6"/>
<line x1="110.6" y1="522.3" x2="110.6" y2="524" stroke="#333" stroke-width="0.6"/>
<text x="76.6" y="530.9" font-size="7.5">0</text>
<text x="108.9" y="530.9" font-size="7.5">2</text>
<text x="430.9" y="274.2" font-size="16">C</text>
<rect x="473.9" y="512.26" width="27.1" height="7.29" fill="#3a6ea8"/>
<rect x="473.9" y="478.59" width="27.1" height="33.72" fill="#e8792b"/>
<rect x="473.9" y="299.49" width="27.1" height="179.15" fill="#46a548"/>
<rect x="473.9" y="289.30" width="27.1" height="10.24" fill="#e8292b"/>
<rect x="473.9" y="286.75" width="27.1" height="2.60" fill="#9a58b7"/>
<rect x="473.9" y="285.85" width="27.1" height="0.95" fill="#b05560"/>
<rect x="473.9" y="285.66" width="27.1" height="0.24" fill="#e57fb7"/>
<rect x="473.9" y="284.30" width="27.1" height="1.41" fill="#b5bd2f"/>
<rect x="473.9" y="283.75" width="27.1" height="0.60" fill="#53c6bd"/>
<rect x="473.9" y="280.80" width="27.1" height="3.00" fill="#93d6ec"/>
<rect x="502.3" y="501.87" width="27" height="17.68" fill="#3a6ea8"/>
<rect x="502.3" y="396.04" width="27" height="105.88" fill="#e8792b"/>
<rect x="502.3" y="370.06" width="27" height="26.03" fill="#46a548"/>
<rect x="502.3" y="351.39" width="27" height="18.71" fill="#e8292b"/>
<rect x="502.3" y="347.99" width="27" height="3.45" fill="#9a58b7"/>
<rect x="502.3" y="346.86" width="27" height="1.18" fill="#b05560"/>
<rect x="502.3" y="345.79" width="27" height="1.11" fill="#e57fb7"/>
<rect x="502.3" y="343.42" width="27" height="2.42" fill="#b5bd2f"/>
<rect x="502.3" y="341.88" width="27" height="1.59" fill="#53c6bd"/>
<rect x="502.3" y="280.80" width="27" height="61.13" fill="#93d6ec"/>
<path d="M467.6 280.2V519.5H529.8" fill="none" stroke="#111" stroke-width="1.3"/>
<line x1="464.2" y1="519.5" x2="467.6" y2="519.5" stroke="#111" stroke-width="0.9"/>
<text x="451" y="522.2" font-size="8" textLength="10.4" lengthAdjust="spacingAndGlyphs">0.0</text>
<line x1="464.2" y1="471.8" x2="467.6" y2="471.8" stroke="#111" stroke-width="0.9"/>
<text x="451" y="474.5" font-size="8" textLength="10.4" lengthAdjust="spacingAndGlyphs">0.2</text>
<line x1="464.2" y1="424" x2="467.6" y2="424" stroke="#111" stroke-width="0.9"/>
<text x="451" y="426.7" font-size="8" textLength="10.4" lengthAdjust="spacingAndGlyphs">0.4</text>
<line x1="464.2" y1="376.3" x2="467.6" y2="376.3" stroke="#111" stroke-width="0.9"/>
<text x="451" y="379" font-size="8" textLength="10.4" lengthAdjust="spacingAndGlyphs">0.6</text>
<line x1="464.2" y1="328.5" x2="467.6" y2="328.5" stroke="#111" stroke-width="0.9"/>
<text x="451" y="331.2" font-size="8" textLength="10.4" lengthAdjust="spacingAndGlyphs">0.8</text>
<line x1="464.2" y1="280.8" x2="467.6" y2="280.8" stroke="#111" stroke-width="0.9"/>
<text x="451" y="283.5" font-size="8" textLength="10.4" lengthAdjust="spacingAndGlyphs">1.0</text>
<text x="444.6" y="428.4" font-size="10.5" textLength="69.6" lengthAdjust="spacingAndGlyphs" transform="rotate(-90 444.6 428.4)">Cell proportion</text>
<text x="479.3" y="534.8" font-size="11" textLength="17.8" lengthAdjust="spacingAndGlyphs" font-family="'Liberation Sans',Arial,sans-serif">+/+</text>
<text x="510" y="534.8" font-size="11" textLength="12" lengthAdjust="spacingAndGlyphs" font-family="'Liberation Sans',Arial,sans-serif">-/-</text>
<rect x="539.4" y="277.9" width="7.6" height="5.8" fill="#3a6ea8"/>
<text x="549.8" y="283.3" font-size="9" textLength="55.3" lengthAdjust="spacingAndGlyphs">Spermatogonia</text>
<rect x="539.4" y="288.3" width="7.6" height="5.8" fill="#e8792b"/>
<text x="549.8" y="293.7" font-size="9" textLength="50" lengthAdjust="spacingAndGlyphs">Spermatocyte</text>
<rect x="539.4" y="298.4" width="7.6" height="5.8" fill="#46a548"/>
<text x="549.8" y="303.8" font-size="9" textLength="38.2" lengthAdjust="spacingAndGlyphs">Spermatid</text>
<rect x="539.4" y="309.2" width="7.6" height="5.8" fill="#e8292b"/>
<text x="549.8" y="314.6" font-size="9" textLength="41.1" lengthAdjust="spacingAndGlyphs">Sertoli_cell</text>
<rect x="539.4" y="319.3" width="7.6" height="5.8" fill="#9a58b7"/>
<text x="549.8" y="324.7" font-size="9" textLength="41.7" lengthAdjust="spacingAndGlyphs">Leydig_cell</text>
<polygon points="616.3,276.2 624.7,276.2 622.8,281.6 615,281.6" fill="#b05560"/>
<text x="625.8" y="281.3" font-size="9" textLength="58.3" lengthAdjust="spacingAndGlyphs">Endothelial_cell</text>
<rect x="615" y="287.3" width="7.8" height="5.6" fill="#e57fb7"/>
<text x="625.8" y="292.5" font-size="9" textLength="18.9" lengthAdjust="spacingAndGlyphs">SMC</text>
<rect x="615" y="297.2" width="7.8" height="5.6" fill="#b5bd2f"/>
<text x="625.8" y="302.4" font-size="9" textLength="22.1" lengthAdjust="spacingAndGlyphs">T_cell</text>
<rect x="615" y="308" width="7.8" height="5.6" fill="#53c6bd"/>
<text x="625.8" y="313.2" font-size="9" textLength="45.5" lengthAdjust="spacingAndGlyphs">Macrophage</text>
<rect x="615" y="318.3" width="7.8" height="5.6" fill="#93d6ec"/>
<text x="625.8" y="323.5" font-size="9" textLength="35.1" lengthAdjust="spacingAndGlyphs">Unknown</text>
<rect x="541.1" y="338.3" width="143.5" height="13.6" fill="#b8e0df"/>
<line x1="601.1" y1="338.3" x2="601.1" y2="351.9" stroke="#fff" stroke-width="0.9"/>
<text x="547.9" y="346.4" font-size="9" class="t" textLength="44" lengthAdjust="spacingAndGlyphs">Cell cluster</text>
<text x="612.8" y="347.4" font-size="11.5" textLength="16.4" lengthAdjust="spacingAndGlyphs" font-family="'Liberation Sans',Arial,sans-serif">+/+</text>
<text x="637" y="346.4" font-size="8.5" class="n" textLength="7.4" lengthAdjust="spacingAndGlyphs" font-weight="normal">vs</text>
<text x="655.1" y="347.4" font-size="11.5" textLength="10.2" lengthAdjust="spacingAndGlyphs" font-family="'Liberation Sans',Arial,sans-serif">-/-</text>
<rect x="541.1" y="352.5" width="59.5" height="17.4" fill="#b9e0df"/>
<rect x="601.6" y="352.5" width="83" height="17.4" fill="#e4f1f1"/>
<text x="545.6" y="360.1" font-size="8.2" class="t" fill="#222">Spermatogonia</text>
<text x="605.6" y="360.1" font-size="8.2" class="t" textLength="27.4" lengthAdjust="spacingAndGlyphs" fill="#222">0.03032</text>
<text x="635.6" y="360.1" font-size="8" class="n" textLength="6.4" lengthAdjust="spacingAndGlyphs" font-weight="normal" fill="#333">vs</text>
<text x="644.4" y="360.1" font-size="8.2" class="t" textLength="27.4" lengthAdjust="spacingAndGlyphs" fill="#222">0.07387</text>
<rect x="541.1" y="370.7" width="59.5" height="17.2" fill="#b9e0df"/>
<rect x="601.6" y="370.7" width="83" height="17.2" fill="#f2f8f8"/>
<text x="545.6" y="378.3" font-size="8.2" class="t" fill="#222">Spermatocyte</text>
<text x="605.6" y="378.3" font-size="8.2" class="t" textLength="27.4" lengthAdjust="spacingAndGlyphs" fill="#222">0.14105</text>
<text x="635.6" y="378.3" font-size="8" class="n" textLength="6.4" lengthAdjust="spacingAndGlyphs" font-weight="normal" fill="#333">vs</text>
<text x="644.4" y="378.3" font-size="8.2" class="t" textLength="27.4" lengthAdjust="spacingAndGlyphs" fill="#222">0.44334</text>
<rect x="541.1" y="388.7" width="59.5" height="17.1" fill="#b9e0df"/>
<rect x="601.6" y="388.7" width="83" height="17.1" fill="#e4f1f1"/>
<text x="545.6" y="396.3" font-size="8.2" class="t" fill="#222">Spermatid</text>
<text x="605.6" y="396.3" font-size="8.2" class="t" textLength="27.4" lengthAdjust="spacingAndGlyphs" fill="#222">0.75032</text>
<text x="635.6" y="396.3" font-size="8" class="n" textLength="6.4" lengthAdjust="spacingAndGlyphs" font-weight="normal" fill="#333">vs</text>
<text x="644.4" y="396.3" font-size="8.2" class="t" textLength="27.4" lengthAdjust="spacingAndGlyphs" fill="#222">0.10886</text>
<rect x="541.1" y="406.6" width="59.5" height="16.5" fill="#b9e0df"/>
<rect x="601.6" y="406.6" width="83" height="16.5" fill="#f2f8f8"/>
<text x="545.6" y="414.2" font-size="8.2" class="t" fill="#222">Sertoli cell</text>
<text x="605.6" y="414.2" font-size="8.2" class="t" textLength="27.4" lengthAdjust="spacingAndGlyphs" fill="#222">0.04269</text>
<text x="635.6" y="414.2" font-size="8" class="n" textLength="6.4" lengthAdjust="spacingAndGlyphs" font-weight="normal" fill="#333">vs</text>
<text x="644.4" y="414.2" font-size="8.2" class="t" textLength="27.4" lengthAdjust="spacingAndGlyphs" fill="#222">0.07819</text>
<rect x="541.1" y="423.9" width="59.5" height="16.8" fill="#b9e0df"/>
<rect x="601.6" y="423.9" width="83" height="16.8" fill="#e4f1f1"/>
<text x="545.6" y="431.5" font-size="8.2" class="t" fill="#222">Leydig cell</text>
<text x="605.6" y="431.5" font-size="8.2" class="t" textLength="27.4" lengthAdjust="spacingAndGlyphs" fill="#222">0.01067</text>
<text x="635.6" y="431.5" font-size="8" class="n" textLength="6.4" lengthAdjust="spacingAndGlyphs" font-weight="normal" fill="#333">vs</text>
<text x="644.4" y="431.5" font-size="8.2" class="t" textLength="27.4" lengthAdjust="spacingAndGlyphs" fill="#222">0.01425</text>
<rect x="541.1" y="441.5" width="59.5" height="18.4" fill="#b9e0df"/>
<rect x="601.6" y="441.5" width="83" height="18.4" fill="#f2f8f8"/>
<text x="545.6" y="449.1" font-size="8.2" class="t" fill="#222">Endothelial</text>
<text x="545.6" y="457.8" font-size="8.2" class="t" fill="#222">cell</text>
<text x="605.6" y="449.1" font-size="8.2" class="t" textLength="27.4" lengthAdjust="spacingAndGlyphs" fill="#222">0.00379</text>
<text x="635.6" y="449.1" font-size="8" class="n" textLength="6.4" lengthAdjust="spacingAndGlyphs" font-weight="normal" fill="#333">vs</text>
<text x="644.4" y="449.1" font-size="8.2" class="t" textLength="27.4" lengthAdjust="spacingAndGlyphs" fill="#222">0.00475</text>
<rect x="541.1" y="460.7" width="59.5" height="16.3" fill="#b9e0df"/>
<rect x="601.6" y="460.7" width="83" height="16.3" fill="#e4f1f1"/>
<text x="545.6" y="468.3" font-size="8.2" class="t" fill="#222">SMC</text>
<text x="605.6" y="468.3" font-size="8.2" class="t" textLength="27.4" lengthAdjust="spacingAndGlyphs" fill="#222">0.00080</text>
<text x="635.6" y="468.3" font-size="8" class="n" textLength="6.4" lengthAdjust="spacingAndGlyphs" font-weight="normal" fill="#333">vs</text>
<text x="644.4" y="468.3" font-size="8.2" class="t" textLength="27.4" lengthAdjust="spacingAndGlyphs" fill="#222">0.00446</text>
<rect x="541.1" y="477.8" width="59.5" height="16.7" fill="#b9e0df"/>
<rect x="601.6" y="477.8" width="83" height="16.7" fill="#f2f8f8"/>
<text x="545.6" y="485.4" font-size="8.2" class="t" fill="#222">T cell</text>
<text x="605.6" y="485.4" font-size="8.2" class="t" textLength="27.4" lengthAdjust="spacingAndGlyphs" fill="#222">0.00569</text>
<text x="635.6" y="485.4" font-size="8" class="n" textLength="6.4" lengthAdjust="spacingAndGlyphs" font-weight="normal" fill="#333">vs</text>
<text x="644.4" y="485.4" font-size="8.2" class="t" textLength="27.4" lengthAdjust="spacingAndGlyphs" fill="#222">0.00994</text>
<rect x="541.1" y="495.3" width="59.5" height="17.2" fill="#b9e0df"/>
<rect x="601.6" y="495.3" width="83" height="17.2" fill="#e4f1f1"/>
<text x="545.6" y="502.9" font-size="8.2" class="t" fill="#222">Macrophage</text>
<text x="605.6" y="502.9" font-size="8.2" class="t" textLength="27.4" lengthAdjust="spacingAndGlyphs" fill="#222">0.00229</text>
<text x="635.6" y="502.9" font-size="8" class="n" textLength="6.4" lengthAdjust="spacingAndGlyphs" font-weight="normal" fill="#333">vs</text>
<text x="644.4" y="502.9" font-size="8.2" class="t" textLength="27.4" lengthAdjust="spacingAndGlyphs" fill="#222">0.00647</text>
<rect x="541.1" y="513.3" width="59.5" height="17.3" fill="#b9e0df"/>
<rect x="601.6" y="513.3" width="83" height="17.3" fill="#f2f8f8"/>
<text x="545.6" y="520.9" font-size="8.2" class="t" fill="#222">Unknown</text>
<text x="605.6" y="520.9" font-size="8.2" class="t" textLength="27.4" lengthAdjust="spacingAndGlyphs" fill="#222">0.01237</text>
<text x="635.6" y="520.9" font-size="8" class="n" textLength="6.4" lengthAdjust="spacingAndGlyphs" font-weight="normal" fill="#333">vs</text>
<text x="644.4" y="520.9" font-size="8.2" class="t" textLength="27.4" lengthAdjust="spacingAndGlyphs" fill="#222">0.25587</text>
</svg>
</body></html>
